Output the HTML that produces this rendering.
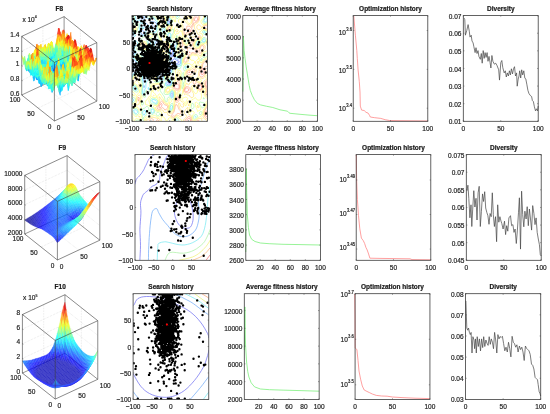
<!DOCTYPE html>
<html><head><meta charset="utf-8"><style>html,body{margin:0;padding:0;background:#fff;overflow:hidden}svg{display:block}path[class]{stroke-width:.35;stroke-linejoin:round}.j0{fill:#000087;stroke:#000087}.j1{fill:#000097;stroke:#000097}.j2{fill:#0000a7;stroke:#0000a7}.j3{fill:#0000b7;stroke:#0000b7}.j4{fill:#0000c7;stroke:#0000c7}.j5{fill:#0000d7;stroke:#0000d7}.j6{fill:#0000e7;stroke:#0000e7}.j7{fill:#0000f7;stroke:#0000f7}.j8{fill:#0008ff;stroke:#0008ff}.j9{fill:#0018ff;stroke:#0018ff}.j10{fill:#0028ff;stroke:#0028ff}.j11{fill:#0038ff;stroke:#0038ff}.j12{fill:#0048ff;stroke:#0048ff}.j13{fill:#0058ff;stroke:#0058ff}.j14{fill:#0068ff;stroke:#0068ff}.j15{fill:#0078ff;stroke:#0078ff}.j16{fill:#0087ff;stroke:#0087ff}.j17{fill:#0097ff;stroke:#0097ff}.j18{fill:#00a7ff;stroke:#00a7ff}.j19{fill:#00b7ff;stroke:#00b7ff}.j20{fill:#00c7ff;stroke:#00c7ff}.j21{fill:#00d7ff;stroke:#00d7ff}.j22{fill:#00e7ff;stroke:#00e7ff}.j23{fill:#00f7ff;stroke:#00f7ff}.j24{fill:#08fff7;stroke:#08fff7}.j25{fill:#18ffe7;stroke:#18ffe7}.j26{fill:#28ffd7;stroke:#28ffd7}.j27{fill:#38ffc7;stroke:#38ffc7}.j28{fill:#48ffb7;stroke:#48ffb7}.j29{fill:#58ffa7;stroke:#58ffa7}.j30{fill:#68ff97;stroke:#68ff97}.j31{fill:#78ff87;stroke:#78ff87}.j32{fill:#87ff78;stroke:#87ff78}.j33{fill:#97ff68;stroke:#97ff68}.j34{fill:#a7ff58;stroke:#a7ff58}.j35{fill:#b7ff48;stroke:#b7ff48}.j36{fill:#c7ff38;stroke:#c7ff38}.j37{fill:#d7ff28;stroke:#d7ff28}.j38{fill:#e7ff18;stroke:#e7ff18}.j39{fill:#f7ff08;stroke:#f7ff08}.j40{fill:#fff700;stroke:#fff700}.j41{fill:#ffe700;stroke:#ffe700}.j42{fill:#ffd700;stroke:#ffd700}.j43{fill:#ffc700;stroke:#ffc700}.j44{fill:#ffb700;stroke:#ffb700}.j45{fill:#ffa700;stroke:#ffa700}.j46{fill:#ff9700;stroke:#ff9700}.j47{fill:#ff8700;stroke:#ff8700}.j48{fill:#ff7800;stroke:#ff7800}.j49{fill:#ff6800;stroke:#ff6800}.j50{fill:#ff5800;stroke:#ff5800}.j51{fill:#ff4800;stroke:#ff4800}.j52{fill:#ff3800;stroke:#ff3800}.j53{fill:#ff2800;stroke:#ff2800}.j54{fill:#ff1800;stroke:#ff1800}.j55{fill:#ff0800;stroke:#ff0800}.j56{fill:#f70000;stroke:#f70000}.j57{fill:#e70000;stroke:#e70000}.j58{fill:#d70000;stroke:#d70000}.j59{fill:#c70000;stroke:#c70000}.j60{fill:#b70000;stroke:#b70000}.j61{fill:#a70000;stroke:#a70000}</style></head><body>
<svg width="550" height="414" viewBox="0 0 550 414" font-family="Liberation Sans, Arial, Helvetica, sans-serif" fill="#111">
<style>text{stroke:#333;stroke-width:.22px}</style>
<rect width="550" height="414" fill="#fff"/>
<clipPath id="c0"><rect x="132.00" y="15.60" width="75.40" height="105.70"/></clipPath>
<g clip-path="url(#c0)">
<path d="M169.2 21.1 168.6 21.7 169.2 22.2 169.5 21.7 169.2 21.1M171.3 49.0 171.2 49.3 170.3 50.8 170.3 52.4 170.9 53.9 171.2 55.4 171.3 56.1 172.4 56.7 172.7 55.4 172.7 53.9 172.8 52.4 172.7 50.8 172.6 49.3 172.4 48.8 171.3 49.0M132.0 54.8 133.1 53.9 133.1 53.9 133.1 52.4 133.1 52.3 132.0 51.6M173.5 59.0 172.9 60.0 172.4 60.8 172.2 61.6 172.0 63.1 172.4 64.4 172.6 64.6 173.5 65.2 174.6 65.2 175.7 64.6 175.7 64.6 176.8 63.5 177.9 63.1 178.1 63.1 179.0 62.4 179.2 61.6 179.0 61.2 177.9 60.9 176.8 60.5 176.4 60.0 175.7 59.6 174.6 58.9 173.5 59.0M169.2 68.9 168.8 69.2 168.1 70.4 168.0 70.7 168.1 71.3 168.8 72.3 169.2 72.4 169.4 72.3 170.2 71.1 170.4 70.7 170.2 70.3 169.6 69.2 169.2 68.9M169.2 81.5 168.3 83.0 169.2 83.8 170.2 83.6 170.5 83.0 170.2 82.3 169.2 81.5" fill="none" stroke="#4060ff" stroke-width="0.7" opacity="0.85"/>
<path d="M138.3 15.6 138.6 15.7 139.6 17.1 139.6 17.2 140.7 18.5 141.0 18.7 141.8 19.0 142.9 19.1 144.0 19.3 144.5 18.7 144.1 17.1 144.0 17.0 143.4 15.6M168.1 19.7 167.9 20.2 167.6 21.7 167.8 23.3 168.1 23.6 169.2 23.6 169.7 23.3 170.2 22.4 170.6 21.7 170.2 20.5 170.1 20.2 169.2 19.5 168.1 19.7M132.0 20.4 132.0 20.2 132.0 19.8M151.7 21.5 150.6 21.7 151.5 23.3 151.7 23.5 152.2 24.8 152.8 25.6 153.6 26.3 153.9 26.6 154.9 26.6 155.1 26.3 156.0 25.4 156.3 24.8 156.3 23.3 156.0 22.7 154.9 22.2 153.9 21.9 153.3 21.7 152.8 21.3 151.7 21.5M145.1 23.1 145.0 23.3 144.3 24.8 144.6 26.3 145.1 27.3 146.0 27.9 146.2 28.0 146.3 27.9 147.3 26.4 147.4 26.3 147.6 24.8 147.3 24.2 146.2 23.3 146.2 23.3 145.1 23.1M141.8 30.5 141.4 30.9 141.0 32.5 141.5 34.0 141.8 34.3 142.9 34.4 143.9 34.0 144.0 33.7 144.2 32.5 144.0 32.0 143.3 30.9 142.9 30.7 141.8 30.5M132.0 36.8 132.8 35.5 133.1 34.4 133.1 34.0 133.1 33.7 132.8 32.5 132.3 30.9 132.0 30.4M156.0 41.4 155.8 41.6 155.3 43.2 156.0 44.1 157.1 43.8 157.5 43.2 157.4 41.6 157.1 41.3 156.0 41.4M172.4 45.2 171.7 46.2 171.3 47.1 171.2 47.8 170.4 49.3 170.2 49.6 169.7 50.8 169.7 52.4 170.1 53.9 170.2 54.9 170.4 55.4 170.6 57.0 171.2 58.5 171.3 59.4 171.4 60.0 171.3 60.5 171.2 61.6 171.0 63.1 171.3 64.5 171.4 64.6 172.4 65.8 173.5 66.2 173.5 66.2 174.0 66.2 174.6 66.1 175.7 65.7 176.8 64.9 177.6 64.6 177.9 64.5 179.0 64.6 180.1 64.0 180.4 63.1 180.5 61.6 180.4 60.0 180.3 58.5 180.1 57.9 179.2 58.5 179.0 58.6 177.9 59.2 176.8 59.1 176.0 58.5 175.7 58.3 174.6 57.6 174.0 57.0 173.6 55.4 173.5 54.0 173.5 53.9 173.5 52.4 173.5 50.8 173.5 50.7 173.8 49.3 174.5 47.8 174.6 47.4 174.8 46.2 174.6 45.3 173.5 44.9 172.4 45.2M132.0 56.2 133.1 55.5 133.1 55.4 134.2 54.2 134.4 53.9 134.6 52.4 134.2 51.7 133.7 50.8 133.1 50.0 132.0 49.3M133.1 61.0 132.9 61.6 133.1 62.1 133.8 63.1 134.2 63.3 135.3 63.9 136.3 63.1 135.6 61.6 135.3 61.1 134.2 60.1 133.1 61.0M136.4 67.3 136.2 67.7 135.3 68.4 134.2 68.8 133.1 69.2 133.1 69.2 132.5 70.7 133.1 71.6 134.2 72.2 135.3 71.8 136.4 71.3 137.5 71.0 138.1 70.7 138.4 69.2 137.5 67.7 137.5 67.5 136.4 67.3M169.2 67.6 169.1 67.7 168.1 68.7 167.9 69.2 167.4 70.7 167.5 72.3 168.1 72.9 169.2 73.2 170.2 72.8 170.7 72.3 171.1 70.7 170.7 69.2 170.2 68.2 169.3 67.7 169.2 67.6M141.8 68.9 141.6 69.2 141.8 70.7 141.9 70.7 142.9 71.0 143.3 70.7 144.0 69.8 144.3 69.2 144.0 68.1 142.9 67.8 141.8 68.9M160.4 75.0 159.9 75.3 159.3 76.2 158.6 76.9 158.2 77.5 158.1 78.4 158.2 79.9 158.2 80.0 158.3 79.9 159.2 78.4 159.3 78.2 160.4 77.3 161.5 78.0 162.6 77.4 162.7 76.9 162.7 75.3 162.6 75.1 161.5 74.1 160.4 75.0M144.0 77.1 143.1 78.4 143.3 79.9 143.8 81.5 144.0 82.4 145.1 82.1 145.3 81.5 145.7 79.9 145.4 78.4 145.1 78.0 144.0 77.1M168.1 81.2 167.8 81.5 167.0 82.9 166.9 83.0 166.8 84.5 167.0 84.6 168.1 84.8 169.2 84.9 170.2 84.9 170.8 84.5 171.3 83.3 171.4 83.0 171.3 82.8 170.8 81.5 170.2 80.8 169.2 80.4 168.1 81.2M144.0 85.5 143.9 86.1 144.0 87.6 144.0 87.7 144.1 87.6 144.3 86.1 144.0 85.5M171.3 93.2 171.1 93.7 170.9 95.3 171.3 96.1 172.4 96.5 172.8 95.3 172.7 93.7 172.4 92.7 171.3 93.2M171.3 107.5 171.3 107.5 171.3 107.6 171.4 107.5 171.3 107.5" fill="none" stroke="#60a0ff" stroke-width="0.7" opacity="0.85"/>
<path d="M135.2 15.6 135.3 16.3 135.5 17.1 135.9 18.7 135.9 20.2 136.4 21.6 137.5 21.2 138.3 20.2 138.6 19.7 139.6 20.1 139.9 20.2 140.7 21.1 141.8 20.9 142.9 21.2 143.4 21.7 143.1 23.3 142.9 23.7 142.0 23.3 141.8 23.2 140.7 22.3 140.2 23.3 139.9 24.8 139.9 26.3 139.9 27.9 139.6 29.2 139.6 29.4 139.6 30.9 139.6 31.0 139.8 32.5 139.8 34.0 140.2 35.5 140.7 36.3 141.8 35.9 142.9 35.7 144.0 35.7 144.5 35.5 145.1 34.8 145.4 34.0 145.6 32.5 146.0 30.9 146.2 30.7 146.9 29.4 147.3 28.9 148.0 27.9 148.4 27.0 149.1 26.3 149.5 25.8 150.4 26.3 150.6 26.5 151.5 27.9 151.7 28.4 151.8 29.4 152.0 30.9 152.8 31.5 153.8 32.5 153.9 32.5 154.9 32.5 155.0 32.5 156.0 31.6 156.4 30.9 156.7 29.4 156.7 27.9 157.0 26.3 157.1 25.7 157.2 24.8 157.3 23.3 157.1 21.7 157.1 21.7 156.0 20.6 155.5 20.2 154.9 19.7 154.3 18.7 153.9 18.1 152.8 17.7 151.7 18.3 150.9 18.7 150.6 18.9 149.5 19.0 148.5 18.7 148.4 18.6 147.3 18.2 146.2 17.8 145.6 17.1 145.1 16.7 144.5 15.6M176.5 15.6 176.8 16.3 177.9 16.4 178.4 15.6M168.1 17.4 167.5 18.7 167.2 20.2 167.0 21.7 167.1 23.3 168.1 24.5 169.2 24.3 170.2 23.6 170.7 23.3 171.3 22.0 171.5 21.7 171.3 21.1 171.1 20.2 170.2 19.3 169.5 18.7 169.2 18.2 168.1 17.4M205.2 18.2 204.9 18.7 204.1 20.1 204.1 20.2 204.0 21.7 204.1 21.9 205.2 22.1 206.2 21.7 206.3 21.6 207.2 20.2 207.1 18.7 206.3 17.7 205.2 18.2M132.0 24.4 132.4 23.3 132.6 21.7 132.6 20.2 132.5 18.7 132.2 17.1 132.0 16.6M142.2 27.9 142.9 26.5 144.0 27.7 144.1 27.9 144.0 28.4 142.9 28.7 142.2 27.9M162.6 29.2 162.4 29.4 162.3 30.9 162.6 31.6 163.7 31.9 164.4 30.9 164.5 29.4 163.7 28.1 162.6 29.2M150.6 30.9 150.6 30.9 150.6 30.9 150.6 30.9 150.6 30.9M204.1 31.4 203.8 32.5 204.1 32.9 205.2 32.8 205.5 32.5 205.2 32.1 204.1 31.4M168.1 33.8 167.9 34.0 167.9 35.5 168.1 36.9 168.1 37.0 168.3 38.6 169.2 40.0 170.2 39.4 170.4 38.6 170.5 37.0 170.8 35.5 171.0 34.0 170.2 33.5 169.2 33.5 168.1 33.8M132.0 39.0 132.5 38.6 133.1 37.8 133.9 37.0 134.2 36.6 135.3 35.8 135.6 35.5 135.3 35.5 134.2 34.3 134.1 34.0 133.6 32.5 133.1 30.9 133.1 30.7 132.3 29.4 132.0 28.8M149.5 40.1 149.3 40.1 148.4 40.6 148.0 41.6 148.1 43.2 148.3 44.7 148.4 45.7 148.5 46.2 149.2 47.8 149.5 48.0 150.6 48.5 151.2 47.8 151.2 46.2 150.8 44.7 150.6 43.4 150.5 43.2 150.6 42.0 150.6 41.6 150.6 41.5 149.6 40.1 149.5 40.1M156.0 39.6 155.5 40.1 154.9 40.5 153.9 41.6 154.0 43.2 154.4 44.7 154.9 46.2 154.9 46.6 155.7 47.8 156.0 47.9 157.1 47.8 157.9 47.8 158.2 46.2 158.2 46.1 158.5 44.7 158.7 43.2 158.7 41.6 158.4 40.1 158.2 39.8 157.1 39.0 156.0 39.6M203.0 39.5 202.7 40.1 202.7 41.6 203.0 41.8 204.1 41.9 204.4 41.6 205.2 40.5 205.3 40.1 205.2 39.6 204.1 38.6 203.0 39.5M134.2 40.7 133.8 41.6 133.9 43.2 134.2 44.5 134.3 44.7 134.5 46.2 135.3 46.7 135.9 46.2 136.4 46.0 137.5 44.7 137.5 44.7 137.7 43.2 137.5 42.5 136.9 41.6 136.4 41.2 135.3 40.4 134.2 40.7M197.6 41.5 197.3 41.6 196.5 43.0 196.4 43.2 196.5 43.7 196.7 44.7 197.6 45.3 198.7 44.7 198.7 44.7 199.3 43.2 198.7 41.7 198.5 41.6 197.6 41.5M174.6 42.7 173.8 43.2 173.5 43.3 172.4 43.7 171.3 44.3 171.2 44.7 170.9 46.2 170.6 47.8 170.2 48.4 169.8 49.3 169.2 50.8 169.2 52.3 169.1 52.4 169.2 52.4 169.5 53.9 169.7 55.4 169.7 57.0 170.0 58.5 170.2 59.9 170.3 60.0 170.2 60.2 169.9 61.6 169.5 63.1 169.5 64.6 169.2 65.4 168.9 66.2 168.1 67.2 167.9 67.7 167.3 69.2 167.0 70.3 166.8 70.7 166.6 72.3 167.0 72.9 168.1 73.7 168.4 73.8 169.2 74.0 170.2 73.8 170.2 73.8 171.3 72.8 171.7 72.3 171.9 70.7 171.5 69.2 171.3 68.2 171.2 67.7 171.3 67.4 172.4 67.0 173.5 67.1 174.6 67.0 175.7 66.7 176.7 66.2 176.8 66.1 177.9 65.9 178.9 66.2 179.0 66.2 179.1 66.2 180.1 66.0 180.9 64.6 181.2 63.8 181.3 63.1 181.3 61.6 181.3 60.0 181.5 58.5 181.8 57.0 181.2 56.1 180.1 55.6 179.0 56.0 178.4 57.0 177.9 57.7 176.8 58.0 175.7 57.4 175.2 57.0 174.6 56.2 174.3 55.4 174.1 53.9 174.2 52.4 174.5 50.8 174.6 50.4 175.2 49.3 175.7 48.1 175.8 47.8 176.0 46.2 176.3 44.7 176.3 43.2 175.7 42.4 174.6 42.7M159.3 48.6 158.7 49.3 159.0 50.8 159.2 52.4 159.3 53.9 159.3 54.4 159.6 55.4 160.4 56.7 161.5 56.3 161.8 55.4 161.5 54.7 161.2 53.9 160.8 52.4 160.7 50.8 160.4 49.7 160.1 49.3 159.3 48.6M141.8 51.7 141.0 52.4 140.7 52.9 140.4 53.9 140.7 54.3 141.8 55.4 141.8 55.5 142.9 56.0 144.0 56.2 145.1 56.5 145.4 57.0 146.2 57.8 147.0 58.5 147.3 58.7 148.4 58.6 148.5 58.5 148.8 57.0 148.7 55.4 148.4 54.8 147.6 53.9 147.3 53.6 146.2 52.6 146.0 52.4 145.1 51.9 144.0 51.7 142.9 51.6 141.8 51.7M132.0 58.1 133.1 57.0 133.1 57.0 134.2 55.8 134.4 55.4 135.3 54.1 135.5 53.9 136.2 52.4 135.4 50.8 135.3 50.6 134.6 49.3 134.4 47.8 134.2 47.0 133.1 47.0 132.0 46.7M132.0 63.0 132.0 63.1 133.1 63.9 134.1 64.6 134.2 64.7 135.0 66.2 134.2 67.3 133.6 67.7 133.1 67.9 132.0 68.3M153.9 67.6 153.3 67.7 152.8 68.5 152.7 69.2 152.8 69.4 153.9 69.7 154.2 69.2 153.9 67.7 153.9 67.6M185.5 66.5 185.0 67.7 185.5 68.5 186.3 67.7 185.5 66.5M159.3 73.8 159.2 73.8 158.2 74.4 157.8 75.3 157.5 76.9 157.2 78.4 157.1 78.5 156.7 79.9 156.6 81.5 157.1 81.7 158.2 81.5 158.3 81.5 159.3 80.8 160.4 80.5 161.5 81.2 162.6 80.8 163.2 79.9 163.7 78.5 163.7 78.4 163.7 76.9 163.7 75.8 163.7 75.3 163.4 73.8 162.6 72.8 161.5 72.4 160.4 73.0 159.3 73.8M144.0 75.3 143.9 75.3 142.9 75.8 142.4 76.9 142.1 78.4 142.3 79.9 142.7 81.5 142.9 82.5 143.1 83.0 143.1 84.5 142.9 85.9 142.9 86.1 142.7 87.6 142.7 89.1 142.6 90.7 142.5 92.2 142.7 93.7 142.9 94.3 144.0 93.8 144.0 93.7 144.0 92.2 144.3 90.7 145.0 89.1 145.1 88.9 145.8 87.6 145.9 86.1 145.9 84.5 146.1 83.0 146.2 82.7 146.9 81.5 147.3 80.5 147.7 79.9 147.8 78.4 147.3 78.1 146.2 77.2 146.0 76.9 145.1 75.8 144.1 75.3 144.0 75.3M132.0 77.3 132.2 76.9 132.3 75.3 132.8 73.8 133.1 73.7 134.2 73.5 135.3 73.2 136.4 72.8 137.5 72.6 138.6 72.4 138.9 72.3 139.6 72.0 140.7 71.9 141.7 72.3 141.8 72.3 142.9 72.6 143.4 72.3 144.0 71.9 144.8 70.7 145.1 70.0 145.4 69.2 145.5 67.7 145.1 66.2 145.1 66.2 144.7 64.6 144.5 63.1 144.0 62.3 143.0 61.6 142.9 61.5 142.9 61.6 141.8 62.4 141.3 63.1 140.7 64.5 140.6 64.6 140.7 64.8 141.1 66.2 140.7 67.4 140.4 67.7 139.6 67.9 139.5 67.7 139.0 66.2 139.1 64.6 138.6 64.2 137.9 63.1 137.5 62.8 136.6 61.6 136.4 61.3 135.5 60.0 135.3 59.7 134.2 58.7 133.1 58.6 132.0 59.8M168.1 79.9 168.0 79.9 167.0 81.4 166.8 81.5 165.9 82.5 165.5 83.0 165.4 84.5 165.9 85.6 167.0 85.8 168.1 85.6 169.2 85.6 170.2 85.6 171.3 85.0 171.7 84.5 172.0 83.0 171.7 81.5 171.3 80.7 170.6 79.9 170.2 79.6 169.2 79.3 168.1 79.9M134.2 86.0 134.1 86.1 133.4 87.6 133.7 89.1 134.2 89.7 135.3 90.2 136.4 90.4 137.0 89.1 136.4 87.6 136.4 87.6 135.3 86.2 134.9 86.1 134.2 86.0M148.4 87.4 148.3 87.6 148.1 89.1 148.4 89.5 149.0 89.1 148.7 87.6 148.4 87.4M162.6 89.1 162.6 89.1 162.6 89.2 162.6 89.1 162.6 89.1M171.3 91.6 170.9 92.2 170.2 93.6 170.2 93.7 169.8 95.3 170.2 96.1 170.6 96.8 171.3 97.5 172.4 98.1 173.4 96.8 173.5 95.8 173.6 95.3 173.5 93.7 173.5 93.5 173.3 92.2 172.4 91.3 171.3 91.6M152.8 99.4 152.0 99.9 151.9 101.4 152.8 102.1 153.9 102.4 154.6 102.9 154.9 103.0 156.0 103.5 157.0 102.9 157.0 101.4 156.0 100.4 154.9 99.9 154.9 99.9 153.9 99.6 152.8 99.4M132.0 101.7 133.0 101.4 133.1 101.2 133.9 99.9 133.1 99.4 132.4 98.3 132.0 97.7M171.3 105.1 170.8 106.0 170.2 107.3 170.2 107.5 170.2 109.0 170.2 109.1 171.3 109.6 171.8 109.0 172.4 107.8 172.5 107.5 172.5 106.0 172.4 105.8 171.3 105.1M203.0 105.8 202.9 106.0 203.0 106.0 203.1 106.0 203.0 105.8M152.8 109.0 152.2 109.0 151.7 109.1 151.1 110.6 151.4 112.1 151.7 112.7 152.8 113.2 153.7 112.1 153.9 111.6 154.0 110.6 153.9 110.3 152.8 109.0 152.8 109.0M134.2 110.1 133.4 110.6 134.2 111.9 134.3 112.1 135.3 113.3 136.1 113.6 136.4 113.7 136.5 113.6 137.5 112.4 137.6 112.1 137.5 111.9 137.0 110.6 136.4 109.8 135.3 109.8 134.2 110.1M144.0 110.3 143.7 110.6 142.9 111.5 142.7 112.1 142.8 113.6 142.9 114.0 143.9 115.2 144.0 115.3 144.1 115.2 145.1 113.6 145.1 113.6 145.6 112.1 145.3 110.6 145.1 110.5 144.0 110.3M195.4 116.3 194.9 116.7 195.4 117.3 196.0 116.7 195.4 116.3M176.8 119.5 176.5 119.8 176.8 120.5 177.0 119.8 176.8 119.5M141.7 121.3 140.7 121.3 140.3 121.3" fill="none" stroke="#50e8ff" stroke-width="0.7" opacity="0.85"/>
<path d="M134.0 15.6 134.2 17.1 134.2 17.1 134.5 18.7 134.6 20.2 134.4 21.7 134.2 22.5 134.0 21.7 133.6 20.2 133.4 18.7 133.1 17.8 133.0 17.1 132.7 15.6M165.6 15.6 165.9 16.1 166.2 17.1 166.6 18.7 166.6 20.2 166.5 21.7 166.5 23.3 166.7 24.8 167.0 25.1 168.1 25.3 169.2 25.0 169.6 24.8 170.2 24.4 171.3 23.5 171.9 23.3 172.4 22.3 172.7 21.7 172.4 21.1 172.2 20.2 171.3 19.4 170.7 18.7 170.2 18.2 169.4 17.1 169.2 16.4 168.8 15.6M175.5 15.6 175.7 16.2 176.1 17.1 176.8 18.6 177.9 18.4 179.0 17.1 179.0 17.1 180.0 15.6M207.4 17.4 207.2 17.1 206.3 15.6 205.2 16.3 204.9 17.1 204.1 18.3 203.9 18.7 203.2 20.2 203.0 20.9 202.8 21.7 203.0 22.5 203.6 23.3 204.1 23.4 205.0 23.3 205.2 23.2 206.3 22.7 207.4 21.8M133.9 24.8 134.2 23.9 135.3 23.9 136.4 24.1 137.5 23.6 138.6 23.8 138.8 24.8 138.8 26.3 138.6 27.1 138.2 27.9 137.5 29.1 137.4 29.4 137.1 30.9 136.8 32.5 136.4 33.0 135.3 33.5 134.3 32.5 134.2 32.3 133.7 30.9 133.2 29.4 133.1 28.7 132.7 27.9 133.0 26.3 133.1 26.2 133.9 24.8M163.7 26.2 163.6 26.3 162.6 27.2 162.1 27.9 161.5 28.8 161.0 29.4 160.9 30.9 161.4 32.5 161.5 32.6 162.6 34.0 162.6 34.0 162.6 34.0 163.7 33.6 164.8 33.0 165.9 32.8 166.4 34.0 166.9 35.5 166.9 37.0 166.4 38.6 166.0 40.1 167.0 40.4 168.1 40.9 169.0 41.6 169.2 41.8 170.2 43.2 170.2 43.2 170.3 44.7 170.3 46.2 170.2 46.6 170.0 47.8 169.3 49.3 169.2 49.7 168.5 50.8 168.4 52.4 168.7 53.9 168.9 55.4 168.7 57.0 168.9 58.5 168.7 60.0 168.1 60.9 167.7 61.6 167.5 63.1 167.6 64.6 167.5 66.2 167.2 67.7 167.0 68.4 166.7 69.2 166.2 70.7 165.9 71.9 165.4 72.3 165.9 73.2 166.2 73.8 167.0 74.2 168.1 74.6 169.2 74.9 170.2 75.0 171.3 74.5 171.9 73.8 172.4 73.1 173.1 72.3 172.9 70.7 172.4 69.4 172.4 69.2 172.4 69.1 173.5 68.2 174.6 68.1 175.7 67.8 176.6 67.7 176.8 67.7 176.9 67.7 177.9 68.3 179.0 69.0 180.1 68.6 180.5 67.7 181.2 66.3 181.2 66.2 181.8 64.6 182.0 63.1 181.9 61.6 181.9 60.0 182.3 58.8 182.4 58.5 183.1 57.0 183.4 56.6 184.2 55.4 184.1 53.9 183.4 53.4 182.4 53.9 182.3 54.0 181.2 54.5 180.1 54.3 179.0 54.4 178.2 55.4 177.9 56.0 176.8 57.0 176.8 57.0 176.8 57.0 175.7 56.4 175.0 55.4 174.8 53.9 175.0 52.4 175.7 50.8 175.7 50.8 176.5 49.3 176.7 47.8 176.8 47.1 176.9 46.2 177.4 44.7 177.7 43.2 177.3 41.6 176.8 40.1 176.8 40.1 175.7 39.4 175.0 40.1 174.6 40.3 173.5 40.9 172.6 41.6 172.4 41.7 172.1 41.6 172.1 40.1 171.9 38.6 171.7 37.0 171.9 35.5 172.4 34.3 172.6 34.0 173.4 32.5 173.5 32.1 173.7 30.9 173.5 29.4 173.5 29.4 172.4 29.0 172.2 29.4 171.3 30.8 171.3 30.9 170.2 32.1 169.2 32.4 168.1 32.4 167.0 32.2 165.9 30.9 165.9 30.5 165.7 29.4 165.7 27.9 165.1 26.3 164.8 26.2 163.7 26.2M203.0 30.6 202.7 30.9 202.7 32.5 203.0 33.0 203.7 34.0 204.1 34.5 205.2 34.5 205.9 34.0 206.3 33.4 207.1 32.5 206.3 31.8 205.8 30.9 205.2 30.6 204.1 30.3 203.0 30.6M146.5 34.0 147.3 32.7 148.4 32.7 149.5 33.0 150.6 32.9 151.7 32.9 152.8 33.4 153.5 34.0 153.9 34.4 154.9 35.1 155.4 35.5 155.7 37.0 155.0 38.6 154.9 38.6 153.9 38.8 153.0 38.6 152.8 38.5 151.9 38.6 151.7 38.6 150.6 38.7 149.5 38.6 148.4 38.7 147.3 39.6 147.1 40.1 146.9 41.6 147.2 43.2 147.3 43.3 147.7 44.7 147.9 46.2 148.2 47.8 148.4 48.2 149.5 49.3 149.5 49.3 150.4 50.8 150.2 52.4 149.5 53.6 148.4 52.9 147.8 52.4 147.3 51.8 146.3 50.8 146.2 50.8 145.1 50.5 144.0 50.4 142.9 50.1 141.8 49.5 140.7 50.0 139.9 50.8 139.6 51.0 138.6 51.1 138.1 50.8 137.5 50.4 136.6 49.3 136.8 47.8 137.5 46.8 137.8 46.2 138.5 44.7 138.6 44.5 138.9 43.2 139.6 41.7 139.7 41.6 140.7 40.4 141.1 40.1 141.8 38.6 141.9 38.6 142.9 37.1 144.0 37.1 144.7 37.0 145.1 37.0 146.1 35.5 146.2 35.1 146.5 34.0M176.8 35.4 176.7 35.5 176.3 37.0 176.8 38.3 177.1 37.0 177.0 35.5 176.8 35.4M203.0 37.8 202.5 38.6 201.9 39.8 201.8 40.1 200.8 41.6 199.8 41.5 198.7 40.9 197.6 40.6 196.5 41.3 196.2 41.6 195.6 43.2 195.4 44.7 195.4 44.7 195.4 44.7 196.5 46.2 196.6 46.2 197.6 46.6 198.4 46.2 198.7 46.1 199.5 44.7 199.8 44.1 200.6 43.2 200.8 41.8 201.9 42.8 203.0 42.9 204.1 42.8 205.2 42.2 205.5 41.6 206.1 40.1 206.1 38.6 205.2 37.6 204.1 37.4 203.0 37.8M185.5 39.9 185.3 40.1 184.9 41.6 185.5 43.2 185.6 43.2 186.6 43.5 187.0 43.2 187.7 41.8 187.8 41.6 187.7 41.2 187.3 40.1 186.6 39.7 185.5 39.9M132.0 41.5 132.1 41.6 132.4 43.2 132.0 43.9M152.4 43.2 152.8 43.1 152.8 43.2 153.2 44.7 153.0 46.2 152.8 46.8 152.6 46.2 151.8 44.7 152.4 43.2M207.4 52.4 207.4 52.4 206.3 53.3 205.2 53.4 204.1 53.4 203.6 53.9 203.0 55.1 202.9 55.4 202.8 57.0 203.0 57.4 204.1 57.4 205.2 57.3 205.9 57.0 206.3 56.7 207.4 55.7M201.9 58.3 201.7 58.5 200.8 59.3 200.6 60.0 200.8 60.6 201.9 60.3 202.1 60.0 202.1 58.5 201.9 58.3M132.0 65.9 132.5 66.2 132.0 66.2M184.5 66.0 184.4 66.2 183.8 67.7 183.7 69.2 184.1 70.7 184.5 71.0 184.7 70.7 185.5 70.2 186.4 69.2 186.6 69.0 187.7 68.0 188.5 67.7 188.8 67.0 189.2 66.2 188.8 65.7 187.7 65.0 186.6 64.7 185.5 65.1 184.5 66.0M183.4 72.3 183.4 72.3 182.3 73.3 182.1 73.8 181.9 75.3 182.0 76.9 182.1 78.4 182.2 79.9 182.3 80.1 182.7 81.5 183.1 83.0 182.3 84.5 182.3 84.5 182.0 86.1 182.0 87.6 182.3 88.7 182.7 87.6 183.4 86.4 183.5 86.1 183.5 84.5 183.5 83.0 184.5 81.9 184.6 81.5 184.8 79.9 184.5 79.0 184.0 78.4 183.5 76.9 183.6 75.3 183.6 73.8 183.4 72.3 183.4 72.3M173.5 78.4 173.4 78.4 173.5 78.6 173.6 78.4 173.5 78.4M132.0 78.9 132.3 78.4 132.9 76.9 133.1 76.3 133.6 75.3 134.2 74.8 135.3 74.3 136.4 74.0 137.5 73.9 137.9 73.8 138.6 73.8 139.6 73.5 140.7 73.6 141.1 73.8 141.6 75.3 141.3 76.9 141.2 78.4 141.1 79.9 141.3 81.5 141.8 82.2 142.1 83.0 142.3 84.5 142.2 86.1 142.1 87.6 141.8 89.0 141.8 89.1 141.5 90.7 141.3 92.2 141.5 93.7 141.8 94.5 142.2 95.3 142.9 96.4 143.6 96.8 144.0 97.1 145.1 97.2 145.6 96.8 145.5 95.3 145.1 93.7 145.1 93.7 145.1 92.2 145.1 92.1 145.9 90.7 146.2 90.2 146.7 90.7 147.3 91.1 148.3 92.2 148.4 92.4 148.7 92.2 149.5 91.9 150.0 90.7 150.5 89.1 150.3 87.6 149.9 86.1 149.6 84.5 149.5 83.0 149.5 82.2 149.4 81.5 149.5 80.8 149.5 79.9 150.1 78.4 150.6 77.8 151.7 77.1 151.8 76.9 152.6 75.3 152.8 74.6 153.0 73.8 153.8 72.3 153.9 72.3 154.9 71.9 156.0 71.9 156.7 72.3 156.8 73.8 156.9 75.3 156.9 76.9 156.7 78.4 156.0 79.8 155.9 79.9 154.9 81.4 154.4 81.5 154.9 81.9 156.0 82.6 157.1 82.6 158.2 82.4 159.3 82.1 160.4 82.5 161.0 83.0 161.5 83.5 162.6 83.1 162.8 83.0 163.7 82.6 163.9 83.0 164.3 84.5 164.5 86.1 163.7 87.1 162.6 87.0 161.7 87.6 161.5 87.7 160.7 89.1 160.4 90.3 160.3 90.7 160.4 90.9 161.1 92.2 161.5 92.7 162.3 93.7 162.6 94.4 163.3 95.3 163.7 95.7 164.3 96.8 164.7 98.3 164.8 99.6 164.8 99.9 165.5 101.4 165.9 101.7 167.0 101.7 167.3 101.4 167.2 99.9 167.4 98.3 168.1 97.4 169.2 96.9 170.2 97.6 171.1 98.3 171.3 98.6 172.4 99.6 173.5 99.2 173.8 98.3 174.1 96.8 174.2 95.3 174.1 93.7 174.0 92.2 173.5 91.1 173.1 90.7 172.4 90.3 171.3 90.4 171.1 90.7 170.2 91.9 170.1 92.2 169.2 93.7 169.1 93.7 168.1 94.5 167.0 94.5 165.9 94.5 164.8 94.4 164.3 93.7 164.1 92.2 164.5 90.7 164.8 89.5 164.9 89.1 165.2 87.6 165.9 87.3 167.0 86.8 168.1 86.4 169.2 86.3 170.2 86.4 171.0 86.1 171.3 85.9 172.3 84.5 172.4 84.0 172.6 83.0 172.6 81.5 172.8 79.9 172.4 79.6 171.3 78.9 170.4 78.4 170.2 78.3 169.2 78.3 169.0 78.4 168.1 78.8 167.0 79.9 167.0 80.0 165.9 80.9 164.8 80.5 164.7 79.9 164.6 78.4 164.5 76.9 164.6 75.3 164.8 73.9 164.9 73.8 164.8 73.7 164.1 72.3 163.7 72.0 162.6 71.3 161.5 70.9 160.4 71.0 159.3 71.5 158.2 72.0 157.1 71.8 156.8 70.7 156.2 69.2 156.0 69.0 155.5 67.7 154.9 66.3 154.9 66.2 153.9 65.1 152.8 65.0 152.2 66.2 151.7 67.2 151.5 67.7 151.3 69.2 151.7 70.5 151.8 70.7 152.3 72.3 151.7 72.7 150.6 73.8 150.6 73.8 149.5 75.0 149.0 75.3 148.4 75.9 147.3 76.0 146.6 75.3 146.2 74.9 145.5 73.8 145.4 72.3 145.8 70.7 146.2 69.6 146.4 69.2 146.8 67.7 146.9 66.2 147.2 64.6 147.2 63.1 146.2 62.6 145.4 61.6 145.1 61.3 144.0 60.3 143.1 60.0 142.9 59.9 142.9 60.0 141.8 60.8 141.2 61.6 140.7 62.2 139.6 62.8 138.6 62.5 137.5 61.6 137.5 61.6 136.4 60.1 136.3 60.0 135.3 58.6 135.2 58.5 134.6 57.0 135.3 55.4 135.3 55.4 136.4 54.3 137.5 54.0 138.6 54.4 139.6 55.2 139.9 55.4 140.7 55.9 141.8 56.7 142.3 57.0 142.9 57.7 144.0 57.9 145.1 58.4 145.2 58.5 146.2 59.7 146.7 60.0 147.3 61.0 147.6 61.6 147.3 63.1 148.4 64.2 149.5 64.1 150.6 63.7 151.7 63.2 151.7 63.1 152.1 61.6 151.9 60.0 151.7 59.8 150.6 58.7 150.4 58.5 149.8 57.0 149.9 55.4 150.6 54.0 151.7 54.4 152.8 54.2 152.9 53.9 153.3 52.4 153.6 50.8 153.9 50.2 154.9 50.0 156.0 49.9 157.1 49.9 157.9 50.8 158.2 51.5 158.4 52.4 158.5 53.9 158.4 55.4 158.3 57.0 158.2 57.2 157.8 58.5 157.9 60.0 158.2 60.9 158.6 61.6 159.3 62.5 160.4 63.0 161.0 61.6 161.1 60.0 161.5 58.8 161.6 58.5 162.6 57.5 163.6 57.0 163.6 55.4 162.6 54.6 162.2 53.9 161.7 52.4 161.6 50.8 161.5 50.4 161.3 49.3 160.4 47.8 160.3 47.8 159.6 46.2 159.6 44.7 159.7 43.2 159.6 41.6 159.4 40.1 159.3 40.0 158.8 38.6 158.2 37.3 158.0 37.0 157.5 35.5 157.3 34.0 157.5 32.5 158.0 30.9 158.2 29.4 158.0 27.9 157.9 26.3 157.9 24.8 158.0 23.3 158.2 21.7 157.6 20.2 157.1 19.6 156.0 18.7 156.0 18.7 154.9 17.3 154.8 17.1 153.9 16.3 152.8 16.4 151.7 17.0 151.4 17.1 150.6 17.6 149.5 17.5 149.1 17.1 148.4 16.4 147.3 15.7 146.2 15.8 146.0 15.6M133.1 86.0 133.0 86.1 132.6 87.6 132.6 89.1 133.1 90.1 133.6 90.7 134.2 91.1 135.3 91.6 136.4 92.1 137.5 92.0 138.2 90.7 138.0 89.1 137.5 88.1 137.2 87.6 136.4 86.3 136.2 86.1 135.3 84.9 134.2 84.8 133.1 86.0M194.3 89.0 194.2 89.1 194.3 89.3 194.4 89.1 194.3 89.0M180.1 93.1 179.3 93.7 179.7 95.3 180.1 95.5 180.4 95.3 181.0 93.7 180.1 93.1M151.7 98.3 151.6 98.3 150.6 99.9 150.6 100.2 150.3 101.4 150.6 102.1 150.9 102.9 151.7 104.0 152.8 104.0 153.9 103.9 154.9 104.2 155.5 104.4 156.0 104.6 156.6 104.4 157.1 104.2 157.9 102.9 158.0 101.4 157.3 99.9 157.1 99.7 156.0 99.0 154.9 98.8 153.9 98.4 153.7 98.3 152.8 98.0 151.7 98.3M203.0 98.2 203.0 98.3 203.0 98.4 204.1 99.0 204.5 98.3 204.1 97.8 203.0 98.2M141.8 101.6 141.5 102.9 141.6 104.4 141.8 104.9 142.9 104.9 143.1 104.4 143.6 102.9 142.9 101.4 141.8 101.6M199.8 102.0 199.2 102.9 199.7 104.4 199.8 104.6 200.5 106.0 200.8 106.5 201.9 107.5 201.9 107.5 203.0 108.1 203.6 107.5 204.1 107.0 204.6 106.0 204.9 104.4 204.1 103.0 203.9 102.9 203.0 102.6 201.9 102.6 200.8 102.1 199.8 102.0M132.0 103.1 132.4 102.9 133.1 102.6 134.2 102.2 134.9 101.4 135.3 100.6 135.5 99.9 135.3 98.4 135.2 98.3 134.2 97.9 133.1 97.5 132.6 96.8 132.0 95.9M171.3 103.6 170.7 104.4 170.2 105.1 170.0 106.0 169.6 107.5 169.4 109.0 170.0 110.6 170.2 110.8 171.3 110.9 171.7 110.6 172.4 109.6 172.7 109.0 173.0 107.5 173.1 106.0 172.9 104.4 172.4 103.2 171.3 103.6M192.1 103.1 191.7 104.4 191.4 106.0 191.2 107.5 192.1 108.7 193.2 108.2 194.0 107.5 194.1 106.0 193.6 104.4 193.2 103.6 192.1 103.1M150.6 108.6 150.2 109.0 149.9 110.6 150.4 112.1 150.6 112.5 151.0 113.6 151.7 114.5 152.8 114.7 153.8 113.6 153.9 113.5 154.8 112.1 154.8 110.6 154.1 109.0 153.9 108.7 152.8 107.8 151.7 107.6 150.6 108.6M132.0 111.2 132.7 112.1 133.1 112.5 134.1 113.6 134.2 113.7 135.3 114.7 136.4 115.0 137.5 114.5 138.5 113.6 138.6 113.3 138.9 112.1 138.6 111.6 138.1 110.6 137.5 109.3 137.2 109.0 136.4 108.3 135.3 108.5 134.2 108.6 133.1 108.5 132.0 108.6M199.8 112.0 199.7 112.1 199.3 113.6 199.8 114.6 200.8 114.7 201.9 113.7 202.0 113.6 202.0 112.1 201.9 112.0 200.8 111.5 199.8 112.0M157.1 112.3 156.1 113.6 156.5 115.2 157.1 115.8 158.2 115.9 159.1 115.2 159.3 114.7 159.8 113.6 159.3 112.8 158.2 112.1 157.1 112.3M195.4 114.5 194.4 115.2 194.3 115.2 193.2 116.7 193.3 118.2 194.3 119.1 195.4 118.9 196.4 118.2 196.5 118.2 197.5 116.7 197.2 115.2 196.5 114.7 195.4 114.5M143.8 121.3 143.1 119.8 143.0 118.2 144.0 117.7 144.7 116.7 145.1 116.2 146.1 115.2 146.2 114.8 146.8 113.6 147.3 112.6 147.5 112.1 148.4 110.6 148.4 110.4 148.9 109.0 148.4 107.8 148.3 107.5 147.3 106.4 146.2 106.6 145.5 107.5 145.1 108.1 144.0 108.2 142.9 108.6 142.8 109.0 142.2 110.6 141.8 111.6 141.6 112.1 141.8 113.6 141.8 113.8 142.3 115.2 142.6 116.7 142.9 118.2 141.8 119.6 141.6 119.8 140.7 120.0 139.6 120.2 138.6 120.3 137.5 120.1 136.4 120.2 135.5 121.3M178.9 121.3 178.7 119.8 177.9 118.4 177.7 118.2 176.8 117.6 175.7 118.1 175.6 118.2 175.0 119.8 175.5 121.3" fill="none" stroke="#a0f8a0" stroke-width="0.7" opacity="0.85"/>
<path d="M152.3 15.6 151.7 16.0 150.6 16.6 149.5 16.3 148.9 15.6M161.4 15.6 161.5 15.7 162.6 16.0 163.7 16.2 164.8 16.7 165.1 17.1 165.9 18.6 165.9 18.7 166.1 20.2 166.0 21.7 165.9 23.3 165.9 23.4 164.9 24.8 164.8 24.9 163.7 25.0 162.6 25.5 162.0 26.3 161.5 27.0 160.5 27.9 160.4 28.0 159.9 27.9 159.3 27.7 158.7 26.3 158.6 24.8 158.8 23.3 159.2 21.7 158.9 20.2 158.2 19.1 157.8 18.7 157.1 17.9 156.3 17.1 156.0 16.9 155.1 15.6M174.6 15.6 174.6 15.6 175.1 17.1 175.2 18.7 175.2 20.2 175.7 21.4 175.8 21.7 175.7 21.9 174.6 22.0 174.5 21.7 174.2 20.2 173.5 19.8 172.4 19.2 171.8 18.7 171.3 18.2 170.5 17.1 170.4 15.6M203.6 15.6 203.6 17.1 203.0 18.4 202.8 18.7 201.9 20.0 201.2 20.2 200.9 21.7 201.3 23.3 201.9 24.1 203.0 24.4 204.1 24.3 205.2 24.0 206.3 23.7 207.2 23.3 207.4 23.2M171.1 24.8 171.3 24.6 172.0 24.8 172.4 25.8 172.6 26.3 172.4 26.5 172.1 27.9 171.4 29.4 171.3 29.4 170.5 30.9 170.2 31.2 169.2 31.7 168.1 31.5 167.2 30.9 167.0 30.4 166.6 29.4 166.6 27.9 167.0 27.0 167.5 26.3 168.1 26.1 169.2 25.7 170.2 25.1 171.1 24.8M134.8 26.3 135.3 26.1 135.9 26.3 136.4 26.8 136.7 27.9 136.5 29.4 136.4 30.3 136.2 30.9 135.3 32.2 134.3 30.9 134.2 30.7 133.8 29.4 133.7 27.9 134.2 26.6 134.8 26.3M207.4 30.4 206.3 30.4 205.2 30.0 204.1 29.5 203.0 29.4 201.9 30.1 201.0 30.9 200.8 31.3 199.8 31.9 199.2 32.5 199.8 33.0 200.8 33.4 201.9 33.8 202.0 34.0 202.7 35.5 202.0 37.0 201.9 37.3 201.6 38.6 200.9 40.1 200.8 40.2 199.8 40.5 198.8 40.1 198.7 40.1 197.6 39.7 196.8 40.1 196.5 40.3 195.5 41.6 195.4 42.0 194.8 43.2 194.3 44.7 194.3 46.0 194.3 46.2 194.3 46.3 195.4 47.0 196.5 47.2 197.6 47.6 198.7 47.4 199.3 46.2 199.8 45.6 200.3 44.7 200.8 44.1 201.9 43.8 203.0 43.8 204.1 43.8 205.2 43.6 205.5 43.2 206.3 41.6 206.3 41.5 206.8 40.1 207.3 38.6 207.4 38.2M159.2 34.0 159.3 33.3 160.3 34.0 160.4 34.0 160.8 35.5 161.1 37.0 161.1 38.6 161.5 39.8 161.5 40.1 161.8 41.6 162.6 42.4 163.7 42.2 164.8 41.8 165.9 41.7 167.0 41.7 168.1 42.0 169.2 43.1 169.2 43.2 169.7 44.7 169.8 46.2 169.5 47.8 169.2 48.5 168.5 49.3 168.1 50.2 167.6 50.8 167.3 52.4 167.0 53.3 165.9 53.6 165.1 53.9 164.8 54.0 163.7 54.0 163.5 53.9 162.6 52.8 162.4 52.4 162.3 50.8 162.3 49.3 161.6 47.8 161.5 47.6 160.8 46.2 160.8 44.7 161.2 43.2 161.2 41.6 160.9 40.1 160.4 40.0 160.1 38.6 159.5 37.0 159.3 36.6 159.1 35.5 159.2 34.0M147.5 35.5 148.4 34.7 149.5 34.4 150.6 34.1 151.7 34.2 152.7 35.5 152.1 37.0 151.7 37.2 150.6 37.5 149.5 37.3 148.4 37.0 148.4 37.0 147.5 35.5M163.5 35.5 163.7 35.3 164.8 34.6 165.9 35.4 165.9 35.5 165.9 36.4 165.8 37.0 164.8 37.9 163.8 37.0 163.7 36.5 163.5 35.5M140.7 41.6 140.7 41.6 141.8 40.8 142.9 40.8 144.0 41.4 144.8 41.6 145.1 41.7 146.2 42.5 146.4 43.2 147.0 44.7 147.3 46.2 147.3 47.3 147.3 47.8 147.3 47.9 146.3 49.3 146.2 49.3 145.1 49.5 144.0 49.4 143.8 49.3 142.9 48.8 141.8 47.8 141.7 47.8 140.7 47.4 139.6 47.7 139.3 46.2 139.4 44.7 139.6 43.8 139.8 43.2 140.7 41.6M207.4 50.0 206.9 50.8 206.3 51.4 205.2 51.8 204.1 51.7 203.2 52.4 203.0 52.5 202.5 53.9 201.9 55.4 201.9 55.4 200.9 57.0 200.8 57.1 199.8 58.0 198.8 58.5 199.2 60.0 199.8 61.3 199.9 61.6 200.8 62.9 201.9 62.3 202.4 61.6 203.0 60.4 203.2 60.0 204.1 58.9 205.2 58.5 205.2 58.5 206.3 58.0 207.4 57.1M154.5 52.4 154.9 51.8 156.0 51.3 157.1 51.5 157.6 52.4 157.6 53.9 157.3 55.4 157.1 56.1 156.7 57.0 156.1 58.5 156.5 60.0 157.1 61.3 157.2 61.6 157.8 63.1 158.2 64.4 158.4 64.6 158.2 65.2 157.4 66.2 157.1 66.3 157.1 66.2 156.0 64.8 155.9 64.6 154.9 64.1 153.9 63.1 153.8 63.1 153.4 61.6 153.6 60.0 152.9 58.5 152.8 58.2 151.7 57.3 151.4 57.0 151.7 56.7 152.8 56.4 153.5 55.4 153.9 54.7 154.1 53.9 154.5 52.4M136.9 55.4 137.5 55.3 137.6 55.4 138.6 55.9 139.6 56.4 140.5 57.0 140.7 57.2 141.7 58.5 141.3 60.0 140.7 60.8 139.9 61.6 139.6 61.7 138.8 61.6 138.6 61.5 137.5 60.5 137.1 60.0 136.4 58.8 136.1 58.5 135.6 57.0 136.4 55.5 136.9 55.4M163.3 58.5 163.7 58.2 164.8 58.2 165.2 58.5 165.9 59.4 166.1 60.0 166.2 61.6 166.2 63.1 166.1 64.6 166.1 66.2 166.3 67.7 166.0 69.2 165.9 69.7 164.9 70.7 164.8 70.9 164.5 70.7 163.7 70.3 162.6 69.5 161.7 69.2 161.5 69.0 160.6 67.7 161.5 66.4 162.6 66.7 163.7 66.5 164.0 66.2 163.7 65.9 162.8 64.6 162.6 64.5 162.1 63.1 161.9 61.6 162.1 60.0 162.6 59.1 163.3 58.5M147.6 69.2 148.4 68.3 149.5 68.0 149.9 69.2 150.5 70.7 150.4 72.3 149.5 73.5 149.2 73.8 148.4 74.4 147.3 74.2 147.0 73.8 146.6 72.3 146.8 70.7 147.3 69.5 147.6 69.2M153.5 75.3 153.9 74.5 154.9 73.8 156.0 74.8 156.2 75.3 156.4 76.9 156.1 78.4 156.0 78.7 155.1 79.9 154.9 80.1 153.9 80.3 153.1 79.9 152.8 79.6 152.1 78.4 152.8 77.0 152.8 76.9 153.5 75.3M166.0 75.3 167.0 75.2 167.5 75.3 168.1 75.7 168.8 76.9 168.1 77.4 167.0 78.4 167.0 78.4 165.9 78.6 165.8 78.4 165.5 76.9 165.9 75.4 166.0 75.3M207.4 75.8 206.3 75.5 205.6 76.9 206.1 78.4 206.3 78.5 206.5 78.4 207.4 77.4M196.5 78.0 196.5 78.4 196.5 78.4 197.0 79.9 197.6 81.0 198.0 81.5 198.7 81.8 199.8 81.8 200.8 81.6 201.1 81.5 201.3 79.9 200.8 79.6 199.8 78.8 199.2 78.4 198.7 78.0 197.6 77.2 196.5 78.0M132.0 79.9 133.0 78.4 133.1 78.2 133.7 76.9 134.2 76.1 135.2 75.3 135.3 75.3 136.4 75.1 137.5 75.2 138.2 75.3 138.6 75.5 139.6 76.0 140.0 76.9 139.9 78.4 139.6 78.8 138.7 79.9 138.6 80.2 138.0 81.5 138.6 82.5 139.1 83.0 139.6 83.2 140.7 83.5 141.3 84.5 141.5 86.1 141.3 87.6 141.0 89.1 140.7 90.0 140.0 90.7 139.9 92.2 140.5 93.7 140.7 94.1 141.2 95.3 141.8 96.8 141.8 96.9 142.1 98.3 141.8 98.6 141.2 99.9 140.7 100.6 140.5 101.4 140.3 102.9 140.1 104.4 140.5 106.0 140.7 106.3 141.5 107.5 141.6 109.0 141.0 110.6 140.7 111.1 139.6 111.1 139.3 110.6 138.6 109.6 138.3 109.0 137.8 107.5 137.5 107.0 136.4 106.9 135.3 107.5 135.1 107.5 134.2 107.7 133.5 107.5 133.1 107.3 132.0 106.5M193.2 86.8 192.4 87.6 192.4 89.1 193.1 90.7 193.2 90.8 194.2 92.2 194.3 92.4 195.4 93.7 196.5 93.4 197.4 92.2 197.5 90.7 196.7 89.1 196.5 88.7 195.7 87.6 195.4 87.2 194.3 86.6 193.2 86.8M132.0 91.1 133.1 92.2 133.2 92.2 134.2 93.0 135.0 93.7 135.1 95.3 134.2 95.9 133.1 95.4 133.0 95.3 132.0 93.8M182.3 98.2 182.0 98.3 182.2 99.9 182.3 100.0 183.4 101.0 183.8 101.4 184.5 102.4 184.9 102.9 184.9 104.4 185.5 106.0 185.5 106.1 185.7 106.0 186.6 104.4 186.0 102.9 186.2 101.4 186.6 100.6 187.0 99.9 187.7 98.3 186.6 97.2 185.5 97.1 184.5 97.5 183.4 97.9 182.3 98.2M207.4 98.8 207.2 98.3 206.3 97.8 205.2 96.8 205.2 96.8 204.2 95.3 204.1 93.7 204.8 92.2 205.2 91.2 205.3 90.7 205.2 89.7 205.0 89.1 204.1 88.3 203.5 89.1 203.0 90.0 202.7 90.7 201.9 92.1 201.8 92.2 201.1 93.7 201.5 95.3 201.5 96.8 201.2 98.3 200.8 99.1 200.0 99.9 199.8 100.0 198.7 100.2 197.6 100.1 197.2 99.9 196.5 99.0 195.9 98.3 195.4 97.5 194.3 98.2 194.2 98.3 193.2 99.4 192.1 99.7 191.7 99.9 191.0 100.6 190.9 101.4 190.8 102.9 190.5 104.4 190.2 106.0 189.9 107.3 189.8 107.5 189.3 109.0 188.9 110.6 189.1 112.1 189.9 112.9 191.0 112.3 191.2 112.1 192.1 111.2 193.2 111.1 194.2 112.1 193.9 113.6 193.2 114.4 192.7 115.2 192.3 116.7 192.4 118.2 193.2 119.7 193.3 119.8 194.3 120.3 195.4 119.9 195.6 119.8 196.5 119.1 197.5 118.2 197.6 118.1 198.7 117.2 199.8 116.8 199.9 116.7 200.8 116.3 201.9 115.6 202.2 115.2 202.9 113.6 203.0 112.1 203.0 111.6 203.1 110.6 203.8 109.0 204.1 108.7 204.7 107.5 205.2 106.6 205.5 106.0 205.9 104.4 205.9 102.9 206.3 101.6 206.4 101.4 207.4 100.3M195.1 102.9 195.4 102.5 196.5 102.2 197.3 102.9 197.6 103.1 198.6 104.4 198.7 104.6 199.3 106.0 199.8 106.8 200.3 107.5 200.8 108.5 201.3 109.0 200.8 109.5 199.8 110.2 198.8 110.6 198.7 110.7 197.6 111.5 197.4 110.6 196.8 109.0 196.5 108.5 196.1 107.5 195.6 106.0 195.4 105.2 195.2 104.4 195.1 102.9M132.0 104.9 132.2 104.4 133.1 103.9 134.2 103.5 134.9 102.9 135.3 102.5 135.9 101.4 136.3 99.9 136.3 98.3 136.1 96.8 136.4 95.9 136.6 95.3 137.5 94.3 138.0 93.7 138.6 93.1 139.4 92.2 139.5 90.7 139.0 89.1 138.6 88.6 138.0 87.6 137.5 86.7 137.0 86.1 136.4 84.8 136.2 84.5 135.3 83.6 134.2 83.7 133.1 84.5 133.1 84.6 132.2 86.1 132.0 86.9M132.0 113.4 132.3 113.6 133.1 114.7 133.7 115.2 134.2 115.6 135.3 116.4 136.4 116.6 137.5 115.9 138.2 115.2 138.6 114.9 139.6 114.2 140.7 114.2 141.2 115.2 141.5 116.7 141.1 118.2 140.7 118.6 139.6 119.0 138.6 119.1 137.5 118.7 136.4 118.4 135.3 119.2 134.9 119.8 134.3 121.3M132.7 121.3 132.9 119.8 133.1 118.2 132.6 116.7 132.0 116.1M144.8 121.3 144.5 119.8 144.9 118.2 145.1 117.9 146.2 117.0 147.3 117.0 148.4 117.3 149.3 116.7 149.5 116.2 150.6 115.7 151.7 116.0 152.8 116.1 153.9 115.5 154.7 115.2 154.9 115.0 155.0 115.2 156.0 116.5 156.3 116.7 157.1 117.2 158.2 117.2 159.3 116.8 159.6 116.7 160.4 116.2 161.3 115.2 161.5 114.7 161.7 113.6 161.6 112.1 161.5 112.0 160.4 111.5 159.3 111.3 158.2 111.2 157.1 111.2 156.0 111.0 155.8 110.6 154.9 109.1 154.9 109.0 153.9 107.5 153.9 107.3 153.3 106.0 153.9 105.5 154.9 105.4 156.0 105.6 157.1 105.2 157.8 104.4 158.2 103.6 158.6 102.9 158.8 101.4 158.4 99.9 158.2 99.6 157.4 98.3 157.1 97.1 156.0 97.2 154.9 97.6 153.9 97.4 152.8 96.9 152.4 96.8 151.7 96.3 151.0 96.8 150.6 97.2 150.0 98.3 149.5 99.2 148.8 99.9 149.0 101.4 149.5 102.8 149.5 102.9 150.0 104.4 149.9 106.0 149.5 106.5 149.1 106.0 148.4 105.5 147.3 104.9 146.2 104.7 145.5 104.4 145.3 102.9 145.4 101.4 146.2 100.1 146.6 99.9 147.3 99.4 148.1 98.3 148.4 97.4 148.7 96.8 149.5 96.3 150.6 96.1 150.9 95.3 151.1 93.7 151.3 92.2 151.7 91.2 152.5 90.7 151.7 90.2 151.5 89.1 151.0 87.6 150.8 86.1 151.1 84.5 151.7 83.9 152.8 83.9 153.9 84.1 154.9 83.9 156.0 83.7 157.1 83.5 158.2 83.2 159.3 83.2 160.4 84.2 160.7 84.5 161.1 86.1 160.5 87.6 160.4 87.7 159.6 89.1 159.3 89.9 158.6 90.7 158.2 91.4 157.8 90.7 157.1 90.0 156.6 89.1 156.0 88.7 154.9 88.9 154.7 89.1 153.9 90.0 152.8 90.7 153.1 92.2 153.9 92.7 154.9 93.7 155.0 93.7 155.9 95.3 156.0 95.8 157.1 96.7 158.2 95.3 158.2 95.3 159.3 93.8 160.4 94.3 161.0 95.3 161.5 96.3 161.8 96.8 162.6 98.0 162.9 98.3 163.7 99.9 163.7 99.9 164.4 101.4 164.8 102.1 165.6 102.9 165.9 103.1 167.0 103.3 168.1 103.2 169.0 102.9 169.0 101.4 168.7 99.9 169.2 98.8 170.2 98.9 171.2 99.9 171.3 100.7 171.4 101.4 171.3 101.5 170.2 102.7 169.4 102.9 169.5 104.4 169.4 106.0 169.2 107.2 169.1 107.5 168.7 109.0 168.8 110.6 169.2 111.0 170.2 112.0 171.3 112.1 172.4 111.1 172.7 110.6 173.3 109.0 173.5 107.8 173.6 107.5 173.7 106.0 173.8 104.4 173.9 102.9 174.0 101.4 174.1 99.9 174.5 98.3 174.6 97.5 174.8 96.8 174.8 95.3 174.7 93.7 174.7 92.2 174.6 92.1 174.1 90.7 173.5 90.1 172.4 89.4 171.3 89.2 170.2 90.3 170.1 90.7 169.3 92.2 169.2 92.4 168.1 93.1 167.0 93.2 165.9 92.9 165.4 92.2 165.4 90.7 165.8 89.1 165.9 89.1 167.0 87.7 167.2 87.6 168.1 87.2 169.2 87.1 170.2 87.3 171.3 87.1 172.1 86.1 172.4 85.6 173.0 84.5 173.3 83.0 173.5 82.1 173.8 81.5 174.6 80.5 175.0 79.9 175.4 78.4 175.5 76.9 175.7 75.3 175.7 75.2 175.8 73.8 175.7 73.4 175.5 72.3 175.2 70.7 175.7 69.8 176.8 69.6 177.9 70.0 179.0 70.4 180.1 70.6 180.6 70.7 181.2 72.3 180.9 73.8 180.6 75.3 180.7 76.9 180.9 78.4 181.2 79.4 181.3 79.9 181.6 81.5 181.6 83.0 181.2 84.5 181.2 84.8 181.1 86.1 181.0 87.6 180.8 89.1 180.5 90.7 180.1 91.2 179.0 92.1 178.9 92.2 178.0 93.7 178.3 95.3 179.0 96.2 179.7 96.8 180.1 97.2 181.2 97.7 181.6 96.8 181.9 95.3 182.3 94.1 182.4 93.7 182.6 92.2 182.7 90.7 183.1 89.1 183.4 88.6 183.7 87.6 184.3 86.1 184.5 85.2 184.6 84.5 185.0 83.0 185.5 81.8 185.7 81.5 186.0 79.9 185.5 78.4 185.5 78.4 184.9 76.9 184.7 75.3 184.8 73.8 185.2 72.3 185.5 71.8 186.1 70.7 186.6 70.1 187.6 69.2 187.7 69.1 188.8 68.7 189.9 68.5 191.0 67.8 191.2 67.7 192.1 66.4 193.2 66.2 193.8 66.2 194.3 66.1 195.4 66.1 195.5 66.2 196.5 66.6 197.1 67.7 197.6 68.3 198.7 68.7 199.8 68.5 200.4 67.7 200.6 66.2 199.8 64.9 198.7 65.1 197.6 65.3 196.5 65.3 196.2 64.6 195.5 63.1 195.6 61.6 196.5 60.7 197.0 60.0 197.6 59.3 198.6 58.5 198.3 57.0 197.6 55.7 196.5 55.4 196.5 55.4 196.4 55.4 195.4 55.7 194.6 55.4 194.3 55.4 193.2 54.9 192.1 55.1 191.7 55.4 191.0 56.2 190.4 57.0 189.9 58.5 189.9 58.5 189.9 58.5 190.8 60.0 191.0 60.2 192.1 60.3 193.2 60.3 194.3 61.2 194.8 61.6 194.3 62.9 194.2 63.1 193.2 64.2 192.5 64.6 192.1 65.3 191.0 64.7 190.9 64.6 189.9 63.9 188.8 63.4 187.7 63.4 186.6 63.7 185.5 64.1 184.5 64.6 184.5 64.6 183.4 65.7 183.0 64.6 182.7 63.1 182.5 61.6 182.6 60.0 183.1 58.5 183.4 58.0 184.1 57.0 184.5 56.5 185.2 55.4 185.5 53.9 184.5 52.4 184.4 52.4 183.4 51.6 182.3 50.8 182.3 50.8 181.2 50.5 180.1 50.8 181.0 52.4 180.1 52.5 179.0 52.4 177.9 53.8 177.9 53.9 177.1 55.4 176.8 55.7 176.0 55.4 175.7 55.1 175.5 53.9 175.7 53.0 176.1 52.4 176.8 51.6 177.9 51.0 178.5 50.8 178.3 49.3 177.9 48.4 177.8 47.8 177.9 46.9 178.0 46.2 178.5 44.7 178.6 43.2 178.2 41.6 177.9 40.4 177.8 40.1 177.9 38.6 177.9 38.5 178.4 37.0 179.0 36.1 180.1 36.0 181.2 36.5 181.8 37.0 182.3 37.6 182.9 38.6 183.3 40.1 183.4 40.2 183.8 41.6 184.4 43.2 184.5 43.3 185.5 44.4 186.4 44.7 186.6 44.8 186.8 44.7 187.7 44.1 188.2 43.2 188.6 41.6 188.8 40.1 188.4 38.6 187.7 38.0 186.6 38.1 185.5 38.3 184.5 38.1 183.4 37.0 183.4 37.0 182.6 35.5 182.4 34.0 182.3 33.5 182.0 32.5 181.3 30.9 181.2 30.7 180.2 30.9 180.1 30.9 179.1 32.5 179.0 32.7 177.9 33.6 176.8 33.7 175.7 34.0 175.7 34.0 174.9 35.5 174.8 37.0 174.6 37.8 173.5 38.2 172.9 37.0 173.1 35.5 173.5 34.6 174.2 34.0 174.5 32.5 174.5 30.9 174.5 29.4 174.6 27.9 174.6 27.8 175.7 26.8 176.8 27.1 177.9 27.5 179.0 27.6 179.8 27.9 180.1 28.0 180.4 27.9 181.2 27.7 181.7 26.3 181.3 24.8 181.2 24.6 180.1 23.7 179.6 23.3 179.0 22.6 178.5 21.7 178.4 20.2 179.0 19.2 180.1 18.8 181.2 19.8 182.3 19.8 183.4 18.8 183.6 18.7 184.5 17.5 185.5 18.2 185.8 18.7 186.6 20.2 186.7 20.2 187.3 21.7 187.7 22.2 188.6 23.3 188.8 23.4 189.9 23.6 190.4 23.3 191.0 22.2 191.1 21.7 191.4 20.2 191.3 18.7 191.0 18.3 189.9 18.2 188.8 18.4 187.7 18.3 186.6 17.2 186.5 17.1 185.5 16.8 184.5 16.6 184.1 15.6M170.7 121.3 171.3 121.1 172.4 120.1 173.3 119.8 172.4 119.6 171.3 118.5 171.1 118.2 170.2 117.6 169.2 117.9 168.7 118.2 168.1 119.8 168.1 119.8 167.0 120.7 165.9 120.7 165.4 119.8 165.0 118.2 164.8 118.0 163.7 117.2 162.6 116.7 161.5 116.8 161.1 118.2 161.2 119.8 161.5 120.9 161.8 121.3M181.9 121.3 181.4 119.8 181.2 119.6 180.1 119.1 179.4 118.2 179.0 118.0 177.9 116.9 177.5 116.7 176.8 116.5 176.4 116.7 175.7 117.1 174.8 118.2 174.6 118.5 173.6 119.8 174.3 121.3" fill="none" stroke="#ffff60" stroke-width="0.7" opacity="0.85"/>
<path d="M159.4 15.6 160.4 16.6 161.5 17.1 161.8 17.1 162.6 17.3 163.7 17.5 164.8 18.2 165.1 18.7 165.4 20.2 165.4 21.7 164.9 23.3 164.8 23.5 163.7 23.7 162.6 23.5 161.5 24.8 161.5 24.8 160.5 26.3 160.4 26.4 160.3 26.3 159.3 25.0 159.3 24.8 159.3 24.6 159.9 23.3 160.4 22.3 160.8 21.7 160.4 20.6 160.3 20.2 159.3 18.7 159.3 18.7 158.3 17.1 158.2 17.1 157.1 16.0 156.8 15.6M171.8 17.1 172.4 16.0 173.5 16.4 173.9 17.1 173.5 17.7 172.4 17.7 171.8 17.1M199.7 15.6 199.7 17.1 199.5 18.7 199.2 20.2 198.7 21.4 198.4 21.7 197.6 22.9 196.7 23.3 196.5 23.4 195.4 24.0 194.7 24.8 194.4 26.3 194.4 27.9 195.1 29.4 195.4 29.8 196.4 30.9 196.5 31.0 196.9 32.5 197.4 34.0 197.6 34.1 198.7 34.5 199.8 35.1 200.2 35.5 200.8 36.7 200.9 37.0 200.9 38.6 200.8 38.6 199.8 39.5 198.7 39.2 197.6 38.8 196.5 39.0 195.7 40.1 195.4 40.5 194.7 41.6 194.3 42.4 193.9 43.2 193.5 44.7 193.3 46.2 193.7 47.8 194.3 48.1 195.4 48.2 196.5 48.3 197.6 48.7 198.7 48.8 199.4 47.8 199.8 47.1 200.1 46.2 200.8 45.2 201.7 44.7 201.9 44.6 203.0 44.6 203.9 44.7 204.1 44.8 205.2 46.2 205.2 47.8 204.9 49.3 204.1 49.8 203.0 50.7 202.9 50.8 202.1 52.4 201.9 52.9 201.6 53.9 200.8 55.4 200.7 55.4 199.8 55.9 199.2 55.4 198.7 54.9 197.6 54.0 196.5 54.3 195.4 54.5 194.3 54.2 193.6 53.9 193.2 53.7 192.1 53.9 192.1 53.9 191.0 54.8 190.4 55.4 189.9 56.1 189.1 57.0 188.8 57.7 188.6 58.5 188.6 60.0 188.1 61.6 187.7 61.8 186.6 62.6 185.8 63.1 185.5 63.2 184.5 63.5 183.8 63.1 183.4 62.4 183.2 61.6 183.2 60.0 183.4 59.5 183.8 58.5 184.5 57.7 185.2 57.0 185.5 56.4 186.3 55.4 186.5 53.9 186.2 52.4 185.5 51.5 184.6 50.8 184.5 50.7 183.4 49.3 183.3 49.3 182.3 48.5 181.2 48.2 180.1 47.8 180.1 47.8 179.3 46.2 179.4 44.7 179.4 43.2 179.0 42.1 178.9 41.6 178.5 40.1 178.6 38.6 179.0 37.8 180.1 37.2 181.2 37.9 181.7 38.6 182.3 39.7 182.5 40.1 182.9 41.6 183.4 43.1 183.4 43.2 184.2 44.7 184.5 45.0 185.5 45.7 186.6 46.0 187.7 45.7 188.6 44.7 188.8 44.2 189.2 43.2 189.7 41.6 189.9 40.8 190.3 40.1 190.6 38.6 190.9 37.0 191.0 36.4 192.1 37.0 192.2 37.0 193.2 37.3 193.7 37.0 194.3 36.7 195.3 35.5 195.1 34.0 194.3 33.1 193.2 32.6 192.1 33.5 191.7 34.0 191.0 35.3 189.9 34.8 188.8 34.1 187.7 34.3 187.0 35.5 186.6 36.2 185.5 36.9 184.5 36.5 183.7 35.5 183.4 34.5 183.2 34.0 182.9 32.5 182.6 30.9 182.4 29.4 182.8 27.9 183.1 26.3 182.6 24.8 182.3 24.1 181.8 23.3 181.8 21.7 182.3 21.5 183.4 20.8 184.5 20.4 185.5 21.6 185.6 21.7 186.6 23.3 186.6 23.3 187.7 24.1 188.8 24.7 189.0 24.8 189.9 25.1 190.4 24.8 191.0 24.3 191.6 23.3 192.0 21.7 192.1 20.9 192.2 20.2 192.4 18.7 192.4 17.1 192.1 16.3 191.0 16.4 189.9 16.9 188.8 17.1 187.7 16.6 186.8 15.6M169.0 26.3 169.2 26.3 170.2 25.9 171.3 26.2 171.4 26.3 171.3 27.3 171.3 27.9 170.7 29.4 170.2 30.2 169.2 30.9 169.2 30.9 169.1 30.9 168.1 30.5 167.3 29.4 167.4 27.9 168.1 27.0 169.0 26.3M196.9 26.3 197.6 25.2 198.7 24.8 199.8 25.1 200.8 26.3 200.8 26.4 201.7 27.9 200.8 28.7 200.2 29.4 199.8 29.6 198.7 29.8 197.7 29.4 197.6 29.3 196.8 27.9 196.9 26.3M134.9 29.4 135.3 28.3 135.5 29.4 135.3 30.2 134.9 29.4M176.3 29.4 176.8 29.2 177.1 29.4 177.9 30.1 178.2 30.9 177.9 31.4 176.8 32.0 175.7 31.2 175.6 30.9 175.7 30.1 176.3 29.4M207.4 29.3 207.2 29.4 206.3 29.7 205.4 29.4 205.2 29.3 204.1 28.7 203.0 28.1 202.2 27.9 202.4 26.3 203.0 26.0 204.1 25.2 205.1 24.8 205.2 24.7 206.3 24.6 207.4 24.6M140.6 43.2 140.7 42.9 141.8 42.0 142.9 42.2 144.0 42.7 145.1 43.1 145.2 43.2 146.2 44.2 146.4 44.7 146.6 46.2 146.3 47.8 146.2 47.9 145.1 48.5 144.0 48.4 143.0 47.8 142.9 47.7 141.8 46.6 141.3 46.2 140.7 45.5 140.4 44.7 140.6 43.2M164.6 43.2 164.8 43.0 165.9 42.6 167.0 42.5 168.1 42.9 168.3 43.2 169.1 44.7 169.2 44.8 169.3 46.2 169.2 46.9 168.8 47.8 168.1 48.7 167.0 49.3 167.0 49.3 165.9 50.3 165.5 50.8 164.8 52.0 163.7 52.4 163.5 50.8 163.7 49.6 163.8 49.3 163.7 49.1 163.3 47.8 162.7 46.2 163.1 44.7 163.7 44.1 164.6 43.2M207.4 45.9 206.6 44.7 206.5 43.2 207.0 41.6 207.4 40.5M155.9 53.9 156.0 53.6 156.2 53.9 156.0 54.3 155.9 53.9M137.4 57.0 137.5 56.9 137.7 57.0 138.6 57.2 139.6 57.8 140.4 58.5 140.1 60.0 139.6 60.5 138.6 60.4 138.2 60.0 137.5 58.8 137.3 58.5 137.4 57.0M163.2 60.0 163.7 59.5 164.8 59.8 164.9 60.0 165.2 61.6 164.9 63.1 164.8 63.2 163.7 63.4 163.4 63.1 162.8 61.6 163.2 60.0M197.5 61.6 197.6 61.5 198.7 61.5 198.7 61.6 198.9 63.1 198.7 63.3 197.6 63.3 197.4 63.1 197.5 61.6M194.0 67.7 194.3 67.6 194.5 67.7 195.4 68.1 196.1 69.2 196.2 70.7 195.8 72.3 195.4 73.0 194.6 73.8 194.3 74.1 193.2 75.0 192.9 75.3 192.1 76.1 191.0 76.5 189.9 76.5 188.8 76.4 187.7 76.4 186.6 76.2 186.2 75.3 185.9 73.8 186.2 72.3 186.6 71.4 187.0 70.7 187.7 70.0 188.8 69.7 189.9 69.7 191.0 69.6 191.5 69.2 192.1 68.7 193.2 67.9 194.0 67.7M207.4 69.1 207.3 69.2 207.0 70.7 207.1 72.3 206.3 72.9 205.9 73.8 205.2 74.7 205.0 75.3 204.3 76.9 204.1 77.5 203.2 78.4 203.0 78.6 201.9 78.5 201.8 78.4 200.8 78.1 199.8 77.5 199.0 76.9 198.7 76.3 198.3 75.3 198.4 73.8 198.7 72.4 198.7 72.3 199.0 70.7 199.8 70.1 200.4 69.2 200.8 68.7 201.3 67.7 201.5 66.2 201.6 64.6 201.9 64.0 202.4 63.1 203.0 62.2 203.4 61.6 204.1 60.4 204.6 60.0 205.2 59.7 206.3 59.5 207.4 58.7M148.1 70.7 148.4 70.5 148.8 70.7 149.0 72.3 148.4 72.8 147.8 72.3 148.1 70.7M177.3 72.3 177.9 71.8 179.0 71.9 179.5 72.3 179.4 73.8 179.0 74.9 177.9 74.3 177.8 73.8 177.3 72.3M154.8 75.3 154.9 75.2 155.1 75.3 155.8 76.9 155.5 78.4 154.9 79.1 153.9 79.0 153.4 78.4 153.5 76.9 153.9 76.2 154.8 75.3M177.1 76.9 177.9 75.7 179.0 75.8 179.3 76.9 180.0 78.4 180.1 78.8 180.4 79.9 180.6 81.5 180.5 83.0 180.4 84.5 180.4 86.1 180.4 87.6 180.1 89.1 180.1 89.2 179.2 90.7 179.0 90.9 177.9 91.5 177.1 92.2 176.9 93.7 177.2 95.3 177.9 96.1 178.4 96.8 179.0 97.5 179.7 98.3 180.1 99.3 180.4 99.9 181.1 101.4 181.2 101.4 182.3 101.9 183.4 102.9 183.4 102.9 183.7 104.4 183.7 106.0 183.4 106.8 182.3 107.2 181.2 106.6 180.6 106.0 180.1 104.4 180.1 103.9 179.3 102.9 179.0 102.9 178.9 102.9 178.5 104.4 179.0 106.0 179.0 106.0 179.5 107.5 180.1 108.8 180.3 109.0 181.2 109.9 181.6 110.6 182.1 112.1 182.3 113.5 182.3 113.6 182.3 113.7 182.0 115.2 181.2 116.5 180.1 116.7 179.0 116.0 177.9 115.3 176.8 115.4 175.7 116.1 175.2 116.7 174.6 117.4 173.7 118.2 173.5 118.4 172.8 118.2 172.4 118.2 171.3 117.1 170.9 116.7 170.2 115.6 169.2 115.4 168.1 115.2 168.0 115.2 167.5 113.6 167.0 112.4 165.9 112.3 164.8 112.7 163.7 112.1 163.7 112.1 163.0 110.6 162.6 110.0 161.5 109.9 160.4 110.1 159.3 110.3 158.2 110.3 157.1 110.1 156.0 109.3 155.9 109.0 155.4 107.5 156.0 106.9 157.1 106.1 157.2 106.0 158.2 104.9 158.5 104.4 159.2 102.9 159.3 102.3 159.7 101.4 159.9 99.9 159.3 98.8 159.1 98.3 159.2 96.8 159.3 96.6 159.5 96.8 160.4 98.3 160.4 98.3 161.5 99.3 162.2 99.9 162.6 100.1 163.4 101.4 163.7 101.8 164.4 102.9 164.8 103.4 165.9 104.1 167.0 104.3 168.0 104.4 168.1 104.5 168.7 106.0 168.4 107.5 168.1 108.7 167.9 109.0 167.4 110.6 167.9 112.1 168.1 112.2 169.2 113.3 169.9 113.6 170.2 114.0 170.5 113.6 171.3 113.4 172.4 112.5 172.7 112.1 173.5 110.6 173.5 110.4 174.0 109.0 174.2 107.5 174.3 106.0 174.5 104.4 174.6 104.0 175.0 102.9 174.9 101.4 174.8 99.9 175.1 98.3 175.4 96.8 175.6 95.3 175.6 93.7 175.6 92.2 175.1 90.7 174.6 90.2 173.5 89.2 173.4 89.1 172.4 87.9 172.2 87.6 172.4 87.2 172.9 86.1 173.5 84.7 173.6 84.5 174.2 83.0 174.6 82.2 175.2 81.5 175.7 80.6 176.1 79.9 176.4 78.4 176.8 77.2 177.1 76.9M193.0 79.9 193.2 79.5 194.3 78.5 195.4 78.9 196.0 79.9 196.5 80.9 196.8 81.5 197.6 82.6 198.7 82.8 199.8 82.8 200.8 83.0 201.0 83.0 201.9 83.5 202.5 84.5 202.9 86.1 202.9 87.6 202.6 89.1 201.9 90.4 201.6 90.7 200.8 91.5 199.8 91.6 198.8 90.7 198.7 90.5 197.8 89.1 197.6 88.6 196.9 87.6 196.5 86.6 196.1 86.1 195.4 85.5 194.3 85.3 193.2 85.3 192.1 85.7 191.5 86.1 191.0 87.4 191.0 87.6 191.0 87.7 191.3 89.1 191.8 90.7 192.1 91.2 192.7 92.2 193.2 93.1 193.5 93.7 193.7 95.3 193.3 96.8 193.2 96.9 192.1 97.8 191.0 97.6 190.3 96.8 189.9 96.0 188.9 95.3 188.8 95.2 187.7 95.0 186.6 94.4 185.5 94.1 184.5 94.7 184.2 93.7 183.6 92.2 183.5 90.7 183.7 89.1 184.4 87.6 184.5 87.4 185.2 86.1 185.5 85.0 185.9 84.5 186.6 83.0 186.6 82.9 186.9 83.0 187.7 84.5 187.8 84.5 188.8 84.8 189.2 84.5 189.6 83.0 189.9 82.6 191.0 82.1 192.1 81.5 192.1 81.5 193.0 79.9M132.0 81.1 133.0 79.9 133.1 79.8 133.9 78.4 134.2 77.8 134.9 76.9 135.3 76.6 136.4 76.7 136.8 76.9 137.2 78.4 136.4 79.9 136.4 80.0 135.7 81.5 135.3 81.8 134.2 82.3 133.3 83.0 133.1 83.2 132.0 84.5 132.0 84.6M138.2 84.5 138.6 84.4 138.9 84.5 139.6 84.9 140.5 86.1 140.1 87.6 139.6 88.1 139.3 87.6 138.6 86.8 138.1 86.1 138.2 84.5M156.6 84.5 157.1 84.4 158.2 84.2 159.3 84.5 159.4 84.5 159.9 86.1 159.5 87.6 159.3 87.9 158.2 88.7 157.1 88.0 156.5 87.6 156.0 87.2 154.9 87.5 154.9 87.6 153.9 88.4 152.8 88.7 151.8 87.6 151.7 86.8 151.6 86.1 151.7 85.8 152.8 85.2 153.9 85.3 154.9 85.4 156.0 85.0 156.6 84.5M166.8 89.1 167.0 88.9 168.1 88.1 169.2 88.3 169.7 89.1 169.3 90.7 169.2 90.9 168.1 92.1 167.0 92.1 166.3 90.7 166.8 89.1M138.5 95.3 138.6 95.2 139.6 95.0 139.9 95.3 140.7 96.7 140.8 96.8 140.7 96.9 140.6 98.3 140.1 99.9 139.7 101.4 139.6 101.5 139.3 102.9 138.6 104.4 138.6 104.6 137.5 104.9 136.4 104.7 135.7 104.4 136.1 102.9 136.4 102.4 136.7 101.4 137.0 99.9 137.0 98.3 137.3 96.8 137.5 96.4 138.5 95.3M153.5 95.3 153.9 95.0 154.2 95.3 153.9 95.6 153.5 95.3M207.4 96.7 206.3 96.2 205.4 95.3 205.2 94.2 205.2 93.7 205.2 93.6 205.7 92.2 206.0 90.7 205.9 89.1 205.2 87.6 205.2 87.5 204.5 86.1 204.2 84.5 204.1 83.7 203.8 83.0 203.8 81.5 204.1 80.9 205.2 80.2 205.7 79.9 206.3 79.7 207.4 79.0M187.6 101.4 187.7 101.2 188.8 100.4 189.6 101.4 189.7 102.9 189.2 104.4 188.8 106.0 188.8 106.0 188.8 106.0 188.3 104.4 187.7 103.4 187.6 102.9 187.6 101.4M133.8 106.0 134.2 105.6 134.9 106.0 134.2 106.1 133.8 106.0M197.1 106.0 197.6 105.3 198.0 106.0 198.7 107.3 198.7 107.5 198.7 107.7 197.6 107.6 197.5 107.5 197.1 106.0M139.6 109.0 139.6 108.8 139.8 109.0 139.6 109.1 139.6 109.0M138.6 116.7 139.6 116.4 140.0 116.7 139.6 117.1 138.6 116.7M147.6 121.3 147.3 120.7 146.2 121.0 145.7 119.8 146.2 118.8 147.3 119.3 148.4 119.4 149.5 118.5 149.8 118.2 150.6 117.5 151.7 117.3 152.8 117.4 153.9 117.5 154.9 117.7 156.0 118.1 156.6 118.2 157.1 118.3 158.2 118.4 159.3 118.7 159.8 119.8 160.2 121.3M183.6 121.3 183.6 119.8 184.5 118.7 185.3 118.2 185.5 118.0 186.6 116.8 186.7 116.7 186.6 116.5 186.1 115.2 185.5 114.8 184.5 113.7 184.4 113.6 184.4 112.1 184.5 111.9 185.0 110.6 185.5 109.6 186.2 109.0 186.6 108.6 187.6 107.5 187.7 107.2 187.9 107.5 187.8 109.0 187.8 110.6 188.0 112.1 188.3 113.6 188.8 114.4 189.9 114.7 190.9 115.2 191.0 115.2 191.4 116.7 191.7 118.2 192.1 119.5 192.2 119.8 193.2 121.0 194.3 121.3 195.4 120.9 196.5 120.0 196.8 119.8 197.6 119.1 198.7 118.6 199.8 118.6 200.8 118.3 201.2 118.2 201.9 118.1 202.2 118.2 201.9 118.7 201.6 119.8 201.9 120.7 202.1 121.3M207.3 121.3 206.3 119.8 206.2 119.8 205.2 119.4 204.1 118.4 203.7 118.2 203.1 116.7 203.4 115.2 203.6 113.6 203.8 112.1 204.1 110.7 204.1 110.6 204.8 109.0 205.2 108.2 205.6 107.5 206.3 106.0 206.3 106.0 206.7 104.4 207.2 102.9 207.4 102.5" fill="none" stroke="#ffe060" stroke-width="0.7" opacity="0.85"/>
<path d="M190.1 15.6 189.9 15.7 188.8 15.9 188.3 15.6M197.9 15.6 198.6 17.1 198.7 18.4 198.7 18.7 198.7 18.7 198.3 20.2 197.6 21.3 197.0 21.7 196.5 22.1 195.4 22.5 194.3 23.0 193.7 23.3 193.2 24.8 193.2 25.4 192.9 26.3 192.1 27.4 191.5 26.3 192.1 25.0 192.6 24.8 193.0 23.3 192.9 21.7 193.1 20.2 193.2 19.5 193.4 18.7 194.1 17.1 194.3 16.9 195.4 16.1 196.2 15.6M162.5 20.2 162.6 19.9 163.7 19.1 164.5 20.2 164.1 21.7 163.7 22.0 163.3 21.7 162.6 20.4 162.5 20.2M186.8 26.3 187.7 26.1 188.8 26.2 189.2 26.3 189.9 26.7 191.0 27.5 191.4 27.9 192.0 29.4 192.1 30.0 192.4 30.9 192.1 31.2 191.6 32.5 191.0 33.2 189.9 33.3 188.8 33.0 187.7 32.6 186.6 32.5 186.0 34.0 185.5 34.9 184.5 34.5 184.3 34.0 184.1 32.5 184.1 30.9 184.2 29.4 184.5 28.7 185.3 29.4 185.5 29.7 186.3 29.4 186.6 28.7 186.7 27.9 186.8 26.3M168.3 27.9 169.2 27.2 170.2 27.2 170.5 27.9 170.2 28.8 170.0 29.4 169.2 30.0 168.1 29.4 168.3 27.9M207.4 27.9 206.3 28.7 205.2 28.5 204.1 27.9 204.1 27.9 204.0 26.3 204.1 26.2 205.2 25.6 206.3 25.6 207.4 26.3 207.4 26.8M197.9 37.0 198.7 36.3 199.8 36.9 199.9 37.0 199.8 37.8 198.7 37.9 197.9 37.0M179.7 38.6 180.1 38.3 180.5 38.6 181.2 39.2 181.6 40.1 182.0 41.6 182.3 42.7 182.4 43.2 182.7 44.7 182.8 46.2 182.3 46.5 181.2 46.5 180.8 46.2 180.5 44.7 180.2 43.2 180.1 43.0 179.6 41.6 179.2 40.1 179.7 38.6M193.0 40.1 193.2 39.8 194.3 38.6 194.4 40.1 194.3 40.2 193.3 41.6 193.2 41.9 192.8 43.2 192.5 44.7 192.1 45.9 191.1 46.2 191.0 46.3 191.0 46.2 190.3 44.7 190.5 43.2 191.0 42.2 191.7 41.6 192.1 41.2 193.0 40.1M141.7 43.2 141.8 43.1 142.6 43.2 142.9 43.2 144.0 43.8 145.1 44.3 145.5 44.7 145.9 46.2 145.1 47.4 144.0 47.4 142.9 46.6 142.6 46.2 141.8 45.2 141.5 44.7 141.7 43.2M164.5 44.7 164.8 44.4 165.9 43.5 167.0 43.3 168.1 44.0 168.5 44.7 168.6 46.2 168.1 47.4 167.3 47.8 167.0 47.9 165.9 47.9 165.7 47.8 164.8 47.1 164.3 46.2 164.5 44.7M200.9 46.2 201.9 45.6 203.0 45.7 203.8 46.2 203.8 47.8 203.0 48.9 202.6 49.3 201.9 50.3 201.5 50.8 201.1 52.4 200.8 53.0 199.8 53.7 199.0 52.4 199.1 50.8 199.8 49.7 199.9 49.3 200.3 47.8 200.8 46.4 200.9 46.2M188.2 47.8 188.8 47.6 189.5 47.8 189.9 48.0 191.0 48.4 192.1 48.7 193.2 49.3 193.6 49.3 194.3 49.4 194.6 49.3 195.4 49.2 196.5 49.3 196.6 49.3 197.6 50.5 198.1 50.8 197.6 51.8 197.4 52.4 196.5 53.0 195.4 53.4 194.3 53.0 193.2 52.5 192.1 52.6 191.0 53.5 190.7 53.9 189.9 54.7 189.0 55.4 188.8 55.6 188.3 55.4 187.7 54.9 187.6 53.9 187.5 52.4 187.7 50.8 187.5 49.3 187.7 48.5 188.2 47.8M184.8 58.5 185.5 57.8 186.6 57.4 187.2 58.5 187.2 60.0 186.6 61.3 186.4 61.6 185.5 62.1 184.5 62.1 184.1 61.6 184.0 60.0 184.5 59.0 184.8 58.5M207.4 66.3 206.3 66.2 205.2 67.3 205.1 67.7 205.1 69.2 205.2 70.5 205.2 70.7 205.2 70.9 205.0 72.3 204.5 73.8 204.1 74.8 203.8 75.3 203.0 76.5 202.3 76.9 201.9 77.0 201.1 76.9 200.8 76.8 199.8 75.7 199.5 75.3 199.7 73.8 199.8 73.5 200.0 72.3 200.5 70.7 200.8 70.3 201.4 69.2 201.9 67.9 202.1 67.7 202.5 66.2 202.7 64.6 203.0 64.0 203.6 63.1 204.1 62.2 204.9 61.6 205.2 61.3 205.8 61.6 206.3 62.0 206.7 63.1 207.4 64.4M193.7 69.2 194.3 69.0 194.5 69.2 194.9 70.7 194.3 71.8 193.2 71.8 192.4 72.3 192.1 72.5 191.6 73.8 191.0 74.5 189.9 74.8 188.8 74.6 187.7 74.2 187.3 73.8 187.1 72.3 187.7 71.2 188.3 70.7 188.8 70.6 189.9 70.7 190.2 70.7 191.0 71.1 192.1 71.9 192.4 70.7 193.2 69.7 193.7 69.2M177.6 79.9 177.9 78.9 179.0 79.7 179.1 79.9 179.0 81.5 179.0 82.7 179.0 83.0 179.0 83.0 179.5 84.5 179.8 86.1 179.7 87.6 179.3 89.1 179.0 89.6 177.9 90.1 176.8 90.2 175.7 89.9 174.8 89.1 174.6 89.0 173.5 87.8 173.3 87.6 173.5 86.8 173.7 86.1 174.4 84.5 174.6 84.1 175.4 83.0 175.7 82.6 176.8 81.9 177.7 81.5 177.6 79.9M193.5 81.5 194.3 80.3 195.4 80.7 195.8 81.5 196.1 83.0 195.4 83.9 194.3 84.0 193.2 83.4 192.9 83.0 193.2 82.4 193.5 81.5M197.8 84.5 198.7 83.9 199.8 83.7 200.8 84.0 201.4 84.5 201.9 85.7 202.1 86.1 202.3 87.6 201.9 88.9 201.9 89.1 200.8 90.3 199.8 90.3 198.7 89.1 198.7 89.1 197.9 87.6 197.6 86.2 197.5 86.1 197.6 85.7 197.8 84.5M158.1 86.1 158.2 86.0 158.3 86.1 158.2 86.2 158.1 86.1M185.2 87.6 185.5 87.0 186.6 86.5 187.7 86.7 188.8 87.1 189.4 87.6 189.9 88.5 190.1 89.1 190.4 90.7 190.2 92.2 189.9 92.4 188.8 92.9 187.7 93.0 186.6 92.7 185.5 92.6 184.8 92.2 184.5 91.9 184.1 90.7 184.3 89.1 184.5 88.7 185.2 87.6M176.7 96.8 176.8 96.6 177.0 96.8 177.9 97.3 178.7 98.3 179.0 99.2 179.2 99.9 179.0 100.6 178.5 101.4 177.9 102.0 176.8 102.6 175.7 101.5 175.7 101.4 175.4 99.9 175.7 98.3 175.7 98.2 176.7 96.8M207.4 95.3 207.4 95.3 206.3 94.3 206.1 93.7 206.3 92.8 206.4 92.2 206.8 90.7 206.6 89.1 206.3 88.3 206.1 87.6 205.5 86.1 205.2 84.6 205.2 84.5 205.1 83.0 205.2 82.7 205.6 81.5 206.3 80.8 207.4 80.0M138.1 98.3 138.6 97.0 139.5 98.3 138.8 99.9 138.6 101.2 138.2 99.9 138.1 98.3M161.2 101.4 161.5 101.2 161.9 101.4 162.6 101.8 163.2 102.9 163.7 103.8 164.3 104.4 164.8 104.8 165.9 105.2 167.0 105.4 167.8 106.0 167.6 107.5 167.0 108.6 166.5 109.0 165.9 109.7 164.8 109.9 164.1 109.0 163.7 108.4 162.6 107.6 161.5 108.3 160.4 109.0 160.4 109.0 159.3 109.3 158.2 109.2 157.6 109.0 157.1 107.5 158.2 106.0 158.3 106.0 159.2 104.4 159.3 104.1 160.0 102.9 160.4 102.0 161.2 101.4M182.2 104.4 182.3 104.4 182.3 104.4 182.3 104.5 182.2 104.4M175.2 106.0 175.7 104.6 176.8 104.7 177.5 106.0 177.9 106.6 178.3 107.5 178.9 109.0 179.0 109.3 180.1 110.5 180.1 110.6 181.0 112.1 180.7 113.6 180.1 114.2 179.0 113.7 178.7 113.6 177.9 113.4 177.5 113.6 176.8 113.9 175.7 115.0 175.6 115.2 174.6 116.2 174.2 116.7 173.5 117.3 172.4 117.0 172.1 116.7 171.7 115.2 172.4 114.0 172.7 113.6 173.5 112.6 173.8 112.1 174.4 110.6 174.6 109.5 174.8 109.0 175.0 107.5 175.2 106.0M207.4 118.6 206.3 118.5 205.9 118.2 205.2 117.6 204.7 116.7 204.4 115.2 204.4 113.6 204.6 112.1 205.0 110.6 205.2 110.1 205.7 109.0 206.3 108.0 206.7 107.5 207.2 106.0 207.4 105.0M149.2 121.3 149.5 120.3 149.7 119.8 150.6 119.0 151.7 118.6 152.8 119.0 153.5 119.8 152.8 121.1 152.7 121.3M156.2 121.3 157.0 119.8 157.1 119.7 157.5 119.8 158.2 120.0 158.8 121.3M185.1 121.3 185.2 119.8 185.5 119.5 186.6 118.7 187.0 118.2 187.7 117.2 188.3 116.7 188.8 116.3 189.9 116.3 190.3 116.7 191.0 118.2 191.0 118.4 191.4 119.8 192.0 121.3M196.3 121.3 196.5 121.1 197.6 120.4 198.7 120.3 199.4 121.3" fill="none" stroke="#ffa070" stroke-width="0.7" opacity="0.85"/>
<path d="M196.4 17.1 196.5 17.1 196.5 17.1 197.6 17.9 197.8 18.7 197.6 19.7 197.4 20.2 196.5 20.9 195.4 21.1 194.3 20.4 194.2 20.2 194.3 19.8 194.6 18.7 195.4 17.7 196.4 17.1M188.5 29.4 188.8 28.9 189.9 29.3 190.0 29.4 190.8 30.9 189.9 32.0 188.8 31.6 188.2 30.9 188.5 29.4M165.9 44.7 167.0 44.4 167.4 44.7 167.4 46.2 167.0 46.5 166.0 46.2 165.9 44.7M195.0 50.8 195.4 50.7 195.8 50.8 195.4 51.5 195.0 50.8M189.2 52.4 189.9 51.9 190.1 52.4 189.9 52.7 189.2 52.4M202.4 69.2 203.0 68.0 203.9 69.2 204.1 70.5 204.1 70.7 204.1 70.9 203.8 72.3 203.2 73.8 203.0 74.1 201.9 74.8 201.3 73.8 201.3 72.3 201.6 70.7 201.9 69.9 202.4 69.2M188.6 72.3 188.8 72.1 189.9 72.3 189.9 72.3 189.9 72.3 188.8 72.6 188.6 72.3M175.5 84.5 175.7 84.3 176.8 83.8 177.9 84.1 178.2 84.5 179.0 85.7 179.1 86.1 179.1 87.6 179.0 87.9 177.9 88.9 176.8 88.8 175.7 88.4 174.6 87.6 174.6 87.6 174.6 87.5 174.6 86.1 175.5 84.5M199.7 84.5 199.8 84.5 199.8 84.5 200.8 85.0 201.4 86.1 201.6 87.6 201.1 89.1 200.8 89.4 199.8 89.4 199.5 89.1 198.7 87.7 198.6 87.6 198.4 86.1 198.7 85.5 199.7 84.5M185.0 89.1 185.5 88.3 186.6 87.9 187.7 88.2 188.7 89.1 188.6 90.7 187.7 91.3 186.6 91.5 185.5 91.4 184.8 90.7 185.0 89.1M207.4 88.6 207.1 87.6 206.3 86.1 206.3 86.0 206.0 84.5 206.0 83.0 206.3 82.3 206.7 81.5 207.4 80.9M176.7 98.3 176.8 98.1 177.3 98.3 177.9 99.0 178.1 99.9 177.9 100.2 176.8 100.7 176.3 99.9 176.7 98.3M160.2 104.4 160.4 104.0 161.5 103.5 162.0 104.4 161.7 106.0 161.5 106.3 160.6 107.5 160.4 107.7 159.3 107.8 159.0 107.5 159.2 106.0 159.3 105.9 160.2 104.4M173.4 115.2 173.5 115.0 173.7 115.2 173.5 115.3 173.4 115.2M207.4 116.7 206.3 116.7 206.3 116.7 205.5 115.2 205.3 113.6 205.8 112.1 206.3 110.9 207.4 111.8M187.0 121.3 187.1 119.8 187.7 119.1 188.6 118.2 188.8 118.0 189.9 118.2 189.9 118.2 190.4 119.8 190.7 121.3" fill="none" stroke="#ff8070" stroke-width="0.7" opacity="0.85"/>
<path d="M167.2 67.3h0M155.7 71.8h0M152.8 71.9h0M136.2 63.5h0M149.6 79.8h0M149.0 69.3h0M151.3 61.1h0M146.7 71.9h0M151.6 59.3h0M147.9 71.4h0M140.8 58.4h0M159.5 70.7h0M159.5 62.5h0M166.5 72.8h0M152.4 70.4h0M148.6 68.7h0M147.4 66.4h0M138.9 72.5h0M160.4 55.2h0M142.6 68.6h0M141.9 68.5h0M150.3 69.4h0M164.6 71.0h0M154.0 88.2h0M143.3 66.7h0M145.9 70.8h0M157.3 66.9h0M150.6 75.4h0M145.5 53.9h0M150.0 76.2h0M158.3 61.9h0M168.8 52.4h0M141.4 59.5h0M146.7 65.0h0M145.2 67.2h0M132.6 65.7h0M144.1 70.9h0M143.3 65.8h0M161.6 65.6h0M150.9 53.1h0M138.2 68.9h0M157.5 72.1h0M149.0 63.5h0M137.2 54.7h0M146.9 58.0h0M147.0 76.0h0M144.6 62.4h0M152.3 62.0h0M132.9 61.1h0M149.7 70.1h0M160.6 62.5h0M159.2 60.8h0M161.4 57.0h0M161.5 65.4h0M164.6 72.0h0M142.5 65.1h0M159.2 71.3h0M136.2 67.1h0M146.9 66.9h0M135.7 67.1h0M160.9 66.2h0M163.3 72.2h0M150.3 68.9h0M167.1 62.5h0M146.3 66.8h0M153.3 65.5h0M153.3 68.9h0M143.0 67.1h0M155.7 68.5h0M168.5 57.1h0M143.3 68.3h0M159.6 73.9h0M150.7 57.9h0M167.0 75.6h0M156.1 67.8h0M157.7 64.8h0M157.5 55.2h0M154.1 72.5h0M140.1 60.2h0M163.8 62.9h0M140.3 69.3h0M154.0 59.8h0M157.2 60.1h0M144.9 59.1h0M153.2 65.3h0M161.9 69.5h0M151.8 68.4h0M144.4 68.4h0M132.6 63.9h0M143.7 66.8h0M147.0 61.9h0M147.6 78.0h0M143.8 67.2h0M155.2 54.3h0M147.1 59.6h0M151.1 75.6h0M157.8 57.8h0M144.7 63.4h0M149.4 68.4h0M170.3 59.4h0M159.4 72.4h0M141.0 76.1h0M151.3 61.1h0M156.8 72.8h0M162.5 60.7h0M153.3 60.0h0M147.5 67.5h0M145.8 67.4h0M157.5 62.4h0M154.7 71.1h0M147.6 57.2h0M150.4 60.9h0M148.5 59.5h0M158.2 70.6h0M146.1 70.8h0M156.1 70.0h0M159.2 58.2h0M156.1 66.8h0M144.9 68.7h0M163.4 56.3h0M146.2 61.1h0M155.6 69.9h0M145.6 70.2h0M137.2 67.5h0M153.9 69.3h0M154.4 67.9h0M151.3 66.9h0M154.3 65.3h0M146.5 60.8h0M145.7 64.5h0M150.6 63.6h0M168.2 79.9h0M158.9 67.6h0M147.6 65.9h0M156.7 64.6h0M147.9 65.3h0M148.1 64.4h0M159.3 69.3h0M147.5 65.8h0M137.8 70.9h0M144.3 61.8h0M152.8 68.1h0M153.1 71.3h0M162.6 59.1h0M145.9 67.0h0M158.2 67.5h0M155.6 64.0h0M150.7 63.1h0M159.1 54.9h0M156.2 72.9h0M144.7 60.4h0M161.1 58.6h0M141.6 69.9h0M152.5 55.0h0M152.0 71.8h0M155.6 68.6h0M145.8 69.6h0M151.7 65.0h0M150.8 58.7h0M160.5 54.7h0M145.2 74.7h0M152.6 63.2h0M149.8 62.9h0M141.0 75.5h0M174.7 62.2h0M151.4 64.6h0M139.4 64.6h0M164.0 65.2h0M142.9 59.8h0M155.2 62.6h0M159.3 73.7h0M146.5 70.6h0M148.3 48.1h0M147.4 54.2h0M150.9 68.0h0M138.2 65.3h0M141.5 63.8h0M150.8 72.3h0M160.8 55.3h0M157.4 73.2h0M166.7 66.8h0M157.9 69.3h0M147.7 67.5h0M151.0 71.1h0M134.7 64.5h0M143.8 62.7h0M143.3 70.7h0M154.3 67.1h0M157.5 58.5h0M147.2 74.1h0M147.0 73.3h0M138.9 74.6h0M150.9 66.5h0M154.1 68.1h0M155.8 63.7h0M145.3 60.2h0M168.9 66.4h0M162.2 67.1h0M151.2 62.0h0M147.5 77.0h0M149.3 56.3h0M153.3 61.1h0M151.8 62.0h0M156.1 73.7h0M158.5 64.5h0M163.6 64.1h0M161.8 60.7h0M151.1 61.4h0M155.3 58.2h0M148.7 72.1h0M147.0 69.7h0M168.2 71.9h0M148.1 62.0h0M168.9 81.1h0M149.0 60.1h0M154.1 53.7h0M161.3 64.2h0M152.2 66.8h0M155.3 70.5h0M149.9 59.9h0M148.0 69.5h0M150.6 76.2h0M146.5 60.9h0M165.9 61.6h0M150.6 55.8h0M166.6 67.4h0M132.6 71.1h0M152.2 70.6h0M156.8 71.0h0M149.5 74.5h0M161.3 66.8h0M157.4 71.7h0M149.7 60.3h0M155.7 61.3h0M175.9 67.4h0M154.1 61.1h0M154.5 69.4h0M148.3 74.3h0M153.1 68.4h0M141.0 61.6h0M150.3 61.5h0M172.9 74.2h0M161.1 61.2h0M157.5 66.5h0M161.4 64.4h0M168.0 66.3h0M157.0 72.6h0M169.6 62.8h0M161.1 57.5h0M153.4 74.7h0M166.6 67.3h0M132.6 70.4h0M147.1 65.9h0M154.3 70.7h0M144.2 73.6h0M150.7 74.2h0M146.6 64.4h0M146.4 63.9h0M175.1 68.4h0M157.3 67.2h0M151.5 69.4h0M163.2 61.7h0M150.0 52.1h0M159.5 68.7h0M155.0 70.7h0M165.8 69.9h0M139.9 76.0h0M158.5 71.1h0M153.0 63.7h0M142.2 71.9h0M161.1 65.5h0M144.6 73.5h0M165.8 67.4h0M156.4 68.7h0M157.9 67.4h0M152.7 66.3h0M159.7 57.0h0M136.1 66.3h0M152.6 52.4h0M146.7 69.0h0M154.4 72.0h0M151.6 78.3h0M157.2 68.2h0M144.9 61.7h0M167.6 56.5h0M171.7 77.7h0M150.2 57.4h0M151.9 71.4h0M154.4 52.2h0M162.7 65.7h0M168.1 70.1h0M141.8 68.0h0M146.8 65.8h0M143.0 61.1h0M142.5 60.6h0M138.1 72.1h0M155.1 68.6h0M142.1 65.0h0M164.8 67.2h0M159.7 60.4h0M143.2 72.1h0M143.2 73.6h0M146.8 61.3h0M163.9 66.6h0M144.8 72.3h0M139.3 62.1h0M151.6 78.2h0M155.2 75.1h0M146.4 64.3h0M165.8 71.9h0M154.0 76.0h0M155.9 58.5h0M144.7 69.7h0M151.7 65.1h0M150.7 64.7h0M132.7 70.3h0M154.4 63.1h0M136.7 57.6h0M151.8 57.5h0M139.5 65.9h0M169.2 69.8h0M154.8 65.9h0M159.3 65.1h0M159.8 65.8h0M140.7 73.7h0M132.6 69.2h0M149.2 61.5h0M159.6 64.3h0M152.8 73.2h0M158.7 62.5h0M160.0 63.6h0M139.3 65.8h0M154.4 59.6h0M168.7 71.4h0M147.2 52.9h0M134.8 74.7h0M150.0 63.4h0M148.1 58.5h0M155.6 67.7h0M144.4 55.7h0M152.8 69.2h0M133.2 70.6h0M159.3 62.5h0M165.5 63.7h0M163.0 71.7h0M139.1 62.0h0M154.7 66.1h0M132.6 68.1h0M154.4 75.4h0M151.5 63.0h0M143.5 66.2h0M154.9 72.8h0M153.2 50.7h0M160.0 64.4h0M153.1 54.5h0M154.0 55.0h0M135.5 77.7h0M142.1 67.3h0M148.0 74.9h0M154.5 64.6h0M151.9 69.2h0M164.8 63.4h0M144.6 62.7h0M150.0 65.6h0M154.2 66.8h0M150.0 75.2h0M156.2 64.8h0M147.2 68.3h0M164.1 64.5h0M149.3 66.9h0M161.5 58.1h0M151.7 72.5h0M164.7 62.9h0M140.1 66.2h0M156.4 64.7h0M148.3 71.9h0M154.0 69.1h0M162.1 66.1h0M142.3 67.1h0M140.8 68.1h0M143.5 70.5h0M154.2 69.0h0M136.0 73.7h0M152.8 75.7h0M141.1 69.7h0M142.3 58.1h0M148.9 76.5h0M155.2 78.9h0M146.7 63.8h0M147.8 63.5h0M151.6 53.6h0M149.7 70.7h0M132.6 60.0h0M148.3 77.0h0M152.7 51.1h0M161.3 66.4h0M169.4 70.0h0M157.7 63.6h0M152.7 61.2h0M143.8 67.5h0M152.8 62.8h0M158.6 63.9h0M162.7 65.8h0M144.5 62.7h0M154.0 64.6h0M158.9 70.7h0M167.8 63.7h0M154.2 67.0h0M147.4 61.5h0M146.1 71.5h0M149.0 58.3h0M146.5 71.7h0M159.0 47.8h0M161.1 60.5h0M158.2 56.5h0M162.1 72.1h0M148.1 67.6h0M155.2 58.1h0M148.7 62.6h0M152.4 74.0h0M162.4 65.6h0M151.7 69.3h0M136.1 56.9h0M149.9 56.9h0M145.9 69.3h0M139.2 79.7h0M145.3 62.6h0M160.2 69.4h0M166.3 60.2h0M147.8 73.4h0M160.5 63.1h0M162.0 63.2h0M142.1 54.5h0M151.7 63.3h0M151.6 66.9h0M153.5 74.1h0M138.5 58.8h0M149.0 71.7h0M161.0 63.8h0M162.7 64.1h0M167.6 60.1h0M149.1 55.6h0M167.9 58.5h0M157.7 75.5h0M140.4 58.6h0M158.5 63.1h0M149.0 72.4h0M156.4 53.0h0M151.1 68.4h0M162.3 62.6h0M154.2 66.8h0M149.6 70.9h0M160.2 64.8h0M154.2 64.5h0M148.5 70.0h0M162.9 69.5h0M148.5 61.4h0M146.6 64.6h0M147.4 57.6h0M139.5 73.4h0M147.3 58.4h0M167.8 66.8h0M144.3 76.2h0M152.1 70.5h0M142.6 64.0h0M146.8 61.3h0M164.9 62.0h0M159.6 71.2h0M146.8 67.8h0M152.1 65.7h0M145.0 81.4h0M145.3 60.8h0M144.2 62.8h0M144.4 63.5h0M154.8 67.1h0M157.1 67.7h0M156.2 64.2h0M150.6 70.2h0M140.5 69.0h0M151.4 64.0h0M144.1 51.1h0M159.5 70.5h0M156.7 60.0h0M158.3 61.8h0M149.0 64.8h0M136.6 58.2h0M160.1 60.8h0M162.4 66.0h0M139.4 63.5h0M153.2 67.4h0M162.1 60.4h0M142.9 64.1h0M167.0 59.1h0M149.0 63.8h0M142.9 67.2h0M163.7 64.0h0M154.5 56.9h0M146.4 64.3h0M159.5 66.3h0M135.4 72.3h0M167.4 65.2h0M145.1 63.0h0M154.4 58.5h0M148.6 77.4h0M155.7 59.8h0M159.5 58.7h0M145.0 64.6h0M158.7 54.6h0M149.5 71.9h0M146.2 66.6h0M150.1 68.4h0M143.5 59.6h0M145.2 62.5h0M160.1 70.7h0M150.7 71.0h0M161.7 82.6h0M155.7 72.2h0M143.3 54.2h0M135.9 66.1h0M146.2 63.4h0M154.2 72.2h0M152.1 65.1h0M144.9 68.6h0M160.6 63.7h0M137.2 69.3h0M141.3 74.4h0M153.1 62.0h0M170.6 53.4h0M155.5 59.5h0M143.5 75.0h0M157.0 67.0h0M157.8 63.9h0M160.0 59.9h0M148.5 72.0h0M145.2 67.4h0M153.0 65.0h0M155.5 62.4h0M165.6 64.7h0M169.8 63.8h0M145.8 69.1h0M147.6 73.3h0M151.5 53.9h0M149.9 57.0h0M156.1 65.1h0M156.1 66.2h0M154.2 56.4h0M163.4 62.0h0M150.7 63.3h0M143.1 63.0h0M138.7 62.9h0M143.3 65.2h0M143.1 71.0h0M136.0 70.1h0M157.6 69.2h0M153.6 67.3h0M148.4 61.4h0M144.4 62.8h0M138.6 69.8h0M144.2 66.4h0M167.7 70.5h0M133.2 67.3h0M153.2 66.0h0M158.3 68.3h0M153.2 56.4h0M149.3 64.7h0M158.5 62.2h0M142.6 70.8h0M156.7 61.6h0M164.2 67.1h0M143.1 63.1h0M145.0 68.5h0M153.2 70.0h0M160.4 64.4h0M163.4 66.3h0M157.8 66.7h0M146.3 70.3h0M142.5 63.7h0M154.1 65.8h0M155.4 63.0h0M142.6 59.8h0M152.5 66.6h0M154.8 68.1h0M160.9 60.7h0M143.6 75.0h0M156.7 61.1h0M142.1 70.0h0M148.4 67.8h0M151.3 55.3h0M164.9 65.4h0M180.2 56.1h0M154.2 64.9h0M156.2 69.6h0M160.6 76.6h0M140.4 70.2h0M158.5 56.4h0M141.4 63.4h0M165.8 74.5h0M164.3 66.6h0M156.3 76.1h0M145.1 61.2h0M166.2 62.2h0M154.2 57.4h0M152.9 63.2h0M156.9 73.1h0M137.4 59.9h0M155.6 70.5h0M160.5 68.3h0M154.9 70.3h0M153.2 64.0h0M143.9 65.7h0M157.5 78.4h0M153.7 58.0h0M152.1 70.1h0M147.2 74.7h0M159.3 68.3h0M162.6 75.5h0M155.3 47.7h0M159.6 63.7h0M163.3 58.5h0M165.5 63.0h0M153.9 64.8h0M150.2 68.4h0M148.5 60.3h0M152.1 70.7h0M156.7 56.0h0M160.0 71.2h0M148.4 63.9h0M153.3 54.8h0M143.5 54.7h0M162.7 54.6h0M148.7 59.4h0M155.0 66.1h0M145.9 73.3h0M149.5 70.1h0M146.2 57.3h0M166.5 51.5h0M155.1 63.5h0M150.6 56.7h0M143.9 64.2h0M146.8 61.1h0M156.8 80.7h0M166.2 54.9h0M139.8 67.1h0M144.2 76.4h0M150.5 62.7h0M146.7 60.5h0M137.9 75.3h0M152.2 52.4h0M158.4 54.9h0M138.6 57.8h0M151.6 45.8h0M153.8 52.6h0M148.4 33.1h0M162.3 41.8h0M147.9 47.3h0M149.2 39.8h0M147.4 51.8h0M156.6 50.0h0M149.3 44.4h0M146.9 49.4h0M159.4 41.4h0M157.1 44.4h0M155.4 47.0h0M141.7 40.9h0M142.9 54.2h0M147.9 45.7h0M147.8 54.1h0M146.8 48.2h0M148.1 50.5h0M153.4 44.4h0M143.4 47.4h0M151.0 46.9h0M147.1 50.2h0M146.6 55.9h0M147.8 46.2h0M154.0 48.2h0M151.3 50.8h0M144.9 53.3h0M151.6 48.4h0M150.5 47.1h0M152.2 46.1h0M148.1 49.0h0M155.7 50.2h0M152.1 45.6h0M142.9 47.5h0M142.0 52.8h0M141.3 48.9h0M152.2 46.1h0M145.7 52.5h0M147.7 52.6h0M149.4 52.1h0M157.3 52.3h0M163.1 47.0h0M149.2 50.0h0M161.9 50.6h0M153.2 49.6h0M157.2 40.2h0M148.3 48.9h0M142.5 50.8h0M152.9 51.5h0M157.7 47.5h0M140.6 49.2h0M149.6 40.0h0M151.3 41.5h0M153.6 34.1h0M143.4 47.9h0M146.6 57.1h0M155.6 57.8h0M160.9 43.4h0M150.6 52.3h0M155.9 55.3h0M151.0 47.5h0M152.6 39.2h0M147.6 56.1h0M148.6 47.2h0M146.5 47.0h0M150.6 57.6h0M156.6 51.4h0M151.1 53.2h0M153.9 57.0h0M155.1 50.6h0M144.4 78.0h0M167.4 74.8h0M157.2 52.4h0M166.9 68.3h0M162.5 67.3h0M147.4 55.9h0M157.7 52.3h0M153.0 75.5h0M154.4 58.7h0M156.9 71.8h0M162.0 81.8h0M160.2 67.6h0M140.9 53.9h0M165.7 72.6h0M138.8 49.0h0M186.4 53.7h0M147.6 92.1h0M156.8 54.8h0M175.0 66.3h0M155.0 52.2h0M141.1 61.6h0M139.0 64.8h0M161.3 36.3h0M162.9 56.2h0M168.4 69.4h0M161.1 71.4h0M151.3 66.1h0M163.7 53.3h0M176.3 66.7h0M147.2 57.8h0M204.1 55.0h0M152.2 62.7h0M173.9 85.5h0M182.2 53.7h0M169.5 73.1h0M161.5 65.2h0M167.0 47.8h0M175.0 53.6h0M132.6 61.0h0M163.6 57.9h0M152.3 65.3h0M148.5 52.7h0M159.1 52.5h0M159.8 72.7h0M163.9 62.3h0M149.9 54.1h0M172.1 62.6h0M132.6 81.0h0M144.8 56.8h0M141.5 47.7h0M158.6 72.0h0M150.7 82.2h0M164.1 75.2h0M146.9 49.4h0M173.9 41.9h0M166.8 75.2h0M150.4 60.7h0M135.0 67.5h0M141.5 60.6h0M136.8 79.3h0M173.2 63.2h0M166.8 59.2h0M140.5 63.8h0M181.5 50.4h0M153.1 64.0h0M132.6 61.4h0M171.2 41.1h0M174.0 50.9h0M157.1 49.7h0M145.3 46.5h0M173.1 65.8h0M150.4 73.5h0M156.8 65.4h0M163.1 47.3h0M161.0 44.3h0M151.0 69.9h0M143.4 59.0h0M166.8 61.0h0M132.6 49.1h0M161.3 41.7h0M160.5 84.1h0M163.9 55.9h0M152.2 60.0h0M159.9 50.5h0M167.4 77.2h0M143.4 58.4h0M157.7 60.3h0M162.0 62.3h0M140.6 61.7h0M144.7 76.0h0M177.6 43.6h0M170.6 68.1h0M147.4 55.6h0M166.4 57.7h0M162.4 55.6h0M175.3 66.0h0M171.9 48.9h0M132.6 56.3h0M153.2 67.3h0M175.0 56.0h0M178.4 56.9h0M149.0 65.4h0M141.0 62.6h0M160.4 58.3h0M148.7 62.2h0M156.8 52.8h0M141.8 70.2h0M167.0 50.7h0M164.5 45.6h0M163.0 65.9h0M142.8 48.4h0M135.1 52.0h0M140.4 59.4h0M163.5 68.6h0M133.6 56.7h0M165.6 57.1h0M180.1 57.2h0M148.9 65.2h0M154.6 56.4h0M169.9 63.8h0M169.0 75.0h0M149.0 59.2h0M154.8 57.7h0M158.7 52.1h0M153.6 53.8h0M164.6 49.0h0M161.4 50.4h0M174.1 55.5h0M134.9 64.7h0M172.5 66.2h0M167.7 57.0h0M155.4 64.5h0M162.5 48.3h0M169.8 81.9h0M161.0 86.0h0M153.9 60.1h0M160.8 66.3h0M148.1 62.3h0M140.1 69.1h0M145.8 55.0h0M147.1 46.1h0M159.6 69.4h0M167.5 50.4h0M160.3 64.8h0M176.1 52.1h0M156.0 53.6h0M148.8 71.1h0M147.7 77.4h0M145.5 59.8h0M153.2 57.1h0M175.1 64.3h0M138.1 55.9h0M164.4 44.0h0M157.1 61.1h0M168.2 39.0h0M151.2 65.6h0M166.8 56.3h0M150.9 63.2h0M165.6 46.6h0M132.6 53.8h0M163.9 67.0h0M167.2 74.9h0M136.8 69.7h0M168.6 65.1h0M142.8 50.2h0M170.5 67.0h0M157.6 62.6h0M166.6 58.1h0M162.5 74.3h0M158.0 18.5h0M147.5 33.4h0M140.5 41.6h0M140.9 31.0h0M139.4 44.5h0M149.6 19.3h0M151.2 26.4h0M133.3 44.7h0M132.7 42.5h0M144.4 33.0h0M147.8 26.0h0M144.7 20.4h0M133.8 43.0h0M132.7 23.6h0M147.6 38.7h0M141.2 29.0h0M145.2 35.5h0M163.1 21.2h0M132.6 34.3h0M158.6 42.9h0M160.2 29.4h0M134.9 33.1h0M152.7 23.0h0M137.8 45.5h0M139.2 40.2h0M141.3 21.0h0M153.0 47.1h0M132.6 44.8h0M148.2 36.0h0M144.0 45.3h0M159.4 44.2h0M158.1 40.8h0M161.8 43.6h0M167.3 17.7h0M150.8 22.8h0M132.6 39.0h0M167.0 41.5h0M135.0 21.2h0M166.9 30.8h0M162.0 26.6h0M139.3 44.1h0M146.1 29.5h0M153.7 39.1h0M147.9 37.5h0M161.4 26.1h0M133.5 47.7h0M152.9 42.5h0M136.8 24.9h0M148.0 28.5h0M161.0 21.3h0M163.5 45.7h0M137.3 21.9h0M158.8 47.4h0M134.7 26.8h0M163.9 36.2h0M146.4 27.1h0M139.3 38.7h0M155.2 39.2h0M133.3 45.4h0M164.0 31.9h0M167.3 25.0h0M169.2 38.0h0M146.3 16.8h0M141.5 35.9h0M167.5 17.3h0M166.9 44.0h0M167.0 43.8h0M166.9 39.7h0M156.3 34.6h0M132.6 16.4h0M160.1 21.7h0M167.9 44.7h0M139.7 16.8h0M141.5 25.6h0M142.3 17.7h0M161.4 33.4h0M155.2 36.3h0M133.6 19.1h0M152.3 18.5h0M144.5 25.1h0M161.1 35.3h0M155.1 28.7h0M144.9 23.7h0M138.4 17.9h0M134.8 41.3h0M159.2 45.8h0M155.7 26.2h0M143.2 46.3h0M164.6 21.7h0M135.2 31.3h0M164.7 33.5h0M139.2 47.4h0M158.5 24.4h0M142.5 43.4h0M136.5 24.1h0M143.9 22.9h0M160.8 18.3h0M158.0 23.6h0M159.7 17.9h0M142.8 44.5h0M163.0 16.2h0M135.0 43.3h0M139.0 34.6h0M167.3 20.0h0M152.5 28.0h0M160.6 33.0h0M155.0 37.1h0M141.1 28.9h0M143.4 21.7h0M159.0 23.0h0M149.9 31.5h0M160.3 34.3h0M164.9 45.6h0M149.5 20.1h0M163.5 25.2h0M153.1 31.4h0M169.3 40.3h0M150.7 27.7h0M169.6 30.3h0M153.2 47.6h0M161.5 16.4h0M163.6 18.7h0M165.2 22.9h0M146.6 37.4h0M136.6 22.9h0M132.7 27.8h0M167.1 37.1h0M139.3 32.0h0M164.1 26.6h0M150.1 45.4h0M148.8 30.5h0M168.1 17.6h0M152.1 41.6h0M134.4 45.3h0M162.5 22.5h0M178.3 40.5h0M161.6 49.1h0M168.1 45.1h0M194.9 33.7h0M176.2 39.1h0M173.4 48.8h0M169.6 40.9h0M170.7 47.3h0M163.3 44.0h0M156.9 51.2h0M192.0 39.9h0M185.5 47.3h0M161.1 52.6h0M162.3 48.0h0M198.0 38.8h0M188.3 40.6h0M167.7 48.9h0M189.8 34.5h0M186.6 47.4h0M173.1 44.2h0M163.6 45.4h0M160.0 52.7h0M166.6 47.0h0M161.4 51.6h0M180.3 43.3h0M176.4 41.4h0M178.4 48.9h0M169.8 39.9h0M185.2 36.4h0M178.6 52.4h0M193.6 31.0h0M174.2 48.4h0M168.5 56.2h0M182.2 38.9h0M160.8 53.0h0M196.0 36.4h0M172.8 48.4h0M189.2 42.9h0M173.0 45.7h0M184.7 40.9h0M167.7 42.9h0M179.6 38.0h0M168.0 50.0h0M180.2 38.9h0M171.4 46.0h0M201.5 71.4h0M187.9 66.7h0M194.5 73.8h0M188.0 30.8h0M204.4 68.9h0M190.8 17.5h0M185.5 35.7h0M198.1 44.4h0M193.3 40.2h0M186.8 52.1h0M170.9 58.4h0M206.5 34.3h0M171.5 21.0h0M184.5 18.4h0M199.0 42.3h0M177.1 75.2h0M180.8 55.6h0M174.0 41.9h0M172.8 68.5h0M192.8 77.9h0M178.6 79.3h0M171.4 25.1h0M204.2 27.9h0M178.9 26.9h0M187.2 76.6h0M192.2 72.1h0M193.1 48.6h0M182.5 55.8h0M190.6 45.3h0M200.3 67.5h0M188.5 57.7h0M179.8 38.3h0M177.5 24.7h0M180.7 50.7h0M186.7 18.3h0M202.3 50.5h0M190.7 37.7h0M196.7 51.4h0M191.6 33.2h0M180.6 46.8h0M205.7 72.5h0M171.0 22.8h0M183.0 21.9h0M180.3 26.0h0M177.1 25.3h0M169.7 73.2h0M184.6 29.8h0M206.6 61.5h0M196.2 66.6h0M173.8 49.5h0M189.2 78.0h0M161.5 79.0h0M159.8 78.3h0M171.6 79.3h0M160.2 78.1h0M185.1 78.5h0M173.4 78.5h0M184.8 77.8h0M178.8 79.4h0M178.0 78.9h0M166.2 78.6h0M196.7 79.6h0M153.4 78.3h0M181.8 78.6h0M191.9 79.5h0M188.6 80.5h0M157.0 78.7h0M193.9 79.9h0M191.3 78.7h0M192.8 78.0h0M181.7 79.0h0M193.4 79.6h0M190.4 78.8h0M197.7 79.0h0M180.5 77.7h0M132.6 83.1h0M132.7 25.7h0M132.6 19.1h0M132.6 34.4h0M132.6 65.7h0M132.7 31.5h0M133.0 38.0h0M132.6 53.0h0M132.6 42.6h0M132.6 61.0h0M133.1 63.7h0M132.6 44.2h0M132.6 46.3h0M132.6 82.8h0M133.3 50.5h0M132.6 70.7h0M132.6 85.0h0M132.7 26.2h0M132.6 25.5h0M132.6 30.3h0M141.5 16.3h0M185.8 16.3h0M150.9 16.3h0M138.1 16.3h0M157.0 16.3h0M190.0 16.3h0M158.0 16.3h0M168.0 16.3h0M151.5 16.3h0M204.9 16.3h0M175.9 99.0h0M155.3 89.0h0M147.0 111.2h0M144.3 94.4h0M153.7 86.3h0M198.6 85.6h0M141.7 101.4h0M197.5 87.7h0M203.0 86.5h0M150.9 105.8h0M135.0 104.2h0M150.7 89.3h0M135.3 88.6h0M180.1 95.4h0M173.4 83.1h0M158.3 87.6h0M204.3 104.9h0M203.1 91.8h0M179.7 97.2h0M182.2 111.5h0M206.0 113.5h0M175.9 83.3h0M190.3 110.5h0M174.9 119.7h0M162.2 87.0h0M194.3 86.0h0M182.4 114.7h0M133.5 107.3h0M140.4 85.5h0M149.2 116.4h0M147.9 93.3h0M149.4 113.1h0M140.7 120.2h0M202.0 83.4h0M161.8 115.0h0M169.4 111.6h0M189.9 101.8h0M135.0 105.8h0M141.0 109.6h0M187.4 111.9h0" stroke="#000" stroke-width="2.40" stroke-linecap="round" fill="none"/>
<circle cx="149.5" cy="63.0" r="1.1" fill="#f00"/>
</g>
<polyline points="243.0,91.6 243.4,36.2 244.1,50.5 245.1,58.7 246.2,66.9 247.2,73.1 248.2,79.2 249.2,85.4 250.3,90.5 252.3,95.6 254.4,99.7 257.4,103.4 260.5,104.9 266.7,106.3 272.8,107.5 280.0,109.8 287.5,111.2 289.0,112.8 290.0,113.3 300.0,114.3 310.0,115.2 317.4,115.7" fill="none" stroke="#7ef07e" stroke-width="0.8" stroke-linejoin="round"/>
<polyline points="353.8,16.0 355.4,35.2 356.8,50.6 357.3,58.4 358.1,70.0 359.3,81.6 360.0,92.0 360.3,106.1 361.6,110.1 364.2,110.5 366.0,112.3 368.1,113.1 369.5,115.3 370.3,117.0 374.7,117.7 380.8,118.4 385.2,119.7 389.5,120.5 400.0,120.7 427.8,121.0" fill="none" stroke="#f77" stroke-width="0.7" stroke-linejoin="round"/>
<polyline points="463.9,17.8 464.8,19.7 465.4,35.2 466.8,30.4 468.1,24.6 469.3,31.3 470.0,37.1 471.2,35.2 472.0,41.0 473.1,42.9 473.9,46.8 475.1,52.6 476.0,47.7 477.0,53.5 478.0,50.6 478.9,56.4 480.3,59.3 481.3,53.5 482.2,63.2 483.2,50.6 484.2,58.4 485.1,52.6 486.1,57.4 487.1,52.6 488.0,61.3 489.0,56.4 490.0,62.2 490.9,68.0 491.9,55.5 492.9,61.3 494.4,64.2 495.7,63.2 497.1,65.7 498.7,69.8 499.5,80.1 500.8,62.6 501.8,60.5 502.8,67.7 504.2,72.9 505.3,70.8 506.3,77.0 507.3,72.9 508.4,76.0 509.4,70.8 510.4,74.9 511.4,68.8 512.5,73.9 513.5,68.8 514.5,66.7 515.5,76.0 516.6,72.9 517.2,86.2 518.2,79.0 519.0,76.0 519.7,70.8 520.7,78.0 521.7,69.8 522.7,74.9 523.8,70.8 524.8,78.0 525.8,79.0 526.8,84.2 527.9,90.3 528.9,93.4 530.3,95.5 531.6,96.5 532.4,100.6 533.4,101.6 534.4,106.8 535.5,110.9 536.5,108.8 537.5,110.9 538.2,106.0" fill="none" stroke="#444" stroke-width="0.7" stroke-linejoin="round"/>
<g transform="matrix(1.0,0,0,1,0.0,0.0)">
<line x1="75.60" y1="111.10" x2="42.90" y2="85.10" stroke="#b8b8b8" stroke-width="0.4" stroke-dasharray="0.6 1"/>
<line x1="38.05" y1="108.00" x2="80.45" y2="88.20" stroke="#b8b8b8" stroke-width="0.4" stroke-dasharray="0.6 1"/>
<line x1="42.90" y1="85.10" x2="42.90" y2="26.50" stroke="#b8b8b8" stroke-width="0.4" stroke-dasharray="0.6 1"/>
<line x1="80.45" y1="88.20" x2="80.45" y2="29.60" stroke="#b8b8b8" stroke-width="0.4" stroke-dasharray="0.6 1"/>
<line x1="21.70" y1="80.35" x2="64.10" y2="60.55" stroke="#b8b8b8" stroke-width="0.4" stroke-dasharray="0.6 1"/>
<line x1="64.10" y1="60.55" x2="96.80" y2="86.55" stroke="#b8b8b8" stroke-width="0.4" stroke-dasharray="0.6 1"/>
<line x1="21.70" y1="65.70" x2="64.10" y2="45.90" stroke="#b8b8b8" stroke-width="0.4" stroke-dasharray="0.6 1"/>
<line x1="64.10" y1="45.90" x2="96.80" y2="71.90" stroke="#b8b8b8" stroke-width="0.4" stroke-dasharray="0.6 1"/>
<line x1="21.70" y1="51.05" x2="64.10" y2="31.25" stroke="#b8b8b8" stroke-width="0.4" stroke-dasharray="0.6 1"/>
<line x1="64.10" y1="31.25" x2="96.80" y2="57.25" stroke="#b8b8b8" stroke-width="0.4" stroke-dasharray="0.6 1"/>
<line x1="21.70" y1="95.00" x2="64.10" y2="75.20" stroke="#3c3c3c" stroke-width="0.55"/>
<line x1="64.10" y1="75.20" x2="96.80" y2="101.20" stroke="#3c3c3c" stroke-width="0.55"/>
<line x1="64.10" y1="75.20" x2="64.10" y2="16.60" stroke="#3c3c3c" stroke-width="0.55"/>
<g opacity="0.9">
<path class="j52" d="M63.9 32.3 64.8 34.1 64.1 29.9 63.1 29.9z"/>
<path class="j53" d="M62.9 31.4 63.9 32.3 63.1 29.9 62.2 31.4z"/>
<path class="j44" d="M64.6 37.7 65.6 40.4 64.8 34.1 63.9 32.3z"/>
<path class="j49" d="M62 36.7 62.9 31.4 62.2 31.4 61.2 35.9z"/>
<path class="j49" d="M63.7 34.3 64.6 37.7 63.9 32.3 62.9 31.4z"/>
<path class="j41" d="M65.4 40 66.3 36.1 65.6 40.4 64.6 37.7z"/>
<path class="j47" d="M61 36.7 62 36.7 61.2 35.9 60.2 32.3z"/>
<path class="j49" d="M62.7 34.2 63.7 34.3 62.9 31.4 62 36.7z"/>
<path class="j42" d="M64.4 41.2 65.4 40 64.6 37.7 63.7 34.3z"/>
<path class="j43" d="M66.1 41.8 67.1 33.6 66.3 36.1 65.4 40z"/>
<path class="j52" d="M60 33.3 61 36.7 60.2 32.3 59.3 30z"/>
<path class="j48" d="M61.7 34.7 62.7 34.2 62 36.7 61 36.7z"/>
<path class="j46" d="M63.4 37.4 64.4 41.2 63.7 34.3 62.7 34.2z"/>
<path class="j34" d="M65.1 49.3 66.1 41.8 65.4 40 64.4 41.2z"/>
<path class="j58" d="M59.1 28.5 60 33.3 59.3 30 58.3 28.6z"/>
<path class="j42" d="M66.9 46.3 67.8 35.5 67.1 33.6 66.1 41.8z"/>
<path class="j48" d="M60.8 37.5 61.7 34.7 61 36.7 60 33.3z"/>
<path class="j50" d="M62.5 33.9 63.4 37.4 62.7 34.2 61.7 34.7z"/>
<path class="j34" d="M64.2 47.1 65.1 49.3 64.4 41.2 63.4 37.4z"/>
<path class="j57" d="M58.1 34.1 59.1 28.5 58.3 28.6 57.4 34.7z"/>
<path class="j25" d="M65.9 57.8 66.9 46.3 66.1 41.8 65.1 49.3z"/>
<path class="j53" d="M59.8 35.3 60.8 37.5 60 33.3 59.1 28.5z"/>
<path class="j37" d="M67.6 48.9 68.6 37.6 67.8 35.5 66.9 46.3z"/>
<path class="j48" d="M61.5 40.5 62.5 33.9 61.7 34.7 60.8 37.5z"/>
<path class="j43" d="M63.2 39 64.2 47.1 63.4 37.4 62.5 33.9z"/>
<path class="j45" d="M57.1 42.3 58.1 34.1 57.4 34.7 56.4 41.8z"/>
<path class="j19" d="M64.9 54.4 65.9 57.8 65.1 49.3 64.2 47.1z"/>
<path class="j53" d="M58.8 38.9 59.8 35.3 59.1 28.5 58.1 34.1z"/>
<path class="j19" d="M66.6 57.4 67.6 48.9 66.9 46.3 65.9 57.8z"/>
<path class="j44" d="M60.5 42.8 61.5 40.5 60.8 37.5 59.8 35.3z"/>
<path class="j31" d="M68.3 53.4 69.3 43.8 68.6 37.6 67.6 48.9z"/>
<path class="j45" d="M62.3 41.2 63.2 39 62.5 33.9 61.5 40.5z"/>
<path class="j35" d="M56.2 47.6 57.1 42.3 56.4 41.8 55.4 45z"/>
<path class="j30" d="M64 46.4 64.9 54.4 64.2 47.1 63.2 39z"/>
<path class="j45" d="M57.9 40.6 58.8 38.9 58.1 34.1 57.1 42.3z"/>
<path class="j14" d="M65.7 53 66.6 57.4 65.9 57.8 64.9 54.4z"/>
<path class="j43" d="M59.6 44 60.5 42.8 59.8 35.3 58.8 38.9z"/>
<path class="j18" d="M67.4 55 68.3 53.4 67.6 48.9 66.6 57.4z"/>
<path class="j39" d="M61.3 45.1 62.3 41.2 61.5 40.5 60.5 42.8z"/>
<path class="j30" d="M55.2 48.9 56.2 47.6 55.4 45 54.5 48.2z"/>
<path class="j33" d="M69.1 47.2 70 38.7 69.3 43.8 68.3 53.4z"/>
<path class="j38" d="M63 46.4 64 46.4 63.2 39 62.3 41.2z"/>
<path class="j38" d="M56.9 40.6 57.9 40.6 57.1 42.3 56.2 47.6z"/>
<path class="j25" d="M64.7 47.6 65.7 53 64.9 54.4 64 46.4z"/>
<path class="j42" d="M58.6 40 59.6 44 58.8 38.9 57.9 40.6z"/>
<path class="j19" d="M66.4 48 67.4 55 66.6 57.4 65.7 53z"/>
<path class="j36" d="M60.3 44.5 61.3 45.1 60.5 42.8 59.6 44z"/>
<path class="j27" d="M54.2 51.6 55.2 48.9 54.5 48.2 53.5 49.3z"/>
<path class="j22" d="M68.1 52.9 69.1 47.2 68.3 53.4 67.4 55z"/>
<path class="j35" d="M62 46.9 63 46.4 62.3 41.2 61.3 45.1z"/>
<path class="j35" d="M55.9 44.1 56.9 40.6 56.2 47.6 55.2 48.9z"/>
<path class="j46" d="M69.8 39.3 70.8 32.3 70 38.7 69.1 47.2z"/>
<path class="j33" d="M63.7 45.1 64.7 47.6 64 46.4 63 46.4z"/>
<path class="j46" d="M57.7 36.7 58.6 40 57.9 40.6 56.9 40.6z"/>
<path class="j31" d="M65.4 42.5 66.4 48 65.7 53 64.7 47.6z"/>
<path class="j41" d="M59.4 40 60.3 44.5 59.6 44 58.6 40z"/>
<path class="j28" d="M53.3 50.4 54.2 51.6 53.5 49.3 52.5 46.1z"/>
<path class="j24" d="M67.2 50.2 68.1 52.9 67.4 55 66.4 48z"/>
<path class="j36" d="M61.1 43.2 62 46.9 61.3 45.1 60.3 44.5z"/>
<path class="j28" d="M55 52.7 55.9 44.1 55.2 48.9 54.2 51.6z"/>
<path class="j34" d="M68.9 45.4 69.8 39.3 69.1 47.2 68.1 52.9z"/>
<path class="j34" d="M62.8 46.2 63.7 45.1 63 46.4 62 46.9z"/>
<path class="j43" d="M56.7 44.8 57.7 36.7 56.9 40.6 55.9 44.1z"/>
<path class="j49" d="M70.6 43.5 71.5 38.4 70.8 32.3 69.8 39.3z"/>
<path class="j40" d="M64.5 37.1 65.4 42.5 64.7 47.6 63.7 45.1z"/>
<path class="j49" d="M58.4 36.9 59.4 40 58.6 40 57.7 36.7z"/>
<path class="j36" d="M52.3 42.4 53.3 50.4 52.5 46.1 51.6 42z"/>
<path class="j34" d="M66.2 45 67.2 50.2 66.4 48 65.4 42.5z"/>
<path class="j42" d="M60.1 41.4 61.1 43.2 60.3 44.5 59.4 40z"/>
<path class="j23" d="M54 55.3 55 52.7 54.2 51.6 53.3 50.4z"/>
<path class="j29" d="M67.9 49.3 68.9 45.4 68.1 52.9 67.2 50.2z"/>
<path class="j36" d="M61.8 45.2 62.8 46.2 62 46.9 61.1 43.2z"/>
<path class="j31" d="M55.7 52.7 56.7 44.8 55.9 44.1 55 52.7z"/>
<path class="j41" d="M69.6 44.1 70.6 43.5 69.8 39.3 68.9 45.4z"/>
<path class="j43" d="M63.5 40.4 64.5 37.1 63.7 45.1 62.8 46.2z"/>
<path class="j45" d="M57.4 45.7 58.4 36.9 57.7 36.7 56.7 44.8z"/>
<path class="j42" d="M71.3 44 72.3 43.4 71.5 38.4 70.6 43.5z"/>
<path class="j43" d="M51.4 41.5 52.3 42.4 51.6 42 50.6 42.6z"/>
<path class="j45" d="M65.2 39.4 66.2 45 65.4 42.5 64.5 37.1z"/>
<path class="j46" d="M59.1 42.7 60.1 41.4 59.4 40 58.4 36.9z"/>
<path class="j30" d="M53.1 48.8 54 55.3 53.3 50.4 52.3 42.4z"/>
<path class="j31" d="M66.9 51.1 67.9 49.3 67.2 50.2 66.2 45z"/>
<path class="j40" d="M60.9 45.9 61.8 45.2 61.1 43.2 60.1 41.4z"/>
<path class="j21" d="M54.8 55.9 55.7 52.7 55 52.7 54 55.3z"/>
<path class="j35" d="M68.6 46.9 69.6 44.1 68.9 45.4 67.9 49.3z"/>
<path class="j40" d="M62.6 43.6 63.5 40.4 62.8 46.2 61.8 45.2z"/>
<path class="j31" d="M56.5 52 57.4 45.7 56.7 44.8 55.7 52.7z"/>
<path class="j41" d="M70.3 43.8 71.3 44 70.6 43.5 69.6 44.1z"/>
<path class="j41" d="M50.4 45.3 51.4 41.5 50.6 42.6 49.6 45.3z"/>
<path class="j48" d="M64.3 41.8 65.2 39.4 64.5 37.1 63.5 40.4z"/>
<path class="j40" d="M58.2 50.8 59.1 42.7 58.4 36.9 57.4 45.7z"/>
<path class="j41" d="M72.1 44.1 73 44.2 72.3 43.4 71.3 44z"/>
<path class="j39" d="M52.1 46.1 53.1 48.8 52.3 42.4 51.4 41.5z"/>
<path class="j38" d="M66 46 66.9 51.1 66.2 45 65.2 39.4z"/>
<path class="j39" d="M59.9 48.3 60.9 45.9 60.1 41.4 59.1 42.7z"/>
<path class="j23" d="M53.8 53.5 54.8 55.9 54 55.3 53.1 48.8z"/>
<path class="j31" d="M67.7 50 68.6 46.9 67.9 49.3 66.9 51.1z"/>
<path class="j38" d="M61.6 47.3 62.6 43.6 61.8 45.2 60.9 45.9z"/>
<path class="j23" d="M55.5 54.3 56.5 52 55.7 52.7 54.8 55.9z"/>
<path class="j39" d="M69.4 45.2 70.3 43.8 69.6 44.1 68.6 46.9z"/>
<path class="j39" d="M49.4 44.9 50.4 45.3 49.6 45.3 48.7 45.6z"/>
<path class="j43" d="M63.3 46 64.3 41.8 63.5 40.4 62.6 43.6z"/>
<path class="j28" d="M57.2 56.5 58.2 50.8 57.4 45.7 56.5 52z"/>
<path class="j42" d="M71.1 43.4 72.1 44.1 71.3 44 70.3 43.8z"/>
<path class="j40" d="M51.1 46.6 52.1 46.1 51.4 41.5 50.4 45.3z"/>
<path class="j43" d="M65 45.6 66 46 65.2 39.4 64.3 41.8z"/>
<path class="j33" d="M58.9 51.4 59.9 48.3 59.1 42.7 58.2 50.8z"/>
<path class="j43" d="M72.8 43.6 73.8 41.3 73 44.2 72.1 44.1z"/>
<path class="j32" d="M52.8 48.4 53.8 53.5 53.1 48.8 52.1 46.1z"/>
<path class="j35" d="M66.7 42.6 67.7 50 66.9 51.1 66 46z"/>
<path class="j33" d="M60.6 52.1 61.6 47.3 60.9 45.9 59.9 48.3z"/>
<path class="j23" d="M54.5 52.2 55.5 54.3 54.8 55.9 53.8 53.5z"/>
<path class="j37" d="M68.4 44.5 69.4 45.2 68.6 46.9 67.7 50z"/>
<path class="j41" d="M48.5 43.3 49.4 44.9 48.7 45.6 47.7 44.5z"/>
<path class="j37" d="M62.3 50.6 63.3 46 62.6 43.6 61.6 47.3z"/>
<path class="j23" d="M56.3 54.8 57.2 56.5 56.5 52 55.5 54.3z"/>
<path class="j42" d="M70.1 43.2 71.1 43.4 70.3 43.8 69.4 45.2z"/>
<path class="j39" d="M50.2 44.7 51.1 46.6 50.4 45.3 49.4 44.9z"/>
<path class="j39" d="M64 49.8 65 45.6 64.3 41.8 63.3 46z"/>
<path class="j25" d="M58 55.6 58.9 51.4 58.2 50.8 57.2 56.5z"/>
<path class="j44" d="M71.8 40.5 72.8 43.6 72.1 44.1 71.1 43.4z"/>
<path class="j37" d="M51.9 45.6 52.8 48.4 52.1 46.1 51.1 46.6z"/>
<path class="j42" d="M65.8 41.9 66.7 42.6 66 46 65 45.6z"/>
<path class="j29" d="M59.7 53 60.6 52.1 59.9 48.3 58.9 51.4z"/>
<path class="j44" d="M73.5 43.7 74.5 43.4 73.8 41.3 72.8 43.6z"/>
<path class="j30" d="M53.6 48.7 54.5 52.2 53.8 53.5 52.8 48.4z"/>
<path class="j44" d="M67.5 37 68.4 44.5 67.7 50 66.7 42.6z"/>
<path class="j38" d="M47.5 49.1 48.5 43.3 47.7 44.5 46.8 48.4z"/>
<path class="j30" d="M61.4 54.2 62.3 50.6 61.6 47.3 60.6 52.1z"/>
<path class="j27" d="M55.3 49.9 56.3 54.8 55.5 54.3 54.5 52.2z"/>
<path class="j44" d="M69.2 39.9 70.1 43.2 69.4 45.2 68.4 44.5z"/>
<path class="j43" d="M49.2 43.8 50.2 44.7 49.4 44.9 48.5 43.3z"/>
<path class="j30" d="M63.1 57.2 64 49.8 63.3 46 62.3 50.6z"/>
<path class="j23" d="M57 52 58 55.6 57.2 56.5 56.3 54.8z"/>
<path class="j46" d="M70.9 42.1 71.8 40.5 71.1 43.4 70.1 43.2z"/>
<path class="j40" d="M50.9 45.6 51.9 45.6 51.1 46.6 50.2 44.7z"/>
<path class="j39" d="M64.8 47.6 65.8 41.9 65 45.6 64 49.8z"/>
<path class="j25" d="M58.7 55.2 59.7 53 58.9 51.4 58 55.6z"/>
<path class="j47" d="M72.6 40.6 73.5 43.7 72.8 43.6 71.8 40.5z"/>
<path class="j37" d="M52.6 48.2 53.6 48.7 52.8 48.4 51.9 45.6z"/>
<path class="j51" d="M66.5 37.3 67.5 37 66.7 42.6 65.8 41.9z"/>
<path class="j30" d="M46.5 55.2 47.5 49.1 46.8 48.4 45.8 53.3z"/>
<path class="j26" d="M60.4 54.6 61.4 54.2 60.6 52.1 59.7 53z"/>
<path class="j40" d="M74.3 47.3 75.2 48.9 74.5 43.4 73.5 43.7z"/>
<path class="j32" d="M54.3 51.1 55.3 49.9 54.5 52.2 53.6 48.7z"/>
<path class="j53" d="M68.2 35.2 69.2 39.9 68.4 44.5 67.5 37z"/>
<path class="j39" d="M48.2 50.9 49.2 43.8 48.5 43.3 47.5 49.1z"/>
<path class="j23" d="M62.1 59.7 63.1 57.2 62.3 50.6 61.4 54.2z"/>
<path class="j31" d="M56 47.8 57 52 56.3 54.8 55.3 49.9z"/>
<path class="j49" d="M69.9 40.2 70.9 42.1 70.1 43.2 69.2 39.9z"/>
<path class="j42" d="M49.9 47.1 50.9 45.6 50.2 44.7 49.2 43.8z"/>
<path class="j28" d="M63.8 55.9 64.8 47.6 64 49.8 63.1 57.2z"/>
<path class="j25" d="M57.7 54.7 58.7 55.2 58 55.6 57 52z"/>
<path class="j48" d="M71.6 44.1 72.6 40.6 71.8 40.5 70.9 42.1z"/>
<path class="j36" d="M51.7 53.4 52.6 48.2 51.9 45.6 50.9 45.6z"/>
<path class="j48" d="M65.5 40.9 66.5 37.3 65.8 41.9 64.8 47.6z"/>
<path class="j28" d="M45.6 52.1 46.5 55.2 45.8 53.3 44.8 50.7z"/>
<path class="j25" d="M59.4 54.7 60.4 54.6 59.7 53 58.7 55.2z"/>
<path class="j45" d="M73.3 43.9 74.3 47.3 73.5 43.7 72.6 40.6z"/>
<path class="j33" d="M53.4 52.5 54.3 51.1 53.6 48.7 52.6 48.2z"/>
<path class="j58" d="M67.2 37.1 68.2 35.2 67.5 37 66.5 37.3z"/>
<path class="j28" d="M47.3 56.2 48.2 50.9 47.5 49.1 46.5 55.2z"/>
<path class="j22" d="M61.2 55.6 62.1 59.7 61.4 54.2 60.4 54.6z"/>
<path class="j33" d="M75 52.1 76 52.3 75.2 48.9 74.3 47.3z"/>
<path class="j32" d="M55.1 53.8 56 47.8 55.3 49.9 54.3 51.1z"/>
<path class="j56" d="M68.9 35.7 69.9 40.2 69.2 39.9 68.2 35.2z"/>
<path class="j36" d="M49 53.6 49.9 47.1 49.2 43.8 48.2 50.9z"/>
<path class="j18" d="M62.9 61.5 63.8 55.9 63.1 57.2 62.1 59.7z"/>
<path class="j29" d="M56.8 57 57.7 54.7 57 52 56 47.8z"/>
<path class="j48" d="M70.6 44.3 71.6 44.1 70.9 42.1 69.9 40.2z"/>
<path class="j32" d="M50.7 57.2 51.7 53.4 50.9 45.6 49.9 47.1z"/>
<path class="j37" d="M64.6 48.3 65.5 40.9 64.8 47.6 63.8 55.9z"/>
<path class="j35" d="M44.6 47.3 45.6 52.1 44.8 50.7 43.9 47.2z"/>
<path class="j24" d="M58.5 56.4 59.4 54.7 58.7 55.2 57.7 54.7z"/>
<path class="j47" d="M72.4 44.2 73.3 43.9 72.6 40.6 71.6 44.1z"/>
<path class="j29" d="M52.4 56.9 53.4 52.5 52.6 48.2 51.7 53.4z"/>
<path class="j56" d="M66.3 38.5 67.2 37.1 66.5 37.3 65.5 40.9z"/>
<path class="j27" d="M46.3 52.6 47.3 56.2 46.5 55.2 45.6 52.1z"/>
<path class="j27" d="M60.2 52 61.2 55.6 60.4 54.6 59.4 54.7z"/>
<path class="j39" d="M74.1 47.2 75 52.1 74.3 47.3 73.3 43.9z"/>
<path class="j28" d="M54.1 56.4 55.1 53.8 54.3 51.1 53.4 52.5z"/>
<path class="j59" d="M68 39.8 68.9 35.7 68.2 35.2 67.2 37.1z"/>
<path class="j26" d="M48 56.8 49 53.6 48.2 50.9 47.3 56.2z"/>
<path class="j18" d="M61.9 58.4 62.9 61.5 62.1 59.7 61.2 55.6z"/>
<path class="j30" d="M75.8 53.7 76.7 52.2 76 52.3 75 52.1z"/>
<path class="j25" d="M55.8 61.5 56.8 57 56 47.8 55.1 53.8z"/>
<path class="j54" d="M69.7 37.9 70.6 44.3 69.9 40.2 68.9 35.7z"/>
<path class="j28" d="M49.7 56 50.7 57.2 49.9 47.1 49 53.6z"/>
<path class="j25" d="M63.6 55.3 64.6 48.3 63.8 55.9 62.9 61.5z"/>
<path class="j37" d="M43.6 48.8 44.6 47.3 43.9 47.2 42.9 51.2z"/>
<path class="j21" d="M57.5 62.3 58.5 56.4 57.7 54.7 56.8 57z"/>
<path class="j44" d="M71.4 48.2 72.4 44.2 71.6 44.1 70.6 44.3z"/>
<path class="j22" d="M51.4 59.9 52.4 56.9 51.7 53.4 50.7 57.2z"/>
<path class="j48" d="M65.3 43.7 66.3 38.5 65.5 40.9 64.6 48.3z"/>
<path class="j37" d="M45.3 44.5 46.3 52.6 45.6 52.1 44.6 47.3z"/>
<path class="j28" d="M59.2 52.9 60.2 52 59.4 54.7 58.5 56.4z"/>
<path class="j46" d="M73.1 42.3 74.1 47.2 73.3 43.9 72.4 44.2z"/>
<path class="j25" d="M53.1 57 54.1 56.4 53.4 52.5 52.4 56.9z"/>
<path class="j55" d="M67 43.1 68 39.8 67.2 37.1 66.3 38.5z"/>
<path class="j27" d="M47.1 53 48 56.8 47.3 56.2 46.3 52.6z"/>
<path class="j26" d="M60.9 53.9 61.9 58.4 61.2 55.6 60.2 52z"/>
<path class="j36" d="M74.8 46.9 75.8 53.7 75 52.1 74.1 47.2z"/>
<path class="j22" d="M54.8 57.6 55.8 61.5 55.1 53.8 54.1 56.4z"/>
<path class="j57" d="M68.7 39.6 69.7 37.9 68.9 35.7 68 39.8z"/>
<path class="j27" d="M48.8 51.1 49.7 56 49 53.6 48 56.8z"/>
<path class="j21" d="M62.6 57.2 63.6 55.3 62.9 61.5 61.9 58.4z"/>
<path class="j33" d="M76.5 50.6 77.5 49.2 76.7 52.2 75.8 53.7z"/>
<path class="j37" d="M42.7 47.6 43.6 48.8 42.9 51.2 41.9 49.5z"/>
<path class="j14" d="M56.6 65.3 57.5 62.3 56.8 57 55.8 61.5z"/>
<path class="j47" d="M70.4 45.9 71.4 48.2 70.6 44.3 69.7 37.9z"/>
<path class="j23" d="M50.5 54.8 51.4 59.9 50.7 57.2 49.7 56z"/>
<path class="j37" d="M64.3 50.8 65.3 43.7 64.6 48.3 63.6 55.3z"/>
<path class="j42" d="M44.4 45.5 45.3 44.5 44.6 47.3 43.6 48.8z"/>
<path class="j23" d="M58.3 57 59.2 52.9 58.5 56.4 57.5 62.3z"/>
<path class="j45" d="M72.1 46.8 73.1 42.3 72.4 44.2 71.4 48.2z"/>
<path class="j21" d="M52.2 57.9 53.1 57 52.4 56.9 51.4 59.9z"/>
<path class="j49" d="M66.1 46.9 67 43.1 66.3 38.5 65.3 43.7z"/>
<path class="j38" d="M46.1 47 47.1 53 46.3 52.6 45.3 44.5z"/>
<path class="j32" d="M60 50.9 60.9 53.9 60.2 52 59.2 52.9z"/>
<path class="j47" d="M73.8 41.3 74.8 46.9 74.1 47.2 73.1 42.3z"/>
<path class="j23" d="M53.9 58.5 54.8 57.6 54.1 56.4 53.1 57z"/>
<path class="j50" d="M67.8 48.8 68.7 39.6 68 39.8 67 43.1z"/>
<path class="j33" d="M47.8 46.9 48.8 51.1 48 56.8 47.1 53z"/>
<path class="j25" d="M61.7 55.6 62.6 57.2 61.9 58.4 60.9 53.9z"/>
<path class="j38" d="M75.5 45.8 76.5 50.6 75.8 53.7 74.8 46.9z"/>
<path class="j41" d="M41.7 48.2 42.7 47.6 41.9 49.5 41 44z"/>
<path class="j16" d="M55.6 59.2 56.6 65.3 55.8 61.5 54.8 57.6z"/>
<path class="j51" d="M69.5 46.4 70.4 45.9 69.7 37.9 68.7 39.6z"/>
<path class="j32" d="M49.5 47.2 50.5 54.8 49.7 56 48.8 51.1z"/>
<path class="j28" d="M63.4 55.9 64.3 50.8 63.6 55.3 62.6 57.2z"/>
<path class="j40" d="M77.3 48 78.2 46.7 77.5 49.2 76.5 50.6z"/>
<path class="j41" d="M43.4 49.3 44.4 45.5 43.6 48.8 42.7 47.6z"/>
<path class="j16" d="M57.3 60.1 58.3 57 57.5 62.3 56.6 65.3z"/>
<path class="j41" d="M71.2 50.7 72.1 46.8 71.4 48.2 70.4 45.9z"/>
<path class="j25" d="M51.2 54 52.2 57.9 51.4 59.9 50.5 54.8z"/>
<path class="j39" d="M65.1 55.2 66.1 46.9 65.3 43.7 64.3 50.8z"/>
<path class="j43" d="M45.1 50.7 46.1 47 45.3 44.5 44.4 45.5z"/>
<path class="j32" d="M59 51 60 50.9 59.2 52.9 58.3 57z"/>
<path class="j48" d="M72.9 47.3 73.8 41.3 73.1 42.3 72.1 46.8z"/>
<path class="j22" d="M52.9 58.5 53.9 58.5 53.1 57 52.2 57.9z"/>
<path class="j40" d="M66.8 55.9 67.8 48.8 67 43.1 66.1 46.9z"/>
<path class="j40" d="M46.8 47.5 47.8 46.9 47.1 53 46.1 47z"/>
<path class="j31" d="M60.7 52.9 61.7 55.6 60.9 53.9 60 50.9z"/>
<path class="j47" d="M74.6 45.6 75.5 45.8 74.8 46.9 73.8 41.3z"/>
<path class="j43" d="M40.8 50 41.7 48.2 41 44 40 45.4z"/>
<path class="j21" d="M54.6 60.7 55.6 59.2 54.8 57.6 53.9 58.5z"/>
<path class="j42" d="M68.5 56.4 69.5 46.4 68.7 39.6 67.8 48.8z"/>
<path class="j41" d="M48.5 47.6 49.5 47.2 48.8 51.1 47.8 46.9z"/>
<path class="j27" d="M62.4 55.4 63.4 55.9 62.6 57.2 61.7 55.6z"/>
<path class="j42" d="M76.3 47.2 77.3 48 76.5 50.6 75.5 45.8z"/>
<path class="j38" d="M42.5 53.9 43.4 49.3 42.7 47.6 41.7 48.2z"/>
<path class="j19" d="M56.3 55.5 57.3 60.1 56.6 65.3 55.6 59.2z"/>
<path class="j38" d="M70.2 57 71.2 50.7 70.4 45.9 69.5 46.4z"/>
<path class="j35" d="M50.3 50.9 51.2 54 50.5 54.8 49.5 47.2z"/>
<path class="j27" d="M64.1 62.3 65.1 55.2 64.3 50.8 63.4 55.9z"/>
<path class="j42" d="M78 50.3 79 47.1 78.2 46.7 77.3 48z"/>
<path class="j38" d="M44.2 53.7 45.1 50.7 44.4 45.5 43.4 49.3z"/>
<path class="j28" d="M58 54 59 51 58.3 57 57.3 60.1z"/>
<path class="j39" d="M71.9 53.5 72.9 47.3 72.1 46.8 71.2 50.7z"/>
<path class="j26" d="M52 56.2 52.9 58.5 52.2 57.9 51.2 54z"/>
<path class="j29" d="M65.8 62.5 66.8 55.9 66.1 46.9 65.1 55.2z"/>
<path class="j39" d="M45.9 53.8 46.8 47.5 46.1 47 45.1 50.7z"/>
<path class="j36" d="M59.7 49.9 60.7 52.9 60 50.9 59 51z"/>
<path class="j45" d="M73.6 51.4 74.6 45.6 73.8 41.3 72.9 47.3z"/>
<path class="j43" d="M39.8 48.5 40.8 50 40 45.4 39 46.2z"/>
<path class="j20" d="M53.7 60.8 54.6 60.7 53.9 58.5 52.9 58.5z"/>
<path class="j28" d="M67.5 61 68.5 56.4 67.8 48.8 66.8 55.9z"/>
<path class="j40" d="M47.6 55.1 48.5 47.6 47.8 46.9 46.8 47.5z"/>
<path class="j30" d="M61.5 55.1 62.4 55.4 61.7 55.6 60.7 52.9z"/>
<path class="j44" d="M75.3 49.2 76.3 47.2 75.5 45.8 74.6 45.6z"/>
<path class="j35" d="M41.5 56.2 42.5 53.9 41.7 48.2 40.8 50z"/>
<path class="j24" d="M55.4 55.3 56.3 55.5 55.6 59.2 54.6 60.7z"/>
<path class="j27" d="M69.2 64.7 70.2 57 69.5 46.4 68.5 56.4z"/>
<path class="j38" d="M49.3 55.9 50.3 50.9 49.5 47.2 48.5 47.6z"/>
<path class="j22" d="M63.2 61.7 64.1 62.3 63.4 55.9 62.4 55.4z"/>
<path class="j41" d="M77 50.1 78 50.3 77.3 48 76.3 47.2z"/>
<path class="j34" d="M43.2 54 44.2 53.7 43.4 49.3 42.5 53.9z"/>
<path class="j29" d="M57.1 52.7 58 54 57.3 60.1 56.3 55.5z"/>
<path class="j29" d="M71 60 71.9 53.5 71.2 50.7 70.2 57z"/>
<path class="j30" d="M51 57.7 52 56.2 51.2 54 50.3 50.9z"/>
<path class="j16" d="M64.9 70.3 65.8 62.5 65.1 55.2 64.1 62.3z"/>
<path class="j40" d="M78.7 52.4 79.7 48.8 79 47.1 78 50.3z"/>
<path class="j33" d="M44.9 55.3 45.9 53.8 45.1 50.7 44.2 53.7z"/>
<path class="j36" d="M58.8 51.3 59.7 49.9 59 51 58 54z"/>
<path class="j36" d="M72.7 54.8 73.6 51.4 72.9 47.3 71.9 53.5z"/>
<path class="j40" d="M38.8 52.4 39.8 48.5 39 46.2 38.1 50.8z"/>
<path class="j23" d="M52.7 60.4 53.7 60.8 52.9 58.5 52 56.2z"/>
<path class="j20" d="M66.6 61.7 67.5 61 66.8 55.9 65.8 62.5z"/>
<path class="j32" d="M46.6 59 47.6 55.1 46.8 47.5 45.9 53.8z"/>
<path class="j33" d="M60.5 56.3 61.5 55.1 60.7 52.9 59.7 49.9z"/>
<path class="j41" d="M74.4 51 75.3 49.2 74.6 45.6 73.6 51.4z"/>
<path class="j36" d="M40.5 53.1 41.5 56.2 40.8 50 39.8 48.5z"/>
<path class="j23" d="M54.4 58.9 55.4 55.3 54.6 60.7 53.7 60.8z"/>
<path class="j19" d="M68.3 63.3 69.2 64.7 68.5 56.4 67.5 61z"/>
<path class="j30" d="M48.3 60.9 49.3 55.9 48.5 47.6 47.6 55.1z"/>
<path class="j24" d="M62.2 62.2 63.2 61.7 62.4 55.4 61.5 55.1z"/>
<path class="j42" d="M76.1 49.7 77 50.1 76.3 47.2 75.3 49.2z"/>
<path class="j30" d="M42.2 55.4 43.2 54 42.5 53.9 41.5 56.2z"/>
<path class="j31" d="M56.1 54.4 57.1 52.7 56.3 55.5 55.4 55.3z"/>
<path class="j20" d="M70 61.9 71 60 70.2 57 69.2 64.7z"/>
<path class="j27" d="M50 62.1 51 57.7 50.3 50.9 49.3 55.9z"/>
<path class="j10" d="M63.9 71.2 64.9 70.3 64.1 62.3 63.2 61.7z"/>
<path class="j38" d="M77.8 51.3 78.7 52.4 78 50.3 77 50.1z"/>
<path class="j33" d="M43.9 52 44.9 55.3 44.2 53.7 43.2 54z"/>
<path class="j35" d="M57.8 53.5 58.8 51.3 58 54 57.1 52.7z"/>
<path class="j29" d="M71.7 55.6 72.7 54.8 71.9 53.5 71 60z"/>
<path class="j34" d="M37.9 56 38.8 52.4 38.1 50.8 37.1 52.5z"/>
<path class="j22" d="M51.7 63.8 52.7 60.4 52 56.2 51 57.7z"/>
<path class="j11" d="M65.6 67.7 66.6 61.7 65.8 62.5 64.9 70.3z"/>
<path class="j38" d="M79.5 56 80.4 48.7 79.7 48.8 78.7 52.4z"/>
<path class="j28" d="M45.7 58.4 46.6 59 45.9 53.8 44.9 55.3z"/>
<path class="j32" d="M59.5 59.5 60.5 56.3 59.7 49.9 58.8 51.3z"/>
<path class="j36" d="M73.4 51.3 74.4 51 73.6 51.4 72.7 54.8z"/>
<path class="j36" d="M39.6 55.2 40.5 53.1 39.8 48.5 38.8 52.4z"/>
<path class="j21" d="M53.4 62 54.4 58.9 53.7 60.8 52.7 60.4z"/>
<path class="j20" d="M67.3 58.8 68.3 63.3 67.5 61 66.6 61.7z"/>
<path class="j25" d="M47.4 59.1 48.3 60.9 47.6 55.1 46.6 59z"/>
<path class="j25" d="M61.2 59.9 62.2 62.2 61.5 55.1 60.5 56.3z"/>
<path class="j41" d="M75.1 48.6 76.1 49.7 75.3 49.2 74.4 51z"/>
<path class="j32" d="M41.3 53.1 42.2 55.4 41.5 56.2 40.5 53.1z"/>
<path class="j27" d="M55.2 60 56.1 54.4 55.4 55.3 54.4 58.9z"/>
<path class="j18" d="M69 60 70 61.9 69.2 64.7 68.3 63.3z"/>
<path class="j22" d="M49.1 61.6 50 62.1 49.3 55.9 48.3 60.9z"/>
<path class="j12" d="M62.9 67.8 63.9 71.2 63.2 61.7 62.2 62.2z"/>
<path class="j42" d="M76.8 46.2 77.8 51.3 77 50.1 76.1 49.7z"/>
<path class="j34" d="M43 53.2 43.9 52 43.2 54 42.2 55.4z"/>
<path class="j33" d="M56.9 56.4 57.8 53.5 57.1 52.7 56.1 54.4z"/>
<path class="j27" d="M70.7 52.6 71.7 55.6 71 60 70 61.9z"/>
<path class="j34" d="M36.9 53.4 37.9 56 37.1 52.5 36.2 52.1z"/>
<path class="j18" d="M50.8 65.6 51.7 63.8 51 57.7 50 62.1z"/>
<path class="j6" d="M64.6 66.4 65.6 67.7 64.9 70.3 63.9 71.2z"/>
<path class="j34" d="M78.5 56.7 79.5 56 78.7 52.4 77.8 51.3z"/>
<path class="j30" d="M44.7 56.9 45.7 58.4 44.9 55.3 43.9 52z"/>
<path class="j32" d="M58.6 55.7 59.5 59.5 58.8 51.3 57.8 53.5z"/>
<path class="j35" d="M72.4 51.3 73.4 51.3 72.7 54.8 71.7 55.6z"/>
<path class="j33" d="M38.6 54.5 39.6 55.2 38.8 52.4 37.9 56z"/>
<path class="j18" d="M52.5 63.2 53.4 62 52.7 60.4 51.7 63.8z"/>
<path class="j18" d="M66.4 61.7 67.3 58.8 66.6 61.7 65.6 67.7z"/>
<path class="j39" d="M80.2 54.1 81.2 45.6 80.4 48.7 79.5 56z"/>
<path class="j26" d="M46.4 56.7 47.4 59.1 46.6 59 45.7 58.4z"/>
<path class="j24" d="M60.3 61.4 61.2 59.9 60.5 56.3 59.5 59.5z"/>
<path class="j43" d="M74.1 45.6 75.1 48.6 74.4 51 73.4 51.3z"/>
<path class="j34" d="M40.3 53.9 41.3 53.1 40.5 53.1 39.6 55.2z"/>
<path class="j21" d="M54.2 64 55.2 60 54.4 58.9 53.4 62z"/>
<path class="j22" d="M68.1 59.7 69 60 68.3 63.3 67.3 58.8z"/>
<path class="j24" d="M48.1 56.7 49.1 61.6 48.3 60.9 47.4 59.1z"/>
<path class="j20" d="M62 56.9 62.9 67.8 62.2 62.2 61.2 59.9z"/>
<path class="j47" d="M75.9 44.8 76.8 46.2 76.1 49.7 75.1 48.6z"/>
<path class="j35" d="M42 53.3 43 53.2 42.2 55.4 41.3 53.1z"/>
<path class="j28" d="M55.9 59.4 56.9 56.4 56.1 54.4 55.2 60z"/>
<path class="j29" d="M69.8 54 70.7 52.6 70 61.9 69 60z"/>
<path class="j38" d="M35.9 49.9 36.9 53.4 36.2 52.1 35.2 51.8z"/>
<path class="j17" d="M49.8 63.2 50.8 65.6 50 62.1 49.1 61.6z"/>
<path class="j11" d="M63.7 60.4 64.6 66.4 63.9 71.2 62.9 67.8z"/>
<path class="j41" d="M77.6 48.7 78.5 56.7 77.8 51.3 76.8 46.2z"/>
<path class="j33" d="M43.7 56.4 44.7 56.9 43.9 52 43 53.2z"/>
<path class="j34" d="M57.6 52.1 58.6 55.7 57.8 53.5 56.9 56.4z"/>
<path class="j37" d="M71.5 50.6 72.4 51.3 71.7 55.6 70.7 52.6z"/>
<path class="j36" d="M37.6 47.5 38.6 54.5 37.9 56 36.9 53.4z"/>
<path class="j16" d="M51.5 62.4 52.5 63.2 51.7 63.8 50.8 65.6z"/>
<path class="j17" d="M65.4 58.2 66.4 61.7 65.6 67.7 64.6 66.4z"/>
<path class="j30" d="M79.3 59.9 80.2 54.1 79.5 56 78.5 56.7z"/>
<path class="j28" d="M45.4 58.4 46.4 56.7 45.7 58.4 44.7 56.9z"/>
<path class="j25" d="M59.3 60.6 60.3 61.4 59.5 59.5 58.6 55.7z"/>
<path class="j44" d="M73.2 48.3 74.1 45.6 73.4 51.3 72.4 51.3z"/>
<path class="j34" d="M39.3 53.4 40.3 53.9 39.6 55.2 38.6 54.5z"/>
<path class="j18" d="M53.2 62.4 54.2 64 53.4 62 52.5 63.2z"/>
<path class="j23" d="M67.1 60.5 68.1 59.7 67.3 58.8 66.4 61.7z"/>
<path class="j42" d="M81 54.8 81.9 47 81.2 45.6 80.2 54.1z"/>
<path class="j29" d="M47.1 55.8 48.1 56.7 47.4 59.1 46.4 56.7z"/>
<path class="j27" d="M61 55.5 62 56.9 61.2 59.9 60.3 61.4z"/>
<path class="j52" d="M74.9 39.7 75.9 44.8 75.1 48.6 74.1 45.6z"/>
<path class="j35" d="M41.1 56.4 42 53.3 41.3 53.1 40.3 53.9z"/>
<path class="j21" d="M54.9 63.8 55.9 59.4 55.2 60 54.2 64z"/>
<path class="j27" d="M68.8 60.8 69.8 54 69 60 68.1 59.7z"/>
<path class="j41" d="M35 49.6 35.9 49.9 35.2 51.8 34.2 51.2z"/>
<path class="j24" d="M48.8 59.2 49.8 63.2 49.1 61.6 48.1 56.7z"/>
<path class="j24" d="M62.7 56.1 63.7 60.4 62.9 67.8 62 56.9z"/>
<path class="j49" d="M76.6 46 77.6 48.7 76.8 46.2 75.9 44.8z"/>
<path class="j33" d="M42.8 56.7 43.7 56.4 43 53.2 42 53.3z"/>
<path class="j32" d="M56.6 54.3 57.6 52.1 56.9 56.4 55.9 59.4z"/>
<path class="j38" d="M70.5 53.6 71.5 50.6 70.7 52.6 69.8 54z"/>
<path class="j45" d="M36.7 44.6 37.6 47.5 36.9 53.4 35.9 49.9z"/>
<path class="j18" d="M50.6 62.1 51.5 62.4 50.8 65.6 49.8 63.2z"/>
<path class="j25" d="M64.4 53.4 65.4 58.2 64.6 66.4 63.7 60.4z"/>
<path class="j34" d="M78.3 55.3 79.3 59.9 78.5 56.7 77.6 48.7z"/>
<path class="j29" d="M44.5 57 45.4 58.4 44.7 56.9 43.7 56.4z"/>
<path class="j30" d="M58.3 58.6 59.3 60.6 58.6 55.7 57.6 52.1z"/>
<path class="j41" d="M72.2 54.5 73.2 48.3 72.4 51.3 71.5 50.6z"/>
<path class="j42" d="M38.4 45.8 39.3 53.4 38.6 54.5 37.6 47.5z"/>
<path class="j20" d="M52.3 62 53.2 62.4 52.5 63.2 51.5 62.4z"/>
<path class="j26" d="M66.1 55.7 67.1 60.5 66.4 61.7 65.4 58.2z"/>
<path class="j30" d="M80 60.6 81 54.8 80.2 54.1 79.3 59.9z"/>
<path class="j29" d="M46.2 59.9 47.1 55.8 46.4 56.7 45.4 58.4z"/>
<path class="j26" d="M60 59.6 61 55.5 60.3 61.4 59.3 60.6z"/>
<path class="j54" d="M73.9 43.2 74.9 39.7 74.1 45.6 73.2 48.3z"/>
<path class="j31" d="M40.1 61.5 41.1 56.4 40.3 53.9 39.3 53.4z"/>
<path class="j18" d="M54 64.1 54.9 63.8 54.2 64 53.2 62.4z"/>
<path class="j23" d="M67.8 63.1 68.8 60.8 68.1 59.7 67.1 60.5z"/>
<path class="j40" d="M81.7 55.6 82.7 49.5 81.9 47 81 54.8z"/>
<path class="j39" d="M34 54.2 35 49.6 34.2 51.2 33.3 53.5z"/>
<path class="j29" d="M47.9 59.1 48.8 59.2 48.1 56.7 47.1 55.8z"/>
<path class="j31" d="M61.8 57.5 62.7 56.1 62 56.9 61 55.5z"/>
<path class="j57" d="M75.6 41 76.6 46 75.9 44.8 74.9 39.7z"/>
<path class="j32" d="M41.8 57.7 42.8 56.7 42 53.3 41.1 56.4z"/>
<path class="j26" d="M55.7 59.8 56.6 54.3 55.9 59.4 54.9 63.8z"/>
<path class="j31" d="M69.5 58.5 70.5 53.6 69.8 54 68.8 60.8z"/>
<path class="j46" d="M35.7 49.3 36.7 44.6 35.9 49.9 35 49.6z"/>
<path class="j22" d="M49.6 61 50.6 62.1 49.8 63.2 48.8 59.2z"/>
<path class="j31" d="M63.5 58.1 64.4 53.4 63.7 60.4 62.7 56.1z"/>
<path class="j44" d="M77.3 50.4 78.3 55.3 77.6 48.7 76.6 46z"/>
<path class="j31" d="M43.5 56.8 44.5 57 43.7 56.4 42.8 56.7z"/>
<path class="j31" d="M57.4 61.7 58.3 58.6 57.6 52.1 56.6 54.3z"/>
<path class="j37" d="M71.3 57 72.2 54.5 71.5 50.6 70.5 53.6z"/>
<path class="j52" d="M37.4 44.7 38.4 45.8 37.6 47.5 36.7 44.6z"/>
<path class="j21" d="M51.3 63.8 52.3 62 51.5 62.4 50.6 62.1z"/>
<path class="j35" d="M65.2 53.1 66.1 55.7 65.4 58.2 64.4 53.4z"/>
<path class="j29" d="M79 56.6 80 60.6 79.3 59.9 78.3 55.3z"/>
<path class="j28" d="M45.2 59.7 46.2 59.9 45.4 58.4 44.5 57z"/>
<path class="j25" d="M59.1 61.7 60 59.6 59.3 60.6 58.3 58.6z"/>
<path class="j44" d="M73 55.4 73.9 43.2 73.2 48.3 72.2 54.5z"/>
<path class="j36" d="M39.1 56.3 40.1 61.5 39.3 53.4 38.4 45.8z"/>
<path class="j18" d="M53 66.8 54 64.1 53.2 62.4 52.3 62z"/>
<path class="j26" d="M66.9 59.1 67.8 63.1 67.1 60.5 66.1 55.7z"/>
<path class="j30" d="M80.8 59 81.7 55.6 81 54.8 80 60.6z"/>
<path class="j33" d="M33 58.5 34 54.2 33.3 53.5 32.3 56.7z"/>
<path class="j28" d="M46.9 60.1 47.9 59.1 47.1 55.8 46.2 59.9z"/>
<path class="j30" d="M60.8 59.2 61.8 57.5 61 55.5 60 59.6z"/>
<path class="j60" d="M74.7 42.5 75.6 41 74.9 39.7 73.9 43.2z"/>
<path class="j26" d="M40.8 63.3 41.8 57.7 41.1 56.4 40.1 61.5z"/>
<path class="j21" d="M54.7 62.8 55.7 59.8 54.9 63.8 54 64.1z"/>
<path class="j23" d="M68.6 63.9 69.5 58.5 68.8 60.8 67.8 63.1z"/>
<path class="j42" d="M82.5 51.6 83.4 48.6 82.7 49.5 81.7 55.6z"/>
<path class="j40" d="M34.8 55.3 35.7 49.3 35 49.6 34 54.2z"/>
<path class="j24" d="M48.6 64.7 49.6 61 48.8 59.2 47.9 59.1z"/>
<path class="j29" d="M62.5 62.1 63.5 58.1 62.7 56.1 61.8 57.5z"/>
<path class="j52" d="M76.4 45.8 77.3 50.4 76.6 46 75.6 41z"/>
<path class="j31" d="M42.5 57.6 43.5 56.8 42.8 56.7 41.8 57.7z"/>
<path class="j27" d="M56.4 62.4 57.4 61.7 56.6 54.3 55.7 59.8z"/>
<path class="j34" d="M70.3 55.1 71.3 57 70.5 53.6 69.5 58.5z"/>
<path class="j49" d="M36.5 51.8 37.4 44.7 36.7 44.6 35.7 49.3z"/>
<path class="j21" d="M50.3 64 51.3 63.8 50.6 62.1 49.6 61z"/>
<path class="j33" d="M64.2 60.9 65.2 53.1 64.4 53.4 63.5 58.1z"/>
<path class="j38" d="M78.1 52.2 79 56.6 78.3 55.3 77.3 50.4z"/>
<path class="j29" d="M44.2 60.3 45.2 59.7 44.5 57 43.5 56.8z"/>
<path class="j22" d="M58.1 67.3 59.1 61.7 58.3 58.6 57.4 61.7z"/>
<path class="j33" d="M72 59.1 73 55.4 72.2 54.5 71.3 57z"/>
<path class="j45" d="M38.2 51.8 39.1 56.3 38.4 45.8 37.4 44.7z"/>
<path class="j17" d="M52 68.6 53 66.8 52.3 62 51.3 63.8z"/>
<path class="j33" d="M65.9 57.7 66.9 59.1 66.1 55.7 65.2 53.1z"/>
<path class="j32" d="M79.8 52.7 80.8 59 80 60.6 79 56.6z"/>
<path class="j32" d="M32.1 57.8 33 58.5 32.3 56.7 31.3 54.2z"/>
<path class="j26" d="M46 60.6 46.9 60.1 46.2 59.9 45.2 59.7z"/>
<path class="j27" d="M59.8 59.3 60.8 59.2 60 59.6 59.1 61.7z"/>
<path class="j49" d="M73.7 50.6 74.7 42.5 73.9 43.2 73 55.4z"/>
<path class="j24" d="M39.9 65.1 40.8 63.3 40.1 61.5 39.1 56.3z"/>
<path class="j18" d="M53.7 65.4 54.7 62.8 54 64.1 53 66.8z"/>
<path class="j22" d="M67.6 65.3 68.6 63.9 67.8 63.1 66.9 59.1z"/>
<path class="j35" d="M81.5 55.4 82.5 51.6 81.7 55.6 80.8 59z"/>
<path class="j33" d="M33.8 58.8 34.8 55.3 34 54.2 33 58.5z"/>
<path class="j22" d="M47.7 66.5 48.6 64.7 47.9 59.1 46.9 60.1z"/>
<path class="j25" d="M61.5 64.6 62.5 62.1 61.8 57.5 60.8 59.2z"/>
<path class="j57" d="M75.4 45.4 76.4 45.8 75.6 41 74.7 42.5z"/>
<path class="j27" d="M41.6 60.2 42.5 57.6 41.8 57.7 40.8 63.3z"/>
<path class="j23" d="M55.5 62.8 56.4 62.4 55.7 59.8 54.7 62.8z"/>
<path class="j29" d="M69.3 58.9 70.3 55.1 69.5 58.5 68.6 63.9z"/>
<path class="j49" d="M83.2 47.5 84.2 44.5 83.4 48.6 82.5 51.6z"/>
<path class="j40" d="M35.5 54.5 36.5 51.8 35.7 49.3 34.8 55.3z"/>
<path class="j18" d="M49.4 69.2 50.3 64 49.6 61 48.6 64.7z"/>
<path class="j26" d="M63.2 62.1 64.2 60.9 63.5 58.1 62.5 62.1z"/>
<path class="j47" d="M77.1 49.3 78.1 52.2 77.3 50.4 76.4 45.8z"/>
<path class="j28" d="M43.3 63.2 44.2 60.3 43.5 56.8 42.5 57.6z"/>
<path class="j18" d="M57.2 69.3 58.1 67.3 57.4 61.7 56.4 62.4z"/>
<path class="j33" d="M71 55.6 72 59.1 71.3 57 70.3 55.1z"/>
<path class="j45" d="M37.2 54 38.2 51.8 37.4 44.7 36.5 51.8z"/>
<path class="j16" d="M51.1 67.4 52 68.6 51.3 63.8 50.3 64z"/>
<path class="j29" d="M65 64.7 65.9 57.7 65.2 53.1 64.2 60.9z"/>
<path class="j40" d="M78.8 51 79.8 52.7 79 56.6 78.1 52.2z"/>
<path class="j33" d="M31.1 59.4 32.1 57.8 31.3 54.2 30.4 55.6z"/>
<path class="j25" d="M45 65.1 46 60.6 45.2 59.7 44.2 60.3z"/>
<path class="j22" d="M58.9 62.4 59.8 59.3 59.1 61.7 58.1 67.3z"/>
<path class="j36" d="M72.7 56 73.7 50.6 73 55.4 72 59.1z"/>
<path class="j31" d="M38.9 59.6 39.9 65.1 39.1 56.3 38.2 51.8z"/>
<path class="j14" d="M52.8 67.9 53.7 65.4 53 66.8 52 68.6z"/>
<path class="j25" d="M66.7 63.4 67.6 65.3 66.9 59.1 65.9 57.7z"/>
<path class="j38" d="M80.5 51.8 81.5 55.4 80.8 59 79.8 52.7z"/>
<path class="j28" d="M32.8 63.7 33.8 58.8 33 58.5 32.1 57.8z"/>
<path class="j22" d="M46.7 65.1 47.7 66.5 46.9 60.1 46 60.6z"/>
<path class="j24" d="M60.6 65.5 61.5 64.6 60.8 59.2 59.8 59.3z"/>
<path class="j53" d="M74.4 46.2 75.4 45.4 74.7 42.5 73.7 50.6z"/>
<path class="j19" d="M40.6 69 41.6 60.2 40.8 63.3 39.9 65.1z"/>
<path class="j20" d="M54.5 65.4 55.5 62.8 54.7 62.8 53.7 65.4z"/>
<path class="j22" d="M68.4 64.5 69.3 58.9 68.6 63.9 67.6 65.3z"/>
<path class="j41" d="M82.2 57.6 83.2 47.5 82.5 51.6 81.5 55.4z"/>
<path class="j35" d="M34.5 56.1 35.5 54.5 34.8 55.3 33.8 58.8z"/>
<path class="j13" d="M48.4 71.7 49.4 69.2 48.6 64.7 47.7 66.5z"/>
<path class="j21" d="M62.3 66 63.2 62.1 62.5 62.1 61.5 64.6z"/>
<path class="j51" d="M76.2 49.5 77.1 49.3 76.4 45.8 75.4 45.4z"/>
<path class="j27" d="M42.3 59.9 43.3 63.2 42.5 57.6 41.6 60.2z"/>
<path class="j17" d="M56.2 68.9 57.2 69.3 56.4 62.4 55.5 62.8z"/>
<path class="j34" d="M70.1 57.7 71 55.6 70.3 55.1 69.3 58.9z"/>
<path class="j50" d="M83.9 53 84.9 48.6 84.2 44.5 83.2 47.5z"/>
<path class="j39" d="M36.2 54.7 37.2 54 36.5 51.8 35.5 54.5z"/>
<path class="j15" d="M50.1 67.7 51.1 67.4 50.3 64 49.4 69.2z"/>
<path class="j23" d="M64 63.9 65 64.7 64.2 60.9 63.2 62.1z"/>
<path class="j44" d="M77.9 53.2 78.8 51 78.1 52.2 77.1 49.3z"/>
<path class="j34" d="M30.2 59.5 31.1 59.4 30.4 55.6 29.4 53.2z"/>
<path class="j20" d="M44 69 45 65.1 44.2 60.3 43.3 63.2z"/>
<path class="j16" d="M57.9 67.6 58.9 62.4 58.1 67.3 57.2 69.3z"/>
<path class="j34" d="M71.8 58.2 72.7 56 72 59.1 71 55.6z"/>
<path class="j37" d="M37.9 55.6 38.9 59.6 38.2 51.8 37.2 54z"/>
<path class="j13" d="M51.8 68.8 52.8 67.9 52 68.6 51.1 67.4z"/>
<path class="j23" d="M65.7 66.7 66.7 63.4 65.9 57.7 65 64.7z"/>
<path class="j43" d="M79.6 53.2 80.5 51.8 79.8 52.7 78.8 51z"/>
<path class="j26" d="M31.9 64.6 32.8 63.7 32.1 57.8 31.1 59.4z"/>
<path class="j20" d="M45.7 67.3 46.7 65.1 46 60.6 45 65.1z"/>
<path class="j24" d="M59.6 62.4 60.6 65.5 59.8 59.3 58.9 62.4z"/>
<path class="j46" d="M73.5 49.1 74.4 46.2 73.7 50.6 72.7 56z"/>
<path class="j19" d="M39.6 66.6 40.6 69 39.9 65.1 38.9 59.6z"/>
<path class="j16" d="M53.5 67.9 54.5 65.4 53.7 65.4 52.8 67.9z"/>
<path class="j20" d="M67.4 64.7 68.4 64.5 67.6 65.3 66.7 63.4z"/>
<path class="j36" d="M81.3 60.2 82.2 57.6 81.5 55.4 80.5 51.8z"/>
<path class="j26" d="M33.6 66.9 34.5 56.1 33.8 58.8 32.8 63.7z"/>
<path class="j13" d="M47.4 70 48.4 71.7 47.7 66.5 46.7 65.1z"/>
<path class="j17" d="M61.3 70.4 62.3 66 61.5 64.6 60.6 65.5z"/>
<path class="j53" d="M75.2 46.9 76.2 49.5 75.4 45.4 74.4 46.2z"/>
<path class="j21" d="M41.4 67.1 42.3 59.9 41.6 60.2 40.6 69z"/>
<path class="j18" d="M55.2 66.9 56.2 68.9 55.5 62.8 54.5 65.4z"/>
<path class="j28" d="M69.1 61.9 70.1 57.7 69.3 58.9 68.4 64.5z"/>
<path class="j37" d="M83 65.1 83.9 53 83.2 47.5 82.2 57.6z"/>
<path class="j36" d="M35.3 58.1 36.2 54.7 35.5 54.5 34.5 56.1z"/>
<path class="j12" d="M49.1 67.5 50.1 67.7 49.4 69.2 48.4 71.7z"/>
<path class="j21" d="M63 65.3 64 63.9 63.2 62.1 62.3 66z"/>
<path class="j44" d="M76.9 55.2 77.9 53.2 77.1 49.3 76.2 49.5z"/>
<path class="j34" d="M29.2 61.1 30.2 59.5 29.4 53.2 28.4 55z"/>
<path class="j21" d="M43.1 65.1 44 69 43.3 63.2 42.3 59.9z"/>
<path class="j12" d="M56.9 71.5 57.9 67.6 57.2 69.3 56.2 68.9z"/>
<path class="j33" d="M70.8 59.4 71.8 58.2 71 55.6 70.1 57.7z"/>
<path class="j46" d="M84.7 52.1 85.7 49.8 84.9 48.6 83.9 53z"/>
<path class="j38" d="M37 56.9 37.9 55.6 37.2 54 36.2 54.7z"/>
<path class="j16" d="M50.9 64.8 51.8 68.8 51.1 67.4 50.1 67.7z"/>
<path class="j18" d="M64.7 69.7 65.7 66.7 65 64.7 64 63.9z"/>
<path class="j41" d="M78.6 58.1 79.6 53.2 78.8 51 77.9 53.2z"/>
<path class="j27" d="M30.9 61.9 31.9 64.6 31.1 59.4 30.2 59.5z"/>
<path class="j14" d="M44.8 71.7 45.7 67.3 45 65.1 44 69z"/>
<path class="j22" d="M58.6 64.4 59.6 62.4 58.9 62.4 57.9 67.6z"/>
<path class="j38" d="M72.5 58.2 73.5 49.1 72.7 56 71.8 58.2z"/>
<path class="j28" d="M38.7 60.4 39.6 66.6 38.9 59.6 37.9 55.6z"/>
<path class="j14" d="M52.6 67.9 53.5 67.9 52.8 67.9 51.8 68.8z"/>
<path class="j20" d="M66.4 65.2 67.4 64.7 66.7 63.4 65.7 66.7z"/>
<path class="j37" d="M80.3 58.2 81.3 60.2 80.5 51.8 79.6 53.2z"/>
<path class="j19" d="M32.6 68.1 33.6 66.9 32.8 63.7 31.9 64.6z"/>
<path class="j14" d="M46.5 71.4 47.4 70 46.7 65.1 45.7 67.3z"/>
<path class="j17" d="M60.4 68.7 61.3 70.4 60.6 65.5 59.6 62.4z"/>
<path class="j53" d="M74.2 48.5 75.2 46.9 74.4 46.2 73.5 49.1z"/>
<path class="j15" d="M40.4 68.7 41.4 67.1 40.6 69 39.6 66.6z"/>
<path class="j17" d="M54.3 66.3 55.2 66.9 54.5 65.4 53.5 67.9z"/>
<path class="j23" d="M68.1 64.6 69.1 61.9 68.4 64.5 67.4 64.7z"/>
<path class="j24" d="M82 70 83 65.1 82.2 57.6 81.3 60.2z"/>
<path class="j25" d="M34.3 68.9 35.3 58.1 34.5 56.1 33.6 66.9z"/>
<path class="j13" d="M48.2 66.5 49.1 67.5 48.4 71.7 47.4 70z"/>
<path class="j15" d="M62.1 69.4 63 65.3 62.3 66 61.3 70.4z"/>
<path class="j46" d="M75.9 54.1 76.9 55.2 76.2 49.5 75.2 46.9z"/>
<path class="j26" d="M28.2 65.7 29.2 61.1 28.4 55 27.5 65.4z"/>
<path class="j21" d="M42.1 66.9 43.1 65.1 42.3 59.9 41.4 67.1z"/>
<path class="j15" d="M56 65.7 56.9 71.5 56.2 68.9 55.2 66.9z"/>
<path class="j30" d="M69.8 61.6 70.8 59.4 70.1 57.7 69.1 61.9z"/>
<path class="j34" d="M83.7 61.8 84.7 52.1 83.9 53 83 65.1z"/>
<path class="j34" d="M36 61.2 37 56.9 36.2 54.7 35.3 58.1z"/>
<path class="j19" d="M49.9 63 50.9 64.8 50.1 67.7 49.1 67.5z"/>
<path class="j17" d="M63.8 69.6 64.7 69.7 64 63.9 63 65.3z"/>
<path class="j37" d="M77.6 59.7 78.6 58.1 77.9 53.2 76.9 55.2z"/>
<path class="j26" d="M29.9 66.4 30.9 61.9 30.2 59.5 29.2 61.1z"/>
<path class="j13" d="M43.8 71.9 44.8 71.7 44 69 43.1 65.1z"/>
<path class="j15" d="M57.7 70.1 58.6 64.4 57.9 67.6 56.9 71.5z"/>
<path class="j30" d="M71.6 64.2 72.5 58.2 71.8 58.2 70.8 59.4z"/>
<path class="j51" d="M85.4 46.6 86.4 46.9 85.7 49.8 84.7 52.1z"/>
<path class="j32" d="M37.7 62.5 38.7 60.4 37.9 55.6 37 56.9z"/>
<path class="j19" d="M51.6 63.7 52.6 67.9 51.8 68.8 50.9 64.8z"/>
<path class="j16" d="M65.5 70.6 66.4 65.2 65.7 66.7 64.7 69.7z"/>
<path class="j36" d="M79.3 58.7 80.3 58.2 79.6 53.2 78.6 58.1z"/>
<path class="j22" d="M31.6 63.2 32.6 68.1 31.9 64.6 30.9 61.9z"/>
<path class="j9" d="M45.5 75.6 46.5 71.4 45.7 67.3 44.8 71.7z"/>
<path class="j19" d="M59.4 69 60.4 68.7 59.6 62.4 58.6 64.4z"/>
<path class="j42" d="M73.3 59.2 74.2 48.5 73.5 49.1 72.5 58.2z"/>
<path class="j21" d="M39.4 63.6 40.4 68.7 39.6 66.6 38.7 60.4z"/>
<path class="j20" d="M53.3 60.9 54.3 66.3 53.5 67.9 52.6 67.9z"/>
<path class="j21" d="M67.2 65.5 68.1 64.6 67.4 64.7 66.4 65.2z"/>
<path class="j25" d="M81.1 63.3 82 70 81.3 60.2 80.3 58.2z"/>
<path class="j14" d="M33.3 71.9 34.3 68.9 33.6 66.9 32.6 68.1z"/>
<path class="j14" d="M47.2 68.6 48.2 66.5 47.4 70 46.5 71.4z"/>
<path class="j11" d="M61.1 73.9 62.1 69.4 61.3 70.4 60.4 68.7z"/>
<path class="j46" d="M75 58.4 75.9 54.1 75.2 46.9 74.2 48.5z"/>
<path class="j18" d="M27.3 67.9 28.2 65.7 27.5 65.4 26.5 68.8z"/>
<path class="j16" d="M41.1 68.4 42.1 66.9 41.4 67.1 40.4 68.7z"/>
<path class="j21" d="M55 62.2 56 65.7 55.2 66.9 54.3 66.3z"/>
<path class="j25" d="M68.9 64.7 69.8 61.6 69.1 61.9 68.1 64.6z"/>
<path class="j20" d="M82.8 67.5 83.7 61.8 83 65.1 82 70z"/>
<path class="j24" d="M35.1 65.2 36 61.2 35.3 58.1 34.3 68.9z"/>
<path class="j22" d="M48.9 63 49.9 63 49.1 67.5 48.2 66.5z"/>
<path class="j16" d="M62.8 68.9 63.8 69.6 63 65.3 62.1 69.4z"/>
<path class="j36" d="M76.7 60.5 77.6 59.7 76.9 55.2 75.9 54.1z"/>
<path class="j19" d="M29 71.4 29.9 66.4 29.2 61.1 28.2 65.7z"/>
<path class="j15" d="M42.8 69.7 43.8 71.9 43.1 65.1 42.1 66.9z"/>
<path class="j15" d="M56.7 67.9 57.7 70.1 56.9 71.5 56 65.7z"/>
<path class="j25" d="M70.6 67.8 71.6 64.2 70.8 59.4 69.8 61.6z"/>
<path class="j43" d="M84.5 53.5 85.4 46.6 84.7 52.1 83.7 61.8z"/>
<path class="j28" d="M36.8 66.6 37.7 62.5 37 56.9 36 61.2z"/>
<path class="j24" d="M50.6 63.4 51.6 63.7 50.9 64.8 49.9 63z"/>
<path class="j12" d="M64.5 72.1 65.5 70.6 64.7 69.7 63.8 69.6z"/>
<path class="j30" d="M78.4 66 79.3 58.7 78.6 58.1 77.6 59.7z"/>
<path class="j22" d="M30.7 68.8 31.6 63.2 30.9 61.9 29.9 66.4z"/>
<path class="j5" d="M44.5 77.5 45.5 75.6 44.8 71.7 43.8 71.9z"/>
<path class="j16" d="M58.4 69.6 59.4 69 58.6 64.4 57.7 70.1z"/>
<path class="j27" d="M72.3 67.7 73.3 59.2 72.5 58.2 71.6 64.2z"/>
<path class="j57" d="M86.2 45.2 87.1 47.5 86.4 46.9 85.4 46.6z"/>
<path class="j26" d="M38.5 64.9 39.4 63.6 38.7 60.4 37.7 62.5z"/>
<path class="j26" d="M52.3 59.4 53.3 60.9 52.6 67.9 51.6 63.7z"/>
<path class="j18" d="M66.2 67.3 67.2 65.5 66.4 65.2 65.5 70.6z"/>
<path class="j33" d="M80.1 57.3 81.1 63.3 80.3 58.2 79.3 58.7z"/>
<path class="j18" d="M32.4 66.4 33.3 71.9 32.6 68.1 31.6 63.2z"/>
<path class="j10" d="M46.3 71.4 47.2 68.6 46.5 71.4 45.5 75.6z"/>
<path class="j10" d="M60.1 75.1 61.1 73.9 60.4 68.7 59.4 69z"/>
<path class="j37" d="M74 62.3 75 58.4 74.2 48.5 73.3 59.2z"/>
<path class="j20" d="M26.3 65.7 27.3 67.9 26.5 68.8 25.6 61.1z"/>
<path class="j18" d="M40.2 68.3 41.1 68.4 40.4 68.7 39.4 63.6z"/>
<path class="j28" d="M54 58.2 55 62.2 54.3 66.3 53.3 60.9z"/>
<path class="j22" d="M67.9 65.5 68.9 64.7 68.1 64.6 67.2 65.5z"/>
<path class="j20" d="M81.8 64.1 82.8 67.5 82 70 81.1 63.3z"/>
<path class="j17" d="M34.1 65.9 35.1 65.2 34.3 68.9 33.3 71.9z"/>
<path class="j23" d="M48 61.3 48.9 63 48.2 66.5 47.2 68.6z"/>
<path class="j10" d="M61.8 74.7 62.8 68.9 62.1 69.4 61.1 73.9z"/>
<path class="j32" d="M75.7 66.3 76.7 60.5 75.9 54.1 75 58.4z"/>
<path class="j16" d="M28 67.9 29 71.4 28.2 65.7 27.3 67.9z"/>
<path class="j16" d="M41.9 68.4 42.8 69.7 42.1 66.9 41.1 68.4z"/>
<path class="j23" d="M55.8 64 56.7 67.9 56 65.7 55 62.2z"/>
<path class="j21" d="M69.6 69.6 70.6 67.8 69.8 61.6 68.9 64.7z"/>
<path class="j33" d="M83.5 56 84.5 53.5 83.7 61.8 82.8 67.5z"/>
<path class="j22" d="M35.8 67.4 36.8 66.6 36 61.2 35.1 65.2z"/>
<path class="j26" d="M49.7 63.5 50.6 63.4 49.9 63 48.9 63z"/>
<path class="j14" d="M63.5 68.3 64.5 72.1 63.8 69.6 62.8 68.9z"/>
<path class="j26" d="M77.4 67.8 78.4 66 77.6 59.7 76.7 60.5z"/>
<path class="j14" d="M29.7 72.3 30.7 68.8 29.9 66.4 29 71.4z"/>
<path class="j8" d="M43.6 73.6 44.5 77.5 43.8 71.9 42.8 69.7z"/>
<path class="j15" d="M57.5 70 58.4 69.6 57.7 70.1 56.7 67.9z"/>
<path class="j18" d="M71.3 71.3 72.3 67.7 71.6 64.2 70.6 67.8z"/>
<path class="j53" d="M85.2 49.4 86.2 45.2 85.4 46.6 84.5 53.5z"/>
<path class="j21" d="M37.5 69.5 38.5 64.9 37.7 62.5 36.8 66.6z"/>
<path class="j28" d="M51.4 63.2 52.3 59.4 51.6 63.7 50.6 63.4z"/>
<path class="j15" d="M65.3 67.4 66.2 67.3 65.5 70.6 64.5 72.1z"/>
<path class="j28" d="M79.1 66.7 80.1 57.3 79.3 58.7 78.4 66z"/>
<path class="j21" d="M31.4 65.8 32.4 66.4 31.6 63.2 30.7 68.8z"/>
<path class="j5" d="M45.3 74.3 46.3 71.4 45.5 75.6 44.5 77.5z"/>
<path class="j12" d="M59.2 71.1 60.1 75.1 59.4 69 58.4 69.6z"/>
<path class="j27" d="M73 63.3 74 62.3 73.3 59.2 72.3 67.7z"/>
<path class="j57" d="M86.9 47 87.9 48 87.1 47.5 86.2 45.2z"/>
<path class="j29" d="M25.3 63.1 26.3 65.7 25.6 61.1 24.6 56.2z"/>
<path class="j21" d="M39.2 67.3 40.2 68.3 39.4 63.6 38.5 64.9z"/>
<path class="j33" d="M53.1 59.8 54 58.2 53.3 60.9 52.3 59.4z"/>
<path class="j22" d="M67 64.8 67.9 65.5 67.2 65.5 66.2 67.3z"/>
<path class="j33" d="M80.8 55.3 81.8 64.1 81.1 63.3 80.1 57.3z"/>
<path class="j21" d="M33.1 60.7 34.1 65.9 33.3 71.9 32.4 66.4z"/>
<path class="j23" d="M47 60.2 48 61.3 47.2 68.6 46.3 71.4z"/>
<path class="j5" d="M60.9 76.7 61.8 74.7 61.1 73.9 60.1 75.1z"/>
<path class="j28" d="M74.8 63.3 75.7 66.3 75 58.4 74 62.3z"/>
<path class="j21" d="M27 62.5 28 67.9 27.3 67.9 26.3 65.7z"/>
<path class="j16" d="M40.9 70.4 41.9 68.4 41.1 68.4 40.2 68.3z"/>
<path class="j29" d="M54.8 63.9 55.8 64 55 62.2 54 58.2z"/>
<path class="j20" d="M68.7 68 69.6 69.6 68.9 64.7 67.9 65.5z"/>
<path class="j30" d="M82.5 58.6 83.5 56 82.8 67.5 81.8 64.1z"/>
<path class="j22" d="M34.8 64 35.8 67.4 35.1 65.2 34.1 65.9z"/>
<path class="j30" d="M48.7 58.2 49.7 63.5 48.9 63 48 61.3z"/>
<path class="j12" d="M62.6 73.3 63.5 68.3 62.8 68.9 61.8 74.7z"/>
<path class="j23" d="M76.5 67 77.4 67.8 76.7 60.5 75.7 66.3z"/>
<path class="j15" d="M28.7 65.9 29.7 72.3 29 71.4 28 67.9z"/>
<path class="j14" d="M42.6 68.9 43.6 73.6 42.8 69.7 41.9 68.4z"/>
<path class="j19" d="M56.5 67.5 57.5 70 56.7 67.9 55.8 64z"/>
<path class="j14" d="M70.4 73.2 71.3 71.3 70.6 67.8 69.6 69.6z"/>
<path class="j48" d="M84.2 50 85.2 49.4 84.5 53.5 83.5 56z"/>
<path class="j17" d="M36.5 70 37.5 69.5 36.8 66.6 35.8 67.4z"/>
<path class="j27" d="M50.4 62.6 51.4 63.2 50.6 63.4 49.7 63.5z"/>
<path class="j18" d="M64.3 65.5 65.3 67.4 64.5 72.1 63.5 68.3z"/>
<path class="j19" d="M78.2 70.6 79.1 66.7 78.4 66 77.4 67.8z"/>
<path class="j17" d="M30.5 67.2 31.4 65.8 30.7 68.8 29.7 72.3z"/>
<path class="j6" d="M44.3 71.9 45.3 74.3 44.5 77.5 43.6 73.6z"/>
<path class="j14" d="M58.2 70.9 59.2 71.1 58.4 69.6 57.5 70z"/>
<path class="j21" d="M72.1 64.5 73 63.3 72.3 67.7 71.3 71.3z"/>
<path class="j56" d="M86 48.9 86.9 47 86.2 45.2 85.2 49.4z"/>
<path class="j33" d="M24.4 61.6 25.3 63.1 24.6 56.2 23.6 57.9z"/>
<path class="j19" d="M38.2 69.5 39.2 67.3 38.5 64.9 37.5 69.5z"/>
<path class="j30" d="M52.1 65.6 53.1 59.8 52.3 59.4 51.4 63.2z"/>
<path class="j24" d="M66 61.3 67 64.8 66.2 67.3 65.3 67.4z"/>
<path class="j36" d="M79.9 54.9 80.8 55.3 80.1 57.3 79.1 66.7z"/>
<path class="j28" d="M32.2 58.1 33.1 60.7 32.4 66.4 31.4 65.8z"/>
<path class="j19" d="M46 64.7 47 60.2 46.3 71.4 45.3 74.3z"/>
<path class="j7" d="M59.9 75.2 60.9 76.7 60.1 75.1 59.2 71.1z"/>
<path class="j31" d="M73.8 57.4 74.8 63.3 74 62.3 73 63.3z"/>
<path class="j57" d="M87.7 48.1 88.6 47.9 87.9 48 86.9 47z"/>
<path class="j26" d="M26.1 64 27 62.5 26.3 65.7 25.3 63.1z"/>
<path class="j18" d="M40 66.7 40.9 70.4 40.2 68.3 39.2 67.3z"/>
<path class="j29" d="M53.8 68.7 54.8 63.9 54 58.2 53.1 59.8z"/>
<path class="j23" d="M67.7 65 68.7 68 67.9 65.5 67 64.8z"/>
<path class="j37" d="M81.6 54.7 82.5 58.6 81.8 64.1 80.8 55.3z"/>
<path class="j29" d="M33.9 58.8 34.8 64 34.1 65.9 33.1 60.7z"/>
<path class="j36" d="M47.7 55.4 48.7 58.2 48 61.3 47 60.2z"/>
<path class="j5" d="M61.6 77.3 62.6 73.3 61.8 74.7 60.9 76.7z"/>
<path class="j26" d="M75.5 60.1 76.5 67 75.7 66.3 74.8 63.3z"/>
<path class="j27" d="M27.8 58.6 28.7 65.9 28 67.9 27 62.5z"/>
<path class="j18" d="M41.7 66.8 42.6 68.9 41.9 68.4 40.9 70.4z"/>
<path class="j21" d="M55.5 71.1 56.5 67.5 55.8 64 54.8 63.9z"/>
<path class="j14" d="M69.4 72.1 70.4 73.2 69.6 69.6 68.7 68z"/>
<path class="j43" d="M83.3 55.4 84.2 50 83.5 56 82.5 58.6z"/>
<path class="j21" d="M35.6 66 36.5 70 35.8 67.4 34.8 64z"/>
<path class="j31" d="M49.5 61.1 50.4 62.6 49.7 63.5 48.7 58.2z"/>
<path class="j16" d="M63.3 71 64.3 65.5 63.5 68.3 62.6 73.3z"/>
<path class="j20" d="M77.2 64.4 78.2 70.6 77.4 67.8 76.5 67z"/>
<path class="j19" d="M29.5 67.5 30.5 67.2 29.7 72.3 28.7 65.9z"/>
<path class="j14" d="M43.4 67.8 44.3 71.9 43.6 73.6 42.6 68.9z"/>
<path class="j16" d="M57.2 69.8 58.2 70.9 57.5 70 56.5 67.5z"/>
<path class="j18" d="M71.1 66.3 72.1 64.5 71.3 71.3 70.4 73.2z"/>
<path class="j53" d="M85 51.7 86 48.9 85.2 49.4 84.2 50z"/>
<path class="j35" d="M23.4 59.1 24.4 61.6 23.6 57.9 22.7 57.8z"/>
<path class="j17" d="M37.3 68.1 38.2 69.5 37.5 69.5 36.5 70z"/>
<path class="j26" d="M51.2 66.5 52.1 65.6 51.4 63.2 50.4 62.6z"/>
<path class="j28" d="M65 58.6 66 61.3 65.3 67.4 64.3 65.5z"/>
<path class="j30" d="M78.9 58.3 79.9 54.9 79.1 66.7 78.2 70.6z"/>
<path class="j28" d="M31.2 63 32.2 58.1 31.4 65.8 30.5 67.2z"/>
<path class="j17" d="M45.1 65.9 46 64.7 45.3 74.3 44.3 71.9z"/>
<path class="j10" d="M58.9 75.3 59.9 75.2 59.2 71.1 58.2 70.9z"/>
<path class="j34" d="M72.8 56.1 73.8 57.4 73 63.3 72.1 64.5z"/>
<path class="j56" d="M86.7 50.6 87.7 48.1 86.9 47 86 48.9z"/>
<path class="j28" d="M25.1 64.3 26.1 64 25.3 63.1 24.4 61.6z"/>
<path class="j20" d="M39 67 40 66.7 39.2 67.3 38.2 69.5z"/>
<path class="j21" d="M52.9 74.3 53.8 68.7 53.1 59.8 52.1 65.6z"/>
<path class="j29" d="M66.7 60.8 67.7 65 67 64.8 66 61.3z"/>
<path class="j47" d="M80.6 48 81.6 54.7 80.8 55.3 79.9 54.9z"/>
<path class="j38" d="M32.9 55.4 33.9 58.8 33.1 60.7 32.2 58.1z"/>
<path class="j34" d="M46.8 61.3 47.7 55.4 47 60.2 46 64.7z"/>
<path class="j4" d="M60.7 76.1 61.6 77.3 60.9 76.7 59.9 75.2z"/>
<path class="j36" d="M74.5 55.9 75.5 60.1 74.8 63.3 73.8 57.4z"/>
<path class="j54" d="M88.4 51.2 89.4 51.3 88.6 47.9 87.7 48.1z"/>
<path class="j31" d="M26.8 62.4 27.8 58.6 27 62.5 26.1 64z"/>
<path class="j22" d="M40.7 63.8 41.7 66.8 40.9 70.4 40 66.7z"/>
<path class="j15" d="M54.6 77.9 55.5 71.1 54.8 63.9 53.8 68.7z"/>
<path class="j21" d="M68.4 65.2 69.4 72.1 68.7 68 67.7 65z"/>
<path class="j41" d="M82.3 58 83.3 55.4 82.5 58.6 81.6 54.7z"/>
<path class="j30" d="M34.6 60.5 35.6 66 34.8 64 33.9 58.8z"/>
<path class="j35" d="M48.5 63.6 49.5 61.1 48.7 58.2 47.7 55.4z"/>
<path class="j8" d="M62.4 77.2 63.3 71 62.6 73.3 61.6 77.3z"/>
<path class="j30" d="M76.2 58.4 77.2 64.4 76.5 67 75.5 60.1z"/>
<path class="j26" d="M28.5 65.8 29.5 67.5 28.7 65.9 27.8 58.6z"/>
<path class="j22" d="M42.4 64.4 43.4 67.8 42.6 68.9 41.7 66.8z"/>
<path class="j16" d="M56.3 72.6 57.2 69.8 56.5 67.5 55.5 71.1z"/>
<path class="j16" d="M70.2 68.6 71.1 66.3 70.4 73.2 69.4 72.1z"/>
<path class="j47" d="M84 56.6 85 51.7 84.2 50 83.3 55.4z"/>
<path class="j39" d="M22.4 58.3 23.4 59.1 22.7 57.8 21.7 55.4z"/>
<path class="j22" d="M36.3 63.1 37.3 68.1 36.5 70 35.6 66z"/>
<path class="j27" d="M50.2 67 51.2 66.5 50.4 62.6 49.5 61.1z"/>
<path class="j27" d="M64.1 61.4 65 58.6 64.3 65.5 63.3 71z"/>
<path class="j30" d="M77.9 59.1 78.9 58.3 78.2 70.6 77.2 64.4z"/>
<path class="j23" d="M30.2 68.8 31.2 63 30.5 67.2 29.5 67.5z"/>
<path class="j21" d="M44.1 65.6 45.1 65.9 44.3 71.9 43.4 67.8z"/>
<path class="j12" d="M58 73.9 58.9 75.3 58.2 70.9 57.2 69.8z"/>
<path class="j32" d="M71.9 59.6 72.8 56.1 72.1 64.5 71.1 66.3z"/>
<path class="j50" d="M85.7 56.4 86.7 50.6 86 48.9 85 51.7z"/>
<path class="j32" d="M24.1 60.9 25.1 64.3 24.4 61.6 23.4 59.1z"/>
<path class="j21" d="M38 65.8 39 67 38.2 69.5 37.3 68.1z"/>
<path class="j15" d="M51.9 76.2 52.9 74.3 52.1 65.6 51.2 66.5z"/>
<path class="j36" d="M65.8 57.6 66.7 60.8 66 61.3 65 58.6z"/>
<path class="j49" d="M79.7 49.5 80.6 48 79.9 54.9 78.9 58.3z"/>
<path class="j37" d="M31.9 60.3 32.9 55.4 32.2 58.1 31.2 63z"/>
<path class="j28" d="M45.8 64.6 46.8 61.3 46 64.7 45.1 65.9z"/>
<path class="j7" d="M59.7 75 60.7 76.1 59.9 75.2 58.9 75.3z"/>
<path class="j42" d="M73.6 56 74.5 55.9 73.8 57.4 72.8 56.1z"/>
<path class="j53" d="M87.4 53.3 88.4 51.2 87.7 48.1 86.7 50.6z"/>
<path class="j28" d="M25.9 65.3 26.8 62.4 26.1 64 25.1 64.3z"/>
<path class="j25" d="M39.7 65.7 40.7 63.8 40 66.7 39 67z"/>
<path class="j7" d="M53.6 79.9 54.6 77.9 53.8 68.7 52.9 74.3z"/>
<path class="j30" d="M67.5 62.1 68.4 65.2 67.7 65 66.7 60.8z"/>
<path class="j48" d="M81.4 53.1 82.3 58 81.6 54.7 80.6 48z"/>
<path class="j39" d="M33.6 56.7 34.6 60.5 33.9 58.8 32.9 55.4z"/>
<path class="j31" d="M47.5 69.3 48.5 63.6 47.7 55.4 46.8 61.3z"/>
<path class="j5" d="M61.4 74.8 62.4 77.2 61.6 77.3 60.7 76.1z"/>
<path class="j40" d="M75.3 57.6 76.2 58.4 75.5 60.1 74.5 55.9z"/>
<path class="j49" d="M89.1 54.3 90.1 56.1 89.4 51.3 88.4 51.2z"/>
<path class="j28" d="M27.6 68.3 28.5 65.8 27.8 58.6 26.8 62.4z"/>
<path class="j26" d="M41.4 64.7 42.4 64.4 41.7 66.8 40.7 63.8z"/>
<path class="j9" d="M55.3 75.7 56.3 72.6 55.5 71.1 54.6 77.9z"/>
<path class="j22" d="M69.2 64 70.2 68.6 69.4 72.1 68.4 65.2z"/>
<path class="j41" d="M83.1 59.1 84 56.6 83.3 55.4 82.3 58z"/>
<path class="j31" d="M35.4 61.3 36.3 63.1 35.6 66 34.6 60.5z"/>
<path class="j25" d="M49.2 71.3 50.2 67 49.5 61.1 48.5 63.6z"/>
<path class="j18" d="M63.1 68.3 64.1 61.4 63.3 71 62.4 77.2z"/>
<path class="j34" d="M77 62 77.9 59.1 77.2 64.4 76.2 58.4z"/>
<path class="j21" d="M29.3 68.9 30.2 68.8 29.5 67.5 28.5 65.8z"/>
<path class="j25" d="M43.1 64.9 44.1 65.6 43.4 67.8 42.4 64.4z"/>
<path class="j13" d="M57 73.7 58 73.9 57.2 69.8 56.3 72.6z"/>
<path class="j28" d="M70.9 63.4 71.9 59.6 71.1 66.3 70.2 68.6z"/>
<path class="j44" d="M84.8 58.4 85.7 56.4 85 51.7 84 56.6z"/>
<path class="j34" d="M23.2 64.7 24.1 60.9 23.4 59.1 22.4 58.3z"/>
<path class="j28" d="M37.1 59.9 38 65.8 37.3 68.1 36.3 63.1z"/>
<path class="j16" d="M50.9 73.8 51.9 76.2 51.2 66.5 50.2 67z"/>
<path class="j36" d="M64.8 62.5 65.8 57.6 65 58.6 64.1 61.4z"/>
<path class="j44" d="M78.7 55.6 79.7 49.5 78.9 58.3 77.9 59.1z"/>
<path class="j27" d="M31 66.9 31.9 60.3 31.2 63 30.2 68.8z"/>
<path class="j27" d="M44.9 64.1 45.8 64.6 45.1 65.9 44.1 65.6z"/>
<path class="j9" d="M58.7 73.7 59.7 75 58.9 75.3 58 73.9z"/>
<path class="j41" d="M72.6 59.1 73.6 56 72.8 56.1 71.9 59.6z"/>
<path class="j47" d="M86.5 58.3 87.4 53.3 86.7 50.6 85.7 56.4z"/>
<path class="j30" d="M24.9 62 25.9 65.3 25.1 64.3 24.1 60.9z"/>
<path class="j25" d="M38.8 64.9 39.7 65.7 39 67 38 65.8z"/>
<path class="j4" d="M52.6 80 53.6 79.9 52.9 74.3 51.9 76.2z"/>
<path class="j34" d="M66.5 65.5 67.5 62.1 66.7 60.8 65.8 57.6z"/>
<path class="j55" d="M80.4 50.7 81.4 53.1 80.6 48 79.7 49.5z"/>
<path class="j39" d="M32.7 61.1 33.6 56.7 32.9 55.4 31.9 60.3z"/>
<path class="j24" d="M46.6 72.4 47.5 69.3 46.8 61.3 45.8 64.6z"/>
<path class="j10" d="M60.4 70.6 61.4 74.8 60.7 76.1 59.7 75z"/>
<path class="j42" d="M74.3 59.2 75.3 57.6 74.5 55.9 73.6 56z"/>
<path class="j50" d="M88.2 52.3 89.1 54.3 88.4 51.2 87.4 53.3z"/>
<path class="j24" d="M26.6 70.9 27.6 68.3 26.8 62.4 25.9 65.3z"/>
<path class="j27" d="M40.5 66.7 41.4 64.7 40.7 63.8 39.7 65.7z"/>
<path class="j4" d="M54.3 76.1 55.3 75.7 54.6 77.9 53.6 79.9z"/>
<path class="j30" d="M68.2 62.8 69.2 64 68.4 65.2 67.5 62.1z"/>
<path class="j43" d="M82.1 57.4 83.1 59.1 82.3 58 81.4 53.1z"/>
<path class="j36" d="M34.4 62.5 35.4 61.3 34.6 60.5 33.6 56.7z"/>
<path class="j18" d="M48.3 76.7 49.2 71.3 48.5 63.6 47.5 69.3z"/>
<path class="j14" d="M62.1 68.7 63.1 68.3 62.4 77.2 61.4 74.8z"/>
<path class="j36" d="M76 64.4 77 62 76.2 58.4 75.3 57.6z"/>
<path class="j45" d="M89.9 55 90.9 57 90.1 56.1 89.1 54.3z"/>
<path class="j22" d="M28.3 69.1 29.3 68.9 28.5 65.8 27.6 68.3z"/>
<path class="j26" d="M42.2 68 43.1 64.9 42.4 64.4 41.4 64.7z"/>
<path class="j12" d="M56.1 72.2 57 73.7 56.3 72.6 55.3 75.7z"/>
<path class="j29" d="M69.9 60.9 70.9 63.4 70.2 68.6 69.2 64z"/>
<path class="j41" d="M83.8 57.8 84.8 58.4 84 56.6 83.1 59.1z"/>
<path class="j35" d="M36.1 58.4 37.1 59.9 36.3 63.1 35.4 61.3z"/>
<path class="j16" d="M50 73.7 50.9 73.8 50.2 67 49.2 71.3z"/>
<path class="j27" d="M63.8 68.8 64.8 62.5 64.1 61.4 63.1 68.3z"/>
<path class="j38" d="M77.7 61.9 78.7 55.6 77.9 59.1 77 62z"/>
<path class="j23" d="M30 65 31 66.9 30.2 68.8 29.3 68.9z"/>
<path class="j27" d="M43.9 66.6 44.9 64.1 44.1 65.6 43.1 64.9z"/>
<path class="j12" d="M57.8 72.1 58.7 73.7 58 73.9 57 73.7z"/>
<path class="j36" d="M71.6 60 72.6 59.1 71.9 59.6 70.9 63.4z"/>
<path class="j40" d="M85.5 60.5 86.5 58.3 85.7 56.4 84.8 58.4z"/>
<path class="j32" d="M23.9 62.1 24.9 62 24.1 60.9 23.2 64.7z"/>
<path class="j33" d="M37.8 56.9 38.8 64.9 38 65.8 37.1 59.9z"/>
<path class="j7" d="M51.7 75.1 52.6 80 51.9 76.2 50.9 73.8z"/>
<path class="j29" d="M65.6 73.1 66.5 65.5 65.8 57.6 64.8 62.5z"/>
<path class="j51" d="M79.4 55 80.4 50.7 79.7 49.5 78.7 55.6z"/>
<path class="j30" d="M31.7 66.3 32.7 61.1 31.9 60.3 31 66.9z"/>
<path class="j24" d="M45.6 67.6 46.6 72.4 45.8 64.6 44.9 64.1z"/>
<path class="j15" d="M59.5 69 60.4 70.6 59.7 75 58.7 73.7z"/>
<path class="j40" d="M73.3 59.3 74.3 59.2 73.6 56 72.6 59.1z"/>
<path class="j47" d="M87.2 55.4 88.2 52.3 87.4 53.3 86.5 58.3z"/>
<path class="j25" d="M25.6 68.7 26.6 70.9 25.9 65.3 24.9 62z"/>
<path class="j28" d="M39.5 63.2 40.5 66.7 39.7 65.7 38.8 64.9z"/>
<path class="j3" d="M53.4 77.5 54.3 76.1 53.6 79.9 52.6 80z"/>
<path class="j28" d="M67.3 69.3 68.2 62.8 67.5 62.1 66.5 65.5z"/>
<path class="j49" d="M81.1 53.8 82.1 57.4 81.4 53.1 80.4 50.7z"/>
<path class="j35" d="M33.4 65 34.4 62.5 33.6 56.7 32.7 61.1z"/>
<path class="j10" d="M47.3 80.9 48.3 76.7 47.5 69.3 46.6 72.4z"/>
<path class="j19" d="M61.2 66.6 62.1 68.7 61.4 74.8 60.4 70.6z"/>
<path class="j36" d="M75.1 62.6 76 64.4 75.3 57.6 74.3 59.2z"/>
<path class="j51" d="M88.9 51 89.9 55 89.1 54.3 88.2 52.3z"/>
<path class="j19" d="M27.3 70.6 28.3 69.1 27.6 68.3 26.6 70.9z"/>
<path class="j23" d="M41.2 72.4 42.2 68 41.4 64.7 40.5 66.7z"/>
<path class="j12" d="M55.1 72.1 56.1 72.2 55.3 75.7 54.3 76.1z"/>
<path class="j33" d="M69 61.8 69.9 60.9 69.2 64 68.2 62.8z"/>
<path class="j42" d="M82.8 57.1 83.8 57.8 83.1 59.1 82.1 57.4z"/>
<path class="j35" d="M35.1 63.3 36.1 58.4 35.4 61.3 34.4 62.5z"/>
<path class="j10" d="M49 78 50 73.7 49.2 71.3 48.3 76.7z"/>
<path class="j22" d="M62.9 69.5 63.8 68.8 63.1 68.3 62.1 68.7z"/>
<path class="j31" d="M76.8 66.7 77.7 61.9 77 62 76 64.4z"/>
<path class="j48" d="M90.6 51.7 91.6 54.9 90.9 57 89.9 55z"/>
<path class="j26" d="M29 62.8 30 65 29.3 68.9 28.3 69.1z"/>
<path class="j25" d="M42.9 69 43.9 66.6 43.1 64.9 42.2 68z"/>
<path class="j15" d="M56.8 70.9 57.8 72.1 57 73.7 56.1 72.2z"/>
<path class="j37" d="M70.7 57.7 71.6 60 70.9 63.4 69.9 60.9z"/>
<path class="j40" d="M84.5 59 85.5 60.5 84.8 58.4 83.8 57.8z"/>
<path class="j44" d="M36.8 52.3 37.8 56.9 37.1 59.9 36.1 58.4z"/>
<path class="j12" d="M50.7 73.2 51.7 75.1 50.9 73.8 50 73.7z"/>
<path class="j20" d="M64.6 74.5 65.6 73.1 64.8 62.5 63.8 68.8z"/>
<path class="j42" d="M78.5 59.8 79.4 55 78.7 55.6 77.7 61.9z"/>
<path class="j27" d="M30.8 65.9 31.7 66.3 31 66.9 30 65z"/>
<path class="j26" d="M44.6 67.4 45.6 67.6 44.9 64.1 43.9 66.6z"/>
<path class="j18" d="M58.5 69.1 59.5 69 58.7 73.7 57.8 72.1z"/>
<path class="j41" d="M72.4 54.8 73.3 59.3 72.6 59.1 71.6 60z"/>
<path class="j42" d="M86.3 58.7 87.2 55.4 86.5 58.3 85.5 60.5z"/>
<path class="j31" d="M24.7 63.1 25.6 68.7 24.9 62 23.9 62.1z"/>
<path class="j38" d="M38.5 54.8 39.5 63.2 38.8 64.9 37.8 56.9z"/>
<path class="j8" d="M52.4 72.9 53.4 77.5 52.6 80 51.7 75.1z"/>
<path class="j19" d="M66.3 74.5 67.3 69.3 66.5 65.5 65.6 73.1z"/>
<path class="j50" d="M80.2 55.7 81.1 53.8 80.4 50.7 79.4 55z"/>
<path class="j30" d="M32.5 65.5 33.4 65 32.7 61.1 31.7 66.3z"/>
<path class="j13" d="M46.3 73.6 47.3 80.9 46.6 72.4 45.6 67.6z"/>
<path class="j22" d="M60.2 69.9 61.2 66.6 60.4 70.6 59.5 69z"/>
<path class="j39" d="M74.1 57.7 75.1 62.6 74.3 59.2 73.3 59.3z"/>
<path class="j52" d="M88 51.8 88.9 51 88.2 52.3 87.2 55.4z"/>
<path class="j21" d="M26.4 67.9 27.3 70.6 26.6 70.9 25.6 68.7z"/>
<path class="j22" d="M40.3 73.1 41.2 72.4 40.5 66.7 39.5 63.2z"/>
<path class="j11" d="M54.1 74.6 55.1 72.1 54.3 76.1 53.4 77.5z"/>
<path class="j29" d="M68 67 69 61.8 68.2 62.8 67.3 69.3z"/>
<path class="j46" d="M81.9 55.3 82.8 57.1 82.1 57.4 81.1 53.8z"/>
<path class="j31" d="M34.2 64.6 35.1 63.3 34.4 62.5 33.4 65z"/>
<path class="j3" d="M48 81.2 49 78 48.3 76.7 47.3 80.9z"/>
<path class="j22" d="M61.9 72 62.9 69.5 62.1 68.7 61.2 66.6z"/>
<path class="j30" d="M75.8 65.1 76.8 66.7 76 64.4 75.1 62.6z"/>
<path class="j54" d="M89.7 50.6 90.6 51.7 89.9 55 88.9 51z"/>
<path class="j27" d="M28.1 62.7 29 62.8 28.3 69.1 27.3 70.6z"/>
<path class="j20" d="M42 70.4 42.9 69 42.2 68 41.2 72.4z"/>
<path class="j17" d="M55.8 71.2 56.8 70.9 56.1 72.2 55.1 72.1z"/>
<path class="j39" d="M69.7 59.6 70.7 57.7 69.9 60.9 69 61.8z"/>
<path class="j43" d="M83.6 56.8 84.5 59 83.8 57.8 82.8 57.1z"/>
<path class="j42" d="M35.9 58.9 36.8 52.3 36.1 58.4 35.1 63.3z"/>
<path class="j10" d="M49.8 76.4 50.7 73.2 50 73.7 49 78z"/>
<path class="j18" d="M63.6 72.2 64.6 74.5 63.8 68.8 62.9 69.5z"/>
<path class="j34" d="M77.5 62.6 78.5 59.8 77.7 61.9 76.8 66.7z"/>
<path class="j53" d="M91.4 48.9 92.3 54.6 91.6 54.9 90.6 51.7z"/>
<path class="j30" d="M29.8 65.6 30.8 65.9 30 65 29 62.8z"/>
<path class="j24" d="M43.7 68.3 44.6 67.4 43.9 66.6 42.9 69z"/>
<path class="j18" d="M57.5 72.8 58.5 69.1 57.8 72.1 56.8 70.9z"/>
<path class="j45" d="M71.4 54.7 72.4 54.8 71.6 60 70.7 57.7z"/>
<path class="j41" d="M85.3 58.3 86.3 58.7 85.5 60.5 84.5 59z"/>
<path class="j51" d="M37.6 49.3 38.5 54.8 37.8 56.9 36.8 52.3z"/>
<path class="j16" d="M51.5 69.3 52.4 72.9 51.7 75.1 50.7 73.2z"/>
<path class="j13" d="M65.3 74.6 66.3 74.5 65.6 73.1 64.6 74.5z"/>
<path class="j44" d="M79.2 59.4 80.2 55.7 79.4 55 78.5 59.8z"/>
<path class="j27" d="M31.5 67.5 32.5 65.5 31.7 66.3 30.8 65.9z"/>
<path class="j22" d="M45.4 68.1 46.3 73.6 45.6 67.6 44.6 67.4z"/>
<path class="j20" d="M59.2 72.8 60.2 69.9 59.5 69 58.5 69.1z"/>
<path class="j47" d="M73.1 52.9 74.1 57.7 73.3 59.3 72.4 54.8z"/>
<path class="j49" d="M87 53.9 88 51.8 87.2 55.4 86.3 58.7z"/>
<path class="j28" d="M25.4 63.3 26.4 67.9 25.6 68.7 24.7 63.1z"/>
<path class="j31" d="M39.3 66.3 40.3 73.1 39.5 63.2 38.5 54.8z"/>
<path class="j12" d="M53.2 73.4 54.1 74.6 53.4 77.5 52.4 72.9z"/>
<path class="j20" d="M67 71.3 68 67 67.3 69.3 66.3 74.5z"/>
<path class="j48" d="M80.9 57.2 81.9 55.3 81.1 53.8 80.2 55.7z"/>
<path class="j31" d="M33.2 62.5 34.2 64.6 33.4 65 32.5 65.5z"/>
<path class="j6" d="M47.1 75.6 48 81.2 47.3 80.9 46.3 73.6z"/>
<path class="j18" d="M61 78.6 61.9 72 61.2 66.6 60.2 69.9z"/>
<path class="j37" d="M74.8 59.7 75.8 65.1 75.1 62.6 74.1 57.7z"/>
<path class="j56" d="M88.7 51.4 89.7 50.6 88.9 51 88 51.8z"/>
<path class="j29" d="M27.1 61.4 28.1 62.7 27.3 70.6 26.4 67.9z"/>
<path class="j15" d="M41 75.8 42 70.4 41.2 72.4 40.3 73.1z"/>
<path class="j16" d="M54.9 71.9 55.8 71.2 55.1 72.1 54.1 74.6z"/>
<path class="j34" d="M68.7 63 69.7 59.6 69 61.8 68 67z"/>
<path class="j47" d="M82.6 55.7 83.6 56.8 82.8 57.1 81.9 55.3z"/>
<path class="j35" d="M34.9 62.5 35.9 58.9 35.1 63.3 34.2 64.6z"/>
<path class="j5" d="M48.8 78.3 49.8 76.4 49 78 48 81.2z"/>
<path class="j17" d="M62.7 76 63.6 72.2 62.9 69.5 61.9 72z"/>
<path class="j31" d="M76.5 63.9 77.5 62.6 76.8 66.7 75.8 65.1z"/>
<path class="j59" d="M90.4 48.1 91.4 48.9 90.6 51.7 89.7 50.6z"/>
<path class="j32" d="M28.8 64.3 29.8 65.6 29 62.8 28.1 62.7z"/>
<path class="j24" d="M42.7 66.5 43.7 68.3 42.9 69 42 70.4z"/>
<path class="j17" d="M56.6 75.4 57.5 72.8 56.8 70.9 55.8 71.2z"/>
<path class="j44" d="M70.5 58.5 71.4 54.7 70.7 57.7 69.7 59.6z"/>
<path class="j43" d="M84.3 58.7 85.3 58.3 84.5 59 83.6 56.8z"/>
<path class="j50" d="M36.6 56.9 37.6 49.3 36.8 52.3 35.9 58.9z"/>
<path class="j16" d="M50.5 72.6 51.5 69.3 50.7 73.2 49.8 76.4z"/>
<path class="j16" d="M64.4 71.7 65.3 74.6 64.6 74.5 63.6 72.2z"/>
<path class="j38" d="M78.2 63.5 79.2 59.4 78.5 59.8 77.5 62.6z"/>
<path class="j51" d="M92.1 54.6 93.1 59.2 92.3 54.6 91.4 48.9z"/>
<path class="j27" d="M30.5 67.9 31.5 67.5 30.8 65.9 29.8 65.6z"/>
<path class="j25" d="M44.4 67.6 45.4 68.1 44.6 67.4 43.7 68.3z"/>
<path class="j15" d="M58.3 79.2 59.2 72.8 58.5 69.1 57.5 72.8z"/>
<path class="j49" d="M72.2 58 73.1 52.9 72.4 54.8 71.4 54.7z"/>
<path class="j46" d="M86 56.8 87 53.9 86.3 58.7 85.3 58.3z"/>
<path class="j47" d="M38.3 54.9 39.3 66.3 38.5 54.8 37.6 49.3z"/>
<path class="j19" d="M52.2 69.6 53.2 73.4 52.4 72.9 51.5 69.3z"/>
<path class="j16" d="M66.1 72.8 67 71.3 66.3 74.5 65.3 74.6z"/>
<path class="j43" d="M80 62.8 80.9 57.2 80.2 55.7 79.2 59.4z"/>
<path class="j31" d="M32.2 63.1 33.2 62.5 32.5 65.5 31.5 67.5z"/>
<path class="j18" d="M46.1 71.6 47.1 75.6 46.3 73.6 45.4 68.1z"/>
<path class="j12" d="M60 79.1 61 78.6 60.2 69.9 59.2 72.8z"/>
<path class="j46" d="M73.9 58.2 74.8 59.7 74.1 57.7 73.1 52.9z"/>
<path class="j54" d="M87.7 53.1 88.7 51.4 88 51.8 87 53.9z"/>
<path class="j33" d="M26.2 62.5 27.1 61.4 26.4 67.9 25.4 63.3z"/>
<path class="j18" d="M40 72.7 41 75.8 40.3 73.1 39.3 66.3z"/>
<path class="j16" d="M53.9 72.5 54.9 71.9 54.1 74.6 53.2 73.4z"/>
<path class="j28" d="M67.8 65.1 68.7 63 68 67 67 71.3z"/>
<path class="j47" d="M81.7 58.3 82.6 55.7 81.9 55.3 80.9 57.2z"/>
<path class="j35" d="M34 61.1 34.9 62.5 34.2 64.6 33.2 62.5z"/>
<path class="j7" d="M47.8 76.1 48.8 78.3 48 81.2 47.1 75.6z"/>
<path class="j10" d="M61.7 80.5 62.7 76 61.9 72 61 78.6z"/>
<path class="j36" d="M75.6 60.9 76.5 63.9 75.8 65.1 74.8 59.7z"/>
<path class="j59" d="M89.5 51.2 90.4 48.1 89.7 50.6 88.7 51.4z"/>
<path class="j35" d="M27.9 62.8 28.8 64.3 28.1 62.7 27.1 61.4z"/>
<path class="j21" d="M41.7 69.8 42.7 66.5 42 70.4 41 75.8z"/>
<path class="j17" d="M55.6 72 56.6 75.4 55.8 71.2 54.9 71.9z"/>
<path class="j39" d="M69.5 61.9 70.5 58.5 69.7 59.6 68.7 63z"/>
<path class="j45" d="M83.4 60.3 84.3 58.7 83.6 56.8 82.6 55.7z"/>
<path class="j39" d="M35.7 65.8 36.6 56.9 35.9 58.9 34.9 62.5z"/>
<path class="j12" d="M49.5 75.1 50.5 72.6 49.8 76.4 48.8 78.3z"/>
<path class="j17" d="M63.4 71.9 64.4 71.7 63.6 72.2 62.7 76z"/>
<path class="j33" d="M77.3 66.9 78.2 63.5 77.5 62.6 76.5 63.9z"/>
<path class="j58" d="M91.2 52.4 92.1 54.6 91.4 48.9 90.4 48.1z"/>
<path class="j30" d="M29.6 64.3 30.5 67.9 29.8 65.6 28.8 64.3z"/>
<path class="j29" d="M43.4 63.9 44.4 67.6 43.7 68.3 42.7 66.5z"/>
<path class="j8" d="M57.3 82.9 58.3 79.2 57.5 72.8 56.6 75.4z"/>
<path class="j44" d="M71.2 61.8 72.2 58 71.4 54.7 70.5 58.5z"/>
<path class="j44" d="M85.1 60.3 86 56.8 85.3 58.3 84.3 58.7z"/>
<path class="j51" d="M37.4 55.9 38.3 54.9 37.6 49.3 36.6 56.9z"/>
<path class="j23" d="M51.2 67.5 52.2 69.6 51.5 69.3 50.5 72.6z"/>
<path class="j19" d="M65.1 69.3 66.1 72.8 65.3 74.6 64.4 71.7z"/>
<path class="j35" d="M79 68.4 80 62.8 79.2 59.4 78.2 63.5z"/>
<path class="j42" d="M92.9 62.6 93.8 62.5 93.1 59.2 92.1 54.6z"/>
<path class="j32" d="M31.3 59.9 32.2 63.1 31.5 67.5 30.5 67.9z"/>
<path class="j22" d="M45.2 73.5 46.1 71.6 45.4 68.1 44.4 67.6z"/>
<path class="j8" d="M59 80.9 60 79.1 59.2 72.8 58.3 79.2z"/>
<path class="j45" d="M72.9 64.1 73.9 58.2 73.1 52.9 72.2 58z"/>
<path class="j50" d="M86.8 57.4 87.7 53.1 87 53.9 86 56.8z"/>
<path class="j35" d="M39.1 59.5 40 72.7 39.3 66.3 38.3 54.9z"/>
<path class="j18" d="M52.9 75.2 53.9 72.5 53.2 73.4 52.2 69.6z"/>
<path class="j24" d="M66.8 69 67.8 65.1 67 71.3 66.1 72.8z"/>
<path class="j40" d="M80.7 65.6 81.7 58.3 80.9 57.2 80 62.8z"/>
<path class="j37" d="M33 61.4 34 61.1 33.2 62.5 32.2 63.1z"/>
<path class="j14" d="M46.9 74.7 47.8 76.1 47.1 75.6 46.1 71.6z"/>
<path class="j5" d="M60.7 79.4 61.7 80.5 61 78.6 60 79.1z"/>
<path class="j43" d="M74.6 58.3 75.6 60.9 74.8 59.7 73.9 58.2z"/>
<path class="j54" d="M88.5 58.3 89.5 51.2 88.7 51.4 87.7 53.1z"/>
<path class="j35" d="M26.9 66.1 27.9 62.8 27.1 61.4 26.2 62.5z"/>
<path class="j19" d="M40.8 69.4 41.7 69.8 41 75.8 40 72.7z"/>
<path class="j20" d="M54.7 69.8 55.6 72 54.9 71.9 53.9 72.5z"/>
<path class="j35" d="M68.5 64.2 69.5 61.9 68.7 63 67.8 65.1z"/>
<path class="j44" d="M82.4 61.2 83.4 60.3 82.6 55.7 81.7 58.3z"/>
<path class="j34" d="M34.7 66.6 35.7 65.8 34.9 62.5 34 61.1z"/>
<path class="j12" d="M48.6 74.8 49.5 75.1 48.8 78.3 47.8 76.1z"/>
<path class="j13" d="M62.4 73.4 63.4 71.9 62.7 76 61.7 80.5z"/>
<path class="j35" d="M76.3 63.1 77.3 66.9 76.5 63.9 75.6 60.9z"/>
<path class="j58" d="M90.2 54.2 91.2 52.4 90.4 48.1 89.5 51.2z"/>
<path class="j35" d="M28.6 63.5 29.6 64.3 28.8 64.3 27.9 62.8z"/>
<path class="j29" d="M42.5 66.1 43.4 63.9 42.7 66.5 41.7 69.8z"/>
<path class="j10" d="M56.4 78.9 57.3 82.9 56.6 75.4 55.6 72z"/>
<path class="j38" d="M70.2 65.9 71.2 61.8 70.5 58.5 69.5 61.9z"/>
<path class="j42" d="M84.1 61.1 85.1 60.3 84.3 58.7 83.4 60.3z"/>
<path class="j39" d="M36.4 66 37.4 55.9 36.6 56.9 35.7 65.8z"/>
<path class="j23" d="M50.3 65.6 51.2 67.5 50.5 72.6 49.5 75.1z"/>
<path class="j22" d="M64.2 69.2 65.1 69.3 64.4 71.7 63.4 71.9z"/>
<path class="j28" d="M78 72.6 79 68.4 78.2 63.5 77.3 66.9z"/>
<path class="j48" d="M91.9 59.1 92.9 62.6 92.1 54.6 91.2 52.4z"/>
<path class="j36" d="M30.3 60 31.3 59.9 30.5 67.9 29.6 64.3z"/>
<path class="j25" d="M44.2 71 45.2 73.5 44.4 67.6 43.4 63.9z"/>
<path class="j3" d="M58.1 82.4 59 80.9 58.3 79.2 57.3 82.9z"/>
<path class="j37" d="M71.9 67.8 72.9 64.1 72.2 58 71.2 61.8z"/>
<path class="j45" d="M85.8 59.5 86.8 57.4 86 56.8 85.1 60.3z"/>
<path class="j48" d="M38.1 56.7 39.1 59.5 38.3 54.9 37.4 55.9z"/>
<path class="j21" d="M52 72.6 52.9 75.2 52.2 69.6 51.2 67.5z"/>
<path class="j24" d="M65.9 68.2 66.8 69 66.1 72.8 65.1 69.3z"/>
<path class="j31" d="M79.7 68 80.7 65.6 80 62.8 79 68.4z"/>
<path class="j37" d="M93.6 65.3 94.6 61.3 93.8 62.5 92.9 62.6z"/>
<path class="j42" d="M32 54.6 33 61.4 32.2 63.1 31.3 59.9z"/>
<path class="j15" d="M45.9 78.2 46.9 74.7 46.1 71.6 45.2 73.5z"/>
<path class="j7" d="M59.8 76.1 60.7 79.4 60 79.1 59 80.9z"/>
<path class="j41" d="M73.6 63.4 74.6 58.3 73.9 58.2 72.9 64.1z"/>
<path class="j47" d="M87.5 61.4 88.5 58.3 87.7 53.1 86.8 57.4z"/>
<path class="j32" d="M39.8 59.6 40.8 69.4 40 72.7 39.1 59.5z"/>
<path class="j17" d="M53.7 77.9 54.7 69.8 53.9 72.5 52.9 75.2z"/>
<path class="j30" d="M67.6 69.2 68.5 64.2 67.8 65.1 66.8 69z"/>
<path class="j37" d="M81.4 67.2 82.4 61.2 81.7 58.3 80.7 65.6z"/>
<path class="j36" d="M33.7 63.5 34.7 66.6 34 61.1 33 61.4z"/>
<path class="j15" d="M47.6 73.9 48.6 74.8 47.8 76.1 46.9 74.7z"/>
<path class="j10" d="M61.5 76 62.4 73.4 61.7 80.5 60.7 79.4z"/>
<path class="j43" d="M75.4 57 76.3 63.1 75.6 60.9 74.6 58.3z"/>
<path class="j51" d="M89.2 57.6 90.2 54.2 89.5 51.2 88.5 58.3z"/>
<path class="j35" d="M27.6 63.4 28.6 63.5 27.9 62.8 26.9 66.1z"/>
<path class="j27" d="M41.5 67.7 42.5 66.1 41.7 69.8 40.8 69.4z"/>
<path class="j18" d="M55.4 73.1 56.4 78.9 55.6 72 54.7 69.8z"/>
<path class="j32" d="M69.3 70.5 70.2 65.9 69.5 61.9 68.5 64.2z"/>
<path class="j41" d="M83.1 61.8 84.1 61.1 83.4 60.3 82.4 61.2z"/>
<path class="j30" d="M35.4 69.2 36.4 66 35.7 65.8 34.7 66.6z"/>
<path class="j23" d="M49.3 67.9 50.3 65.6 49.5 75.1 48.6 74.8z"/>
<path class="j21" d="M63.2 72.1 64.2 69.2 63.4 71.9 62.4 73.4z"/>
<path class="j28" d="M77.1 69.2 78 72.6 77.3 66.9 76.3 63.1z"/>
<path class="j50" d="M90.9 58.6 91.9 59.1 91.2 52.4 90.2 54.2z"/>
<path class="j37" d="M29.4 64.6 30.3 60 29.6 64.3 28.6 63.5z"/>
<path class="j28" d="M43.2 71.2 44.2 71 43.4 63.9 42.5 66.1z"/>
<path class="j5" d="M57.1 77.3 58.1 82.4 57.3 82.9 56.4 78.9z"/>
<path class="j31" d="M71 70.7 71.9 67.8 71.2 61.8 70.2 65.9z"/>
<path class="j44" d="M84.9 57.7 85.8 59.5 85.1 60.3 84.1 61.1z"/>
<path class="j42" d="M37.1 62.8 38.1 56.7 37.4 55.9 36.4 66z"/>
<path class="j28" d="M51 67.5 52 72.6 51.2 67.5 50.3 65.6z"/>
<path class="j25" d="M64.9 71.4 65.9 68.2 65.1 69.3 64.2 69.2z"/>
<path class="j25" d="M78.8 70.6 79.7 68 79 68.4 78 72.6z"/>
<path class="j38" d="M92.6 64.2 93.6 65.3 92.9 62.6 91.9 59.1z"/>
<path class="j46" d="M31.1 59.2 32 54.6 31.3 59.9 30.3 60z"/>
<path class="j13" d="M44.9 81.6 45.9 78.2 45.2 73.5 44.2 71z"/>
<path class="j10" d="M58.8 71.7 59.8 76.1 59 80.9 58.1 82.4z"/>
<path class="j31" d="M72.7 72 73.6 63.4 72.9 64.1 71.9 67.8z"/>
<path class="j45" d="M86.6 59.2 87.5 61.4 86.8 57.4 85.8 59.5z"/>
<path class="j46" d="M38.8 57.7 39.8 59.6 39.1 59.5 38.1 56.7z"/>
<path class="j13" d="M52.7 79.3 53.7 77.9 52.9 75.2 52 72.6z"/>
<path class="j26" d="M66.6 70.4 67.6 69.2 66.8 69 65.9 68.2z"/>
<path class="j31" d="M80.5 65.1 81.4 67.2 80.7 65.6 79.7 68z"/>
<path class="j39" d="M94.4 63 95.3 60.3 94.6 61.3 93.6 65.3z"/>
<path class="j46" d="M32.8 53.1 33.7 63.5 33 61.4 32 54.6z"/>
<path class="j15" d="M46.6 74 47.6 73.9 46.9 74.7 45.9 78.2z"/>
<path class="j13" d="M60.5 74.1 61.5 76 60.7 79.4 59.8 76.1z"/>
<path class="j45" d="M74.4 58.9 75.4 57 74.6 58.3 73.6 63.4z"/>
<path class="j46" d="M88.3 57.7 89.2 57.6 88.5 58.3 87.5 61.4z"/>
<path class="j34" d="M40.6 63.2 41.5 67.7 40.8 69.4 39.8 59.6z"/>
<path class="j17" d="M54.4 76 55.4 73.1 54.7 69.8 53.7 77.9z"/>
<path class="j26" d="M68.3 74.5 69.3 70.5 68.5 64.2 67.6 69.2z"/>
<path class="j37" d="M82.2 64.9 83.1 61.8 82.4 61.2 81.4 67.2z"/>
<path class="j31" d="M34.5 66.5 35.4 69.2 34.7 66.6 33.7 63.5z"/>
<path class="j21" d="M48.3 71.9 49.3 67.9 48.6 74.8 47.6 73.9z"/>
<path class="j18" d="M62.2 74.4 63.2 72.1 62.4 73.4 61.5 76z"/>
<path class="j38" d="M76.1 63.4 77.1 69.2 76.3 63.1 75.4 57z"/>
<path class="j50" d="M90 56.3 90.9 58.6 90.2 54.2 89.2 57.6z"/>
<path class="j38" d="M28.4 60.8 29.4 64.6 28.6 63.5 27.6 63.4z"/>
<path class="j27" d="M42.3 70.6 43.2 71.2 42.5 66.1 41.5 67.7z"/>
<path class="j15" d="M56.1 72.7 57.1 77.3 56.4 78.9 55.4 73.1z"/>
<path class="j24" d="M70 74.8 71 70.7 70.2 65.9 69.3 70.5z"/>
<path class="j43" d="M83.9 60.7 84.9 57.7 84.1 61.1 83.1 61.8z"/>
<path class="j32" d="M36.2 68 37.1 62.8 36.4 66 35.4 69.2z"/>
<path class="j30" d="M50.1 67.7 51 67.5 50.3 65.6 49.3 67.9z"/>
<path class="j21" d="M63.9 75.7 64.9 71.4 64.2 69.2 63.2 72.1z"/>
<path class="j25" d="M77.8 68.4 78.8 70.6 78 72.6 77.1 69.2z"/>
<path class="j42" d="M91.7 61.9 92.6 64.2 91.9 59.1 90.9 58.6z"/>
<path class="j38" d="M30.1 69 31.1 59.2 30.3 60 29.4 64.6z"/>
<path class="j13" d="M44 82.3 44.9 81.6 44.2 71 43.2 71.2z"/>
<path class="j17" d="M57.8 67.2 58.8 71.7 58.1 82.4 57.1 77.3z"/>
<path class="j24" d="M71.7 72.9 72.7 72 71.9 67.8 71 70.7z"/>
<path class="j48" d="M85.6 55.8 86.6 59.2 85.8 59.5 84.9 57.7z"/>
<path class="j43" d="M37.9 64.6 38.8 57.7 38.1 56.7 37.1 62.8z"/>
<path class="j19" d="M51.8 75.2 52.7 79.3 52 72.6 51 67.5z"/>
<path class="j23" d="M65.6 75.5 66.6 70.4 65.9 68.2 64.9 71.4z"/>
<path class="j32" d="M79.5 62.6 80.5 65.1 79.7 68 78.8 70.6z"/>
<path class="j36" d="M93.4 64.9 94.4 63 93.6 65.3 92.6 64.2z"/>
<path class="j50" d="M31.8 59 32.8 53.1 32 54.6 31.1 59.2z"/>
<path class="j10" d="M45.7 79.8 46.6 74 45.9 78.2 44.9 81.6z"/>
<path class="j22" d="M59.6 65.2 60.5 74.1 59.8 76.1 58.8 71.7z"/>
<path class="j34" d="M73.4 67.6 74.4 58.9 73.6 63.4 72.7 72z"/>
<path class="j47" d="M87.3 56.3 88.3 57.7 87.5 61.4 86.6 59.2z"/>
<path class="j43" d="M39.6 61.5 40.6 63.2 39.8 59.6 38.8 57.7z"/>
<path class="j12" d="M53.5 75.7 54.4 76 53.7 77.9 52.7 79.3z"/>
<path class="j23" d="M67.3 72.4 68.3 74.5 67.6 69.2 66.6 70.4z"/>
<path class="j35" d="M81.2 62.5 82.2 64.9 81.4 67.2 80.5 65.1z"/>
<path class="j42" d="M95.1 61.5 96.1 60.6 95.3 60.3 94.4 63z"/>
<path class="j42" d="M33.5 61 34.5 66.5 33.7 63.5 32.8 53.1z"/>
<path class="j21" d="M47.4 71.6 48.3 71.9 47.6 73.9 46.6 74z"/>
<path class="j17" d="M61.3 75.9 62.2 74.4 61.5 76 60.5 74.1z"/>
<path class="j45" d="M75.1 59.8 76.1 63.4 75.4 57 74.4 58.9z"/>
<path class="j52" d="M89 53.6 90 56.3 89.2 57.6 88.3 57.7z"/>
<path class="j30" d="M41.3 69.6 42.3 70.6 41.5 67.7 40.6 63.2z"/>
<path class="j20" d="M55.2 72.2 56.1 72.7 55.4 73.1 54.4 76z"/>
<path class="j17" d="M69 79.3 70 74.8 69.3 70.5 68.3 74.5z"/>
<path class="j39" d="M82.9 65.8 83.9 60.7 83.1 61.8 82.2 64.9z"/>
<path class="j29" d="M35.2 69.5 36.2 68 35.4 69.2 34.5 66.5z"/>
<path class="j26" d="M49.1 72.4 50.1 67.7 49.3 67.9 48.3 71.9z"/>
<path class="j18" d="M63 74.6 63.9 75.7 63.2 72.1 62.2 74.4z"/>
<path class="j32" d="M76.8 67.1 77.8 68.4 77.1 69.2 76.1 63.4z"/>
<path class="j48" d="M90.7 57.5 91.7 61.9 90.9 58.6 90 56.3z"/>
<path class="j35" d="M29.1 66.6 30.1 69 29.4 64.6 28.4 60.8z"/>
<path class="j17" d="M43 74.7 44 82.3 43.2 71.2 42.3 70.6z"/>
<path class="j22" d="M56.9 71.7 57.8 67.2 57.1 77.3 56.1 72.7z"/>
<path class="j22" d="M70.8 70.3 71.7 72.9 71 70.7 70 74.8z"/>
<path class="j49" d="M84.6 57.6 85.6 55.8 84.9 57.7 83.9 60.7z"/>
<path class="j31" d="M36.9 73.5 37.9 64.6 37.1 62.8 36.2 68z"/>
<path class="j25" d="M50.8 72 51.8 75.2 51 67.5 50.1 67.7z"/>
<path class="j16" d="M64.7 79.3 65.6 75.5 64.9 71.4 63.9 75.7z"/>
<path class="j32" d="M78.5 67.5 79.5 62.6 78.8 70.6 77.8 68.4z"/>
<path class="j40" d="M92.4 60.8 93.4 64.9 92.6 64.2 91.7 61.9z"/>
<path class="j37" d="M30.8 69.6 31.8 59 31.1 59.2 30.1 69z"/>
<path class="j6" d="M44.7 81.2 45.7 79.8 44.9 81.6 44 82.3z"/>
<path class="j35" d="M58.6 58.3 59.6 65.2 58.8 71.7 57.8 67.2z"/>
<path class="j26" d="M72.5 69.4 73.4 67.6 72.7 72 71.7 72.9z"/>
<path class="j52" d="M86.3 55.3 87.3 56.3 86.6 59.2 85.6 55.8z"/>
<path class="j38" d="M38.6 70.2 39.6 61.5 38.8 57.7 37.9 64.6z"/>
<path class="j15" d="M52.5 74.3 53.5 75.7 52.7 79.3 51.8 75.2z"/>
<path class="j21" d="M66.4 74.2 67.3 72.4 66.6 70.4 65.6 75.5z"/>
<path class="j42" d="M80.3 57 81.2 62.5 80.5 65.1 79.5 62.6z"/>
<path class="j40" d="M94.1 63.3 95.1 61.5 94.4 63 93.4 64.9z"/>
<path class="j45" d="M32.5 66.5 33.5 61 32.8 53.1 31.8 59z"/>
<path class="j17" d="M46.4 74.8 47.4 71.6 46.6 74 45.7 79.8z"/>
<path class="j24" d="M60.3 70.9 61.3 75.9 60.5 74.1 59.6 65.2z"/>
<path class="j42" d="M74.2 61.3 75.1 59.8 74.4 58.9 73.4 67.6z"/>
<path class="j54" d="M88 54.5 89 53.6 88.3 57.7 87.3 56.3z"/>
<path class="j35" d="M40.3 67.4 41.3 69.6 40.6 63.2 39.6 61.5z"/>
<path class="j19" d="M54.2 72.5 55.2 72.2 54.4 76 53.5 75.7z"/>
<path class="j18" d="M68.1 73.5 69 79.3 68.3 74.5 67.3 72.4z"/>
<path class="j37" d="M82 65.3 82.9 65.8 82.2 64.9 81.2 62.5z"/>
<path class="j47" d="M95.8 57.9 96.8 58 96.1 60.6 95.1 61.5z"/>
<path class="j34" d="M34.3 67.8 35.2 69.5 34.5 66.5 33.5 61z"/>
<path class="j21" d="M48.1 77.4 49.1 72.4 48.3 71.9 47.4 71.6z"/>
<path class="j17" d="M62 77.3 63 74.6 62.2 74.4 61.3 75.9z"/>
<path class="j38" d="M75.9 65.8 76.8 67.1 76.1 63.4 75.1 59.8z"/>
<path class="j53" d="M89.8 56.8 90.7 57.5 90 56.3 89 53.6z"/>
<path class="j25" d="M42 69.6 43 74.7 42.3 70.6 41.3 69.6z"/>
<path class="j21" d="M55.9 76.3 56.9 71.7 56.1 72.7 55.2 72.2z"/>
<path class="j18" d="M69.8 75.7 70.8 70.3 70 74.8 69 79.3z"/>
<path class="j43" d="M83.7 61.9 84.6 57.6 83.9 60.7 82.9 65.8z"/>
<path class="j24" d="M36 76 36.9 73.5 36.2 68 35.2 69.5z"/>
<path class="j25" d="M49.8 72.7 50.8 72 50.1 67.7 49.1 72.4z"/>
<path class="j16" d="M63.7 75 64.7 79.3 63.9 75.7 63 74.6z"/>
<path class="j28" d="M77.6 76.2 78.5 67.5 77.8 68.4 76.8 67.1z"/>
<path class="j47" d="M91.5 58.1 92.4 60.8 91.7 61.9 90.7 57.5z"/>
<path class="j28" d="M29.9 72.2 30.8 69.6 30.1 69 29.1 66.6z"/>
<path class="j13" d="M43.8 71.6 44.7 81.2 44 82.3 43 74.7z"/>
<path class="j35" d="M57.6 65.4 58.6 58.3 57.8 67.2 56.9 71.7z"/>
<path class="j28" d="M71.5 66.6 72.5 69.4 71.7 72.9 70.8 70.3z"/>
<path class="j53" d="M85.4 56.1 86.3 55.3 85.6 55.8 84.6 57.6z"/>
<path class="j24" d="M37.7 79.8 38.6 70.2 37.9 64.6 36.9 73.5z"/>
<path class="j20" d="M51.5 75.4 52.5 74.3 51.8 75.2 50.8 72z"/>
<path class="j16" d="M65.4 77 66.4 74.2 65.6 75.5 64.7 79.3z"/>
<path class="j40" d="M79.3 65.9 80.3 57 79.5 62.6 78.5 67.5z"/>
<path class="j42" d="M93.2 60.2 94.1 63.3 93.4 64.9 92.4 60.8z"/>
<path class="j32" d="M31.6 74.7 32.5 66.5 31.8 59 30.8 69.6z"/>
<path class="j14" d="M45.5 72.7 46.4 74.8 45.7 79.8 44.7 81.2z"/>
<path class="j38" d="M59.3 62.8 60.3 70.9 59.6 65.2 58.6 58.3z"/>
<path class="j35" d="M73.2 65.7 74.2 61.3 73.4 67.6 72.5 69.4z"/>
<path class="j53" d="M87.1 58.9 88 54.5 87.3 56.3 86.3 55.3z"/>
<path class="j32" d="M39.4 71.8 40.3 67.4 39.6 61.5 38.6 70.2z"/>
<path class="j20" d="M53.2 73.1 54.2 72.5 53.5 75.7 52.5 74.3z"/>
<path class="j23" d="M67.1 69.6 68.1 73.5 67.3 72.4 66.4 74.2z"/>
<path class="j44" d="M81 60.1 82 65.3 81.2 62.5 80.3 57z"/>
<path class="j45" d="M94.9 60.4 95.8 57.9 95.1 61.5 94.1 63.3z"/>
<path class="j33" d="M33.3 72.2 34.3 67.8 33.5 61 32.5 66.5z"/>
<path class="j17" d="M47.2 80.3 48.1 77.4 47.4 71.6 46.4 74.8z"/>
<path class="j17" d="M61 80.3 62 77.3 61.3 75.9 60.3 70.9z"/>
<path class="j42" d="M74.9 63.3 75.9 65.8 75.1 59.8 74.2 61.3z"/>
<path class="j54" d="M88.8 58.6 89.8 56.8 89 53.6 88 54.5z"/>
<path class="j30" d="M41.1 69.6 42 69.6 41.3 69.6 40.3 67.4z"/>
<path class="j21" d="M55 74.4 55.9 76.3 55.2 72.2 54.2 72.5z"/>
<path class="j18" d="M68.8 72.7 69.8 75.7 69 79.3 68.1 73.5z"/>
<path class="j39" d="M82.7 64.5 83.7 61.9 82.9 65.8 82 65.3z"/>
<path class="j25" d="M35 72.7 36 76 35.2 69.5 34.3 67.8z"/>
<path class="j18" d="M48.9 79.3 49.8 72.7 49.1 72.4 48.1 77.4z"/>
<path class="j18" d="M62.7 75.3 63.7 75 63 74.6 62 77.3z"/>
<path class="j26" d="M76.6 75 77.6 76.2 76.8 67.1 75.9 65.8z"/>
<path class="j50" d="M90.5 61.5 91.5 58.1 90.7 57.5 89.8 56.8z"/>
<path class="j27" d="M42.8 66.1 43.8 71.6 43 74.7 42 69.6z"/>
<path class="j23" d="M56.7 76.9 57.6 65.4 56.9 71.7 55.9 76.3z"/>
<path class="j26" d="M70.5 72 71.5 66.6 70.8 70.3 69.8 75.7z"/>
<path class="j50" d="M84.4 57.8 85.4 56.1 84.6 57.6 83.7 61.9z"/>
<path class="j15" d="M36.7 79.6 37.7 79.8 36.9 73.5 36 76z"/>
<path class="j21" d="M50.6 74.7 51.5 75.4 50.8 72 49.8 72.7z"/>
<path class="j17" d="M64.5 73.8 65.4 77 64.7 79.3 63.7 75z"/>
<path class="j24" d="M78.3 81.1 79.3 65.9 78.5 67.5 77.6 76.2z"/>
<path class="j49" d="M92.2 56.4 93.2 60.2 92.4 60.8 91.5 58.1z"/>
<path class="j23" d="M30.6 75.3 31.6 74.7 30.8 69.6 29.9 72.2z"/>
<path class="j22" d="M44.5 67.6 45.5 72.7 44.7 81.2 43.8 71.6z"/>
<path class="j41" d="M58.4 65.6 59.3 62.8 58.6 58.3 57.6 65.4z"/>
<path class="j33" d="M72.2 67.9 73.2 65.7 72.5 69.4 71.5 66.6z"/>
<path class="j52" d="M86.1 60.6 87.1 58.9 86.3 55.3 85.4 56.1z"/>
<path class="j20" d="M38.4 76.3 39.4 71.8 38.6 70.2 37.7 79.8z"/>
<path class="j20" d="M52.3 76.6 53.2 73.1 52.5 74.3 51.5 75.4z"/>
<path class="j22" d="M66.2 72.7 67.1 69.6 66.4 74.2 65.4 77z"/>
<path class="j43" d="M80 67 81 60.1 80.3 57 79.3 65.9z"/>
<path class="j45" d="M93.9 60.9 94.9 60.4 94.1 63.3 93.2 60.2z"/>
<path class="j24" d="M32.3 75.5 33.3 72.2 32.5 66.5 31.6 74.7z"/>
<path class="j18" d="M46.2 74.6 47.2 80.3 46.4 74.8 45.5 72.7z"/>
<path class="j25" d="M60.1 75 61 80.3 60.3 70.9 59.3 62.8z"/>
<path class="j40" d="M73.9 65.1 74.9 63.3 74.2 61.3 73.2 65.7z"/>
<path class="j49" d="M87.8 64.2 88.8 58.6 88 54.5 87.1 58.9z"/>
<path class="j28" d="M40.1 72.9 41.1 69.6 40.3 67.4 39.4 71.8z"/>
<path class="j24" d="M54 71.2 55 74.4 54.2 72.5 53.2 73.1z"/>
<path class="j28" d="M67.9 66.6 68.8 72.7 68.1 73.5 67.1 69.6z"/>
<path class="j40" d="M81.7 67.4 82.7 64.5 82 65.3 81 60.1z"/>
<path class="j25" d="M34 74.4 35 72.7 34.3 67.8 33.3 72.2z"/>
<path class="j11" d="M47.9 82.3 48.9 79.3 48.1 77.4 47.2 80.3z"/>
<path class="j13" d="M61.8 81 62.7 75.3 62 77.3 61 80.3z"/>
<path class="j33" d="M75.7 67.7 76.6 75 75.9 65.8 74.9 63.3z"/>
<path class="j47" d="M89.5 64.4 90.5 61.5 89.8 56.8 88.8 58.6z"/>
<path class="j31" d="M41.8 70.5 42.8 66.1 42 69.6 41.1 69.6z"/>
<path class="j18" d="M55.7 77.3 56.7 76.9 55.9 76.3 55 74.4z"/>
<path class="j24" d="M69.6 70.8 70.5 72 69.8 75.7 68.8 72.7z"/>
<path class="j45" d="M83.4 62.8 84.4 57.8 83.7 61.9 82.7 64.5z"/>
<path class="j18" d="M35.7 75.5 36.7 79.6 36 76 35 72.7z"/>
<path class="j17" d="M49.6 78.7 50.6 74.7 49.8 72.7 48.9 79.3z"/>
<path class="j21" d="M63.5 74.4 64.5 73.8 63.7 75 62.7 75.3z"/>
<path class="j15" d="M77.4 79.7 78.3 81.1 77.6 76.2 76.6 75z"/>
<path class="j51" d="M91.2 57.5 92.2 56.4 91.5 58.1 90.5 61.5z"/>
<path class="j32" d="M43.5 69 44.5 67.6 43.8 71.6 42.8 66.1z"/>
<path class="j28" d="M57.4 75.4 58.4 65.6 57.6 65.4 56.7 76.9z"/>
<path class="j30" d="M71.3 73.1 72.2 67.9 71.5 66.6 70.5 72z"/>
<path class="j49" d="M85.2 62.8 86.1 60.6 85.4 56.1 84.4 57.8z"/>
<path class="j14" d="M37.4 77.4 38.4 76.3 37.7 79.8 36.7 79.6z"/>
<path class="j18" d="M51.3 78.7 52.3 76.6 51.5 75.4 50.6 74.7z"/>
<path class="j21" d="M65.2 74.4 66.2 72.7 65.4 77 64.5 73.8z"/>
<path class="j25" d="M79.1 75.9 80 67 79.3 65.9 78.3 81.1z"/>
<path class="j52" d="M92.9 54.9 93.9 60.9 93.2 60.2 92.2 56.4z"/>
<path class="j22" d="M31.4 69.9 32.3 75.5 31.6 74.7 30.6 75.3z"/>
<path class="j26" d="M45.2 71.6 46.2 74.6 45.5 72.7 44.5 67.6z"/>
<path class="j32" d="M59.1 71.9 60.1 75 59.3 62.8 58.4 65.6z"/>
<path class="j36" d="M73 67.8 73.9 65.1 73.2 65.7 72.2 67.9z"/>
<path class="j45" d="M86.9 63.9 87.8 64.2 87.1 58.9 86.1 60.6z"/>
<path class="j24" d="M39.2 71.6 40.1 72.9 39.4 71.8 38.4 76.3z"/>
<path class="j22" d="M53 75.1 54 71.2 53.2 73.1 52.3 76.6z"/>
<path class="j32" d="M66.9 66.8 67.9 66.6 67.1 69.6 66.2 72.7z"/>
<path class="j36" d="M80.8 72.2 81.7 67.4 81 60.1 80 67z"/>
<path class="j22" d="M33.1 73.1 34 74.4 33.3 72.2 32.3 75.5z"/>
<path class="j14" d="M46.9 77.5 47.9 82.3 47.2 80.3 46.2 74.6z"/>
<path class="j12" d="M60.8 82.7 61.8 81 61 80.3 60.1 75z"/>
<path class="j40" d="M74.7 62.5 75.7 67.7 74.9 63.3 73.9 65.1z"/>
<path class="j42" d="M88.6 66.7 89.5 64.4 88.8 58.6 87.8 64.2z"/>
<path class="j26" d="M40.9 74.7 41.8 70.5 41.1 69.6 40.1 72.9z"/>
<path class="j23" d="M54.7 71.5 55.7 77.3 55 74.4 54 71.2z"/>
<path class="j33" d="M68.6 64 69.6 70.8 68.8 72.7 67.9 66.6z"/>
<path class="j39" d="M82.5 65.8 83.4 62.8 82.7 64.5 81.7 67.4z"/>
<path class="j22" d="M34.8 75.1 35.7 75.5 35 72.7 34 74.4z"/>
<path class="j11" d="M48.6 81.2 49.6 78.7 48.9 79.3 47.9 82.3z"/>
<path class="j16" d="M62.5 79.8 63.5 74.4 62.7 75.3 61.8 81z"/>
<path class="j25" d="M76.4 68 77.4 79.7 76.6 75 75.7 67.7z"/>
<path class="j47" d="M90.3 61.3 91.2 57.5 90.5 61.5 89.5 64.4z"/>
<path class="j31" d="M42.6 73.3 43.5 69 42.8 66.1 41.8 70.5z"/>
<path class="j17" d="M56.4 78 57.4 75.4 56.7 76.9 55.7 77.3z"/>
<path class="j25" d="M70.3 75.1 71.3 73.1 70.5 72 69.6 70.8z"/>
<path class="j43" d="M84.2 68.5 85.2 62.8 84.4 57.8 83.4 62.8z"/>
<path class="j17" d="M36.5 75.4 37.4 77.4 36.7 79.6 35.7 75.5z"/>
<path class="j16" d="M50.4 78.8 51.3 78.7 50.6 74.7 49.6 78.7z"/>
<path class="j21" d="M64.2 77.2 65.2 74.4 64.5 73.8 63.5 74.4z"/>
<path class="j18" d="M78.1 71.1 79.1 75.9 78.3 81.1 77.4 79.7z"/>
<path class="j57" d="M92 54.5 92.9 54.9 92.2 56.4 91.2 57.5z"/>
<path class="j29" d="M44.3 74.4 45.2 71.6 44.5 67.6 43.5 69z"/>
<path class="j26" d="M58.1 76 59.1 71.9 58.4 65.6 57.4 75.4z"/>
<path class="j29" d="M72 74 73 67.8 72.2 67.9 71.3 73.1z"/>
<path class="j44" d="M85.9 63.9 86.9 63.9 86.1 60.6 85.2 62.8z"/>
<path class="j23" d="M38.2 71 39.2 71.6 38.4 76.3 37.4 77.4z"/>
<path class="j14" d="M52.1 84.4 53 75.1 52.3 76.6 51.3 78.7z"/>
<path class="j28" d="M65.9 71.6 66.9 66.8 66.2 72.7 65.2 74.4z"/>
<path class="j26" d="M79.8 74.2 80.8 72.2 80 67 79.1 75.9z"/>
<path class="j26" d="M32.1 70.1 33.1 73.1 32.3 75.5 31.4 69.9z"/>
<path class="j22" d="M46 74 46.9 77.5 46.2 74.6 45.2 71.6z"/>
<path class="j16" d="M59.9 82.8 60.8 82.7 60.1 75 59.1 71.9z"/>
<path class="j42" d="M73.7 59.5 74.7 62.5 73.9 65.1 73 67.8z"/>
<path class="j41" d="M87.6 64.2 88.6 66.7 87.8 64.2 86.9 63.9z"/>
<path class="j25" d="M39.9 71.8 40.9 74.7 40.1 72.9 39.2 71.6z"/>
<path class="j25" d="M53.8 74.4 54.7 71.5 54 71.2 53 75.1z"/>
<path class="j40" d="M67.6 62.8 68.6 64 67.9 66.6 66.9 66.8z"/>
<path class="j35" d="M81.5 65.2 82.5 65.8 81.7 67.4 80.8 72.2z"/>
<path class="j22" d="M33.8 76.1 34.8 75.1 34 74.4 33.1 73.1z"/>
<path class="j13" d="M47.7 77.4 48.6 81.2 47.9 82.3 46.9 77.5z"/>
<path class="j10" d="M61.6 81.8 62.5 79.8 61.8 81 60.8 82.7z"/>
<path class="j41" d="M75.4 60.2 76.4 68 75.7 67.7 74.7 62.5z"/>
<path class="j41" d="M89.3 66.9 90.3 61.3 89.5 64.4 88.6 66.7z"/>
<path class="j24" d="M41.6 75.2 42.6 73.3 41.8 70.5 40.9 74.7z"/>
<path class="j20" d="M55.5 76.8 56.4 78 55.7 77.3 54.7 71.5z"/>
<path class="j31" d="M69.4 69.8 70.3 75.1 69.6 70.8 68.6 64z"/>
<path class="j39" d="M83.2 65.3 84.2 68.5 83.4 62.8 82.5 65.8z"/>
<path class="j23" d="M35.5 71.2 36.5 75.4 35.7 75.5 34.8 75.1z"/>
<path class="j13" d="M49.4 80.6 50.4 78.8 49.6 78.7 48.6 81.2z"/>
<path class="j16" d="M63.3 80.8 64.2 77.2 63.5 74.4 62.5 79.8z"/>
<path class="j32" d="M77.1 60.2 78.1 71.1 77.4 79.7 76.4 68z"/>
<path class="j54" d="M91 57.7 92 54.5 91.2 57.5 90.3 61.3z"/>
<path class="j26" d="M43.3 75.3 44.3 74.4 43.5 69 42.6 73.3z"/>
<path class="j18" d="M57.2 79.2 58.1 76 57.4 75.4 56.4 78z"/>
<path class="j22" d="M71.1 78.3 72 74 71.3 73.1 70.3 75.1z"/>
<path class="j38" d="M84.9 70.4 85.9 63.9 85.2 62.8 84.2 68.5z"/>
<path class="j23" d="M37.2 73.6 38.2 71 37.4 77.4 36.5 75.4z"/>
<path class="j10" d="M51.1 84 52.1 84.4 51.3 78.7 50.4 78.8z"/>
<path class="j22" d="M65 76.9 65.9 71.6 65.2 74.4 64.2 77.2z"/>
<path class="j27" d="M78.9 68.8 79.8 74.2 79.1 75.9 78.1 71.1z"/>
<path class="j26" d="M45 72.5 46 74 45.2 71.6 44.3 74.4z"/>
<path class="j16" d="M58.9 83 59.9 82.8 59.1 71.9 58.1 76z"/>
<path class="j38" d="M72.8 65.7 73.7 59.5 73 67.8 72 74z"/>
<path class="j44" d="M86.6 62.5 87.6 64.2 86.9 63.9 85.9 63.9z"/>
<path class="j29" d="M38.9 70.4 39.9 71.8 39.2 71.6 38.2 71z"/>
<path class="j13" d="M52.8 86.7 53.8 74.4 53 75.1 52.1 84.4z"/>
<path class="j36" d="M66.7 68.8 67.6 62.8 66.9 66.8 65.9 71.6z"/>
<path class="j32" d="M80.6 67 81.5 65.2 80.8 72.2 79.8 74.2z"/>
<path class="j24" d="M32.8 77 33.8 76.1 33.1 73.1 32.1 70.1z"/>
<path class="j21" d="M46.7 73.6 47.7 77.4 46.9 77.5 46 74z"/>
<path class="j8" d="M60.6 84 61.6 81.8 60.8 82.7 59.9 82.8z"/>
<path class="j51" d="M74.5 56.6 75.4 60.2 74.7 62.5 73.7 59.5z"/>
<path class="j38" d="M88.3 69.1 89.3 66.9 88.6 66.7 87.6 64.2z"/>
<path class="j24" d="M40.6 74.6 41.6 75.2 40.9 74.7 39.9 71.8z"/>
<path class="j21" d="M54.5 80.1 55.5 76.8 54.7 71.5 53.8 74.4z"/>
<path class="j39" d="M68.4 67.2 69.4 69.8 68.6 64 67.6 62.8z"/>
<path class="j44" d="M82.3 58.8 83.2 65.3 82.5 65.8 81.5 65.2z"/>
<path class="j23" d="M34.6 75.8 35.5 71.2 34.8 75.1 33.8 76.1z"/>
<path class="j14" d="M48.4 78.7 49.4 80.6 48.6 81.2 47.7 77.4z"/>
<path class="j13" d="M62.3 79 63.3 80.8 62.5 79.8 61.6 81.8z"/>
<path class="j47" d="M76.2 59.8 77.1 60.2 76.4 68 75.4 60.2z"/>
<path class="j46" d="M90.1 65.3 91 57.7 90.3 61.3 89.3 66.9z"/>
<path class="j23" d="M42.3 75.9 43.3 75.3 42.6 73.3 41.6 75.2z"/>
<path class="j17" d="M56.2 78.4 57.2 79.2 56.4 78 55.5 76.8z"/>
<path class="j23" d="M70.1 77.3 71.1 78.3 70.3 75.1 69.4 69.8z"/>
<path class="j36" d="M84 69 84.9 70.4 84.2 68.5 83.2 65.3z"/>
<path class="j25" d="M36.3 74.3 37.2 73.6 36.5 75.4 35.5 71.2z"/>
<path class="j11" d="M50.1 82.3 51.1 84 50.4 78.8 49.4 80.6z"/>
<path class="j16" d="M64 80.4 65 76.9 64.2 77.2 63.3 80.8z"/>
<path class="j40" d="M77.9 64.3 78.9 68.8 78.1 71.1 77.1 60.2z"/>
<path class="j26" d="M44.1 71.5 45 72.5 44.3 74.4 43.3 75.3z"/>
<path class="j14" d="M57.9 81.7 58.9 83 58.1 76 57.2 79.2z"/>
<path class="j27" d="M71.8 74.2 72.8 65.7 72 74 71.1 78.3z"/>
<path class="j40" d="M85.7 67.7 86.6 62.5 85.9 63.9 84.9 70.4z"/>
<path class="j28" d="M38 73.7 38.9 70.4 38.2 71 37.2 73.6z"/>
<path class="j3" d="M51.8 88.3 52.8 86.7 52.1 84.4 51.1 84z"/>
<path class="j28" d="M65.7 72.8 66.7 68.8 65.9 71.6 65 76.9z"/>
<path class="j34" d="M79.6 66.6 80.6 67 79.8 74.2 78.9 68.8z"/>
<path class="j28" d="M45.8 69.9 46.7 73.6 46 74 45 72.5z"/>
<path class="j8" d="M59.6 83 60.6 84 59.9 82.8 58.9 83z"/>
<path class="j49" d="M73.5 62 74.5 56.6 73.7 59.5 72.8 65.7z"/>
<path class="j41" d="M87.4 66.3 88.3 69.1 87.6 64.2 86.6 62.5z"/>
<path class="j27" d="M39.7 75.5 40.6 74.6 39.9 71.8 38.9 70.4z"/>
<path class="j11" d="M53.5 86.1 54.5 80.1 53.8 74.4 52.8 86.7z"/>
<path class="j38" d="M67.4 69.8 68.4 67.2 67.6 62.8 66.7 68.8z"/>
<path class="j47" d="M81.3 58.2 82.3 58.8 81.5 65.2 80.6 67z"/>
<path class="j19" d="M33.6 81.1 34.6 75.8 33.8 76.1 32.8 77z"/>
<path class="j21" d="M47.5 76 48.4 78.7 47.7 77.4 46.7 73.6z"/>
<path class="j13" d="M61.3 77.8 62.3 79 61.6 81.8 60.6 84z"/>
<path class="j53" d="M75.2 60 76.2 59.8 75.4 60.2 74.5 56.6z"/>
<path class="j37" d="M89.1 70.6 90.1 65.3 89.3 66.9 88.3 69.1z"/>
<path class="j24" d="M41.4 73.2 42.3 75.9 41.6 75.2 40.6 74.6z"/>
<path class="j18" d="M55.3 77.7 56.2 78.4 55.5 76.8 54.5 80.1z"/>
<path class="j29" d="M69.1 73.5 70.1 77.3 69.4 69.8 68.4 67.2z"/>
<path class="j43" d="M83 65.4 84 69 83.2 65.3 82.3 58.8z"/>
<path class="j24" d="M35.3 76.9 36.3 74.3 35.5 71.2 34.6 75.8z"/>
<path class="j14" d="M49.2 79 50.1 82.3 49.4 80.6 48.4 78.7z"/>
<path class="j14" d="M63 80 64 80.4 63.3 80.8 62.3 79z"/>
<path class="j46" d="M76.9 68.5 77.9 64.3 77.1 60.2 76.2 59.8z"/>
<path class="j26" d="M43.1 72.3 44.1 71.5 43.3 75.3 42.3 75.9z"/>
<path class="j17" d="M57 74.8 57.9 81.7 57.2 79.2 56.2 78.4z"/>
<path class="j21" d="M70.8 77.7 71.8 74.2 71.1 78.3 70.1 77.3z"/>
<path class="j35" d="M84.7 69.9 85.7 67.7 84.9 70.4 84 69z"/>
<path class="j24" d="M37 76.8 38 73.7 37.2 73.6 36.3 74.3z"/>
<path class="j7" d="M50.9 82.6 51.8 88.3 51.1 84 50.1 82.3z"/>
<path class="j22" d="M64.8 74.4 65.7 72.8 65 76.9 64 80.4z"/>
<path class="j39" d="M78.6 67.5 79.6 66.6 78.9 68.8 77.9 64.3z"/>
<path class="j32" d="M44.8 67.6 45.8 69.9 45 72.5 44.1 71.5z"/>
<path class="j12" d="M58.7 77.6 59.6 83 58.9 83 57.9 81.7z"/>
<path class="j36" d="M72.5 73.2 73.5 62 72.8 65.7 71.8 74.2z"/>
<path class="j41" d="M86.4 68.6 87.4 66.3 86.6 62.5 85.7 67.7z"/>
<path class="j25" d="M38.7 78.4 39.7 75.5 38.9 70.4 38 73.7z"/>
<path class="j4" d="M52.6 83.7 53.5 86.1 52.8 86.7 51.8 88.3z"/>
<path class="j32" d="M66.5 72.1 67.4 69.8 66.7 68.8 65.7 72.8z"/>
<path class="j47" d="M80.3 59.6 81.3 58.2 80.6 67 79.6 66.6z"/>
<path class="j29" d="M46.5 71.2 47.5 76 46.7 73.6 45.8 69.9z"/>
<path class="j15" d="M60.4 75.4 61.3 77.8 60.6 84 59.6 83z"/>
<path class="j52" d="M74.3 62.8 75.2 60 74.5 56.6 73.5 62z"/>
<path class="j37" d="M88.1 68.4 89.1 70.6 88.3 69.1 87.4 66.3z"/>
<path class="j27" d="M40.4 70.4 41.4 73.2 40.6 74.6 39.7 75.5z"/>
<path class="j13" d="M54.3 80.8 55.3 77.7 54.5 80.1 53.5 86.1z"/>
<path class="j33" d="M68.2 72.3 69.1 73.5 68.4 67.2 67.4 69.8z"/>
<path class="j51" d="M82 60.7 83 65.4 82.3 58.8 81.3 58.2z"/>
<path class="j18" d="M34.3 80.6 35.3 76.9 34.6 75.8 33.6 81.1z"/>
<path class="j21" d="M48.2 74.2 49.2 79 48.4 78.7 47.5 76z"/>
<path class="j18" d="M62.1 76.9 63 80 62.3 79 61.3 77.8z"/>
<path class="j45" d="M76 67.6 76.9 68.5 76.2 59.8 75.2 60z"/>
<path class="j29" d="M42.1 69.1 43.1 72.3 42.3 75.9 41.4 73.2z"/>
<path class="j25" d="M56 68.1 57 74.8 56.2 78.4 55.3 77.7z"/>
<path class="j24" d="M69.9 72.9 70.8 77.7 70.1 77.3 69.1 73.5z"/>
<path class="j36" d="M83.8 71.9 84.7 69.9 84 69 83 65.4z"/>
<path class="j23" d="M36 76.5 37 76.8 36.3 74.3 35.3 76.9z"/>
<path class="j16" d="M49.9 74.1 50.9 82.6 50.1 82.3 49.2 79z"/>
<path class="j20" d="M63.8 75 64.8 74.4 64 80.4 63 80z"/>
<path class="j39" d="M77.7 70.4 78.6 67.5 77.9 64.3 76.9 68.5z"/>
<path class="j34" d="M43.8 67.8 44.8 67.6 44.1 71.5 43.1 72.3z"/>
<path class="j22" d="M57.7 71.6 58.7 77.6 57.9 81.7 57 74.8z"/>
<path class="j23" d="M71.6 79.1 72.5 73.2 71.8 74.2 70.8 77.7z"/>
<path class="j36" d="M85.5 70.9 86.4 68.6 85.7 67.7 84.7 69.9z"/>
<path class="j21" d="M37.7 78.7 38.7 78.4 38 73.7 37 76.8z"/>
<path class="j10" d="M51.6 77.1 52.6 83.7 51.8 88.3 50.9 82.6z"/>
<path class="j30" d="M65.5 71.3 66.5 72.1 65.7 72.8 64.8 74.4z"/>
<path class="j45" d="M79.4 64.3 80.3 59.6 79.6 66.6 78.6 67.5z"/>
<path class="j35" d="M45.5 68.8 46.5 71.2 45.8 69.9 44.8 67.6z"/>
<path class="j21" d="M59.4 72.3 60.4 75.4 59.6 83 58.7 77.6z"/>
<path class="j39" d="M73.3 71.8 74.3 62.8 73.5 62 72.5 73.2z"/>
<path class="j37" d="M87.2 71.1 88.1 68.4 87.4 66.3 86.4 68.6z"/>
<path class="j26" d="M39.5 73.7 40.4 70.4 39.7 75.5 38.7 78.4z"/>
<path class="j11" d="M53.3 80.6 54.3 80.8 53.5 86.1 52.6 83.7z"/>
<path class="j31" d="M67.2 74.3 68.2 72.3 67.4 69.8 66.5 72.1z"/>
<path class="j56" d="M81.1 55.6 82 60.7 81.3 58.2 80.3 59.6z"/>
<path class="j31" d="M47.2 67.3 48.2 74.2 47.5 76 46.5 71.2z"/>
<path class="j24" d="M61.1 72.8 62.1 76.9 61.3 77.8 60.4 75.4z"/>
<path class="j46" d="M75 65 76 67.6 75.2 60 74.3 62.8z"/>
<path class="j36" d="M41.2 64.9 42.1 69.1 41.4 73.2 40.4 70.4z"/>
<path class="j26" d="M55 71.9 56 68.1 55.3 77.7 54.3 80.8z"/>
<path class="j31" d="M68.9 69.1 69.9 72.9 69.1 73.5 68.2 72.3z"/>
<path class="j41" d="M82.8 68.6 83.8 71.9 83 65.4 82 60.7z"/>
<path class="j20" d="M35.1 77.3 36 76.5 35.3 76.9 34.3 80.6z"/>
<path class="j28" d="M49 67.6 49.9 74.1 49.2 79 48.2 74.2z"/>
<path class="j23" d="M62.8 73 63.8 75 63 80 62.1 76.9z"/>
<path class="j37" d="M76.7 68.8 77.7 70.4 76.9 68.5 76 67.6z"/>
<path class="j35" d="M42.9 69.9 43.8 67.8 43.1 72.3 42.1 69.1z"/>
<path class="j33" d="M56.7 69.5 57.7 71.6 57 74.8 56 68.1z"/>
<path class="j24" d="M70.6 75.2 71.6 79.1 70.8 77.7 69.9 72.9z"/>
<path class="j33" d="M84.5 73.4 85.5 70.9 84.7 69.9 83.8 71.9z"/>
<path class="j22" d="M36.8 76.7 37.7 78.7 37 76.8 36 76.5z"/>
<path class="j22" d="M50.7 74.2 51.6 77.1 50.9 82.6 49.9 74.1z"/>
<path class="j30" d="M64.5 70.5 65.5 71.3 64.8 74.4 63.8 75z"/>
<path class="j41" d="M78.4 65.2 79.4 64.3 78.6 67.5 77.7 70.4z"/>
<path class="j38" d="M44.6 70.5 45.5 68.8 44.8 67.6 43.8 67.8z"/>
<path class="j29" d="M58.5 72.3 59.4 72.3 58.7 77.6 57.7 71.6z"/>
<path class="j25" d="M72.3 78.5 73.3 71.8 72.5 73.2 71.6 79.1z"/>
<path class="j33" d="M86.2 74.4 87.2 71.1 86.4 68.6 85.5 70.9z"/>
<path class="j23" d="M38.5 76.3 39.5 73.7 38.7 78.4 37.7 78.7z"/>
<path class="j18" d="M52.4 77.3 53.3 80.6 52.6 83.7 51.6 77.1z"/>
<path class="j31" d="M66.2 72.8 67.2 74.3 66.5 72.1 65.5 71.3z"/>
<path class="j55" d="M80.1 57.9 81.1 55.6 80.3 59.6 79.4 64.3z"/>
<path class="j38" d="M46.3 66.7 47.2 67.3 46.5 71.2 45.5 68.8z"/>
<path class="j28" d="M60.2 75.9 61.1 72.8 60.4 75.4 59.4 72.3z"/>
<path class="j42" d="M74 65.9 75 65 74.3 62.8 73.3 71.8z"/>
<path class="j37" d="M40.2 68.5 41.2 64.9 40.4 70.4 39.5 73.7z"/>
<path class="j22" d="M54.1 76.5 55 71.9 54.3 80.8 53.3 80.6z"/>
<path class="j34" d="M67.9 68.6 68.9 69.1 68.2 72.3 67.2 74.3z"/>
<path class="j53" d="M81.8 58.3 82.8 68.6 82 60.7 81.1 55.6z"/>
<path class="j40" d="M48 61.6 49 67.6 48.2 74.2 47.2 67.3z"/>
<path class="j30" d="M61.9 70.2 62.8 73 62.1 76.9 61.1 72.8z"/>
<path class="j42" d="M75.7 65 76.7 68.8 76 67.6 75 65z"/>
<path class="j38" d="M41.9 70.6 42.9 69.9 42.1 69.1 41.2 64.9z"/>
<path class="j35" d="M55.8 71.9 56.7 69.5 56 68.1 55 71.9z"/>
<path class="j32" d="M69.7 71.3 70.6 75.2 69.9 72.9 68.9 69.1z"/>
<path class="j33" d="M83.5 73.2 84.5 73.4 83.8 71.9 82.8 68.6z"/>
<path class="j24" d="M35.8 75.8 36.8 76.7 36 76.5 35.1 77.3z"/>
<path class="j32" d="M49.7 73.4 50.7 74.2 49.9 74.1 49 67.6z"/>
<path class="j33" d="M63.6 67.9 64.5 70.5 63.8 75 62.8 73z"/>
<path class="j42" d="M77.4 63.4 78.4 65.2 77.7 70.4 76.7 68.8z"/>
<path class="j35" d="M43.6 74.9 44.6 70.5 43.8 67.8 42.9 69.9z"/>
<path class="j31" d="M57.5 78.2 58.5 72.3 57.7 71.6 56.7 69.5z"/>
<path class="j22" d="M71.4 77.4 72.3 78.5 71.6 79.1 70.6 75.2z"/>
<path class="j31" d="M85.2 72.9 86.2 74.4 85.5 70.9 84.5 73.4z"/>
<path class="j24" d="M37.5 75.3 38.5 76.3 37.7 78.7 36.8 76.7z"/>
<path class="j22" d="M51.4 81.6 52.4 77.3 51.6 77.1 50.7 74.2z"/>
<path class="j33" d="M65.3 72.5 66.2 72.8 65.5 71.3 64.5 70.5z"/>
<path class="j51" d="M79.2 60.7 80.1 57.9 79.4 64.3 78.4 65.2z"/>
<path class="j39" d="M45.3 68.7 46.3 66.7 45.5 68.8 44.6 70.5z"/>
<path class="j26" d="M59.2 81 60.2 75.9 59.4 72.3 58.5 72.3z"/>
<path class="j35" d="M73.1 66.6 74 65.9 73.3 71.8 72.3 78.5z"/>
<path class="j30" d="M39.2 76.1 40.2 68.5 39.5 73.7 38.5 76.3z"/>
<path class="j21" d="M53.1 79.4 54.1 76.5 53.3 80.6 52.4 77.3z"/>
<path class="j34" d="M67 69.7 67.9 68.6 67.2 74.3 66.2 72.8z"/>
<path class="j61" d="M80.9 56.1 81.8 58.3 81.1 55.6 80.1 57.9z"/>
<path class="j46" d="M47 64.4 48 61.6 47.2 67.3 46.3 66.7z"/>
<path class="j30" d="M60.9 75.7 61.9 70.2 61.1 72.8 60.2 75.9z"/>
<path class="j47" d="M74.8 62.7 75.7 65 75 65 74 65.9z"/>
<path class="j38" d="M40.9 72.9 41.9 70.6 41.2 64.9 40.2 68.5z"/>
<path class="j30" d="M54.8 73.5 55.8 71.9 55 71.9 54.1 76.5z"/>
<path class="j37" d="M68.7 71.1 69.7 71.3 68.9 69.1 67.9 68.6z"/>
<path class="j43" d="M82.6 67.9 83.5 73.2 82.8 68.6 81.8 58.3z"/>
<path class="j41" d="M48.7 69.4 49.7 73.4 49 67.6 48 61.6z"/>
<path class="j39" d="M62.6 65.3 63.6 67.9 62.8 73 61.9 70.2z"/>
<path class="j47" d="M76.5 61.4 77.4 63.4 76.7 68.8 75.7 65z"/>
<path class="j31" d="M42.6 76.3 43.6 74.9 42.9 69.9 41.9 70.6z"/>
<path class="j27" d="M56.5 82.4 57.5 78.2 56.7 69.5 55.8 71.9z"/>
<path class="j28" d="M70.4 75.3 71.4 77.4 70.6 75.2 69.7 71.3z"/>
<path class="j33" d="M84.3 70.8 85.2 72.9 84.5 73.4 83.5 73.2z"/>
<path class="j26" d="M36.6 75.5 37.5 75.3 36.8 76.7 35.8 75.8z"/>
<path class="j22" d="M50.4 84.2 51.4 81.6 50.7 74.2 49.7 73.4z"/>
<path class="j37" d="M64.3 70.2 65.3 72.5 64.5 70.5 63.6 67.9z"/>
<path class="j51" d="M78.2 62.1 79.2 60.7 78.4 65.2 77.4 63.4z"/>
<path class="j33" d="M44.4 74.3 45.3 68.7 44.6 70.5 43.6 74.9z"/>
<path class="j21" d="M58.2 84 59.2 81 58.5 72.3 57.5 78.2z"/>
<path class="j33" d="M72.1 66.7 73.1 66.6 72.3 78.5 71.4 77.4z"/>
<path class="j25" d="M38.3 78.1 39.2 76.1 38.5 76.3 37.5 75.3z"/>
<path class="j18" d="M52.1 83.7 53.1 79.4 52.4 77.3 51.4 81.6z"/>
<path class="j34" d="M66 73.1 67 69.7 66.2 72.8 65.3 72.5z"/>
<path class="j59" d="M79.9 60.1 80.9 56.1 80.1 57.9 79.2 60.7z"/>
<path class="j42" d="M46.1 69.6 47 64.4 46.3 66.7 45.3 68.7z"/>
<path class="j21" d="M59.9 84.1 60.9 75.7 60.2 75.9 59.2 81z"/>
<path class="j49" d="M73.8 60.2 74.8 62.7 74 65.9 73.1 66.6z"/>
<path class="j29" d="M40 80.8 40.9 72.9 40.2 68.5 39.2 76.1z"/>
<path class="j25" d="M53.9 77.5 54.8 73.5 54.1 76.5 53.1 79.4z"/>
<path class="j37" d="M67.7 73 68.7 71.1 67.9 68.6 67 69.7z"/>
<path class="j53" d="M81.6 65.9 82.6 67.9 81.8 58.3 80.9 56.1z"/>
<path class="j43" d="M47.8 72.7 48.7 69.4 48 61.6 47 64.4z"/>
<path class="j36" d="M61.6 72 62.6 65.3 61.9 70.2 60.9 75.7z"/>
<path class="j52" d="M75.5 60.8 76.5 61.4 75.7 65 74.8 62.7z"/>
<path class="j31" d="M41.7 74.8 42.6 76.3 41.9 70.6 40.9 72.9z"/>
<path class="j24" d="M55.6 81.4 56.5 82.4 55.8 71.9 54.8 73.5z"/>
<path class="j31" d="M69.4 76.4 70.4 75.3 69.7 71.3 68.7 71.1z"/>
<path class="j37" d="M83.3 71.5 84.3 70.8 83.5 73.2 82.6 67.9z"/>
<path class="j25" d="M49.5 79.9 50.4 84.2 49.7 73.4 48.7 69.4z"/>
<path class="j44" d="M63.3 64.4 64.3 70.2 63.6 67.9 62.6 65.3z"/>
<path class="j51" d="M77.2 65.1 78.2 62.1 77.4 63.4 76.5 61.4z"/>
<path class="j27" d="M43.4 78 44.4 74.3 43.6 74.9 42.6 76.3z"/>
<path class="j15" d="M57.3 85.5 58.2 84 57.5 78.2 56.5 82.4z"/>
<path class="j33" d="M71.1 71.9 72.1 66.7 71.4 77.4 70.4 75.3z"/>
<path class="j26" d="M37.3 77.8 38.3 78.1 37.5 75.3 36.6 75.5z"/>
<path class="j14" d="M51.2 83.2 52.1 83.7 51.4 81.6 50.4 84.2z"/>
<path class="j33" d="M65.1 75.1 66 73.1 65.3 72.5 64.3 70.2z"/>
<path class="j55" d="M78.9 61.6 79.9 60.1 79.2 60.7 78.2 62.1z"/>
<path class="j35" d="M45.1 74.5 46.1 69.6 45.3 68.7 44.4 74.3z"/>
<path class="j12" d="M59 87 59.9 84.1 59.2 81 58.2 84z"/>
<path class="j52" d="M72.8 57.6 73.8 60.2 73.1 66.6 72.1 66.7z"/>
<path class="j20" d="M39 83.3 40 80.8 39.2 76.1 38.3 78.1z"/>
<path class="j21" d="M52.9 77.4 53.9 77.5 53.1 79.4 52.1 83.7z"/>
<path class="j33" d="M66.8 75.3 67.7 73 67 69.7 66 73.1z"/>
<path class="j52" d="M80.6 68.8 81.6 65.9 80.9 56.1 79.9 60.1z"/>
<path class="j36" d="M46.8 79.3 47.8 72.7 47 64.4 46.1 69.6z"/>
<path class="j23" d="M60.7 82.2 61.6 72 60.9 75.7 59.9 84.1z"/>
<path class="j55" d="M74.6 62 75.5 60.8 74.8 62.7 73.8 60.2z"/>
<path class="j25" d="M40.7 80.4 41.7 74.8 40.9 72.9 40 80.8z"/>
<path class="j23" d="M54.6 80.9 55.6 81.4 54.8 73.5 53.9 77.5z"/>
<path class="j31" d="M68.5 76.5 69.4 76.4 68.7 71.1 67.7 73z"/>
<path class="j40" d="M82.3 71.9 83.3 71.5 82.6 67.9 81.6 65.9z"/>
<path class="j28" d="M48.5 80.5 49.5 79.9 48.7 69.4 47.8 72.7z"/>
<path class="j43" d="M62.4 68.5 63.3 64.4 62.6 65.3 61.6 72z"/>
<path class="j51" d="M76.3 66 77.2 65.1 76.5 61.4 75.5 60.8z"/>
<path class="j27" d="M42.4 76.3 43.4 78 42.6 76.3 41.7 74.8z"/>
<path class="j15" d="M56.3 82.7 57.3 85.5 56.5 82.4 55.6 81.4z"/>
<path class="j29" d="M70.2 77.6 71.1 71.9 70.4 75.3 69.4 76.4z"/>
<path class="j17" d="M50.2 80.6 51.2 83.2 50.4 84.2 49.5 79.9z"/>
<path class="j39" d="M64.1 69.7 65.1 75.1 64.3 70.2 63.3 64.4z"/>
<path class="j50" d="M78 68.8 78.9 61.6 78.2 62.1 77.2 65.1z"/>
<path class="j28" d="M44.1 77.6 45.1 74.5 44.4 74.3 43.4 78z"/>
<path class="j11" d="M58 84.9 59 87 58.2 84 57.3 85.5z"/>
<path class="j47" d="M71.9 67.3 72.8 57.6 72.1 66.7 71.1 71.9z"/>
<path class="j22" d="M38 78.5 39 83.3 38.3 78.1 37.3 77.8z"/>
<path class="j21" d="M51.9 74.3 52.9 77.4 52.1 83.7 51.2 83.2z"/>
<path class="j30" d="M65.8 76.5 66.8 75.3 66 73.1 65.1 75.1z"/>
<path class="j49" d="M79.7 68.8 80.6 68.8 79.9 60.1 78.9 61.6z"/>
<path class="j29" d="M45.8 78.3 46.8 79.3 46.1 69.6 45.1 74.5z"/>
<path class="j11" d="M59.7 87.8 60.7 82.2 59.9 84.1 59 87z"/>
<path class="j58" d="M73.6 60.6 74.6 62 73.8 60.2 72.8 57.6z"/>
<path class="j17" d="M39.8 83.4 40.7 80.4 40 80.8 39 83.3z"/>
<path class="j25" d="M53.6 76.4 54.6 80.9 53.9 77.5 52.9 77.4z"/>
<path class="j29" d="M67.5 78.5 68.5 76.5 67.7 73 66.8 75.3z"/>
<path class="j40" d="M81.4 73 82.3 71.9 81.6 65.9 80.6 68.8z"/>
<path class="j22" d="M47.5 85.6 48.5 80.5 47.8 72.7 46.8 79.3z"/>
<path class="j31" d="M61.4 76.4 62.4 68.5 61.6 72 60.7 82.2z"/>
<path class="j51" d="M75.3 66.1 76.3 66 75.5 60.8 74.6 62z"/>
<path class="j25" d="M41.5 80.5 42.4 76.3 41.7 74.8 40.7 80.4z"/>
<path class="j19" d="M55.3 79.3 56.3 82.7 55.6 81.4 54.6 80.9z"/>
<path class="j28" d="M69.2 74.5 70.2 77.6 69.4 76.4 68.5 76.5z"/>
<path class="j20" d="M49.3 82.1 50.2 80.6 49.5 79.9 48.5 80.5z"/>
<path class="j43" d="M63.1 71.8 64.1 69.7 63.3 64.4 62.4 68.5z"/>
<path class="j44" d="M77 71.8 78 68.8 77.2 65.1 76.3 66z"/>
<path class="j25" d="M43.2 79.8 44.1 77.6 43.4 78 42.4 76.3z"/>
<path class="j16" d="M57 79.5 58 84.9 57.3 85.5 56.3 82.7z"/>
<path class="j34" d="M70.9 77 71.9 67.3 71.1 71.9 70.2 77.6z"/>
<path class="j26" d="M51 72.7 51.9 74.3 51.2 83.2 50.2 80.6z"/>
<path class="j33" d="M64.8 73.8 65.8 76.5 65.1 75.1 64.1 69.7z"/>
<path class="j44" d="M78.7 72.3 79.7 68.8 78.9 61.6 78 68.8z"/>
<path class="j27" d="M44.9 77.1 45.8 78.3 45.1 74.5 44.1 77.6z"/>
<path class="j11" d="M58.8 84.4 59.7 87.8 59 87 58 84.9z"/>
<path class="j53" d="M72.6 66.6 73.6 60.6 72.8 57.6 71.9 67.3z"/>
<path class="j20" d="M38.8 77.7 39.8 83.4 39 83.3 38 78.5z"/>
<path class="j30" d="M52.7 74.2 53.6 76.4 52.9 77.4 51.9 74.3z"/>
<path class="j27" d="M66.5 79.4 67.5 78.5 66.8 75.3 65.8 76.5z"/>
<path class="j39" d="M80.4 72.8 81.4 73 80.6 68.8 79.7 68.8z"/>
<path class="j19" d="M46.6 82.8 47.5 85.6 46.8 79.3 45.8 78.3z"/>
<path class="j18" d="M60.5 81.2 61.4 76.4 60.7 82.2 59.7 87.8z"/>
<path class="j52" d="M74.3 67.5 75.3 66.1 74.6 62 73.6 60.6z"/>
<path class="j18" d="M40.5 84.1 41.5 80.5 40.7 80.4 39.8 83.4z"/>
<path class="j24" d="M54.4 79.3 55.3 79.3 54.6 80.9 53.6 76.4z"/>
<path class="j29" d="M68.2 75.2 69.2 74.5 68.5 76.5 67.5 78.5z"/>
<path class="j16" d="M48.3 85.8 49.3 82.1 48.5 80.5 47.5 85.6z"/>
<path class="j35" d="M62.2 76.7 63.1 71.8 62.4 68.5 61.4 76.4z"/>
<path class="j44" d="M76 70 77 71.8 76.3 66 75.3 66.1z"/>
<path class="j22" d="M42.2 84.3 43.2 79.8 42.4 76.3 41.5 80.5z"/>
<path class="j24" d="M56.1 74 57 79.5 56.3 82.7 55.3 79.3z"/>
<path class="j31" d="M70 73.3 70.9 77 70.2 77.6 69.2 74.5z"/>
<path class="j27" d="M50 74.5 51 72.7 50.2 80.6 49.3 82.1z"/>
<path class="j35" d="M63.9 77 64.8 73.8 64.1 69.7 63.1 71.8z"/>
<path class="j39" d="M77.7 71.8 78.7 72.3 78 68.8 77 71.8z"/>
<path class="j24" d="M43.9 82.7 44.9 77.1 44.1 77.6 43.2 79.8z"/>
<path class="j19" d="M57.8 79.9 58.8 84.4 58 84.9 57 79.5z"/>
<path class="j38" d="M71.7 76.1 72.6 66.6 71.9 67.3 70.9 77z"/>
<path class="j35" d="M51.7 71.3 52.7 74.2 51.9 74.3 51 72.7z"/>
<path class="j28" d="M65.6 80.1 66.5 79.4 65.8 76.5 64.8 73.8z"/>
<path class="j38" d="M79.5 73.6 80.4 72.8 79.7 68.8 78.7 72.3z"/>
<path class="j25" d="M45.6 77.1 46.6 82.8 45.8 78.3 44.9 77.1z"/>
<path class="j16" d="M59.5 80.9 60.5 81.2 59.7 87.8 58.8 84.4z"/>
<path class="j49" d="M73.4 68.9 74.3 67.5 73.6 60.6 72.6 66.6z"/>
<path class="j20" d="M39.5 79.7 40.5 84.1 39.8 83.4 38.8 77.7z"/>
<path class="j28" d="M53.4 79.8 54.4 79.3 53.6 76.4 52.7 74.2z"/>
<path class="j26" d="M67.3 80.7 68.2 75.2 67.5 78.5 66.5 79.4z"/>
<path class="j14" d="M47.3 85.7 48.3 85.8 47.5 85.6 46.6 82.8z"/>
<path class="j27" d="M61.2 77 62.2 76.7 61.4 76.4 60.5 81.2z"/>
<path class="j42" d="M75.1 76 76 70 75.3 66.1 74.3 67.5z"/>
<path class="j16" d="M41.2 86.6 42.2 84.3 41.5 80.5 40.5 84.1z"/>
<path class="j28" d="M55.1 76.2 56.1 74 55.3 79.3 54.4 79.3z"/>
<path class="j36" d="M69 69.6 70 73.3 69.2 74.5 68.2 75.2z"/>
<path class="j22" d="M49 80.6 50 74.5 49.3 82.1 48.3 85.8z"/>
<path class="j31" d="M62.9 79.1 63.9 77 63.1 71.8 62.2 76.7z"/>
<path class="j40" d="M76.8 71 77.7 71.8 77 71.8 76 70z"/>
<path class="j18" d="M43 83.8 43.9 82.7 43.2 79.8 42.2 84.3z"/>
<path class="j27" d="M56.8 79.6 57.8 79.9 57 79.5 56.1 74z"/>
<path class="j31" d="M70.7 76.7 71.7 76.1 70.9 77 70 73.3z"/>
<path class="j37" d="M50.7 71.2 51.7 71.3 51 72.7 50 74.5z"/>
<path class="j26" d="M64.6 84.4 65.6 80.1 64.8 73.8 63.9 77z"/>
<path class="j37" d="M78.5 73.8 79.5 73.6 78.7 72.3 77.7 71.8z"/>
<path class="j26" d="M44.7 77.6 45.6 77.1 44.9 77.1 43.9 82.7z"/>
<path class="j20" d="M58.5 81.9 59.5 80.9 58.8 84.4 57.8 79.9z"/>
<path class="j40" d="M72.4 74.1 73.4 68.9 72.6 66.6 71.7 76.1z"/>
<path class="j32" d="M52.4 76.1 53.4 79.8 52.7 74.2 51.7 71.3z"/>
<path class="j22" d="M66.3 83.7 67.3 80.7 66.5 79.4 65.6 80.1z"/>
<path class="j23" d="M46.4 76.8 47.3 85.7 46.6 82.8 45.6 77.1z"/>
<path class="j26" d="M60.2 77.2 61.2 77 60.5 81.2 59.5 80.9z"/>
<path class="j37" d="M74.1 79.1 75.1 76 74.3 67.5 73.4 68.9z"/>
<path class="j18" d="M40.3 81.6 41.2 86.6 40.5 84.1 39.5 79.7z"/>
<path class="j27" d="M54.2 77.7 55.1 76.2 54.4 79.3 53.4 79.8z"/>
<path class="j33" d="M68 75.4 69 69.6 68.2 75.2 67.3 80.7z"/>
<path class="j17" d="M48.1 83.7 49 80.6 48.3 85.8 47.3 85.7z"/>
<path class="j30" d="M61.9 75.6 62.9 79.1 62.2 76.7 61.2 77z"/>
<path class="j35" d="M75.8 79.4 76.8 71 76 70 75.1 76z"/>
<path class="j16" d="M42 82 43 83.8 42.2 84.3 41.2 86.6z"/>
<path class="j29" d="M55.9 80.8 56.8 79.6 56.1 74 55.1 76.2z"/>
<path class="j38" d="M69.7 72.2 70.7 76.7 70 73.3 69 69.6z"/>
<path class="j32" d="M49.8 78 50.7 71.2 50 74.5 49 80.6z"/>
<path class="j21" d="M63.7 86.8 64.6 84.4 63.9 77 62.9 79.1z"/>
<path class="j39" d="M77.5 73 78.5 73.8 77.7 71.8 76.8 71z"/>
<path class="j24" d="M43.7 75.8 44.7 77.6 43.9 82.7 43 83.8z"/>
<path class="j22" d="M57.6 84.8 58.5 81.9 57.8 79.9 56.8 79.6z"/>
<path class="j31" d="M71.4 79.1 72.4 74.1 71.7 76.1 70.7 76.7z"/>
<path class="j36" d="M51.5 77.1 52.4 76.1 51.7 71.3 50.7 71.2z"/>
<path class="j19" d="M65.4 84.6 66.3 83.7 65.6 80.1 64.6 84.4z"/>
<path class="j33" d="M45.4 70.3 46.4 76.8 45.6 77.1 44.7 77.6z"/>
<path class="j23" d="M59.3 83.4 60.2 77.2 59.5 80.9 58.5 81.9z"/>
<path class="j34" d="M73.2 79.1 74.1 79.1 73.4 68.9 72.4 74.1z"/>
<path class="j30" d="M53.2 74.6 54.2 77.7 53.4 79.8 52.4 76.1z"/>
<path class="j25" d="M67.1 79.5 68 75.4 67.3 80.7 66.3 83.7z"/>
<path class="j24" d="M47.1 75.4 48.1 83.7 47.3 85.7 46.4 76.8z"/>
<path class="j33" d="M61 72.7 61.9 75.6 61.2 77 60.2 77.2z"/>
<path class="j26" d="M74.9 82.8 75.8 79.4 75.1 76 74.1 79.1z"/>
<path class="j21" d="M41 79.1 42 82 41.2 86.6 40.3 81.6z"/>
<path class="j29" d="M54.9 77.5 55.9 80.8 55.1 76.2 54.2 77.7z"/>
<path class="j40" d="M68.8 70.6 69.7 72.2 69 69.6 68 75.4z"/>
<path class="j22" d="M48.8 84.2 49.8 78 49 80.6 48.1 83.7z"/>
<path class="j23" d="M62.7 82.5 63.7 86.8 62.9 79.1 61.9 75.6z"/>
<path class="j36" d="M76.6 74.2 77.5 73 76.8 71 75.8 79.4z"/>
<path class="j27" d="M42.7 75.5 43.7 75.8 43 83.8 42 82z"/>
<path class="j21" d="M56.6 84.6 57.6 84.8 56.8 79.6 55.9 80.8z"/>
<path class="j32" d="M70.5 78.6 71.4 79.1 70.7 76.7 69.7 72.2z"/>
<path class="j31" d="M50.5 82.4 51.5 77.1 50.7 71.2 49.8 78z"/>
<path class="j16" d="M64.4 85.1 65.4 84.6 64.6 84.4 63.7 86.8z"/>
<path class="j39" d="M44.4 67.5 45.4 70.3 44.7 77.6 43.7 75.8z"/>
<path class="j18" d="M58.3 86.6 59.3 83.4 58.5 81.9 57.6 84.8z"/>
<path class="j29" d="M72.2 81.6 73.2 79.1 72.4 74.1 71.4 79.1z"/>
<path class="j32" d="M52.2 78.5 53.2 74.6 52.4 76.1 51.5 77.1z"/>
<path class="j23" d="M66.1 78.6 67.1 79.5 66.3 83.7 65.4 84.6z"/>
<path class="j39" d="M46.1 67.9 47.1 75.4 46.4 76.8 45.4 70.3z"/>
<path class="j31" d="M60 75.7 61 72.7 60.2 77.2 59.3 83.4z"/>
<path class="j25" d="M73.9 81.4 74.9 82.8 74.1 79.1 73.2 79.1z"/>
<path class="j34" d="M53.9 73.2 54.9 77.5 54.2 77.7 53.2 74.6z"/>
<path class="j35" d="M67.8 74.5 68.8 70.6 68 75.4 67.1 79.5z"/>
<path class="j24" d="M47.8 81.1 48.8 84.2 48.1 83.7 47.1 75.4z"/>
<path class="j33" d="M61.7 73.6 62.7 82.5 61.9 75.6 61 72.7z"/>
<path class="j29" d="M75.6 77.5 76.6 74.2 75.8 79.4 74.9 82.8z"/>
<path class="j30" d="M41.8 74.4 42.7 75.5 42 82 41 79.1z"/>
<path class="j25" d="M55.6 79.2 56.6 84.6 55.9 80.8 54.9 77.5z"/>
<path class="j39" d="M69.5 71 70.5 78.6 69.7 72.2 68.8 70.6z"/>
<path class="j21" d="M49.6 86.2 50.5 82.4 49.8 78 48.8 84.2z"/>
<path class="j18" d="M63.4 83 64.4 85.1 63.7 86.8 62.7 82.5z"/>
<path class="j39" d="M43.5 74.3 44.4 67.5 43.7 75.8 42.7 75.5z"/>
<path class="j17" d="M57.3 84.8 58.3 86.6 57.6 84.8 56.6 84.6z"/>
<path class="j25" d="M71.2 83.9 72.2 81.6 71.4 79.1 70.5 78.6z"/>
<path class="j24" d="M51.3 86.6 52.2 78.5 51.5 77.1 50.5 82.4z"/>
<path class="j24" d="M65.1 77.8 66.1 78.6 65.4 84.6 64.4 85.1z"/>
<path class="j48" d="M45.2 67.9 46.1 67.9 45.4 70.3 44.4 67.5z"/>
<path class="j24" d="M59.1 79.9 60 75.7 59.3 83.4 58.3 86.6z"/>
<path class="j24" d="M72.9 83.1 73.9 81.4 73.2 79.1 72.2 81.6z"/>
<path class="j35" d="M53 74.9 53.9 73.2 53.2 74.6 52.2 78.5z"/>
<path class="j31" d="M66.8 77.6 67.8 74.5 67.1 79.5 66.1 78.6z"/>
<path class="j37" d="M46.9 74.3 47.8 81.1 47.1 75.4 46.1 67.9z"/>
<path class="j40" d="M60.8 69.8 61.7 73.6 61 72.7 60 75.7z"/>
<path class="j27" d="M74.6 79.3 75.6 77.5 74.9 82.8 73.9 81.4z"/>
<path class="j34" d="M54.7 75.5 55.6 79.2 54.9 77.5 53.9 73.2z"/>
<path class="j40" d="M68.6 76 69.5 71 68.8 70.6 67.8 74.5z"/>
<path class="j19" d="M48.6 85.2 49.6 86.2 48.8 84.2 47.8 81.1z"/>
<path class="j29" d="M62.5 76.4 63.4 83 62.7 82.5 61.7 73.6z"/>
<path class="j36" d="M42.5 77.4 43.5 74.3 42.7 75.5 41.8 74.4z"/>
<path class="j23" d="M56.4 80.5 57.3 84.8 56.6 84.6 55.6 79.2z"/>
<path class="j31" d="M70.3 77.9 71.2 83.9 70.5 78.6 69.5 71z"/>
<path class="j18" d="M50.3 86 51.3 86.6 50.5 82.4 49.6 86.2z"/>
<path class="j25" d="M64.2 80.1 65.1 77.8 64.4 85.1 63.4 83z"/>
<path class="j42" d="M44.2 78.6 45.2 67.9 44.4 67.5 43.5 74.3z"/>
<path class="j21" d="M58.1 82.7 59.1 79.9 58.3 86.6 57.3 84.8z"/>
<path class="j21" d="M72 85.7 72.9 83.1 72.2 81.6 71.2 83.9z"/>
<path class="j25" d="M52 85.2 53 74.9 52.2 78.5 51.3 86.6z"/>
<path class="j31" d="M65.9 78.1 66.8 77.6 66.1 78.6 65.1 77.8z"/>
<path class="j43" d="M45.9 76.5 46.9 74.3 46.1 67.9 45.2 67.9z"/>
<path class="j36" d="M59.8 76.2 60.8 69.8 60 75.7 59.1 79.9z"/>
<path class="j27" d="M73.7 77.7 74.6 79.3 73.9 81.4 72.9 83.1z"/>
<path class="j38" d="M53.7 73.6 54.7 75.5 53.9 73.2 53 74.9z"/>
<path class="j32" d="M67.6 83.4 68.6 76 67.8 74.5 66.8 77.6z"/>
<path class="j28" d="M47.6 79.6 48.6 85.2 47.8 81.1 46.9 74.3z"/>
<path class="j40" d="M61.5 73.7 62.5 76.4 61.7 73.6 60.8 69.8z"/>
<path class="j30" d="M55.4 80.9 56.4 80.5 55.6 79.2 54.7 75.5z"/>
<path class="j33" d="M69.3 84.7 70.3 77.9 69.5 71 68.6 76z"/>
<path class="j19" d="M49.3 82.9 50.3 86 49.6 86.2 48.6 85.2z"/>
<path class="j29" d="M63.2 78.3 64.2 80.1 63.4 83 62.5 76.4z"/>
<path class="j32" d="M43.3 81.4 44.2 78.6 43.5 74.3 42.5 77.4z"/>
<path class="j24" d="M57.1 81 58.1 82.7 57.3 84.8 56.4 80.5z"/>
<path class="j25" d="M71 80.7 72 85.7 71.2 83.9 70.3 77.9z"/>
<path class="j17" d="M51 87.3 52 85.2 51.3 86.6 50.3 86z"/>
<path class="j29" d="M64.9 82.3 65.9 78.1 65.1 77.8 64.2 80.1z"/>
<path class="j34" d="M45 84.5 45.9 76.5 45.2 67.9 44.2 78.6z"/>
<path class="j28" d="M58.8 82.8 59.8 76.2 59.1 79.9 58.1 82.7z"/>
<path class="j27" d="M72.7 78.4 73.7 77.7 72.9 83.1 72 85.7z"/>
<path class="j32" d="M52.8 78.7 53.7 73.6 53 74.9 52 85.2z"/>
<path class="j28" d="M66.6 82.6 67.6 83.4 66.8 77.6 65.9 78.1z"/>
<path class="j33" d="M46.7 80.1 47.6 79.6 46.9 74.3 45.9 76.5z"/>
<path class="j38" d="M60.5 80.7 61.5 73.7 60.8 69.8 59.8 76.2z"/>
<path class="j34" d="M54.5 79.8 55.4 80.9 54.7 75.5 53.7 73.6z"/>
<path class="j22" d="M68.3 90.5 69.3 84.7 68.6 76 67.6 83.4z"/>
<path class="j25" d="M48.4 79.9 49.3 82.9 48.6 85.2 47.6 79.6z"/>
<path class="j37" d="M62.2 74.8 63.2 78.3 62.5 76.4 61.5 73.7z"/>
<path class="j27" d="M56.2 81.4 57.1 81 56.4 80.5 55.4 80.9z"/>
<path class="j26" d="M70 83.7 71 80.7 70.3 77.9 69.3 84.7z"/>
<path class="j23" d="M50.1 77.5 51 87.3 50.3 86 49.3 82.9z"/>
<path class="j28" d="M64 82.1 64.9 82.3 64.2 80.1 63.2 78.3z"/>
<path class="j26" d="M44 82.2 45 84.5 44.2 78.6 43.3 81.4z"/>
<path class="j27" d="M57.9 78.6 58.8 82.8 58.1 82.7 57.1 81z"/>
<path class="j29" d="M71.7 76.2 72.7 78.4 72 85.7 71 80.7z"/>
<path class="j23" d="M51.8 82.7 52.8 78.7 52 85.2 51 87.3z"/>
<path class="j27" d="M65.7 83.7 66.6 82.6 65.9 78.1 64.9 82.3z"/>
<path class="j28" d="M45.7 83.3 46.7 80.1 45.9 76.5 45 84.5z"/>
<path class="j28" d="M59.6 84.5 60.5 80.7 59.8 76.2 58.8 82.8z"/>
<path class="j33" d="M53.5 80.2 54.5 79.8 53.7 73.6 52.8 78.7z"/>
<path class="j21" d="M67.4 83.2 68.3 90.5 67.6 83.4 66.6 82.6z"/>
<path class="j30" d="M47.4 80.9 48.4 79.9 47.6 79.6 46.7 80.1z"/>
<path class="j36" d="M61.3 76.9 62.2 74.8 61.5 73.7 60.5 80.7z"/>
<path class="j28" d="M55.2 82.2 56.2 81.4 55.4 80.9 54.5 79.8z"/>
<path class="j19" d="M69.1 85.8 70 83.7 69.3 84.7 68.3 90.5z"/>
<path class="j34" d="M49.1 71.5 50.1 77.5 49.3 82.9 48.4 79.9z"/>
<path class="j34" d="M63 77 64 82.1 63.2 78.3 62.2 74.8z"/>
<path class="j33" d="M56.9 72.4 57.9 78.6 57.1 81 56.2 81.4z"/>
<path class="j31" d="M70.8 78.3 71.7 76.2 71 80.7 70 83.7z"/>
<path class="j30" d="M50.8 72.9 51.8 82.7 51 87.3 50.1 77.5z"/>
<path class="j25" d="M64.7 84.9 65.7 83.7 64.9 82.3 64 82.1z"/>
<path class="j25" d="M44.7 82.1 45.7 83.3 45 84.5 44 82.2z"/>
<path class="j29" d="M58.6 77.8 59.6 84.5 58.8 82.8 57.9 78.6z"/>
<path class="j29" d="M52.5 82.3 53.5 80.2 52.8 78.7 51.8 82.7z"/>
<path class="j28" d="M66.4 76.1 67.4 83.2 66.6 82.6 65.7 83.7z"/>
<path class="j29" d="M46.4 79.9 47.4 80.9 46.7 80.1 45.7 83.3z"/>
<path class="j30" d="M60.3 79.2 61.3 76.9 60.5 80.7 59.6 84.5z"/>
<path class="j30" d="M54.2 79.7 55.2 82.2 54.5 79.8 53.5 80.2z"/>
<path class="j23" d="M68.1 78.5 69.1 85.8 68.3 90.5 67.4 83.2z"/>
<path class="j37" d="M48.2 75.1 49.1 71.5 48.4 79.9 47.4 80.9z"/>
<path class="j40" d="M62 73 63 77 62.2 74.8 61.3 76.9z"/>
<path class="j37" d="M55.9 71.1 56.9 72.4 56.2 81.4 55.2 82.2z"/>
<path class="j28" d="M69.8 78.3 70.8 78.3 70 83.7 69.1 85.8z"/>
<path class="j46" d="M49.9 66.9 50.8 72.9 50.1 77.5 49.1 71.5z"/>
<path class="j28" d="M63.7 82.8 64.7 84.9 64 82.1 63 77z"/>
<path class="j42" d="M57.6 69.3 58.6 77.8 57.9 78.6 56.9 72.4z"/>
<path class="j35" d="M51.6 75 52.5 82.3 51.8 82.7 50.8 72.9z"/>
<path class="j30" d="M65.4 78.8 66.4 76.1 65.7 83.7 64.7 84.9z"/>
<path class="j30" d="M45.5 77.5 46.4 79.9 45.7 83.3 44.7 82.1z"/>
<path class="j33" d="M59.4 76.6 60.3 79.2 59.6 84.5 58.6 77.8z"/>
<path class="j30" d="M53.3 82 54.2 79.7 53.5 80.2 52.5 82.3z"/>
<path class="j37" d="M67.1 71.3 68.1 78.5 67.4 83.2 66.4 76.1z"/>
<path class="j36" d="M47.2 75.5 48.2 75.1 47.4 80.9 46.4 79.9z"/>
<path class="j39" d="M61.1 75.5 62 73 61.3 76.9 60.3 79.2z"/>
<path class="j39" d="M55 71.5 55.9 71.1 55.2 82.2 54.2 79.7z"/>
<path class="j33" d="M68.9 75.1 69.8 78.3 69.1 85.8 68.1 78.5z"/>
<path class="j48" d="M48.9 72.8 49.9 66.9 49.1 71.5 48.2 75.1z"/>
<path class="j37" d="M62.8 77.2 63.7 82.8 63 77 62 73z"/>
<path class="j52" d="M56.7 65.6 57.6 69.3 56.9 72.4 55.9 71.1z"/>
<path class="j48" d="M50.6 72.3 51.6 75 50.8 72.9 49.9 66.9z"/>
<path class="j28" d="M64.5 82.6 65.4 78.8 64.7 84.9 63.7 82.8z"/>
<path class="j42" d="M58.4 76.2 59.4 76.6 58.6 77.8 57.6 69.3z"/>
<path class="j31" d="M52.3 83.6 53.3 82 52.5 82.3 51.6 75z"/>
<path class="j41" d="M66.2 75.2 67.1 71.3 66.4 76.1 65.4 78.8z"/>
<path class="j39" d="M46.2 72.9 47.2 75.5 46.4 79.9 45.5 77.5z"/>
<path class="j38" d="M60.1 78.3 61.1 75.5 60.3 79.2 59.4 76.6z"/>
<path class="j37" d="M54 78.6 55 71.5 54.2 79.7 53.3 82z"/>
<path class="j43" d="M67.9 73.9 68.9 75.1 68.1 78.5 67.1 71.3z"/>
<path class="j43" d="M47.9 75.1 48.9 72.8 48.2 75.1 47.2 75.5z"/>
<path class="j41" d="M61.8 77.3 62.8 77.2 62 73 61.1 75.5z"/>
<path class="j53" d="M55.7 69.2 56.7 65.6 55.9 71.1 55 71.5z"/>
<path class="j46" d="M49.6 79.9 50.6 72.3 49.9 66.9 48.9 72.8z"/>
<path class="j32" d="M63.5 81 64.5 82.6 63.7 82.8 62.8 77.2z"/>
<path class="j47" d="M57.4 78.4 58.4 76.2 57.6 69.3 56.7 65.6z"/>
<path class="j35" d="M51.3 85.7 52.3 83.6 51.6 75 50.6 72.3z"/>
<path class="j35" d="M65.2 80.3 66.2 75.2 65.4 78.8 64.5 82.6z"/>
<path class="j37" d="M59.1 82.5 60.1 78.3 59.4 76.6 58.4 76.2z"/>
<path class="j28" d="M53.1 88.3 54 78.6 53.3 82 52.3 83.6z"/>
<path class="j43" d="M66.9 78.9 67.9 73.9 67.1 71.3 66.2 75.2z"/>
<path class="j43" d="M47 76.4 47.9 75.1 47.2 75.5 46.2 72.9z"/>
<path class="j38" d="M60.8 80.8 61.8 77.3 61.1 75.5 60.1 78.3z"/>
<path class="j45" d="M54.8 77.1 55.7 69.2 55 71.5 54 78.6z"/>
<path class="j38" d="M48.7 82.7 49.6 79.9 48.9 72.8 47.9 75.1z"/>
<path class="j35" d="M62.5 82.5 63.5 81 62.8 77.2 61.8 77.3z"/>
<path class="j47" d="M56.5 79 57.4 78.4 56.7 65.6 55.7 69.2z"/>
<path class="j33" d="M50.4 85.2 51.3 85.7 50.6 72.3 49.6 79.9z"/>
<path class="j32" d="M64.3 80.2 65.2 80.3 64.5 82.6 63.5 81z"/>
<path class="j32" d="M58.2 87.8 59.1 82.5 58.4 76.2 57.4 78.4z"/>
<path class="j21" d="M52.1 92.3 53.1 88.3 52.3 83.6 51.3 85.7z"/>
<path class="j36" d="M66 83.2 66.9 78.9 66.2 75.2 65.2 80.3z"/>
<path class="j32" d="M59.9 85 60.8 80.8 60.1 78.3 59.1 82.5z"/>
<path class="j29" d="M53.8 87.5 54.8 77.1 54 78.6 53.1 88.3z"/>
<path class="j35" d="M47.7 84.8 48.7 82.7 47.9 75.1 47 76.4z"/>
<path class="j32" d="M61.6 86.7 62.5 82.5 61.8 77.3 60.8 80.8z"/>
<path class="j43" d="M55.5 77.8 56.5 79 55.7 69.2 54.8 77.1z"/>
<path class="j28" d="M49.4 86.9 50.4 85.2 49.6 79.9 48.7 82.7z"/>
<path class="j32" d="M63.3 83.2 64.3 80.2 63.5 81 62.5 82.5z"/>
<path class="j30" d="M57.2 85.5 58.2 87.8 57.4 78.4 56.5 79z"/>
<path class="j21" d="M51.1 87.6 52.1 92.3 51.3 85.7 50.4 85.2z"/>
<path class="j34" d="M65 80.5 66 83.2 65.2 80.3 64.3 80.2z"/>
<path class="j25" d="M58.9 88.5 59.9 85 59.1 82.5 58.2 87.8z"/>
<path class="j18" d="M52.8 90.3 53.8 87.5 53.1 88.3 52.1 92.3z"/>
<path class="j26" d="M60.6 89.2 61.6 86.7 60.8 80.8 59.9 85z"/>
<path class="j34" d="M54.5 82.4 55.5 77.8 54.8 77.1 53.8 87.5z"/>
<path class="j25" d="M48.5 89 49.4 86.9 48.7 82.7 47.7 84.8z"/>
<path class="j26" d="M62.3 90.2 63.3 83.2 62.5 82.5 61.6 86.7z"/>
<path class="j36" d="M56.2 77.5 57.2 85.5 56.5 79 55.5 77.8z"/>
<path class="j23" d="M50.2 88.1 51.1 87.6 50.4 85.2 49.4 86.9z"/>
<path class="j35" d="M64 79.3 65 80.5 64.3 80.2 63.3 83.2z"/>
<path class="j23" d="M58 86.8 58.9 88.5 58.2 87.8 57.2 85.5z"/>
<path class="j20" d="M51.9 85.1 52.8 90.3 52.1 92.3 51.1 87.6z"/>
<path class="j21" d="M59.7 90.7 60.6 89.2 59.9 85 58.9 88.5z"/>
<path class="j24" d="M53.6 87.5 54.5 82.4 53.8 87.5 52.8 90.3z"/>
<path class="j20" d="M61.4 91.1 62.3 90.2 61.6 86.7 60.6 89.2z"/>
<path class="j39" d="M55.3 77.5 56.2 77.5 55.5 77.8 54.5 82.4z"/>
<path class="j22" d="M49.2 88.8 50.2 88.1 49.4 86.9 48.5 89z"/>
<path class="j29" d="M63.1 85.9 64 79.3 63.3 83.2 62.3 90.2z"/>
<path class="j33" d="M57 79.1 58 86.8 57.2 85.5 56.2 77.5z"/>
<path class="j25" d="M50.9 85.1 51.9 85.1 51.1 87.6 50.2 88.1z"/>
<path class="j21" d="M58.7 89.4 59.7 90.7 58.9 88.5 58 86.8z"/>
<path class="j25" d="M52.6 84.7 53.6 87.5 52.8 90.3 51.9 85.1z"/>
<path class="j18" d="M60.4 92.1 61.4 91.1 60.6 89.2 59.7 90.7z"/>
<path class="j33" d="M54.3 83.9 55.3 77.5 54.5 82.4 53.6 87.5z"/>
<path class="j23" d="M62.1 84.4 63.1 85.9 62.3 90.2 61.4 91.1z"/>
<path class="j42" d="M56 77.7 57 79.1 56.2 77.5 55.3 77.5z"/>
<path class="j25" d="M49.9 86.7 50.9 85.1 50.2 88.1 49.2 88.8z"/>
<path class="j30" d="M57.7 82.7 58.7 89.4 58 86.8 57 79.1z"/>
<path class="j29" d="M51.6 84.6 52.6 84.7 51.9 85.1 50.9 85.1z"/>
<path class="j18" d="M59.4 92.2 60.4 92.1 59.7 90.7 58.7 89.4z"/>
<path class="j28" d="M53.4 87.1 54.3 83.9 53.6 87.5 52.6 84.7z"/>
<path class="j23" d="M61.1 87.5 62.1 84.4 61.4 91.1 60.4 92.1z"/>
<path class="j39" d="M55.1 79.6 56 77.7 55.3 77.5 54.3 83.9z"/>
<path class="j39" d="M56.8 81.8 57.7 82.7 57 79.1 56 77.7z"/>
<path class="j27" d="M50.7 89.1 51.6 84.6 50.9 85.1 49.9 86.7z"/>
<path class="j26" d="M58.5 85.6 59.4 92.2 58.7 89.4 57.7 82.7z"/>
<path class="j28" d="M52.4 88.6 53.4 87.1 52.6 84.7 51.6 84.6z"/>
<path class="j18" d="M60.2 95.3 61.1 87.5 60.4 92.1 59.4 92.2z"/>
<path class="j33" d="M54.1 82.9 55.1 79.6 54.3 83.9 53.4 87.1z"/>
<path class="j39" d="M55.8 82 56.8 81.8 56 77.7 55.1 79.6z"/>
<path class="j34" d="M57.5 83 58.5 85.6 57.7 82.7 56.8 81.8z"/>
<path class="j25" d="M51.4 90.8 52.4 88.6 51.6 84.6 50.7 89.1z"/>
<path class="j19" d="M59.2 92.2 60.2 95.3 59.4 92.2 58.5 85.6z"/>
<path class="j28" d="M53.1 87.7 54.1 82.9 53.4 87.1 52.4 88.6z"/>
<path class="j38" d="M54.8 82.3 55.8 82 55.1 79.6 54.1 82.9z"/>
<path class="j36" d="M56.5 84.7 57.5 83 56.8 81.8 55.8 82z"/>
<path class="j30" d="M58.3 82.8 59.2 92.2 58.5 85.6 57.5 83z"/>
<path class="j25" d="M52.2 88.4 53.1 87.7 52.4 88.6 51.4 90.8z"/>
<path class="j32" d="M53.9 87.5 54.8 82.3 54.1 82.9 53.1 87.7z"/>
<path class="j36" d="M55.6 83.9 56.5 84.7 55.8 82 54.8 82.3z"/>
<path class="j37" d="M57.3 80.8 58.3 82.8 57.5 83 56.5 84.7z"/>
<path class="j27" d="M52.9 90.7 53.9 87.5 53.1 87.7 52.2 88.4z"/>
<path class="j33" d="M54.6 86.4 55.6 83.9 54.8 82.3 53.9 87.5z"/>
<path class="j37" d="M56.3 83.4 57.3 80.8 56.5 84.7 55.6 83.9z"/>
<path class="j28" d="M53.7 89.9 54.6 86.4 53.9 87.5 52.9 90.7z"/>
<path class="j35" d="M55.4 85.9 56.3 83.4 55.6 83.9 54.6 86.4z"/>
<path class="j31" d="M54.4 86.5 55.4 85.9 54.6 86.4 53.7 89.9z"/>
</g>
<line x1="21.70" y1="36.40" x2="64.10" y2="16.60" stroke="#3c3c3c" stroke-width="0.6"/>
<line x1="64.10" y1="16.60" x2="96.80" y2="42.60" stroke="#3c3c3c" stroke-width="0.6"/>
<line x1="96.80" y1="42.60" x2="54.40" y2="62.40" stroke="#3c3c3c" stroke-width="0.6"/>
<line x1="54.40" y1="62.40" x2="21.70" y2="36.40" stroke="#3c3c3c" stroke-width="0.6"/>
<line x1="21.70" y1="95.00" x2="21.70" y2="36.40" stroke="#3c3c3c" stroke-width="0.6"/>
<line x1="54.40" y1="121.00" x2="54.40" y2="62.40" stroke="#3c3c3c" stroke-width="0.6"/>
<line x1="96.80" y1="101.20" x2="96.80" y2="42.60" stroke="#3c3c3c" stroke-width="0.6"/>
<line x1="54.40" y1="121.00" x2="21.70" y2="95.00" stroke="#3c3c3c" stroke-width="0.6"/>
<line x1="54.40" y1="121.00" x2="96.80" y2="101.20" stroke="#3c3c3c" stroke-width="0.6"/>
<line x1="21.70" y1="95.00" x2="22.70" y2="95.40" stroke="#3c3c3c" stroke-width="0.5"/>
<text transform="matrix(0.85 0 0 1 19.4 95.6)" font-size="7.7" text-anchor="end">0.6</text>
<line x1="21.70" y1="80.35" x2="22.70" y2="80.75" stroke="#3c3c3c" stroke-width="0.5"/>
<text transform="matrix(0.85 0 0 1 19.4 80.9)" font-size="7.7" text-anchor="end">0.8</text>
<line x1="21.70" y1="65.70" x2="22.70" y2="66.10" stroke="#3c3c3c" stroke-width="0.5"/>
<text transform="matrix(0.85 0 0 1 19.4 66.3)" font-size="7.7" text-anchor="end">1</text>
<line x1="21.70" y1="51.05" x2="22.70" y2="51.45" stroke="#3c3c3c" stroke-width="0.5"/>
<text transform="matrix(0.85 0 0 1 19.4 51.6)" font-size="7.7" text-anchor="end">1.2</text>
<line x1="21.70" y1="36.40" x2="22.70" y2="36.80" stroke="#3c3c3c" stroke-width="0.5"/>
<text transform="matrix(0.85 0 0 1 19.4 37.0)" font-size="7.7" text-anchor="end">1.4</text>
<text transform="matrix(0.85 0 0 1 15.0 102.2)" font-size="7.7" text-anchor="middle">100</text>
<text transform="matrix(0.85 0 0 1 31.0 115.6)" font-size="7.7" text-anchor="middle">50</text>
<text transform="matrix(0.85 0 0 1 49.6 129.0)" font-size="7.7" text-anchor="middle">0</text>
<text transform="matrix(0.85 0 0 1 58.6 130.2)" font-size="7.7" text-anchor="middle">0</text>
<text transform="matrix(0.85 0 0 1 81.0 119.8)" font-size="7.7" text-anchor="middle">50</text>
<text transform="matrix(0.85 0 0 1 104.2 109.4)" font-size="7.7" text-anchor="middle">100</text>
<text x="59.4" y="10.8" font-size="6.5" text-anchor="middle" font-weight="bold">F8</text>
<text transform="matrix(0.85 0 0 1 22.4 22.0)" font-size="7.7">x 10<tspan dy="-3.6" font-size="4.2">4</tspan></text>
<line x1="132.00" y1="121.30" x2="132.00" y2="120.20" stroke="#3c3c3c" stroke-width="0.5"/>
<line x1="132.00" y1="15.60" x2="132.00" y2="16.70" stroke="#3c3c3c" stroke-width="0.5"/>
<text transform="matrix(0.85 0 0 1 132.0 131.0)" font-size="7.7" text-anchor="middle">&#8722;100</text>
<line x1="150.85" y1="121.30" x2="150.85" y2="120.20" stroke="#3c3c3c" stroke-width="0.5"/>
<line x1="150.85" y1="15.60" x2="150.85" y2="16.70" stroke="#3c3c3c" stroke-width="0.5"/>
<text transform="matrix(0.85 0 0 1 150.8 131.0)" font-size="7.7" text-anchor="middle">&#8722;50</text>
<line x1="169.70" y1="121.30" x2="169.70" y2="120.20" stroke="#3c3c3c" stroke-width="0.5"/>
<line x1="169.70" y1="15.60" x2="169.70" y2="16.70" stroke="#3c3c3c" stroke-width="0.5"/>
<text transform="matrix(0.85 0 0 1 169.7 131.0)" font-size="7.7" text-anchor="middle">0</text>
<line x1="188.55" y1="121.30" x2="188.55" y2="120.20" stroke="#3c3c3c" stroke-width="0.5"/>
<line x1="188.55" y1="15.60" x2="188.55" y2="16.70" stroke="#3c3c3c" stroke-width="0.5"/>
<text transform="matrix(0.85 0 0 1 188.6 131.0)" font-size="7.7" text-anchor="middle">50</text>
<line x1="132.00" y1="121.30" x2="133.10" y2="121.30" stroke="#3c3c3c" stroke-width="0.5"/>
<line x1="207.40" y1="121.30" x2="206.30" y2="121.30" stroke="#3c3c3c" stroke-width="0.5"/>
<text transform="matrix(0.85 0 0 1 130.1 124.3)" font-size="7.7" text-anchor="end">&#8722;100</text>
<line x1="132.00" y1="94.88" x2="133.10" y2="94.88" stroke="#3c3c3c" stroke-width="0.5"/>
<line x1="207.40" y1="94.88" x2="206.30" y2="94.88" stroke="#3c3c3c" stroke-width="0.5"/>
<text transform="matrix(0.85 0 0 1 130.1 97.9)" font-size="7.7" text-anchor="end">&#8722;50</text>
<line x1="132.00" y1="68.45" x2="133.10" y2="68.45" stroke="#3c3c3c" stroke-width="0.5"/>
<line x1="207.40" y1="68.45" x2="206.30" y2="68.45" stroke="#3c3c3c" stroke-width="0.5"/>
<text transform="matrix(0.85 0 0 1 130.1 71.4)" font-size="7.7" text-anchor="end">0</text>
<line x1="132.00" y1="42.02" x2="133.10" y2="42.02" stroke="#3c3c3c" stroke-width="0.5"/>
<line x1="207.40" y1="42.02" x2="206.30" y2="42.02" stroke="#3c3c3c" stroke-width="0.5"/>
<text transform="matrix(0.85 0 0 1 130.1 45.0)" font-size="7.7" text-anchor="end">50</text>
<rect x="132.00" y="15.60" width="75.40" height="105.70" fill="none" stroke="#3c3c3c" stroke-width="0.8"/>
<text x="169.7" y="10.6" font-size="6.5" text-anchor="middle" font-weight="bold">Search history</text>
<line x1="257.12" y1="121.30" x2="257.12" y2="120.20" stroke="#3c3c3c" stroke-width="0.5"/>
<line x1="257.12" y1="15.60" x2="257.12" y2="16.70" stroke="#3c3c3c" stroke-width="0.5"/>
<text transform="matrix(0.85 0 0 1 257.1 131.0)" font-size="7.7" text-anchor="middle">20</text>
<line x1="272.19" y1="121.30" x2="272.19" y2="120.20" stroke="#3c3c3c" stroke-width="0.5"/>
<line x1="272.19" y1="15.60" x2="272.19" y2="16.70" stroke="#3c3c3c" stroke-width="0.5"/>
<text transform="matrix(0.85 0 0 1 272.2 131.0)" font-size="7.7" text-anchor="middle">40</text>
<line x1="287.26" y1="121.30" x2="287.26" y2="120.20" stroke="#3c3c3c" stroke-width="0.5"/>
<line x1="287.26" y1="15.60" x2="287.26" y2="16.70" stroke="#3c3c3c" stroke-width="0.5"/>
<text transform="matrix(0.85 0 0 1 287.3 131.0)" font-size="7.7" text-anchor="middle">60</text>
<line x1="302.33" y1="121.30" x2="302.33" y2="120.20" stroke="#3c3c3c" stroke-width="0.5"/>
<line x1="302.33" y1="15.60" x2="302.33" y2="16.70" stroke="#3c3c3c" stroke-width="0.5"/>
<text transform="matrix(0.85 0 0 1 302.3 131.0)" font-size="7.7" text-anchor="middle">80</text>
<line x1="317.40" y1="121.30" x2="317.40" y2="120.20" stroke="#3c3c3c" stroke-width="0.5"/>
<line x1="317.40" y1="15.60" x2="317.40" y2="16.70" stroke="#3c3c3c" stroke-width="0.5"/>
<text transform="matrix(0.85 0 0 1 317.4 131.0)" font-size="7.7" text-anchor="middle">100</text>
<line x1="242.80" y1="121.30" x2="243.90" y2="121.30" stroke="#3c3c3c" stroke-width="0.5"/>
<line x1="317.40" y1="121.30" x2="316.30" y2="121.30" stroke="#3c3c3c" stroke-width="0.5"/>
<text transform="matrix(0.85 0 0 1 240.9 124.3)" font-size="7.7" text-anchor="end">2000</text>
<line x1="242.80" y1="100.16" x2="243.90" y2="100.16" stroke="#3c3c3c" stroke-width="0.5"/>
<line x1="317.40" y1="100.16" x2="316.30" y2="100.16" stroke="#3c3c3c" stroke-width="0.5"/>
<text transform="matrix(0.85 0 0 1 240.9 103.2)" font-size="7.7" text-anchor="end">3000</text>
<line x1="242.80" y1="79.02" x2="243.90" y2="79.02" stroke="#3c3c3c" stroke-width="0.5"/>
<line x1="317.40" y1="79.02" x2="316.30" y2="79.02" stroke="#3c3c3c" stroke-width="0.5"/>
<text transform="matrix(0.85 0 0 1 240.9 82.0)" font-size="7.7" text-anchor="end">4000</text>
<line x1="242.80" y1="57.88" x2="243.90" y2="57.88" stroke="#3c3c3c" stroke-width="0.5"/>
<line x1="317.40" y1="57.88" x2="316.30" y2="57.88" stroke="#3c3c3c" stroke-width="0.5"/>
<text transform="matrix(0.85 0 0 1 240.9 60.9)" font-size="7.7" text-anchor="end">5000</text>
<line x1="242.80" y1="36.74" x2="243.90" y2="36.74" stroke="#3c3c3c" stroke-width="0.5"/>
<line x1="317.40" y1="36.74" x2="316.30" y2="36.74" stroke="#3c3c3c" stroke-width="0.5"/>
<text transform="matrix(0.85 0 0 1 240.9 39.7)" font-size="7.7" text-anchor="end">6000</text>
<line x1="242.80" y1="15.60" x2="243.90" y2="15.60" stroke="#3c3c3c" stroke-width="0.5"/>
<line x1="317.40" y1="15.60" x2="316.30" y2="15.60" stroke="#3c3c3c" stroke-width="0.5"/>
<text transform="matrix(0.85 0 0 1 240.9 18.6)" font-size="7.7" text-anchor="end">7000</text>
<rect x="242.80" y="15.60" width="74.60" height="105.70" fill="none" stroke="#3c3c3c" stroke-width="0.8"/>
<text x="280.1" y="10.6" font-size="6.5" text-anchor="middle" font-weight="bold">Average fitness history</text>
<line x1="353.20" y1="121.30" x2="353.20" y2="120.20" stroke="#3c3c3c" stroke-width="0.5"/>
<line x1="353.20" y1="15.60" x2="353.20" y2="16.70" stroke="#3c3c3c" stroke-width="0.5"/>
<text transform="matrix(0.85 0 0 1 353.2 131.0)" font-size="7.7" text-anchor="middle">0</text>
<line x1="390.50" y1="121.30" x2="390.50" y2="120.20" stroke="#3c3c3c" stroke-width="0.5"/>
<line x1="390.50" y1="15.60" x2="390.50" y2="16.70" stroke="#3c3c3c" stroke-width="0.5"/>
<text transform="matrix(0.85 0 0 1 390.5 131.0)" font-size="7.7" text-anchor="middle">50</text>
<line x1="427.80" y1="121.30" x2="427.80" y2="120.20" stroke="#3c3c3c" stroke-width="0.5"/>
<line x1="427.80" y1="15.60" x2="427.80" y2="16.70" stroke="#3c3c3c" stroke-width="0.5"/>
<text transform="matrix(0.85 0 0 1 427.8 131.0)" font-size="7.7" text-anchor="middle">100</text>
<line x1="353.20" y1="108.21" x2="354.30" y2="108.21" stroke="#3c3c3c" stroke-width="0.5"/>
<line x1="427.80" y1="108.21" x2="426.70" y2="108.21" stroke="#3c3c3c" stroke-width="0.5"/>
<text transform="matrix(0.85 0 0 1 352.0 110.8)" font-size="7.7" text-anchor="end">10<tspan dx="0.3" dy="-3.9" font-size="4.9">3.4</tspan></text>
<line x1="353.20" y1="69.36" x2="354.30" y2="69.36" stroke="#3c3c3c" stroke-width="0.5"/>
<line x1="427.80" y1="69.36" x2="426.70" y2="69.36" stroke="#3c3c3c" stroke-width="0.5"/>
<text transform="matrix(0.85 0 0 1 352.0 72.8)" font-size="7.7" text-anchor="end">10<tspan dx="0.3" dy="-3.9" font-size="4.9">3.5</tspan></text>
<line x1="353.20" y1="30.52" x2="354.30" y2="30.52" stroke="#3c3c3c" stroke-width="0.5"/>
<line x1="427.80" y1="30.52" x2="426.70" y2="30.52" stroke="#3c3c3c" stroke-width="0.5"/>
<text transform="matrix(0.85 0 0 1 352.0 34.7)" font-size="7.7" text-anchor="end">10<tspan dx="0.3" dy="-3.9" font-size="4.9">3.6</tspan></text>
<rect x="353.20" y="15.60" width="74.60" height="105.70" fill="none" stroke="#3c3c3c" stroke-width="0.8"/>
<text x="390.5" y="10.6" font-size="6.5" text-anchor="middle" font-weight="bold">Optimization history</text>
<line x1="463.30" y1="121.30" x2="463.30" y2="120.20" stroke="#3c3c3c" stroke-width="0.5"/>
<line x1="463.30" y1="15.60" x2="463.30" y2="16.70" stroke="#3c3c3c" stroke-width="0.5"/>
<text transform="matrix(0.85 0 0 1 463.3 131.0)" font-size="7.7" text-anchor="middle">0</text>
<line x1="500.75" y1="121.30" x2="500.75" y2="120.20" stroke="#3c3c3c" stroke-width="0.5"/>
<line x1="500.75" y1="15.60" x2="500.75" y2="16.70" stroke="#3c3c3c" stroke-width="0.5"/>
<text transform="matrix(0.85 0 0 1 500.8 131.0)" font-size="7.7" text-anchor="middle">50</text>
<line x1="538.20" y1="121.30" x2="538.20" y2="120.20" stroke="#3c3c3c" stroke-width="0.5"/>
<line x1="538.20" y1="15.60" x2="538.20" y2="16.70" stroke="#3c3c3c" stroke-width="0.5"/>
<text transform="matrix(0.85 0 0 1 538.2 131.0)" font-size="7.7" text-anchor="middle">100</text>
<line x1="463.30" y1="121.30" x2="464.40" y2="121.30" stroke="#3c3c3c" stroke-width="0.5"/>
<line x1="538.20" y1="121.30" x2="537.10" y2="121.30" stroke="#3c3c3c" stroke-width="0.5"/>
<text transform="matrix(0.85 0 0 1 461.4 124.3)" font-size="7.7" text-anchor="end">0.01</text>
<line x1="463.30" y1="103.68" x2="464.40" y2="103.68" stroke="#3c3c3c" stroke-width="0.5"/>
<line x1="538.20" y1="103.68" x2="537.10" y2="103.68" stroke="#3c3c3c" stroke-width="0.5"/>
<text transform="matrix(0.85 0 0 1 461.4 106.7)" font-size="7.7" text-anchor="end">0.02</text>
<line x1="463.30" y1="86.07" x2="464.40" y2="86.07" stroke="#3c3c3c" stroke-width="0.5"/>
<line x1="538.20" y1="86.07" x2="537.10" y2="86.07" stroke="#3c3c3c" stroke-width="0.5"/>
<text transform="matrix(0.85 0 0 1 461.4 89.1)" font-size="7.7" text-anchor="end">0.03</text>
<line x1="463.30" y1="68.45" x2="464.40" y2="68.45" stroke="#3c3c3c" stroke-width="0.5"/>
<line x1="538.20" y1="68.45" x2="537.10" y2="68.45" stroke="#3c3c3c" stroke-width="0.5"/>
<text transform="matrix(0.85 0 0 1 461.4 71.5)" font-size="7.7" text-anchor="end">0.04</text>
<line x1="463.30" y1="50.83" x2="464.40" y2="50.83" stroke="#3c3c3c" stroke-width="0.5"/>
<line x1="538.20" y1="50.83" x2="537.10" y2="50.83" stroke="#3c3c3c" stroke-width="0.5"/>
<text transform="matrix(0.85 0 0 1 461.4 53.8)" font-size="7.7" text-anchor="end">0.05</text>
<line x1="463.30" y1="33.22" x2="464.40" y2="33.22" stroke="#3c3c3c" stroke-width="0.5"/>
<line x1="538.20" y1="33.22" x2="537.10" y2="33.22" stroke="#3c3c3c" stroke-width="0.5"/>
<text transform="matrix(0.85 0 0 1 461.4 36.2)" font-size="7.7" text-anchor="end">0.06</text>
<line x1="463.30" y1="15.60" x2="464.40" y2="15.60" stroke="#3c3c3c" stroke-width="0.5"/>
<line x1="538.20" y1="15.60" x2="537.10" y2="15.60" stroke="#3c3c3c" stroke-width="0.5"/>
<text transform="matrix(0.85 0 0 1 461.4 18.6)" font-size="7.7" text-anchor="end">0.07</text>
<rect x="463.30" y="15.60" width="74.90" height="105.70" fill="none" stroke="#3c3c3c" stroke-width="0.8"/>
<text x="500.8" y="10.6" font-size="6.5" text-anchor="middle" font-weight="bold">Diversity</text>
</g>
<clipPath id="c1"><rect x="135.00" y="154.60" width="75.40" height="105.70"/></clipPath>
<g clip-path="url(#c1)">
<polyline points="153.9,154.6 153.0,155.3 151.8,156.3 150.4,157.5 149.2,158.8 148.2,160.3 147.4,162.1 146.6,163.9 145.8,165.5 145.1,166.9 144.5,168.3 143.9,169.6 143.1,170.9 142.2,172.3 141.1,173.8 140.0,175.1 139.1,176.3 138.3,177.1 137.6,177.7 137.0,178.2 136.4,179.0 135.9,180.3 135.5,181.9 135.2,183.4 135.0,184.4" fill="none" stroke="#6a6af0" stroke-width="0.7" stroke-linejoin="round"/>
<polyline points="168.1,154.6 167.7,155.2 167.2,156.0 166.6,157.0 166.0,158.0 165.5,159.1 165.0,160.3 164.6,161.5 164.1,162.8 163.6,164.1 163.1,165.4 162.6,166.7 162.1,168.2 161.5,169.8 161.0,171.6 160.4,173.4 160.0,175.0 159.8,176.5 159.8,177.9 159.7,179.2 159.4,180.4 158.8,181.5 157.9,182.6 157.0,183.6 156.0,184.4 155.0,185.0 154.0,185.5 152.9,185.9 151.9,186.5 150.9,187.4 149.9,188.4 148.9,189.5 147.9,190.5 146.8,191.4 145.7,192.2 144.7,193.0 143.8,193.9 143.1,194.8 142.6,195.8 142.2,196.9 141.8,198.0 141.4,199.1 141.0,200.3 140.7,201.7 140.5,203.4 140.5,205.5 140.7,207.9 140.9,210.6 140.9,213.7 140.7,217.3 140.4,221.3 140.1,225.4 139.9,229.5 140.0,233.5 140.2,237.4 140.4,241.4 140.5,245.3 140.4,249.5 140.2,253.8 140.0,257.6 139.9,260.3" fill="none" stroke="#6a6af0" stroke-width="0.7" stroke-linejoin="round"/>
<polyline points="176.0,204.5 175.6,206.1 175.1,208.4 174.6,211.0 174.5,213.5 174.9,215.8 175.6,218.2 176.5,220.5 177.5,222.5 178.6,224.2 179.9,225.7 181.2,226.9 182.7,227.7 184.4,228.2 186.2,228.3 188.0,228.2 189.5,227.7 190.6,226.8 191.4,225.6 192.0,224.1 192.5,222.5 192.9,220.8 193.1,219.0 193.2,217.0 193.2,215.0 193.0,212.8 192.6,210.4 192.2,208.0 191.7,206.0 191.2,204.3 190.7,202.8 190.2,201.5 189.5,200.5 188.8,199.7 188.0,199.1 187.1,198.7 186.0,198.5 184.6,198.4 183.0,198.5 181.3,198.7 180.0,199.0 179.0,199.4 178.2,199.8 177.5,200.4 177.0,201.0 176.6,201.9 176.3,202.9 176.1,203.8 176.0,204.5" fill="none" stroke="#6a6af0" stroke-width="0.7" stroke-linejoin="round"/>
<polyline points="148.4,260.3 148.5,257.6 148.5,253.8 148.6,249.5 148.8,245.3 149.0,241.4 149.2,237.5 149.5,233.5 149.8,229.5 150.2,225.3 150.7,220.9 151.3,216.8 151.8,213.7 152.3,211.8 152.7,210.8 153.2,210.2 153.8,209.7 154.5,209.1 155.3,208.7 156.1,208.5 156.8,208.7 157.3,209.3 157.7,210.2 158.1,211.4 158.7,212.7 159.5,214.2 160.5,216.0 161.6,217.9 162.7,219.6 163.9,221.1 165.1,222.6 166.4,224.0 167.7,225.5 168.9,227.0 170.1,228.6 171.3,230.1 172.6,231.5 174.0,232.8 175.5,234.1 177.2,235.2 179.0,236.0 181.1,236.5 183.4,236.7 185.8,236.5 188.0,236.0 190.1,235.0 192.1,233.6 194.0,231.9 195.5,230.0 196.6,228.0 197.4,225.7 198.0,223.3 198.5,221.0 198.9,218.8 199.1,216.5 199.2,214.2 199.2,212.0 199.1,209.7 198.9,207.4 198.6,205.2 198.5,203.0 198.5,201.0 198.6,199.1 198.7,197.1 199.0,195.0 199.4,192.6 199.8,190.1 200.4,187.5 201.0,185.0 201.7,182.5 202.4,180.0 203.2,177.5 204.0,175.0 204.7,172.4 205.5,169.8 206.2,167.3 207.0,165.0 207.9,162.9 208.9,160.9 209.8,159.2 210.4,158.0" fill="none" stroke="#6aa8f8" stroke-width="0.7" stroke-linejoin="round"/>
<polyline points="157.2,260.3 157.3,257.8 157.4,254.0 157.6,250.2 157.8,247.3 157.9,245.6 157.9,244.6 158.1,244.0 158.7,243.4 159.9,242.8 161.4,242.3 163.1,242.0 164.7,241.8 165.9,241.8 167.0,242.0 168.2,242.3 170.0,242.7 172.6,243.3 175.7,244.1 178.9,244.7 182.0,245.0 184.8,244.9 187.4,244.4 190.0,243.7 192.5,242.7 195.0,241.4 197.4,239.9 199.7,238.0 201.5,236.0 202.8,233.6 203.8,231.0 204.6,228.2 205.2,225.5 205.7,222.9 206.1,220.2 206.4,217.6 206.7,215.0 206.9,212.4 207.1,209.7 207.3,207.1 207.5,204.5 207.7,202.1 207.9,199.7 208.2,197.4 208.5,195.0 209.0,192.3 209.5,189.4 210.0,186.8 210.4,185.0" fill="none" stroke="#70e8f0" stroke-width="0.7" stroke-linejoin="round"/>
<polyline points="165.0,260.3 165.7,258.7 166.7,256.4 168.0,254.0 170.0,252.5 172.8,252.2 176.4,252.6 180.1,253.1 183.5,253.2 186.4,252.8 189.0,252.2 191.6,251.3 194.0,250.2 196.5,248.8 198.9,247.1 201.1,245.3 203.0,243.5 204.5,241.7 205.6,239.8 206.6,237.9 207.5,236.0 208.4,234.1 209.2,232.0 209.9,230.2 210.4,229.0" fill="none" stroke="#a8f0a0" stroke-width="0.7" stroke-linejoin="round"/>
<polyline points="179.0,260.3 181.6,259.7 185.3,258.9 189.2,258.0 192.5,257.0 194.8,256.0 196.7,254.9 198.4,253.8 200.0,252.5 201.6,251.1 203.2,249.6 204.6,248.1 206.0,246.5 207.3,244.8 208.6,242.9 209.6,241.2 210.4,240.0" fill="none" stroke="#f0f070" stroke-width="0.7" stroke-linejoin="round"/>
<polyline points="192.5,260.3 194.5,259.5 197.3,258.4 200.3,257.0 203.0,255.5 205.2,253.5 207.4,251.2 209.1,249.0 210.4,247.5" fill="none" stroke="#f8b070" stroke-width="0.7" stroke-linejoin="round"/>
<polyline points="206.0,260.3 210.4,254.5" fill="none" stroke="#f07070" stroke-width="0.7" stroke-linejoin="round"/>
<path d="M170.2 161.2h0M187.0 158.4h0M176.5 156.1h0M184.7 169.0h0M192.5 166.0h0M180.6 174.1h0M184.5 163.2h0M178.0 167.5h0M184.7 178.5h0M185.3 160.9h0M187.5 173.7h0M180.6 173.1h0M180.4 175.3h0M179.5 158.7h0M184.8 199.2h0M184.2 159.7h0M197.3 170.9h0M179.1 180.9h0M187.4 218.2h0M179.6 169.8h0M180.1 169.6h0M189.9 166.4h0M185.7 186.0h0M186.4 158.1h0M174.6 178.6h0M199.4 167.4h0M196.2 175.2h0M178.6 160.4h0M174.7 181.0h0M178.6 202.3h0M184.6 176.1h0M177.2 162.7h0M184.8 168.5h0M179.0 173.9h0M200.5 156.1h0M181.6 159.9h0M180.2 164.8h0M195.7 164.3h0M185.2 199.7h0M183.1 164.8h0M182.8 198.1h0M186.6 161.7h0M180.4 172.6h0M183.8 161.2h0M179.6 165.4h0M174.6 162.9h0M181.1 171.7h0M184.1 166.5h0M193.1 166.2h0M184.5 162.3h0M180.9 181.2h0M183.9 155.2h0M186.8 158.7h0M168.9 156.0h0M180.4 167.4h0M169.5 166.4h0M172.1 161.2h0M178.4 162.0h0M182.2 160.9h0M183.4 158.0h0M183.9 166.9h0M191.3 183.8h0M185.9 186.5h0M185.5 176.8h0M181.1 156.9h0M195.3 177.5h0M191.3 165.7h0M179.5 156.9h0M179.5 165.7h0M188.0 159.8h0M189.4 171.8h0M181.2 161.7h0M190.2 187.2h0M175.7 187.8h0M182.2 159.7h0M189.6 161.1h0M179.6 164.5h0M184.1 156.1h0M183.1 172.8h0M181.6 162.7h0M171.4 163.6h0M181.2 170.0h0M184.3 162.2h0M184.5 163.0h0M188.1 157.0h0M189.2 172.8h0M181.1 169.2h0M181.9 171.6h0M193.9 162.1h0M188.9 177.2h0M183.5 168.4h0M182.0 176.4h0M190.1 188.6h0M190.1 162.0h0M182.8 162.1h0M186.3 170.2h0M183.6 184.7h0M183.2 164.1h0M195.2 176.1h0M175.3 165.7h0M188.2 189.3h0M176.8 159.6h0M179.0 193.3h0M188.8 156.1h0M175.1 169.7h0M177.4 201.9h0M176.2 175.5h0M179.6 165.5h0M185.3 202.2h0M190.7 171.3h0M179.2 162.9h0M189.1 170.3h0M175.6 174.8h0M196.8 164.9h0M180.4 183.9h0M180.2 178.3h0M184.9 168.9h0M183.7 195.9h0M182.0 170.5h0M172.3 157.0h0M188.4 165.9h0M187.5 168.5h0M180.5 172.6h0M175.6 163.1h0M184.6 177.3h0M190.0 170.8h0M171.9 192.7h0M175.8 194.4h0M183.5 194.3h0M177.7 183.8h0M180.7 167.5h0M182.2 178.4h0M187.8 159.0h0M187.8 174.2h0M189.1 166.7h0M188.6 170.2h0M178.9 186.6h0M167.6 179.8h0M184.9 181.6h0M185.7 163.6h0M185.7 169.1h0M178.6 198.4h0M195.0 166.1h0M172.3 170.7h0M188.0 171.9h0M186.9 172.5h0M188.7 197.5h0M191.8 155.3h0M186.0 171.7h0M185.0 162.9h0M181.1 178.0h0M187.8 174.3h0M185.4 169.6h0M188.0 175.9h0M175.7 158.8h0M173.2 167.5h0M183.3 163.4h0M186.3 159.9h0M173.2 168.3h0M176.5 174.5h0M180.7 171.9h0M184.8 181.4h0M185.0 162.0h0M189.2 159.1h0M181.9 163.0h0M185.6 163.6h0M191.1 163.3h0M181.2 174.2h0M197.4 162.1h0M180.7 240.9h0M183.8 181.1h0M171.0 183.9h0M182.5 180.0h0M179.6 166.8h0M179.0 169.7h0M184.9 178.5h0M176.1 161.8h0M184.4 173.2h0M170.4 168.1h0M179.9 170.4h0M191.6 157.8h0M183.9 165.7h0M186.9 157.2h0M177.3 167.8h0M174.7 179.1h0M191.8 188.4h0M189.5 189.7h0M188.5 167.2h0M183.0 169.8h0M190.4 166.7h0M180.4 155.8h0M187.4 158.9h0M187.2 173.4h0M177.4 161.6h0M192.0 162.8h0M183.8 181.9h0M188.2 161.4h0M173.5 159.9h0M175.5 158.4h0M180.4 175.5h0M186.3 158.6h0M190.4 169.9h0M185.4 160.7h0M182.3 166.6h0M186.7 156.3h0M181.6 163.7h0M184.1 178.2h0M185.6 162.4h0M178.7 158.9h0M185.6 187.7h0M173.9 171.0h0M177.9 165.0h0M187.2 159.1h0M178.9 164.5h0M186.1 159.5h0M184.5 168.7h0M181.8 178.2h0M192.6 156.7h0M186.1 159.2h0M179.3 166.5h0M179.8 167.7h0M183.8 175.9h0M173.6 171.4h0M190.3 163.1h0M182.6 163.3h0M172.1 187.9h0M176.7 181.6h0M191.9 202.0h0M184.4 182.3h0M196.7 165.3h0M183.1 163.9h0M185.9 167.0h0M195.4 186.9h0M196.5 163.7h0M177.1 187.6h0M188.6 181.2h0M176.3 232.0h0M180.0 174.8h0M171.9 164.5h0M186.7 171.1h0M176.5 167.6h0M178.0 172.7h0M195.1 170.6h0M188.6 194.8h0M181.9 175.0h0M171.6 165.0h0M185.0 185.5h0M168.4 168.2h0M177.2 157.4h0M187.2 161.8h0M188.1 197.7h0M183.9 161.3h0M188.1 157.2h0M184.2 191.1h0M178.0 156.1h0M183.1 188.9h0M193.9 199.8h0M182.7 176.1h0M184.9 155.2h0M186.5 177.2h0M174.2 229.5h0M176.5 170.3h0M173.0 166.7h0M185.2 169.6h0M180.7 169.7h0M175.1 166.5h0M174.9 187.0h0M187.6 166.7h0M188.2 159.3h0M185.6 167.2h0M183.1 156.4h0M186.1 184.2h0M183.0 155.8h0M185.2 167.4h0M180.3 187.2h0M176.4 182.8h0M178.1 191.9h0M184.5 156.6h0M193.6 191.8h0M177.4 165.6h0M175.8 168.6h0M187.4 157.5h0M187.5 189.4h0M178.2 182.1h0M179.0 157.4h0M178.9 196.0h0M184.8 183.0h0M202.2 158.6h0M178.1 177.2h0M184.6 165.6h0M179.5 162.3h0M183.6 163.5h0M185.3 165.5h0M184.4 157.1h0M176.3 161.8h0M176.3 157.5h0M188.5 179.4h0M184.3 157.5h0M183.8 157.3h0M186.2 172.4h0M177.8 165.2h0M190.2 175.6h0M177.3 192.8h0M175.7 169.5h0M176.2 176.5h0M181.6 187.5h0M199.2 162.8h0M182.7 175.6h0M184.3 157.7h0M192.1 180.2h0M180.0 158.6h0M173.4 158.0h0M178.3 165.1h0M179.9 162.2h0M171.8 162.0h0M180.5 180.1h0M182.9 170.4h0M195.2 198.5h0M187.3 156.6h0M183.0 167.3h0M178.9 166.8h0M177.5 158.1h0M170.6 164.8h0M181.2 194.0h0M167.7 200.4h0M181.1 196.2h0M192.6 174.5h0M179.6 164.4h0M184.7 164.9h0M176.5 157.0h0M170.1 156.6h0M183.7 166.4h0M180.5 187.1h0M185.0 167.0h0M182.9 170.7h0M185.9 188.2h0M179.1 173.4h0M185.5 175.0h0M188.5 159.6h0M178.7 179.8h0M180.0 157.7h0M188.8 175.3h0M185.3 158.7h0M180.8 159.4h0M172.4 167.1h0M180.4 168.7h0M191.7 171.1h0M179.4 163.2h0M181.0 176.6h0M176.5 160.7h0M181.5 182.4h0M182.2 175.8h0M184.0 164.5h0M178.1 173.8h0M175.1 160.3h0M195.5 155.2h0M183.2 197.3h0M176.8 159.9h0M181.1 193.5h0M185.2 160.5h0M189.1 191.7h0M184.1 158.3h0M180.1 161.3h0M185.5 167.0h0M173.5 159.8h0M176.3 183.2h0M190.1 161.5h0M183.6 159.5h0M181.9 161.6h0M178.3 180.0h0M174.9 205.9h0M183.9 169.3h0M182.6 173.9h0M193.3 169.0h0M176.9 163.3h0M182.4 194.5h0M180.1 169.1h0M176.6 186.1h0M193.8 204.9h0M191.0 179.6h0M183.2 166.2h0M173.4 174.5h0M184.3 156.6h0M185.4 156.7h0M178.4 169.7h0M172.1 168.3h0M193.7 175.9h0M173.6 156.4h0M189.1 193.5h0M178.0 178.7h0M179.7 157.4h0M188.7 166.8h0M175.0 157.1h0M180.1 181.9h0M181.9 165.3h0M189.7 173.1h0M188.6 183.4h0M183.1 175.5h0M174.4 206.5h0M189.9 156.3h0M179.6 178.1h0M184.1 188.7h0M170.5 158.5h0M181.2 160.2h0M185.5 166.7h0M180.1 176.5h0M186.2 157.1h0M190.6 181.1h0M192.4 168.8h0M178.8 166.2h0M172.6 160.9h0M166.7 200.8h0M180.2 195.7h0M171.9 156.0h0M185.3 160.2h0M168.9 164.9h0M189.1 158.0h0M182.6 158.7h0M172.1 167.9h0M184.0 190.2h0M185.9 201.3h0M185.8 165.4h0M182.1 189.6h0M186.1 185.1h0M185.5 164.8h0M180.0 176.0h0M182.7 167.9h0M173.8 156.2h0M187.0 165.3h0M173.9 179.5h0M180.9 184.1h0M174.6 156.2h0M188.1 181.0h0M183.1 157.4h0M175.4 195.3h0M183.7 166.7h0M180.6 176.7h0M186.2 171.5h0M182.2 159.2h0M181.7 167.7h0M180.5 157.0h0M171.4 163.7h0M185.0 165.0h0M186.7 179.0h0M175.7 160.7h0M185.1 168.9h0M189.4 171.5h0M187.8 169.5h0M190.3 172.5h0M187.8 159.1h0M179.5 199.3h0M196.1 190.0h0M182.7 181.8h0M178.7 155.7h0M191.8 163.3h0M178.1 189.0h0M188.0 156.0h0M177.6 173.9h0M190.1 168.1h0M190.9 189.0h0M179.8 175.9h0M186.4 167.8h0M187.4 155.7h0M182.3 158.6h0M186.1 160.7h0M182.2 162.5h0M178.7 167.5h0M176.5 206.0h0M184.7 194.4h0M186.4 190.1h0M188.2 157.5h0M186.1 176.2h0M187.4 185.8h0M180.8 184.4h0M194.2 190.1h0M177.9 194.7h0M188.1 184.2h0M182.2 163.9h0M181.4 174.9h0M196.3 184.3h0M186.7 168.0h0M176.1 196.3h0M185.8 159.1h0M180.6 161.2h0M195.3 175.8h0M178.3 180.9h0M183.9 173.9h0M180.1 165.3h0M179.8 157.1h0M188.0 162.5h0M190.6 199.8h0M191.3 176.1h0M182.7 172.0h0M179.8 165.2h0M186.9 232.7h0M181.0 180.2h0M193.4 159.8h0M174.7 161.3h0M186.3 170.9h0M175.7 155.3h0M177.1 187.5h0M173.3 177.0h0M175.1 197.8h0M186.6 168.2h0M178.7 175.4h0M176.4 166.1h0M175.4 170.4h0M177.2 156.9h0M180.3 203.3h0M188.5 155.2h0M183.2 199.5h0M182.7 158.2h0M182.2 168.3h0M187.5 198.9h0M177.0 157.5h0M185.0 164.3h0M175.9 209.4h0M176.2 194.3h0M186.9 172.0h0M183.3 165.1h0M181.7 162.0h0M176.7 158.8h0M185.8 175.2h0M196.7 159.6h0M186.5 178.5h0M186.6 178.9h0M182.4 157.7h0M190.5 178.0h0M180.5 171.8h0M201.7 196.6h0M184.7 169.0h0M183.5 157.5h0M190.9 159.0h0M176.1 178.3h0M178.8 179.9h0M178.6 163.5h0M181.7 171.4h0M194.3 188.6h0M177.2 159.5h0M198.8 163.7h0M189.3 175.2h0M193.2 171.3h0M184.6 186.4h0M173.6 176.8h0M175.6 174.6h0M191.6 165.8h0M181.2 156.5h0M185.5 156.3h0M185.2 170.2h0M192.7 161.5h0M191.6 173.9h0M185.5 187.9h0M184.0 181.4h0M189.7 159.2h0M176.6 179.0h0M179.0 161.0h0M175.1 168.0h0M177.6 159.4h0M173.8 170.3h0M188.9 170.5h0M181.8 186.8h0M194.8 187.2h0M181.4 173.1h0M185.2 161.2h0M180.4 177.4h0M188.1 165.8h0M187.2 184.3h0M181.4 155.2h0M185.5 185.3h0M178.6 168.5h0M179.9 158.0h0M177.0 158.5h0M188.9 201.5h0M177.4 180.9h0M176.4 189.3h0M189.3 167.4h0M182.5 157.7h0M174.5 194.0h0M176.0 168.5h0M179.3 160.7h0M175.9 160.7h0M182.4 160.8h0M175.3 156.8h0M175.2 178.9h0M187.7 192.3h0M193.4 177.2h0M191.3 187.0h0M180.3 158.5h0M186.3 174.1h0M181.6 157.9h0M194.2 162.4h0M184.8 178.5h0M186.0 190.9h0M194.9 174.2h0M190.9 163.3h0M183.8 178.2h0M176.6 169.4h0M180.7 183.0h0M174.2 158.6h0M193.7 167.5h0M182.0 155.4h0M187.5 166.9h0M184.3 182.7h0M178.4 162.2h0M184.8 196.9h0M185.4 155.9h0M182.8 168.1h0M182.9 171.8h0M185.2 166.5h0M177.1 190.2h0M182.3 162.5h0M180.2 179.9h0M178.2 171.8h0M183.9 175.4h0M169.3 193.1h0M174.3 179.4h0M181.7 176.7h0M192.7 155.4h0M186.6 195.2h0M178.2 199.2h0M192.1 182.0h0M183.9 190.2h0M178.7 172.5h0M182.2 181.0h0M192.5 171.7h0M188.0 170.5h0M178.5 175.8h0M176.3 167.4h0M186.7 167.4h0M175.6 161.5h0M179.9 166.1h0M187.3 163.1h0M176.3 165.1h0M177.9 184.4h0M184.3 177.4h0M181.2 156.3h0M191.1 157.8h0M182.9 168.2h0M186.7 204.9h0M187.1 181.0h0M179.3 168.5h0M188.2 157.2h0M191.2 157.9h0M181.8 172.8h0M179.3 160.1h0M181.3 193.1h0M191.8 168.2h0M182.8 165.2h0M179.8 168.0h0M175.0 207.3h0M182.6 175.3h0M174.4 166.9h0M188.6 180.2h0M177.8 157.2h0M174.8 158.8h0M189.0 180.0h0M184.9 177.3h0M185.7 186.6h0M177.0 190.5h0M187.6 213.8h0M184.7 157.0h0M183.8 194.7h0M188.4 165.0h0M189.5 174.2h0M182.4 167.6h0M192.6 166.5h0M186.2 158.6h0M182.3 183.1h0M186.8 158.1h0M184.4 157.8h0M192.5 156.9h0M184.5 175.3h0M182.0 172.7h0M182.9 211.1h0M188.0 184.7h0M173.1 162.2h0M174.6 157.4h0M181.2 165.1h0M185.7 183.1h0M186.8 196.8h0M180.9 186.6h0M172.9 176.5h0M169.4 175.6h0M181.5 178.1h0M179.9 157.8h0M184.4 189.4h0M188.7 161.5h0M177.1 191.4h0M191.2 163.3h0M180.0 157.9h0M181.4 178.2h0M183.6 158.3h0M170.7 163.8h0M197.5 166.2h0M180.7 174.8h0M189.6 180.0h0M178.4 157.6h0M172.6 163.9h0M175.9 162.7h0M175.5 156.1h0M170.6 164.7h0M166.6 170.1h0M187.1 155.3h0M178.1 169.6h0M183.3 187.2h0M190.3 156.2h0M179.2 175.8h0M182.6 163.2h0M188.9 177.6h0M184.9 169.3h0M183.8 179.1h0M176.5 169.7h0M176.6 182.7h0M187.0 178.2h0M181.0 163.2h0M188.2 156.6h0M187.1 206.4h0M185.2 157.7h0M186.9 193.4h0M184.0 160.0h0M190.1 157.7h0M169.4 159.3h0M178.1 164.6h0M184.7 156.2h0M193.2 182.2h0M172.2 165.8h0M179.3 174.0h0M185.4 197.9h0M190.8 179.5h0M179.8 163.8h0M169.9 178.1h0M184.9 165.2h0M187.7 159.3h0M185.7 180.7h0M185.5 193.7h0M186.6 158.6h0M178.1 173.2h0M186.4 185.4h0M188.1 170.6h0M182.8 183.7h0M177.4 160.2h0M179.0 155.7h0M187.1 160.0h0M178.7 199.3h0M190.8 175.1h0M184.1 171.2h0M181.2 168.0h0M188.1 170.6h0M182.6 166.1h0M196.3 181.4h0M191.8 158.6h0M178.2 169.6h0M180.5 166.0h0M170.2 175.9h0M187.8 175.5h0M185.5 155.6h0M184.0 191.0h0M173.7 160.4h0M192.5 165.5h0M190.6 192.5h0M179.9 162.3h0M178.8 157.0h0M179.6 169.5h0M187.7 168.0h0M184.8 181.3h0M182.0 182.2h0M181.0 194.8h0M174.0 184.6h0M178.7 166.3h0M171.7 164.2h0M188.8 155.7h0M182.1 200.1h0M182.4 177.4h0M179.7 171.8h0M176.1 200.2h0M169.4 165.5h0M176.9 180.3h0M179.0 179.3h0M179.5 164.0h0M187.8 159.2h0M187.9 174.1h0M175.9 176.0h0M176.6 183.9h0M188.5 156.0h0M168.3 175.7h0M180.5 158.9h0M187.2 163.8h0M183.2 184.1h0M179.5 176.9h0M186.5 155.5h0M178.6 199.7h0M177.1 165.0h0M183.9 160.7h0M181.7 174.3h0M186.1 167.6h0M189.9 178.0h0M191.1 158.3h0M167.2 185.7h0M184.6 161.0h0M186.0 158.5h0M187.9 162.9h0M180.5 181.6h0M180.5 161.5h0M184.8 170.9h0M177.5 173.1h0M172.0 156.5h0M187.0 159.6h0M186.9 157.7h0M175.0 169.0h0M189.4 189.0h0M176.9 159.3h0M184.9 159.3h0M174.4 170.9h0M182.5 155.6h0M177.8 184.9h0M179.2 161.4h0M184.5 186.7h0M186.4 155.2h0M176.3 163.1h0M192.0 164.9h0M177.0 174.4h0M172.3 169.0h0M180.4 164.5h0M194.4 171.2h0M179.2 191.8h0M173.7 177.2h0M178.0 160.4h0M184.4 169.6h0M185.9 183.5h0M185.2 196.1h0M189.1 155.7h0M195.3 163.0h0M183.2 166.3h0M185.3 186.2h0M182.8 167.6h0M185.1 162.4h0M190.4 160.6h0M185.0 166.6h0M176.4 162.8h0M188.4 159.9h0M192.4 161.1h0M184.2 175.8h0M194.8 158.2h0M189.4 165.2h0M173.4 158.3h0M179.8 177.0h0M175.5 173.3h0M179.4 184.5h0M177.1 193.9h0M183.9 185.0h0M186.6 181.7h0M170.0 163.6h0M187.5 157.2h0M181.8 167.5h0M188.9 175.9h0M180.8 167.9h0M168.1 193.2h0M181.8 179.7h0M184.9 178.4h0M185.1 201.7h0M182.1 167.6h0M175.8 159.7h0M176.7 160.8h0M177.3 164.6h0M176.0 160.1h0M182.8 162.5h0M185.0 169.5h0M187.8 158.6h0M185.0 176.7h0M181.8 167.7h0M186.5 156.2h0M182.6 166.7h0M176.2 163.0h0M188.4 160.9h0M182.4 159.5h0M182.2 181.3h0M190.4 162.7h0M186.1 158.1h0M187.0 158.5h0M195.3 202.8h0M190.2 155.4h0M188.3 191.9h0M183.6 179.8h0M170.0 176.2h0M167.1 170.8h0M176.7 169.5h0M197.5 166.6h0M181.6 192.1h0M179.8 170.1h0M186.2 176.0h0M189.9 166.2h0M185.1 157.6h0M186.3 159.5h0M185.0 158.8h0M180.3 177.9h0M179.1 182.8h0M168.2 170.7h0M182.2 169.8h0M182.3 158.1h0M184.4 171.0h0M188.7 185.7h0M173.8 186.2h0M174.9 160.6h0M186.8 194.5h0M172.1 159.5h0M183.5 185.2h0M182.4 161.7h0M185.4 159.5h0M176.8 163.0h0M185.9 179.5h0M174.5 159.1h0M187.1 167.2h0M182.0 162.4h0M179.4 201.8h0M183.1 174.5h0M190.1 172.5h0M175.3 158.6h0M180.8 159.2h0M174.1 161.5h0M188.0 163.2h0M186.5 158.0h0M176.2 185.9h0M180.3 175.6h0M174.8 168.1h0M182.1 198.8h0M188.4 165.8h0M178.3 194.3h0M182.0 172.1h0M171.4 228.6h0M192.7 161.2h0M174.4 155.7h0M182.7 192.1h0M179.6 175.4h0M188.6 161.9h0M180.4 175.6h0M179.3 160.4h0M173.4 164.6h0M189.6 176.9h0M170.8 173.0h0M191.8 163.4h0M190.2 174.7h0M193.7 174.6h0M176.2 172.1h0M177.5 165.4h0M183.4 167.0h0M189.3 173.6h0M175.7 179.4h0M190.1 192.4h0M175.1 174.7h0M186.9 167.7h0M182.7 163.5h0M183.7 200.1h0M182.1 157.5h0M186.9 164.6h0M171.4 169.8h0M189.0 181.0h0M178.9 163.7h0M181.2 168.6h0M177.5 176.8h0M186.7 166.4h0M185.1 156.2h0M180.2 155.8h0M176.6 181.1h0M194.3 189.4h0M181.1 169.1h0M186.2 159.2h0M180.7 167.4h0M189.5 165.5h0M191.4 190.3h0M189.5 183.8h0M193.2 167.1h0M193.6 156.5h0M169.5 156.2h0M178.8 159.0h0M175.2 173.4h0M187.1 174.3h0M184.8 189.5h0M175.5 168.6h0M193.3 172.8h0M184.1 156.4h0M193.4 173.9h0M179.2 155.3h0M188.5 186.8h0M191.2 161.2h0M181.0 158.5h0M185.4 189.5h0M183.1 161.3h0M180.8 172.6h0M185.3 223.4h0M170.9 175.6h0M187.7 162.1h0M183.8 176.0h0M175.3 184.2h0M187.6 158.5h0M170.6 158.0h0M175.8 168.3h0M190.6 163.2h0M186.5 160.3h0M178.9 191.1h0M192.2 189.7h0M198.9 175.2h0M206.8 156.5h0M201.4 189.6h0M200.6 181.3h0M195.2 208.2h0M194.0 211.0h0M199.4 165.9h0M203.7 169.5h0M206.3 210.3h0M199.8 193.3h0M204.2 188.1h0M197.3 210.9h0M194.4 190.7h0M195.9 200.0h0M201.5 214.0h0M197.9 197.8h0M199.1 157.1h0M195.0 156.7h0M205.8 212.5h0M199.1 187.6h0M203.4 169.3h0M199.9 161.3h0M195.8 163.2h0M200.8 198.8h0M207.9 187.9h0M206.1 159.0h0M194.7 163.4h0M200.5 164.8h0M195.8 198.4h0M207.3 178.4h0M202.2 157.9h0M205.4 163.8h0M204.2 171.3h0M200.7 157.3h0M201.9 209.6h0M208.9 177.8h0M204.9 165.8h0M198.4 194.9h0M197.6 212.8h0M196.4 192.9h0M197.8 209.0h0M200.6 157.2h0M202.4 175.0h0M204.7 191.4h0M198.5 194.5h0M206.6 172.1h0M201.5 172.6h0M202.2 173.2h0M195.9 174.7h0M194.9 210.0h0M201.1 178.4h0M201.8 188.2h0M208.9 208.7h0M204.2 203.9h0M197.8 199.4h0M203.2 200.5h0M194.7 164.7h0M199.3 170.0h0M207.8 208.2h0M203.0 211.1h0M207.6 171.9h0M208.6 195.7h0M206.5 211.1h0M197.7 169.2h0M206.8 187.3h0M205.9 191.9h0M194.9 183.9h0M206.7 166.1h0M198.2 208.0h0M197.8 190.8h0M208.8 210.1h0M194.2 156.8h0M195.2 197.5h0M209.3 161.1h0M197.1 159.4h0M199.9 172.0h0M196.3 205.3h0M194.1 168.7h0M198.0 213.4h0M198.4 181.7h0M195.4 188.5h0M204.5 213.5h0M197.6 190.8h0M207.0 194.7h0M201.9 213.3h0M205.7 207.5h0M196.8 166.7h0M201.6 195.7h0M206.0 188.8h0M204.9 205.2h0M208.2 160.0h0M199.0 190.6h0M200.5 199.8h0M204.9 181.9h0M199.9 185.9h0M208.5 211.5h0M196.3 160.0h0M201.3 197.8h0M198.1 169.6h0M195.1 205.2h0M198.0 200.2h0M207.0 178.0h0M204.5 208.6h0M201.5 182.2h0M209.1 157.1h0M203.7 170.1h0M196.7 174.8h0M203.4 162.4h0M209.6 191.7h0M204.2 211.2h0M164.9 171.6h0M171.2 166.0h0M162.0 175.3h0M157.1 170.2h0M166.7 191.5h0M151.1 157.5h0M155.5 190.3h0M161.3 172.5h0M167.1 173.1h0M165.5 170.6h0M152.0 172.0h0M172.0 160.2h0M150.7 165.3h0M152.9 180.4h0M161.0 171.6h0M165.7 185.1h0M157.0 164.5h0M162.7 185.7h0M160.9 186.7h0M163.7 174.4h0M155.7 174.3h0M170.8 170.6h0M167.4 186.0h0M150.5 181.1h0M151.1 162.0h0M166.5 183.6h0M158.2 161.9h0M171.2 170.8h0M156.7 188.0h0M158.5 181.8h0M155.0 166.1h0M163.0 166.8h0M154.9 165.0h0M167.3 159.1h0M170.4 187.5h0M153.1 173.2h0M158.3 170.2h0M171.0 159.7h0M152.1 190.2h0M171.5 168.8h0M153.7 176.1h0M155.3 164.0h0M167.9 166.3h0M166.0 171.6h0M157.5 166.9h0M164.1 182.4h0M159.6 157.3h0M150.4 190.5h0M160.4 166.2h0M167.8 162.5h0M165.6 192.5h0M184.7 192.3h0M181.6 225.7h0M195.0 202.2h0M188.0 199.7h0M174.2 211.0h0M181.3 226.6h0M164.5 193.6h0M172.7 224.0h0M182.1 227.8h0M185.4 225.9h0M186.7 220.8h0M174.1 221.3h0M180.4 198.1h0M180.5 233.3h0M185.7 229.3h0M186.7 195.6h0M179.8 207.6h0M192.0 195.3h0M172.1 197.4h0M183.2 236.2h0M178.6 233.6h0M178.7 199.7h0M206.4 213.9h0M179.7 200.8h0M194.1 210.3h0M181.2 232.0h0M176.3 229.1h0M192.8 237.7h0M171.8 230.6h0M178.5 214.8h0M181.5 204.9h0M170.7 231.1h0M196.6 203.4h0M178.7 196.9h0M187.1 231.0h0M173.8 202.9h0M182.3 227.0h0M182.0 194.7h0M192.8 206.1h0M185.1 205.2h0M189.7 217.2h0M169.4 250.0h0M191.9 160.9h0M178.1 240.5h0M203.7 255.8h0M158.7 250.6h0M199.9 189.7h0M190.6 214.1h0M165.0 188.7h0M184.2 255.7h0M151.2 247.4h0M206.3 196.1h0M202.7 199.8h0" stroke="#000" stroke-width="2.40" stroke-linecap="round" fill="none"/>
<circle cx="185.8" cy="161.0" r="1.1" fill="#f00"/>
</g>
<polyline points="245.8,252.0 246.3,168.7 246.7,192.6 247.3,214.3 248.4,227.4 249.5,235.0 251.7,239.3 255.0,241.5 260.4,243.0 269.1,243.7 283.0,244.3 300.0,244.6 320.4,245.0" fill="none" stroke="#7ef07e" stroke-width="0.8" stroke-linejoin="round"/>
<polyline points="356.3,154.6 356.6,178.5 357.4,199.7 358.5,215.6 359.8,228.8 361.4,238.1 363.3,240.7 364.6,243.4 365.9,247.4 367.2,250.0 368.6,254.0 369.9,258.2 380.0,258.4 410.0,258.8 412.0,259.6 430.8,259.8" fill="none" stroke="#f77" stroke-width="0.7" stroke-linejoin="round"/>
<polyline points="467.0,190.7 467.9,185.2 468.8,198.3 469.9,217.8 471.0,204.8 471.8,226.5 472.7,209.1 473.8,190.7 474.9,207.0 476.0,198.3 477.0,220.0 478.1,192.8 479.2,186.3 480.3,226.5 481.4,211.3 482.5,193.9 483.6,201.5 484.7,191.7 485.7,208.0 486.8,212.4 487.9,215.7 489.0,224.3 490.1,213.5 491.2,216.7 492.3,192.8 493.3,214.6 494.4,226.5 495.5,216.7 496.6,241.7 497.7,204.8 498.8,222.2 499.9,216.7 501.0,221.1 501.8,223.5 503.1,229.0 504.5,221.2 505.6,234.6 506.7,225.7 507.8,231.2 508.9,217.9 510.5,215.7 511.6,225.7 512.9,224.6 514.0,232.4 515.1,229.0 516.3,243.5 517.4,230.1 518.5,212.3 519.4,197.8 520.5,249.1 521.6,191.2 522.7,214.5 523.8,226.8 524.9,211.2 526.1,219.0 527.2,206.7 528.3,225.7 529.4,209.0 530.5,219.0 531.6,230.1 532.7,205.6 533.9,213.4 535.0,224.6 536.1,217.9 537.2,232.4 538.3,239.0 539.4,244.6 540.3,254.6 541.2,256.0" fill="none" stroke="#444" stroke-width="0.7" stroke-linejoin="round"/>
<g transform="matrix(1.0,0,0,1,3.0,139.0)">
<line x1="75.60" y1="111.10" x2="42.90" y2="85.10" stroke="#b8b8b8" stroke-width="0.4" stroke-dasharray="0.6 1"/>
<line x1="38.05" y1="108.00" x2="80.45" y2="88.20" stroke="#b8b8b8" stroke-width="0.4" stroke-dasharray="0.6 1"/>
<line x1="42.90" y1="85.10" x2="42.90" y2="26.50" stroke="#b8b8b8" stroke-width="0.4" stroke-dasharray="0.6 1"/>
<line x1="80.45" y1="88.20" x2="80.45" y2="29.60" stroke="#b8b8b8" stroke-width="0.4" stroke-dasharray="0.6 1"/>
<line x1="21.70" y1="80.35" x2="64.10" y2="60.55" stroke="#b8b8b8" stroke-width="0.4" stroke-dasharray="0.6 1"/>
<line x1="64.10" y1="60.55" x2="96.80" y2="86.55" stroke="#b8b8b8" stroke-width="0.4" stroke-dasharray="0.6 1"/>
<line x1="21.70" y1="65.70" x2="64.10" y2="45.90" stroke="#b8b8b8" stroke-width="0.4" stroke-dasharray="0.6 1"/>
<line x1="64.10" y1="45.90" x2="96.80" y2="71.90" stroke="#b8b8b8" stroke-width="0.4" stroke-dasharray="0.6 1"/>
<line x1="21.70" y1="51.05" x2="64.10" y2="31.25" stroke="#b8b8b8" stroke-width="0.4" stroke-dasharray="0.6 1"/>
<line x1="64.10" y1="31.25" x2="96.80" y2="57.25" stroke="#b8b8b8" stroke-width="0.4" stroke-dasharray="0.6 1"/>
<line x1="21.70" y1="95.00" x2="64.10" y2="75.20" stroke="#3c3c3c" stroke-width="0.55"/>
<line x1="64.10" y1="75.20" x2="96.80" y2="101.20" stroke="#3c3c3c" stroke-width="0.55"/>
<line x1="64.10" y1="75.20" x2="64.10" y2="16.60" stroke="#3c3c3c" stroke-width="0.55"/>
<g opacity="0.8">
<path class="j24" d="M63.8 49.4 65.3 48.1 64.1 48.6 62.6 50z"/>
<path class="j23" d="M62.2 50.6 63.8 49.4 62.6 50 61.1 51.3z"/>
<path class="j27" d="M64.9 48.4 66.4 47.4 65.3 48.1 63.8 49.4z"/>
<path class="j22" d="M60.7 52 62.2 50.6 61.1 51.3 59.6 52.7z"/>
<path class="j26" d="M63.4 49.5 64.9 48.4 63.8 49.4 62.2 50.6z"/>
<path class="j31" d="M66.1 47.1 67.6 46.5 66.4 47.4 64.9 48.4z"/>
<path class="j21" d="M59.2 53.5 60.7 52 59.6 52.7 58 54.1z"/>
<path class="j25" d="M61.9 50.8 63.4 49.5 62.2 50.6 60.7 52z"/>
<path class="j31" d="M64.6 47.9 66.1 47.1 64.9 48.4 63.4 49.5z"/>
<path class="j35" d="M67.3 45.8 68.8 45.7 67.6 46.5 66.1 47.1z"/>
<path class="j19" d="M57.7 55 59.2 53.5 58 54.1 56.5 55.5z"/>
<path class="j24" d="M60.4 52.4 61.9 50.8 60.7 52 59.2 53.5z"/>
<path class="j30" d="M63.1 49.1 64.6 47.9 63.4 49.5 61.9 50.8z"/>
<path class="j35" d="M65.7 46.2 67.3 45.8 66.1 47.1 64.6 47.9z"/>
<path class="j18" d="M56.2 56.6 57.7 55 56.5 55.5 55 56.9z"/>
<path class="j38" d="M68.4 45 69.9 45.4 68.8 45.7 67.3 45.8z"/>
<path class="j22" d="M58.9 54.1 60.4 52.4 59.2 53.5 57.7 55z"/>
<path class="j28" d="M61.5 50.9 63.1 49.1 61.9 50.8 60.4 52.4z"/>
<path class="j35" d="M64.2 47.3 65.7 46.2 64.6 47.9 63.1 49.1z"/>
<path class="j16" d="M54.7 58.1 56.2 56.6 55 56.9 53.5 58.3z"/>
<path class="j39" d="M66.9 45 68.4 45 67.3 45.8 65.7 46.2z"/>
<path class="j20" d="M57.3 56 58.9 54.1 57.7 55 56.2 56.6z"/>
<path class="j40" d="M69.6 45 71.1 45.7 69.9 45.4 68.4 45z"/>
<path class="j26" d="M60 53 61.5 50.9 60.4 52.4 58.9 54.1z"/>
<path class="j33" d="M62.7 49.3 64.2 47.3 63.1 49.1 61.5 50.9z"/>
<path class="j15" d="M53.2 59.5 54.7 58.1 53.5 58.3 52 59.6z"/>
<path class="j39" d="M65.4 46.1 66.9 45 65.7 46.2 64.2 47.3z"/>
<path class="j19" d="M55.8 57.8 57.3 56 56.2 56.6 54.7 58.1z"/>
<path class="j42" d="M68.1 44.9 69.6 45 68.4 45 66.9 45z"/>
<path class="j24" d="M58.5 55.2 60 53 58.9 54.1 57.3 56z"/>
<path class="j40" d="M70.8 46.3 72.3 47 71.1 45.7 69.6 45z"/>
<path class="j31" d="M61.2 51.8 62.7 49.3 61.5 50.9 60 53z"/>
<path class="j14" d="M51.6 60.9 53.2 59.5 52 59.6 50.5 60.9z"/>
<path class="j38" d="M63.9 48.1 65.4 46.1 64.2 47.3 62.7 49.3z"/>
<path class="j17" d="M54.3 59.4 55.8 57.8 54.7 58.1 53.2 59.5z"/>
<path class="j42" d="M66.6 45.9 68.1 44.9 66.9 45 65.4 46.1z"/>
<path class="j21" d="M57 57.4 58.5 55.2 57.3 56 55.8 57.8z"/>
<path class="j42" d="M69.2 46.3 70.8 46.3 69.6 45 68.1 44.9z"/>
<path class="j27" d="M59.7 54.5 61.2 51.8 60 53 58.5 55.2z"/>
<path class="j13" d="M50.1 62.2 51.6 60.9 50.5 60.9 49 62.1z"/>
<path class="j39" d="M71.9 48.7 73.4 49 72.3 47 70.8 46.3z"/>
<path class="j35" d="M62.4 51 63.9 48.1 62.7 49.3 61.2 51.8z"/>
<path class="j16" d="M52.8 60.9 54.3 59.4 53.2 59.5 51.6 60.9z"/>
<path class="j41" d="M65 48 66.6 45.9 65.4 46.1 63.9 48.1z"/>
<path class="j19" d="M55.5 59.3 57 57.4 55.8 57.8 54.3 59.4z"/>
<path class="j43" d="M67.7 47.2 69.2 46.3 68.1 44.9 66.6 45.9z"/>
<path class="j24" d="M58.2 57.2 59.7 54.5 58.5 55.2 57 57.4z"/>
<path class="j11" d="M48.6 63.5 50.1 62.2 49 62.1 47.4 63.4z"/>
<path class="j40" d="M70.4 48.9 71.9 48.7 70.8 46.3 69.2 46.3z"/>
<path class="j31" d="M60.9 54.2 62.4 51 61.2 51.8 59.7 54.5z"/>
<path class="j14" d="M51.3 62.3 52.8 60.9 51.6 60.9 50.1 62.2z"/>
<path class="j36" d="M73.1 51.5 74.6 51.4 73.4 49 71.9 48.7z"/>
<path class="j37" d="M63.5 51.1 65 48 63.9 48.1 62.4 51z"/>
<path class="j17" d="M54 61.1 55.5 59.3 54.3 59.4 52.8 60.9z"/>
<path class="j41" d="M66.2 49.3 67.7 47.2 66.6 45.9 65 48z"/>
<path class="j21" d="M56.7 59.4 58.2 57.2 57 57.4 55.5 59.3z"/>
<path class="j10" d="M47.1 64.8 48.6 63.5 47.4 63.4 45.9 64.6z"/>
<path class="j41" d="M68.9 49.9 70.4 48.9 69.2 46.3 67.7 47.2z"/>
<path class="j26" d="M59.3 57.2 60.9 54.2 59.7 54.5 58.2 57.2z"/>
<path class="j13" d="M49.8 63.7 51.3 62.3 50.1 62.2 48.6 63.5z"/>
<path class="j37" d="M71.6 52 73.1 51.5 71.9 48.7 70.4 48.9z"/>
<path class="j33" d="M62 54.5 63.5 51.1 62.4 51 60.9 54.2z"/>
<path class="j16" d="M52.5 62.6 54 61.1 52.8 60.9 51.3 62.3z"/>
<path class="j33" d="M74.3 54.3 75.8 53.8 74.6 51.4 73.1 51.5z"/>
<path class="j38" d="M64.7 52.2 66.2 49.3 65 48 63.5 51.1z"/>
<path class="j19" d="M55.1 61.4 56.7 59.4 55.5 59.3 54 61.1z"/>
<path class="j10" d="M45.6 66 47.1 64.8 45.9 64.6 44.4 65.8z"/>
<path class="j39" d="M67.4 51.8 68.9 49.9 67.7 47.2 66.2 49.3z"/>
<path class="j23" d="M57.8 59.8 59.3 57.2 58.2 57.2 56.7 59.4z"/>
<path class="j12" d="M48.3 65 49.8 63.7 48.6 63.5 47.1 64.8z"/>
<path class="j37" d="M70.1 53.1 71.6 52 70.4 48.9 68.9 49.9z"/>
<path class="j28" d="M60.5 57.7 62 54.5 60.9 54.2 59.3 57.2z"/>
<path class="j14" d="M50.9 64 52.5 62.6 51.3 62.3 49.8 63.7z"/>
<path class="j33" d="M72.8 55.1 74.3 54.3 73.1 51.5 71.6 52z"/>
<path class="j33" d="M63.2 55.5 64.7 52.2 63.5 51.1 62 54.5z"/>
<path class="j17" d="M53.6 63.1 55.1 61.4 54 61.1 52.5 62.6z"/>
<path class="j30" d="M75.4 56.7 76.9 55.9 75.8 53.8 74.3 54.3z"/>
<path class="j9" d="M44.1 67.2 45.6 66 44.4 65.8 42.9 66.9z"/>
<path class="j36" d="M65.9 54.4 67.4 51.8 66.2 49.3 64.7 52.2z"/>
<path class="j20" d="M56.3 62 57.8 59.8 56.7 59.4 55.1 61.4z"/>
<path class="j11" d="M46.8 66.2 48.3 65 47.1 64.8 45.6 66z"/>
<path class="j36" d="M68.6 54.7 70.1 53.1 68.9 49.9 67.4 51.8z"/>
<path class="j24" d="M59 60.4 60.5 57.7 59.3 57.2 57.8 59.8z"/>
<path class="j13" d="M49.4 65.3 50.9 64 49.8 63.7 48.3 65z"/>
<path class="j33" d="M71.2 56.2 72.8 55.1 71.6 52 70.1 53.1z"/>
<path class="j28" d="M61.7 58.6 63.2 55.5 62 54.5 60.5 57.7z"/>
<path class="j15" d="M52.1 64.5 53.6 63.1 52.5 62.6 50.9 64z"/>
<path class="j30" d="M73.9 57.6 75.4 56.7 74.3 54.3 72.8 55.1z"/>
<path class="j8" d="M42.6 68.3 44.1 67.2 42.9 66.9 41.4 68.1z"/>
<path class="j32" d="M64.4 57.2 65.9 54.4 64.7 52.2 63.2 55.5z"/>
<path class="j18" d="M54.8 63.7 56.3 62 55.1 61.4 53.6 63.1z"/>
<path class="j28" d="M76.6 58.6 78.1 57.6 76.9 55.9 75.4 56.7z"/>
<path class="j10" d="M45.2 67.4 46.8 66.2 45.6 66 44.1 67.2z"/>
<path class="j33" d="M67 56.9 68.6 54.7 67.4 51.8 65.9 54.4z"/>
<path class="j21" d="M57.5 62.6 59 60.4 57.8 59.8 56.3 62z"/>
<path class="j12" d="M47.9 66.6 49.4 65.3 48.3 65 46.8 66.2z"/>
<path class="j32" d="M69.7 57.6 71.2 56.2 70.1 53.1 68.6 54.7z"/>
<path class="j24" d="M60.2 61.3 61.7 58.6 60.5 57.7 59 60.4z"/>
<path class="j14" d="M50.6 65.9 52.1 64.5 50.9 64 49.4 65.3z"/>
<path class="j30" d="M72.4 58.7 73.9 57.6 72.8 55.1 71.2 56.2z"/>
<path class="j7" d="M41 69.5 42.6 68.3 41.4 68.1 39.9 69.2z"/>
<path class="j28" d="M62.8 60 64.4 57.2 63.2 55.5 61.7 58.6z"/>
<path class="j16" d="M53.3 65.2 54.8 63.7 53.6 63.1 52.1 64.5z"/>
<path class="j28" d="M75.1 59.6 76.6 58.6 75.4 56.7 73.9 57.6z"/>
<path class="j9" d="M43.7 68.6 45.2 67.4 44.1 67.2 42.6 68.3z"/>
<path class="j30" d="M65.5 59.3 67 56.9 65.9 54.4 64.4 57.2z"/>
<path class="j18" d="M56 64.4 57.5 62.6 56.3 62 54.8 63.7z"/>
<path class="j27" d="M77.8 60.1 79.3 59.1 78.1 57.6 76.6 58.6z"/>
<path class="j11" d="M46.4 67.8 47.9 66.6 46.8 66.2 45.2 67.4z"/>
<path class="j30" d="M68.2 59.4 69.7 57.6 68.6 54.7 67 56.9z"/>
<path class="j21" d="M58.6 63.4 60.2 61.3 59 60.4 57.5 62.6z"/>
<path class="j13" d="M49.1 67.2 50.6 65.9 49.4 65.3 47.9 66.6z"/>
<path class="j28" d="M70.9 60 72.4 58.7 71.2 56.2 69.7 57.6z"/>
<path class="j6" d="M39.5 70.6 41 69.5 39.9 69.2 38.4 70.3z"/>
<path class="j24" d="M61.3 62.3 62.8 60 61.7 58.6 60.2 61.3z"/>
<path class="j15" d="M51.8 66.6 53.3 65.2 52.1 64.5 50.6 65.9z"/>
<path class="j27" d="M73.6 60.7 75.1 59.6 73.9 57.6 72.4 58.7z"/>
<path class="j8" d="M42.2 69.8 43.7 68.6 42.6 68.3 41 69.5z"/>
<path class="j26" d="M64 61.5 65.5 59.3 64.4 57.2 62.8 60z"/>
<path class="j16" d="M54.4 66 56 64.4 54.8 63.7 53.3 65.2z"/>
<path class="j26" d="M76.3 61.2 77.8 60.1 76.6 58.6 75.1 59.6z"/>
<path class="j10" d="M44.9 69 46.4 67.8 45.2 67.4 43.7 68.6z"/>
<path class="j27" d="M66.7 61.3 68.2 59.4 67 56.9 65.5 59.3z"/>
<path class="j19" d="M57.1 65.2 58.6 63.4 57.5 62.6 56 64.4z"/>
<path class="j26" d="M78.9 61.5 80.4 60.5 79.3 59.1 77.8 60.1z"/>
<path class="j12" d="M47.6 68.4 49.1 67.2 47.9 66.6 46.4 67.8z"/>
<path class="j27" d="M69.4 61.6 70.9 60 69.7 57.6 68.2 59.4z"/>
<path class="j5" d="M38 71.7 39.5 70.6 38.4 70.3 36.8 71.3z"/>
<path class="j21" d="M59.8 64.3 61.3 62.3 60.2 61.3 58.6 63.4z"/>
<path class="j13" d="M50.3 67.9 51.8 66.6 50.6 65.9 49.1 67.2z"/>
<path class="j26" d="M72.1 62 73.6 60.7 72.4 58.7 70.9 60z"/>
<path class="j7" d="M40.7 70.9 42.2 69.8 41 69.5 39.5 70.6z"/>
<path class="j23" d="M62.5 63.5 64 61.5 62.8 60 61.3 62.3z"/>
<path class="j15" d="M52.9 67.4 54.4 66 53.3 65.2 51.8 66.6z"/>
<path class="j25" d="M74.7 62.4 76.3 61.2 75.1 59.6 73.6 60.7z"/>
<path class="j9" d="M43.4 70.2 44.9 69 43.7 68.6 42.2 69.8z"/>
<path class="j25" d="M65.2 63.1 66.7 61.3 65.5 59.3 64 61.5z"/>
<path class="j17" d="M55.6 66.8 57.1 65.2 56 64.4 54.4 66z"/>
<path class="j25" d="M77.4 62.7 78.9 61.5 77.8 60.1 76.3 61.2z"/>
<path class="j11" d="M46.1 69.6 47.6 68.4 46.4 67.8 44.9 69z"/>
<path class="j25" d="M67.9 63.1 69.4 61.6 68.2 59.4 66.7 61.3z"/>
<path class="j5" d="M36.5 72.8 38 71.7 36.8 71.3 35.3 72.4z"/>
<path class="j19" d="M58.3 66.1 59.8 64.3 58.6 63.4 57.1 65.2z"/>
<path class="j25" d="M80.1 62.9 81.6 61.7 80.4 60.5 78.9 61.5z"/>
<path class="j12" d="M48.7 69.1 50.3 67.9 49.1 67.2 47.6 68.4z"/>
<path class="j25" d="M70.5 63.4 72.1 62 70.9 60 69.4 61.6z"/>
<path class="j7" d="M39.2 72.1 40.7 70.9 39.5 70.6 38 71.7z"/>
<path class="j21" d="M61 65.3 62.5 63.5 61.3 62.3 59.8 64.3z"/>
<path class="j14" d="M51.4 68.6 52.9 67.4 51.8 66.6 50.3 67.9z"/>
<path class="j24" d="M73.2 63.7 74.7 62.4 73.6 60.7 72.1 62z"/>
<path class="j8" d="M41.9 71.4 43.4 70.2 42.2 69.8 40.7 70.9z"/>
<path class="j22" d="M63.7 64.8 65.2 63.1 64 61.5 62.5 63.5z"/>
<path class="j15" d="M54.1 68.1 55.6 66.8 54.4 66 52.9 67.4z"/>
<path class="j24" d="M75.9 64 77.4 62.7 76.3 61.2 74.7 62.4z"/>
<path class="j10" d="M44.5 70.8 46.1 69.6 44.9 69 43.4 70.2z"/>
<path class="j23" d="M66.3 64.7 67.9 63.1 66.7 61.3 65.2 63.1z"/>
<path class="j4" d="M35 73.8 36.5 72.8 35.3 72.4 33.8 73.4z"/>
<path class="j17" d="M56.8 67.5 58.3 66.1 57.1 65.2 55.6 66.8z"/>
<path class="j24" d="M78.6 64.2 80.1 62.9 78.9 61.5 77.4 62.7z"/>
<path class="j12" d="M47.2 70.3 48.7 69.1 47.6 68.4 46.1 69.6z"/>
<path class="j23" d="M69 64.8 70.5 63.4 69.4 61.6 67.9 63.1z"/>
<path class="j6" d="M37.7 73.2 39.2 72.1 38 71.7 36.5 72.8z"/>
<path class="j19" d="M59.5 66.9 61 65.3 59.8 64.3 58.3 66.1z"/>
<path class="j24" d="M81.3 64.2 82.8 63 81.6 61.7 80.1 62.9z"/>
<path class="j13" d="M49.9 69.8 51.4 68.6 50.3 67.9 48.7 69.1z"/>
<path class="j23" d="M71.7 65.1 73.2 63.7 72.1 62 70.5 63.4z"/>
<path class="j8" d="M40.3 72.5 41.9 71.4 40.7 70.9 39.2 72.1z"/>
<path class="j20" d="M62.1 66.4 63.7 64.8 62.5 63.5 61 65.3z"/>
<path class="j14" d="M52.6 69.4 54.1 68.1 52.9 67.4 51.4 68.6z"/>
<path class="j23" d="M74.4 65.5 75.9 64 74.7 62.4 73.2 63.7z"/>
<path class="j9" d="M43 71.9 44.5 70.8 43.4 70.2 41.9 71.4z"/>
<path class="j21" d="M64.8 66.1 66.3 64.7 65.2 63.1 63.7 64.8z"/>
<path class="j3" d="M33.5 74.9 35 73.8 33.8 73.4 32.3 74.4z"/>
<path class="j16" d="M55.3 68.9 56.8 67.5 55.6 66.8 54.1 68.1z"/>
<path class="j23" d="M77.1 65.7 78.6 64.2 77.4 62.7 75.9 64z"/>
<path class="j11" d="M45.7 71.5 47.2 70.3 46.1 69.6 44.5 70.8z"/>
<path class="j22" d="M67.5 66.2 69 64.8 67.9 63.1 66.3 64.7z"/>
<path class="j5" d="M36.1 74.3 37.7 73.2 36.5 72.8 35 73.8z"/>
<path class="j17" d="M58 68.3 59.5 66.9 58.3 66.1 56.8 67.5z"/>
<path class="j23" d="M79.8 65.8 81.3 64.2 80.1 62.9 78.6 64.2z"/>
<path class="j12" d="M48.4 71 49.9 69.8 48.7 69.1 47.2 70.3z"/>
<path class="j22" d="M70.2 66.5 71.7 65.1 70.5 63.4 69 64.8z"/>
<path class="j7" d="M38.8 73.6 40.3 72.5 39.2 72.1 37.7 73.2z"/>
<path class="j19" d="M60.6 67.9 62.1 66.4 61 65.3 59.5 66.9z"/>
<path class="j23" d="M82.4 65.6 84 64.3 82.8 63 81.3 64.2z"/>
<path class="j13" d="M51.1 70.6 52.6 69.4 51.4 68.6 49.9 69.8z"/>
<path class="j21" d="M72.9 67 74.4 65.5 73.2 63.7 71.7 65.1z"/>
<path class="j8" d="M41.5 73.1 43 71.9 41.9 71.4 40.3 72.5z"/>
<path class="j20" d="M63.3 67.6 64.8 66.1 63.7 64.8 62.1 66.4z"/>
<path class="j3" d="M32 76 33.5 74.9 32.3 74.4 30.8 75.4z"/>
<path class="j15" d="M53.8 70.1 55.3 68.9 54.1 68.1 52.6 69.4z"/>
<path class="j21" d="M75.6 67.4 77.1 65.7 75.9 64 74.4 65.5z"/>
<path class="j10" d="M44.2 72.6 45.7 71.5 44.5 70.8 43 71.9z"/>
<path class="j20" d="M66 67.5 67.5 66.2 66.3 64.7 64.8 66.1z"/>
<path class="j4" d="M34.6 75.4 36.1 74.3 35 73.8 33.5 74.9z"/>
<path class="j16" d="M56.4 69.6 58 68.3 56.8 67.5 55.3 68.9z"/>
<path class="j21" d="M78.2 67.6 79.8 65.8 78.6 64.2 77.1 65.7z"/>
<path class="j11" d="M46.9 72.2 48.4 71 47.2 70.3 45.7 71.5z"/>
<path class="j20" d="M68.7 67.8 70.2 66.5 69 64.8 67.5 66.2z"/>
<path class="j6" d="M37.3 74.8 38.8 73.6 37.7 73.2 36.1 74.3z"/>
<path class="j17" d="M59.1 69.2 60.6 67.9 59.5 66.9 58 68.3z"/>
<path class="j22" d="M80.9 67.4 82.4 65.6 81.3 64.2 79.8 65.8z"/>
<path class="j12" d="M49.6 71.7 51.1 70.6 49.9 69.8 48.4 71z"/>
<path class="j20" d="M71.4 68.5 72.9 67 71.7 65.1 70.2 66.5z"/>
<path class="j8" d="M40 74.2 41.5 73.1 40.3 72.5 38.8 73.6z"/>
<path class="j18" d="M61.8 68.9 63.3 67.6 62.1 66.4 60.6 67.9z"/>
<path class="j23" d="M83.6 66.9 85.1 65.4 84 64.3 82.4 65.6z"/>
<path class="j2" d="M30.4 77 32 76 30.8 75.4 29.3 76.4z"/>
<path class="j14" d="M52.2 71.3 53.8 70.1 52.6 69.4 51.1 70.6z"/>
<path class="j20" d="M74 69.2 75.6 67.4 74.4 65.5 72.9 67z"/>
<path class="j9" d="M42.7 73.7 44.2 72.6 43 71.9 41.5 73.1z"/>
<path class="j19" d="M64.5 68.8 66 67.5 64.8 66.1 63.3 67.6z"/>
<path class="j4" d="M33.1 76.5 34.6 75.4 33.5 74.9 32 76z"/>
<path class="j15" d="M54.9 70.8 56.4 69.6 55.3 68.9 53.8 70.1z"/>
<path class="j19" d="M76.7 69.6 78.2 67.6 77.1 65.7 75.6 67.4z"/>
<path class="j10" d="M45.4 73.3 46.9 72.2 45.7 71.5 44.2 72.6z"/>
<path class="j19" d="M67.2 69.1 68.7 67.8 67.5 66.2 66 67.5z"/>
<path class="j5" d="M35.8 75.9 37.3 74.8 36.1 74.3 34.6 75.4z"/>
<path class="j16" d="M57.6 70.5 59.1 69.2 58 68.3 56.4 69.6z"/>
<path class="j20" d="M79.4 69.4 80.9 67.4 79.8 65.8 78.2 67.6z"/>
<path class="j11" d="M48 72.9 49.6 71.7 48.4 71 46.9 72.2z"/>
<path class="j19" d="M69.8 69.8 71.4 68.5 70.2 66.5 68.7 67.8z"/>
<path class="j7" d="M38.5 75.4 40 74.2 38.8 73.6 37.3 74.8z"/>
<path class="j17" d="M60.3 70.2 61.8 68.9 60.6 67.9 59.1 69.2z"/>
<path class="j21" d="M82.1 68.8 83.6 66.9 82.4 65.6 80.9 67.4z"/>
<path class="j2" d="M28.9 78 30.4 77 29.3 76.4 27.8 77.4z"/>
<path class="j13" d="M50.7 72.4 52.2 71.3 51.1 70.6 49.6 71.7z"/>
<path class="j18" d="M72.5 70.8 74 69.2 72.9 67 71.4 68.5z"/>
<path class="j8" d="M41.2 74.9 42.7 73.7 41.5 73.1 40 74.2z"/>
<path class="j18" d="M63 70.1 64.5 68.8 63.3 67.6 61.8 68.9z"/>
<path class="j22" d="M84.8 68 86.3 66.5 85.1 65.4 83.6 66.9z"/>
<path class="j3" d="M31.6 77.6 33.1 76.5 32 76 30.4 77z"/>
<path class="j14" d="M53.4 72 54.9 70.8 53.8 70.1 52.2 71.3z"/>
<path class="j17" d="M75.2 71.7 76.7 69.6 75.6 67.4 74 69.2z"/>
<path class="j9" d="M43.9 74.4 45.4 73.3 44.2 72.6 42.7 73.7z"/>
<path class="j18" d="M65.7 70.3 67.2 69.1 66 67.5 64.5 68.8z"/>
<path class="j4" d="M34.3 77 35.8 75.9 34.6 75.4 33.1 76.5z"/>
<path class="j15" d="M56.1 71.6 57.6 70.5 56.4 69.6 54.9 70.8z"/>
<path class="j17" d="M77.9 71.8 79.4 69.4 78.2 67.6 76.7 69.6z"/>
<path class="j11" d="M46.5 74 48 72.9 46.9 72.2 45.4 73.3z"/>
<path class="j18" d="M68.3 70.9 69.8 69.8 68.7 67.8 67.2 69.1z"/>
<path class="j6" d="M37 76.5 38.5 75.4 37.3 74.8 35.8 75.9z"/>
<path class="j16" d="M58.8 71.4 60.3 70.2 59.1 69.2 57.6 70.5z"/>
<path class="j19" d="M80.6 71.1 82.1 68.8 80.9 67.4 79.4 69.4z"/>
<path class="j1" d="M27.4 79 28.9 78 27.8 77.4 26.2 78.3z"/>
<path class="j12" d="M49.2 73.5 50.7 72.4 49.6 71.7 48 72.9z"/>
<path class="j17" d="M71 72.2 72.5 70.8 71.4 68.5 69.8 69.8z"/>
<path class="j7" d="M39.7 76 41.2 74.9 40 74.2 38.5 75.4z"/>
<path class="j17" d="M61.5 71.3 63 70.1 61.8 68.9 60.3 70.2z"/>
<path class="j20" d="M83.3 69.9 84.8 68 83.6 66.9 82.1 68.8z"/>
<path class="j2" d="M30.1 78.6 31.6 77.6 30.4 77 28.9 78z"/>
<path class="j13" d="M51.9 73.1 53.4 72 52.2 71.3 50.7 72.4z"/>
<path class="j15" d="M73.7 73.6 75.2 71.7 74 69.2 72.5 70.8z"/>
<path class="j9" d="M42.3 75.5 43.9 74.4 42.7 73.7 41.2 74.9z"/>
<path class="j17" d="M64.1 71.4 65.7 70.3 64.5 68.8 63 70.1z"/>
<path class="j23" d="M85.9 67.8 87.5 66.3 86.3 66.5 84.8 68z"/>
<path class="j4" d="M32.8 78.2 34.3 77 33.1 76.5 31.6 77.6z"/>
<path class="j14" d="M54.6 72.8 56.1 71.6 54.9 70.8 53.4 72z"/>
<path class="j14" d="M76.4 74.3 77.9 71.8 76.7 69.6 75.2 71.7z"/>
<path class="j10" d="M45 75.1 46.5 74 45.4 73.3 43.9 74.4z"/>
<path class="j17" d="M66.8 72 68.3 70.9 67.2 69.1 65.7 70.3z"/>
<path class="j5" d="M35.5 77.7 37 76.5 35.8 75.9 34.3 77z"/>
<path class="j15" d="M57.3 72.5 58.8 71.4 57.6 70.5 56.1 71.6z"/>
<path class="j15" d="M79.1 73.8 80.6 71.1 79.4 69.4 77.9 71.8z"/>
<path class="j1" d="M25.9 80 27.4 79 26.2 78.3 24.7 79.3z"/>
<path class="j11" d="M47.7 74.6 49.2 73.5 48 72.9 46.5 74z"/>
<path class="j16" d="M69.5 73.3 71 72.2 69.8 69.8 68.3 70.9z"/>
<path class="j6" d="M38.1 77.2 39.7 76 38.5 75.4 37 76.5z"/>
<path class="j16" d="M59.9 72.4 61.5 71.3 60.3 70.2 58.8 71.4z"/>
<path class="j18" d="M81.7 72.4 83.3 69.9 82.1 68.8 80.6 71.1z"/>
<path class="j2" d="M28.6 79.7 30.1 78.6 28.9 78 27.4 79z"/>
<path class="j12" d="M50.4 74.2 51.9 73.1 50.7 72.4 49.2 73.5z"/>
<path class="j13" d="M72.2 75 73.7 73.6 72.5 70.8 71 72.2z"/>
<path class="j8" d="M40.8 76.7 42.3 75.5 41.2 74.9 39.7 76z"/>
<path class="j16" d="M62.6 72.5 64.1 71.4 63 70.1 61.5 71.3z"/>
<path class="j21" d="M84.4 69.7 85.9 67.8 84.8 68 83.3 69.9z"/>
<path class="j3" d="M31.3 79.3 32.8 78.2 31.6 77.6 30.1 78.6z"/>
<path class="j14" d="M53.1 73.8 54.6 72.8 53.4 72 51.9 73.1z"/>
<path class="j12" d="M74.9 76.4 76.4 74.3 75.2 71.7 73.7 73.6z"/>
<path class="j9" d="M43.5 76.2 45 75.1 43.9 74.4 42.3 75.5z"/>
<path class="j16" d="M65.3 73 66.8 72 65.7 70.3 64.1 71.4z"/>
<path class="j27" d="M87.1 65.9 88.6 64.4 87.5 66.3 85.9 67.8z"/>
<path class="j4" d="M33.9 78.8 35.5 77.7 34.3 77 32.8 78.2z"/>
<path class="j14" d="M55.7 73.6 57.3 72.5 56.1 71.6 54.6 72.8z"/>
<path class="j12" d="M77.5 76.5 79.1 73.8 77.9 71.8 76.4 74.3z"/>
<path class="j0" d="M24.4 81 25.9 80 24.7 79.3 23.2 80.2z"/>
<path class="j10" d="M46.2 75.7 47.7 74.6 46.5 74 45 75.1z"/>
<path class="j15" d="M68 74.1 69.5 73.3 68.3 70.9 66.8 72z"/>
<path class="j6" d="M36.6 78.3 38.1 77.2 37 76.5 35.5 77.7z"/>
<path class="j15" d="M58.4 73.5 59.9 72.4 58.8 71.4 57.3 72.5z"/>
<path class="j14" d="M80.2 75.1 81.7 72.4 80.6 71.1 79.1 73.8z"/>
<path class="j1" d="M27.1 80.7 28.6 79.7 27.4 79 25.9 80z"/>
<path class="j12" d="M48.9 75.3 50.4 74.2 49.2 73.5 47.7 74.6z"/>
<path class="j12" d="M70.7 76 72.2 75 71 72.2 69.5 73.3z"/>
<path class="j7" d="M39.3 77.8 40.8 76.7 39.7 76 38.1 77.2z"/>
<path class="j16" d="M61.1 73.5 62.6 72.5 61.5 71.3 59.9 72.4z"/>
<path class="j19" d="M82.9 72.1 84.4 69.7 83.3 69.9 81.7 72.4z"/>
<path class="j2" d="M29.7 80.4 31.3 79.3 30.1 78.6 28.6 79.7z"/>
<path class="j13" d="M51.5 74.9 53.1 73.8 51.9 73.1 50.4 74.2z"/>
<path class="j10" d="M73.4 78 74.9 76.4 73.7 73.6 72.2 75z"/>
<path class="j8" d="M42 77.4 43.5 76.2 42.3 75.5 40.8 76.7z"/>
<path class="j16" d="M63.8 73.9 65.3 73 64.1 71.4 62.6 72.5z"/>
<path class="j25" d="M85.6 67.8 87.1 65.9 85.9 67.8 84.4 69.7z"/>
<path class="j3" d="M32.4 79.9 33.9 78.8 32.8 78.2 31.3 79.3z"/>
<path class="j14" d="M54.2 74.6 55.7 73.6 54.6 72.8 53.1 73.8z"/>
<path class="j9" d="M76 78.9 77.5 76.5 76.4 74.3 74.9 76.4z"/>
<path class="j0" d="M22.9 81.9 24.4 81 23.2 80.2 21.7 81.1z"/>
<path class="j10" d="M44.7 76.9 46.2 75.7 45 75.1 43.5 76.2z"/>
<path class="j15" d="M66.5 74.9 68 74.1 66.8 72 65.3 73z"/>
<path class="j33" d="M88.3 63.5 89.8 62 88.6 64.4 87.1 65.9z"/>
<path class="j5" d="M35.1 79.5 36.6 78.3 35.5 77.7 33.9 78.8z"/>
<path class="j15" d="M56.9 74.5 58.4 73.5 57.3 72.5 55.7 73.6z"/>
<path class="j10" d="M78.7 78 80.2 75.1 79.1 73.8 77.5 76.5z"/>
<path class="j1" d="M25.5 81.7 27.1 80.7 25.9 80 24.4 81z"/>
<path class="j11" d="M47.4 76.4 48.9 75.3 47.7 74.6 46.2 75.7z"/>
<path class="j12" d="M69.2 76.6 70.7 76 69.5 73.3 68 74.1z"/>
<path class="j6" d="M37.8 79 39.3 77.8 38.1 77.2 36.6 78.3z"/>
<path class="j15" d="M59.6 74.5 61.1 73.5 59.9 72.4 58.4 73.5z"/>
<path class="j15" d="M81.4 74.9 82.9 72.1 81.7 72.4 80.2 75.1z"/>
<path class="j2" d="M28.2 81.4 29.7 80.4 28.6 79.7 27.1 80.7z"/>
<path class="j12" d="M50 76 51.5 74.9 50.4 74.2 48.9 75.3z"/>
<path class="j9" d="M71.8 78.9 73.4 78 72.2 75 70.7 76z"/>
<path class="j7" d="M40.5 78.5 42 77.4 40.8 76.7 39.3 77.8z"/>
<path class="j15" d="M62.3 74.8 63.8 73.9 62.6 72.5 61.1 73.5z"/>
<path class="j22" d="M84.1 70 85.6 67.8 84.4 69.7 82.9 72.1z"/>
<path class="j3" d="M30.9 81 32.4 79.9 31.3 79.3 29.7 80.4z"/>
<path class="j13" d="M52.7 75.7 54.2 74.6 53.1 73.8 51.5 74.9z"/>
<path class="j6" d="M74.5 80.5 76 78.9 74.9 76.4 73.4 78z"/>
<path class="j9" d="M43.2 78 44.7 76.9 43.5 76.2 42 77.4z"/>
<path class="j14" d="M65 75.5 66.5 74.9 65.3 73 63.8 73.9z"/>
<path class="j31" d="M86.8 65.3 88.3 63.5 87.1 65.9 85.6 67.8z"/>
<path class="j4" d="M33.6 80.6 35.1 79.5 33.9 78.8 32.4 79.9z"/>
<path class="j14" d="M55.4 75.5 56.9 74.5 55.7 73.6 54.2 74.6z"/>
<path class="j7" d="M77.2 80.4 78.7 78 77.5 76.5 76 78.9z"/>
<path class="j0" d="M24 82.7 25.5 81.7 24.4 81 22.9 81.9z"/>
<path class="j10" d="M45.8 77.5 47.4 76.4 46.2 75.7 44.7 76.9z"/>
<path class="j12" d="M67.6 77 69.2 76.6 68 74.1 66.5 74.9z"/>
<path class="j39" d="M89.4 61.4 91 60 89.8 62 88.3 63.5z"/>
<path class="j5" d="M36.3 80.1 37.8 79 36.6 78.3 35.1 79.5z"/>
<path class="j15" d="M58.1 75.4 59.6 74.5 58.4 73.5 56.9 74.5z"/>
<path class="j11" d="M79.9 77.7 81.4 74.9 80.2 75.1 78.7 78z"/>
<path class="j1" d="M26.7 82.5 28.2 81.4 27.1 80.7 25.5 81.7z"/>
<path class="j11" d="M48.5 77 50 76 48.9 75.3 47.4 76.4z"/>
<path class="j9" d="M70.3 79.3 71.8 78.9 70.7 76 69.2 76.6z"/>
<path class="j7" d="M39 79.7 40.5 78.5 39.3 77.8 37.8 79z"/>
<path class="j15" d="M60.8 75.6 62.3 74.8 61.1 73.5 59.6 74.5z"/>
<path class="j19" d="M82.6 72.6 84.1 70 82.9 72.1 81.4 74.9z"/>
<path class="j2" d="M29.4 82.1 30.9 81 29.7 80.4 28.2 81.4z"/>
<path class="j12" d="M51.2 76.7 52.7 75.7 51.5 74.9 50 76z"/>
<path class="j5" d="M73 81.4 74.5 80.5 73.4 78 71.8 78.9z"/>
<path class="j8" d="M41.6 79.1 43.2 78 42 77.4 40.5 78.5z"/>
<path class="j14" d="M63.4 76.1 65 75.5 63.8 73.9 62.3 74.8z"/>
<path class="j29" d="M85.2 67.4 86.8 65.3 85.6 67.8 84.1 70z"/>
<path class="j3" d="M32.1 81.7 33.6 80.6 32.4 79.9 30.9 81z"/>
<path class="j13" d="M53.9 76.5 55.4 75.5 54.2 74.6 52.7 75.7z"/>
<path class="j4" d="M75.7 82.1 77.2 80.4 76 78.9 74.5 80.5z"/>
<path class="j9" d="M44.3 78.6 45.8 77.5 44.7 76.9 43.2 78z"/>
<path class="j13" d="M66.1 77.4 67.6 77 66.5 74.9 65 75.5z"/>
<path class="j37" d="M87.9 63.1 89.4 61.4 88.3 63.5 86.8 65.3z"/>
<path class="j4" d="M34.8 81.3 36.3 80.1 35.1 79.5 33.6 80.6z"/>
<path class="j14" d="M56.6 76.4 58.1 75.4 56.9 74.5 55.4 75.5z"/>
<path class="j7" d="M78.4 80.1 79.9 77.7 78.7 78 77.2 80.4z"/>
<path class="j0" d="M25.2 83.5 26.7 82.5 25.5 81.7 24 82.7z"/>
<path class="j11" d="M47 78.1 48.5 77 47.4 76.4 45.8 77.5z"/>
<path class="j9" d="M68.8 79.3 70.3 79.3 69.2 76.6 67.6 77z"/>
<path class="j45" d="M90.6 59.1 92.1 57.6 91 60 89.4 61.4z"/>
<path class="j6" d="M37.4 80.8 39 79.7 37.8 79 36.3 80.1z"/>
<path class="j14" d="M59.2 76.4 60.8 75.6 59.6 74.5 58.1 75.4z"/>
<path class="j15" d="M81.1 75.3 82.6 72.6 81.4 74.9 79.9 77.7z"/>
<path class="j1" d="M27.9 83.2 29.4 82.1 28.2 81.4 26.7 82.5z"/>
<path class="j12" d="M49.7 77.7 51.2 76.7 50 76 48.5 77z"/>
<path class="j6" d="M71.5 81.6 73 81.4 71.8 78.9 70.3 79.3z"/>
<path class="j7" d="M40.1 80.3 41.6 79.1 40.5 78.5 39 79.7z"/>
<path class="j14" d="M61.9 76.8 63.4 76.1 62.3 74.8 60.8 75.6z"/>
<path class="j25" d="M83.7 69.7 85.2 67.4 84.1 70 82.6 72.6z"/>
<path class="j2" d="M30.6 82.8 32.1 81.7 30.9 81 29.4 82.1z"/>
<path class="j13" d="M52.4 77.4 53.9 76.5 52.7 75.7 51.2 76.7z"/>
<path class="j3" d="M74.2 83 75.7 82.1 74.5 80.5 73 81.4z"/>
<path class="j9" d="M42.8 79.7 44.3 78.6 43.2 78 41.6 79.1z"/>
<path class="j13" d="M64.6 77.7 66.1 77.4 65 75.5 63.4 76.1z"/>
<path class="j35" d="M86.4 65 87.9 63.1 86.8 65.3 85.2 67.4z"/>
<path class="j4" d="M33.2 82.4 34.8 81.3 33.6 80.6 32.1 81.7z"/>
<path class="j14" d="M55.1 77.3 56.6 76.4 55.4 75.5 53.9 76.5z"/>
<path class="j5" d="M76.9 81.8 78.4 80.1 77.2 80.4 75.7 82.1z"/>
<path class="j10" d="M45.5 79.2 47 78.1 45.8 77.5 44.3 78.6z"/>
<path class="j10" d="M67.3 79.3 68.8 79.3 67.6 77 66.1 77.4z"/>
<path class="j43" d="M89.1 60.8 90.6 59.1 89.4 61.4 87.9 63.1z"/>
<path class="j5" d="M35.9 82 37.4 80.8 36.3 80.1 34.8 81.3z"/>
<path class="j14" d="M57.7 77.3 59.2 76.4 58.1 75.4 56.6 76.4z"/>
<path class="j12" d="M79.5 77.7 81.1 75.3 79.9 77.7 78.4 80.1z"/>
<path class="j1" d="M26.4 84.3 27.9 83.2 26.7 82.5 25.2 83.5z"/>
<path class="j11" d="M48.2 78.7 49.7 77.7 48.5 77 47 78.1z"/>
<path class="j7" d="M70 81.4 71.5 81.6 70.3 79.3 68.8 79.3z"/>
<path class="j50" d="M91.8 57.2 93.3 55.7 92.1 57.6 90.6 59.1z"/>
<path class="j6" d="M38.6 81.4 40.1 80.3 39 79.7 37.4 80.8z"/>
<path class="j14" d="M60.4 77.5 61.9 76.8 60.8 75.6 59.2 76.4z"/>
<path class="j22" d="M82.2 72.2 83.7 69.7 82.6 72.6 81.1 75.3z"/>
<path class="j2" d="M29.1 83.9 30.6 82.8 29.4 82.1 27.9 83.2z"/>
<path class="j12" d="M50.9 78.4 52.4 77.4 51.2 76.7 49.7 77.7z"/>
<path class="j4" d="M72.7 83.1 74.2 83 73 81.4 71.5 81.6z"/>
<path class="j8" d="M41.3 80.8 42.8 79.7 41.6 79.1 40.1 80.3z"/>
<path class="j13" d="M63.1 78.1 64.6 77.7 63.4 76.1 61.9 76.8z"/>
<path class="j32" d="M84.9 67.2 86.4 65 85.2 67.4 83.7 69.7z"/>
<path class="j3" d="M31.7 83.5 33.2 82.4 32.1 81.7 30.6 82.8z"/>
<path class="j13" d="M53.5 78.2 55.1 77.3 53.9 76.5 52.4 77.4z"/>
<path class="j4" d="M75.3 82.8 76.9 81.8 75.7 82.1 74.2 83z"/>
<path class="j9" d="M44 80.3 45.5 79.2 44.3 78.6 42.8 79.7z"/>
<path class="j11" d="M65.8 79.3 67.3 79.3 66.1 77.4 64.6 77.7z"/>
<path class="j41" d="M87.6 62.6 89.1 60.8 87.9 63.1 86.4 65z"/>
<path class="j4" d="M34.4 83.1 35.9 82 34.8 81.3 33.2 82.4z"/>
<path class="j14" d="M56.2 78.2 57.7 77.3 56.6 76.4 55.1 77.3z"/>
<path class="j9" d="M78 79.5 79.5 77.7 78.4 80.1 76.9 81.8z"/>
<path class="j11" d="M46.7 79.8 48.2 78.7 47 78.1 45.5 79.2z"/>
<path class="j8" d="M68.5 81.1 70 81.4 68.8 79.3 67.3 79.3z"/>
<path class="j49" d="M90.3 58.9 91.8 57.2 90.6 59.1 89.1 60.8z"/>
<path class="j5" d="M37.1 82.6 38.6 81.4 37.4 80.8 35.9 82z"/>
<path class="j14" d="M58.9 78.3 60.4 77.5 59.2 76.4 57.7 77.3z"/>
<path class="j19" d="M80.7 74.5 82.2 72.2 81.1 75.3 79.5 77.7z"/>
<path class="j1" d="M27.5 85 29.1 83.9 27.9 83.2 26.4 84.3z"/>
<path class="j12" d="M49.3 79.4 50.9 78.4 49.7 77.7 48.2 78.7z"/>
<path class="j5" d="M71.1 82.9 72.7 83.1 71.5 81.6 70 81.4z"/>
<path class="j55" d="M92.9 56.1 94.5 54.5 93.3 55.7 91.8 57.2z"/>
<path class="j7" d="M39.8 82 41.3 80.8 40.1 80.3 38.6 81.4z"/>
<path class="j14" d="M61.6 78.6 63.1 78.1 61.9 76.8 60.4 77.5z"/>
<path class="j29" d="M83.4 69.4 84.9 67.2 83.7 69.7 82.2 72.2z"/>
<path class="j2" d="M30.2 84.6 31.7 83.5 30.6 82.8 29.1 83.9z"/>
<path class="j13" d="M52 79.2 53.5 78.2 52.4 77.4 50.9 78.4z"/>
<path class="j4" d="M73.8 83.1 75.3 82.8 74.2 83 72.7 83.1z"/>
<path class="j8" d="M42.5 81.4 44 80.3 42.8 79.7 41.3 80.8z"/>
<path class="j12" d="M64.3 79.5 65.8 79.3 64.6 77.7 63.1 78.1z"/>
<path class="j39" d="M86.1 64.6 87.6 62.6 86.4 65 84.9 67.2z"/>
<path class="j3" d="M32.9 84.2 34.4 83.1 33.2 82.4 31.7 83.5z"/>
<path class="j13" d="M54.7 79.1 56.2 78.2 55.1 77.3 53.5 78.2z"/>
<path class="j8" d="M76.5 80.6 78 79.5 76.9 81.8 75.3 82.8z"/>
<path class="j10" d="M45.1 80.9 46.7 79.8 45.5 79.2 44 80.3z"/>
<path class="j10" d="M67 80.9 68.5 81.1 67.3 79.3 65.8 79.3z"/>
<path class="j47" d="M88.8 60.7 90.3 58.9 89.1 60.8 87.6 62.6z"/>
<path class="j5" d="M35.6 83.7 37.1 82.6 35.9 82 34.4 83.1z"/>
<path class="j14" d="M57.4 79.1 58.9 78.3 57.7 77.3 56.2 78.2z"/>
<path class="j16" d="M79.2 76.3 80.7 74.5 79.5 77.7 78 79.5z"/>
<path class="j11" d="M47.8 80.5 49.3 79.4 48.2 78.7 46.7 79.8z"/>
<path class="j7" d="M69.6 82.5 71.1 82.9 70 81.4 68.5 81.1z"/>
<path class="j53" d="M91.4 57.8 92.9 56.1 91.8 57.2 90.3 58.9z"/>
<path class="j6" d="M38.3 83.1 39.8 82 38.6 81.4 37.1 82.6z"/>
<path class="j14" d="M60.1 79.3 61.6 78.6 60.4 77.5 58.9 78.3z"/>
<path class="j26" d="M81.9 71.6 83.4 69.4 82.2 72.2 80.7 74.5z"/>
<path class="j1" d="M28.7 85.7 30.2 84.6 29.1 83.9 27.5 85z"/>
<path class="j12" d="M50.5 80.1 52 79.2 50.9 78.4 49.3 79.4z"/>
<path class="j5" d="M72.3 82.9 73.8 83.1 72.7 83.1 71.1 82.9z"/>
<path class="j58" d="M94.1 55.4 95.6 53.7 94.5 54.5 92.9 56.1z"/>
<path class="j8" d="M40.9 82.5 42.5 81.4 41.3 80.8 39.8 82z"/>
<path class="j13" d="M62.8 79.9 64.3 79.5 63.1 78.1 61.6 78.6z"/>
<path class="j36" d="M84.6 66.8 86.1 64.6 84.9 67.2 83.4 69.4z"/>
<path class="j3" d="M31.4 85.3 32.9 84.2 31.7 83.5 30.2 84.6z"/>
<path class="j13" d="M53.2 80 54.7 79.1 53.5 78.2 52 79.2z"/>
<path class="j8" d="M75 81.2 76.5 80.6 75.3 82.8 73.8 83.1z"/>
<path class="j9" d="M43.6 82 45.1 80.9 44 80.3 42.5 81.4z"/>
<path class="j11" d="M65.4 80.9 67 80.9 65.8 79.3 64.3 79.5z"/>
<path class="j44" d="M87.2 62.7 88.8 60.7 87.6 62.6 86.1 64.6z"/>
<path class="j4" d="M34.1 84.8 35.6 83.7 34.4 83.1 32.9 84.2z"/>
<path class="j13" d="M55.9 79.9 57.4 79.1 56.2 78.2 54.7 79.1z"/>
<path class="j15" d="M77.7 77.7 79.2 76.3 78 79.5 76.5 80.6z"/>
<path class="j10" d="M46.3 81.5 47.8 80.5 46.7 79.8 45.1 80.9z"/>
<path class="j9" d="M68.1 82.2 69.6 82.5 68.5 81.1 67 80.9z"/>
<path class="j51" d="M89.9 59.7 91.4 57.8 90.3 58.9 88.8 60.7z"/>
<path class="j5" d="M36.8 84.2 38.3 83.1 37.1 82.6 35.6 83.7z"/>
<path class="j14" d="M58.6 80.1 60.1 79.3 58.9 78.3 57.4 79.1z"/>
<path class="j24" d="M80.4 73.5 81.9 71.6 80.7 74.5 79.2 76.3z"/>
<path class="j12" d="M49 81.1 50.5 80.1 49.3 79.4 47.8 80.5z"/>
<path class="j7" d="M70.8 82.7 72.3 82.9 71.1 82.9 69.6 82.5z"/>
<path class="j57" d="M92.6 57.2 94.1 55.4 92.9 56.1 91.4 57.8z"/>
<path class="j7" d="M39.4 83.6 40.9 82.5 39.8 82 38.3 83.1z"/>
<path class="j13" d="M61.2 80.5 62.8 79.9 61.6 78.6 60.1 79.3z"/>
<path class="j33" d="M83 68.9 84.6 66.8 83.4 69.4 81.9 71.6z"/>
<path class="j2" d="M29.9 86.4 31.4 85.3 30.2 84.6 28.7 85.7z"/>
<path class="j12" d="M51.7 80.9 53.2 80 52 79.2 50.5 80.1z"/>
<path class="j9" d="M73.5 81.4 75 81.2 73.8 83.1 72.3 82.9z"/>
<path class="j61" d="M95.3 55.1 96.8 53.3 95.6 53.7 94.1 55.4z"/>
<path class="j8" d="M42.1 83.1 43.6 82 42.5 81.4 40.9 82.5z"/>
<path class="j12" d="M63.9 81.1 65.4 80.9 64.3 79.5 62.8 79.9z"/>
<path class="j42" d="M85.7 64.8 87.2 62.7 86.1 64.6 84.6 66.8z"/>
<path class="j3" d="M32.6 85.9 34.1 84.8 32.9 84.2 31.4 85.3z"/>
<path class="j13" d="M54.4 80.8 55.9 79.9 54.7 79.1 53.2 80z"/>
<path class="j14" d="M76.2 78.7 77.7 77.7 76.5 80.6 75 81.2z"/>
<path class="j10" d="M44.8 82.6 46.3 81.5 45.1 80.9 43.6 82z"/>
<path class="j10" d="M66.6 82.1 68.1 82.2 67 80.9 65.4 80.9z"/>
<path class="j49" d="M88.4 61.7 89.9 59.7 88.8 60.7 87.2 62.7z"/>
<path class="j5" d="M35.2 85.4 36.8 84.2 35.6 83.7 34.1 84.8z"/>
<path class="j13" d="M57 80.9 58.6 80.1 57.4 79.1 55.9 79.9z"/>
<path class="j22" d="M78.8 75.1 80.4 73.5 79.2 76.3 77.7 77.7z"/>
<path class="j11" d="M47.5 82.2 49 81.1 47.8 80.5 46.3 81.5z"/>
<path class="j9" d="M69.3 82.5 70.8 82.7 69.6 82.5 68.1 82.2z"/>
<path class="j55" d="M91.1 59.1 92.6 57.2 91.4 57.8 89.9 59.7z"/>
<path class="j6" d="M37.9 84.8 39.4 83.6 38.3 83.1 36.8 84.2z"/>
<path class="j13" d="M59.7 81.2 61.2 80.5 60.1 79.3 58.6 80.1z"/>
<path class="j31" d="M81.5 70.8 83 68.9 81.9 71.6 80.4 73.5z"/>
<path class="j12" d="M50.2 81.8 51.7 80.9 50.5 80.1 49 81.1z"/>
<path class="j10" d="M72 81.6 73.5 81.4 72.3 82.9 70.8 82.7z"/>
<path class="j59" d="M93.8 57 95.3 55.1 94.1 55.4 92.6 57.2z"/>
<path class="j8" d="M40.6 84.2 42.1 83.1 40.9 82.5 39.4 83.6z"/>
<path class="j13" d="M62.4 81.6 63.9 81.1 62.8 79.9 61.2 80.5z"/>
<path class="j39" d="M84.2 67 85.7 64.8 84.6 66.8 83 68.9z"/>
<path class="j2" d="M31 87 32.6 85.9 31.4 85.3 29.9 86.4z"/>
<path class="j13" d="M52.8 81.7 54.4 80.8 53.2 80 51.7 80.9z"/>
<path class="j14" d="M74.6 79.4 76.2 78.7 75 81.2 73.5 81.4z"/>
<path class="j9" d="M43.3 83.6 44.8 82.6 43.6 82 42.1 83.1z"/>
<path class="j12" d="M65.1 82.3 66.6 82.1 65.4 80.9 63.9 81.1z"/>
<path class="j46" d="M86.9 63.9 88.4 61.7 87.2 62.7 85.7 64.8z"/>
<path class="j4" d="M33.7 86.5 35.2 85.4 34.1 84.8 32.6 85.9z"/>
<path class="j13" d="M55.5 81.7 57 80.9 55.9 79.9 54.4 80.8z"/>
<path class="j21" d="M77.3 76.4 78.8 75.1 77.7 77.7 76.2 78.7z"/>
<path class="j10" d="M46 83.2 47.5 82.2 46.3 81.5 44.8 82.6z"/>
<path class="j11" d="M67.8 82.5 69.3 82.5 68.1 82.2 66.6 82.1z"/>
<path class="j52" d="M89.6 61.2 91.1 59.1 89.9 59.7 88.4 61.7z"/>
<path class="j5" d="M36.4 85.9 37.9 84.8 36.8 84.2 35.2 85.4z"/>
<path class="j13" d="M58.2 81.9 59.7 81.2 58.6 80.1 57 80.9z"/>
<path class="j29" d="M80 72.6 81.5 70.8 80.4 73.5 78.8 75.1z"/>
<path class="j11" d="M48.6 82.8 50.2 81.8 49 81.1 47.5 82.2z"/>
<path class="j11" d="M70.5 81.7 72 81.6 70.8 82.7 69.3 82.5z"/>
<path class="j57" d="M92.3 59 93.8 57 92.6 57.2 91.1 59.1z"/>
<path class="j7" d="M39.1 85.2 40.6 84.2 39.4 83.6 37.9 84.8z"/>
<path class="j13" d="M60.9 82.3 62.4 81.6 61.2 80.5 59.7 81.2z"/>
<path class="j37" d="M82.7 69 84.2 67 83 68.9 81.5 70.8z"/>
<path class="j12" d="M51.3 82.6 52.8 81.7 51.7 80.9 50.2 81.8z"/>
<path class="j15" d="M73.1 80 74.6 79.4 73.5 81.4 72 81.6z"/>
<path class="j8" d="M41.8 84.7 43.3 83.6 42.1 83.1 40.6 84.2z"/>
<path class="j12" d="M63.6 82.7 65.1 82.3 63.9 81.1 62.4 81.6z"/>
<path class="j44" d="M85.4 66.1 86.9 63.9 85.7 64.8 84.2 67z"/>
<path class="j3" d="M32.2 87.6 33.7 86.5 32.6 85.9 31 87z"/>
<path class="j13" d="M54 82.6 55.5 81.7 54.4 80.8 52.8 81.7z"/>
<path class="j20" d="M75.8 77.6 77.3 76.4 76.2 78.7 74.6 79.4z"/>
<path class="j10" d="M44.5 84.2 46 83.2 44.8 82.6 43.3 83.6z"/>
<path class="j12" d="M66.3 82.8 67.8 82.5 66.6 82.1 65.1 82.3z"/>
<path class="j49" d="M88.1 63.4 89.6 61.2 88.4 61.7 86.9 63.9z"/>
<path class="j5" d="M34.9 86.9 36.4 85.9 35.2 85.4 33.7 86.5z"/>
<path class="j13" d="M56.7 82.7 58.2 81.9 57 80.9 55.5 81.7z"/>
<path class="j27" d="M78.5 74.3 80 72.6 78.8 75.1 77.3 76.4z"/>
<path class="j11" d="M47.1 83.8 48.6 82.8 47.5 82.2 46 83.2z"/>
<path class="j13" d="M68.9 82 70.5 81.7 69.3 82.5 67.8 82.5z"/>
<path class="j55" d="M90.7 61.1 92.3 59 91.1 59.1 89.6 61.2z"/>
<path class="j6" d="M37.6 86.3 39.1 85.2 37.9 84.8 36.4 85.9z"/>
<path class="j13" d="M59.4 83 60.9 82.3 59.7 81.2 58.2 81.9z"/>
<path class="j34" d="M81.2 71 82.7 69 81.5 70.8 80 72.6z"/>
<path class="j12" d="M49.8 83.6 51.3 82.6 50.2 81.8 48.6 82.8z"/>
<path class="j15" d="M71.6 80.6 73.1 80 72 81.6 70.5 81.7z"/>
<path class="j8" d="M40.3 85.7 41.8 84.7 40.6 84.2 39.1 85.2z"/>
<path class="j13" d="M62.1 83.3 63.6 82.7 62.4 81.6 60.9 82.3z"/>
<path class="j41" d="M83.9 68.2 85.4 66.1 84.2 67 82.7 69z"/>
<path class="j12" d="M52.5 83.5 54 82.6 52.8 81.7 51.3 82.6z"/>
<path class="j20" d="M74.3 78.7 75.8 77.6 74.6 79.4 73.1 80z"/>
<path class="j9" d="M42.9 85.2 44.5 84.2 43.3 83.6 41.8 84.7z"/>
<path class="j12" d="M64.7 83.3 66.3 82.8 65.1 82.3 63.6 82.7z"/>
<path class="j47" d="M86.5 65.8 88.1 63.4 86.9 63.9 85.4 66.1z"/>
<path class="j4" d="M33.4 88 34.9 86.9 33.7 86.5 32.2 87.6z"/>
<path class="j13" d="M55.2 83.5 56.7 82.7 55.5 81.7 54 82.6z"/>
<path class="j25" d="M77 75.9 78.5 74.3 77.3 76.4 75.8 77.6z"/>
<path class="j10" d="M45.6 84.8 47.1 83.8 46 83.2 44.5 84.2z"/>
<path class="j13" d="M67.4 82.5 68.9 82 67.8 82.5 66.3 82.8z"/>
<path class="j52" d="M89.2 63.5 90.7 61.1 89.6 61.2 88.1 63.4z"/>
<path class="j5" d="M36.1 87.4 37.6 86.3 36.4 85.9 34.9 86.9z"/>
<path class="j13" d="M57.9 83.7 59.4 83 58.2 81.9 56.7 82.7z"/>
<path class="j32" d="M79.7 73 81.2 71 80 72.6 78.5 74.3z"/>
<path class="j11" d="M48.3 84.5 49.8 83.6 48.6 82.8 47.1 83.8z"/>
<path class="j16" d="M70.1 81.2 71.6 80.6 70.5 81.7 68.9 82z"/>
<path class="j7" d="M38.7 86.8 40.3 85.7 39.1 85.2 37.6 86.3z"/>
<path class="j13" d="M60.5 84 62.1 83.3 60.9 82.3 59.4 83z"/>
<path class="j38" d="M82.3 70.4 83.9 68.2 82.7 69 81.2 71z"/>
<path class="j12" d="M51 84.4 52.5 83.5 51.3 82.6 49.8 83.6z"/>
<path class="j19" d="M72.8 79.7 74.3 78.7 73.1 80 71.6 80.6z"/>
<path class="j8" d="M41.4 86.3 42.9 85.2 41.8 84.7 40.3 85.7z"/>
<path class="j13" d="M63.2 83.9 64.7 83.3 63.6 82.7 62.1 83.3z"/>
<path class="j44" d="M85 68 86.5 65.8 85.4 66.1 83.9 68.2z"/>
<path class="j12" d="M53.7 84.4 55.2 83.5 54 82.6 52.5 83.5z"/>
<path class="j24" d="M75.5 77.4 77 75.9 75.8 77.6 74.3 78.7z"/>
<path class="j10" d="M44.1 85.8 45.6 84.8 44.5 84.2 42.9 85.2z"/>
<path class="j14" d="M65.9 83.1 67.4 82.5 66.3 82.8 64.7 83.3z"/>
<path class="j49" d="M87.7 65.9 89.2 63.5 88.1 63.4 86.5 65.8z"/>
<path class="j5" d="M34.5 88.4 36.1 87.4 34.9 86.9 33.4 88z"/>
<path class="j13" d="M56.3 84.5 57.9 83.7 56.7 82.7 55.2 83.5z"/>
<path class="j30" d="M78.2 74.9 79.7 73 78.5 74.3 77 75.9z"/>
<path class="j11" d="M46.8 85.5 48.3 84.5 47.1 83.8 45.6 84.8z"/>
<path class="j16" d="M68.6 81.9 70.1 81.2 68.9 82 67.4 82.5z"/>
<path class="j6" d="M37.2 87.8 38.7 86.8 37.6 86.3 36.1 87.4z"/>
<path class="j13" d="M59 84.8 60.5 84 59.4 83 57.9 83.7z"/>
<path class="j36" d="M80.8 72.5 82.3 70.4 81.2 71 79.7 73z"/>
<path class="j12" d="M49.5 85.3 51 84.4 49.8 83.6 48.3 84.5z"/>
<path class="j19" d="M71.3 80.6 72.8 79.7 71.6 80.6 70.1 81.2z"/>
<path class="j8" d="M39.9 87.3 41.4 86.3 40.3 85.7 38.7 86.8z"/>
<path class="j13" d="M61.7 84.7 63.2 83.9 62.1 83.3 60.5 84z"/>
<path class="j41" d="M83.5 70.3 85 68 83.9 68.2 82.3 70.4z"/>
<path class="j12" d="M52.2 85.3 53.7 84.4 52.5 83.5 51 84.4z"/>
<path class="j23" d="M74 78.8 75.5 77.4 74.3 78.7 72.8 79.7z"/>
<path class="j9" d="M42.6 86.8 44.1 85.8 42.9 85.2 41.4 86.3z"/>
<path class="j14" d="M64.4 83.9 65.9 83.1 64.7 83.3 63.2 83.9z"/>
<path class="j46" d="M86.2 68.3 87.7 65.9 86.5 65.8 85 68z"/>
<path class="j12" d="M54.8 85.4 56.3 84.5 55.2 83.5 53.7 84.4z"/>
<path class="j28" d="M76.6 76.7 78.2 74.9 77 75.9 75.5 77.4z"/>
<path class="j10" d="M45.3 86.5 46.8 85.5 45.6 84.8 44.1 85.8z"/>
<path class="j16" d="M67.1 82.8 68.6 81.9 67.4 82.5 65.9 83.1z"/>
<path class="j6" d="M35.7 88.9 37.2 87.8 36.1 87.4 34.5 88.4z"/>
<path class="j12" d="M57.5 85.6 59 84.8 57.9 83.7 56.3 84.5z"/>
<path class="j33" d="M79.3 74.7 80.8 72.5 79.7 73 78.2 74.9z"/>
<path class="j11" d="M48 86.3 49.5 85.3 48.3 84.5 46.8 85.5z"/>
<path class="j19" d="M69.8 81.6 71.3 80.6 70.1 81.2 68.6 81.9z"/>
<path class="j7" d="M38.4 88.3 39.9 87.3 38.7 86.8 37.2 87.8z"/>
<path class="j13" d="M60.2 85.4 61.7 84.7 60.5 84 59 84.8z"/>
<path class="j38" d="M82 72.6 83.5 70.3 82.3 70.4 80.8 72.5z"/>
<path class="j12" d="M50.6 86.2 52.2 85.3 51 84.4 49.5 85.3z"/>
<path class="j22" d="M72.4 80 74 78.8 72.8 79.7 71.3 80.6z"/>
<path class="j9" d="M41.1 87.8 42.6 86.8 41.4 86.3 39.9 87.3z"/>
<path class="j14" d="M62.9 84.7 64.4 83.9 63.2 83.9 61.7 84.7z"/>
<path class="j43" d="M84.7 70.7 86.2 68.3 85 68 83.5 70.3z"/>
<path class="j12" d="M53.3 86.3 54.8 85.4 53.7 84.4 52.2 85.3z"/>
<path class="j27" d="M75.1 78.3 76.6 76.7 75.5 77.4 74 78.8z"/>
<path class="j10" d="M43.8 87.4 45.3 86.5 44.1 85.8 42.6 86.8z"/>
<path class="j16" d="M65.6 83.6 67.1 82.8 65.9 83.1 64.4 83.9z"/>
<path class="j12" d="M56 86.4 57.5 85.6 56.3 84.5 54.8 85.4z"/>
<path class="j31" d="M77.8 76.7 79.3 74.7 78.2 74.9 76.6 76.7z"/>
<path class="j11" d="M46.4 87.2 48 86.3 46.8 85.5 45.3 86.5z"/>
<path class="j19" d="M68.2 82.6 69.8 81.6 68.6 81.9 67.1 82.8z"/>
<path class="j7" d="M36.9 89.3 38.4 88.3 37.2 87.8 35.7 88.9z"/>
<path class="j13" d="M58.7 86.2 60.2 85.4 59 84.8 57.5 85.6z"/>
<path class="j35" d="M80.5 74.9 82 72.6 80.8 72.5 79.3 74.7z"/>
<path class="j11" d="M49.1 87.2 50.6 86.2 49.5 85.3 48 86.3z"/>
<path class="j22" d="M70.9 81.1 72.4 80 71.3 80.6 69.8 81.6z"/>
<path class="j8" d="M39.6 88.8 41.1 87.8 39.9 87.3 38.4 88.3z"/>
<path class="j14" d="M61.4 85.5 62.9 84.7 61.7 84.7 60.2 85.4z"/>
<path class="j39" d="M83.2 73.1 84.7 70.7 83.5 70.3 82 72.6z"/>
<path class="j12" d="M51.8 87.2 53.3 86.3 52.2 85.3 50.6 86.2z"/>
<path class="j25" d="M73.6 79.7 75.1 78.3 74 78.8 72.4 80z"/>
<path class="j9" d="M42.2 88.4 43.8 87.4 42.6 86.8 41.1 87.8z"/>
<path class="j16" d="M64 84.6 65.6 83.6 64.4 83.9 62.9 84.7z"/>
<path class="j12" d="M54.5 87.2 56 86.4 54.8 85.4 53.3 86.3z"/>
<path class="j29" d="M76.3 78.5 77.8 76.7 76.6 76.7 75.1 78.3z"/>
<path class="j10" d="M44.9 88.2 46.4 87.2 45.3 86.5 43.8 87.4z"/>
<path class="j18" d="M66.7 83.6 68.2 82.6 67.1 82.8 65.6 83.6z"/>
<path class="j12" d="M57.2 87.1 58.7 86.2 57.5 85.6 56 86.4z"/>
<path class="j32" d="M79 77.1 80.5 74.9 79.3 74.7 77.8 76.7z"/>
<path class="j11" d="M47.6 88.1 49.1 87.2 48 86.3 46.4 87.2z"/>
<path class="j21" d="M69.4 82.3 70.9 81.1 69.8 81.6 68.2 82.6z"/>
<path class="j7" d="M38 89.7 39.6 88.8 38.4 88.3 36.9 89.3z"/>
<path class="j14" d="M59.9 86.4 61.4 85.5 60.2 85.4 58.7 86.2z"/>
<path class="j36" d="M81.7 75.5 83.2 73.1 82 72.6 80.5 74.9z"/>
<path class="j11" d="M50.3 88.1 51.8 87.2 50.6 86.2 49.1 87.2z"/>
<path class="j24" d="M72.1 81.1 73.6 79.7 72.4 80 70.9 81.1z"/>
<path class="j9" d="M40.7 89.4 42.2 88.4 41.1 87.8 39.6 88.8z"/>
<path class="j16" d="M62.5 85.5 64 84.6 62.9 84.7 61.4 85.5z"/>
<path class="j12" d="M53 88.1 54.5 87.2 53.3 86.3 51.8 87.2z"/>
<path class="j27" d="M74.8 80.1 76.3 78.5 75.1 78.3 73.6 79.7z"/>
<path class="j10" d="M43.4 89.1 44.9 88.2 43.8 87.4 42.2 88.4z"/>
<path class="j18" d="M65.2 84.6 66.7 83.6 65.6 83.6 64 84.6z"/>
<path class="j12" d="M55.7 87.9 57.2 87.1 56 86.4 54.5 87.2z"/>
<path class="j30" d="M77.5 79 79 77.1 77.8 76.7 76.3 78.5z"/>
<path class="j10" d="M46.1 89 47.6 88.1 46.4 87.2 44.9 88.2z"/>
<path class="j20" d="M67.9 83.4 69.4 82.3 68.2 82.6 66.7 83.6z"/>
<path class="j13" d="M58.3 87.3 59.9 86.4 58.7 86.2 57.2 87.1z"/>
<path class="j33" d="M80.1 77.8 81.7 75.5 80.5 74.9 79 77.1z"/>
<path class="j11" d="M48.8 88.9 50.3 88.1 49.1 87.2 47.6 88.1z"/>
<path class="j23" d="M70.6 82.4 72.1 81.1 70.9 81.1 69.4 82.3z"/>
<path class="j8" d="M39.2 90.3 40.7 89.4 39.6 88.8 38 89.7z"/>
<path class="j15" d="M61 86.5 62.5 85.5 61.4 85.5 59.9 86.4z"/>
<path class="j11" d="M51.5 89 53 88.1 51.8 87.2 50.3 88.1z"/>
<path class="j26" d="M73.3 81.5 74.8 80.1 73.6 79.7 72.1 81.1z"/>
<path class="j9" d="M41.9 90 43.4 89.1 42.2 88.4 40.7 89.4z"/>
<path class="j17" d="M63.7 85.6 65.2 84.6 64 84.6 62.5 85.5z"/>
<path class="j12" d="M54.1 88.8 55.7 87.9 54.5 87.2 53 88.1z"/>
<path class="j28" d="M75.9 80.7 77.5 79 76.3 78.5 74.8 80.1z"/>
<path class="j10" d="M44.6 89.9 46.1 89 44.9 88.2 43.4 89.1z"/>
<path class="j20" d="M66.4 84.6 67.9 83.4 66.7 83.6 65.2 84.6z"/>
<path class="j13" d="M56.8 88.3 58.3 87.3 57.2 87.1 55.7 87.9z"/>
<path class="j31" d="M78.6 79.9 80.1 77.8 79 77.1 77.5 79z"/>
<path class="j11" d="M47.3 89.8 48.8 88.9 47.6 88.1 46.1 89z"/>
<path class="j22" d="M69.1 83.6 70.6 82.4 69.4 82.3 67.9 83.4z"/>
<path class="j15" d="M59.5 87.5 61 86.5 59.9 86.4 58.3 87.3z"/>
<path class="j11" d="M49.9 89.8 51.5 89 50.3 88.1 48.8 88.9z"/>
<path class="j24" d="M71.8 82.9 73.3 81.5 72.1 81.1 70.6 82.4z"/>
<path class="j9" d="M40.4 90.9 41.9 90 40.7 89.4 39.2 90.3z"/>
<path class="j17" d="M62.2 86.7 63.7 85.6 62.5 85.5 61 86.5z"/>
<path class="j12" d="M52.6 89.7 54.1 88.8 53 88.1 51.5 89z"/>
<path class="j26" d="M74.4 82.3 75.9 80.7 74.8 80.1 73.3 81.5z"/>
<path class="j10" d="M43.1 90.8 44.6 89.9 43.4 89.1 41.9 90z"/>
<path class="j19" d="M64.9 85.7 66.4 84.6 65.2 84.6 63.7 85.6z"/>
<path class="j13" d="M55.3 89.2 56.8 88.3 55.7 87.9 54.1 88.8z"/>
<path class="j28" d="M77.1 81.7 78.6 79.9 77.5 79 75.9 80.7z"/>
<path class="j10" d="M45.8 90.7 47.3 89.8 46.1 89 44.6 89.9z"/>
<path class="j21" d="M67.6 84.8 69.1 83.6 67.9 83.4 66.4 84.6z"/>
<path class="j14" d="M58 88.5 59.5 87.5 58.3 87.3 56.8 88.3z"/>
<path class="j11" d="M48.4 90.7 49.9 89.8 48.8 88.9 47.3 89.8z"/>
<path class="j23" d="M70.2 84.3 71.8 82.9 70.6 82.4 69.1 83.6z"/>
<path class="j16" d="M60.7 87.8 62.2 86.7 61 86.5 59.5 87.5z"/>
<path class="j11" d="M51.1 90.6 52.6 89.7 51.5 89 49.9 89.8z"/>
<path class="j25" d="M72.9 83.8 74.4 82.3 73.3 81.5 71.8 82.9z"/>
<path class="j9" d="M41.6 91.7 43.1 90.8 41.9 90 40.4 90.9z"/>
<path class="j18" d="M63.4 86.8 64.9 85.7 63.7 85.6 62.2 86.7z"/>
<path class="j12" d="M53.8 90.2 55.3 89.2 54.1 88.8 52.6 89.7z"/>
<path class="j27" d="M75.6 83.3 77.1 81.7 75.9 80.7 74.4 82.3z"/>
<path class="j10" d="M44.2 91.6 45.8 90.7 44.6 89.9 43.1 90.8z"/>
<path class="j20" d="M66 86.1 67.6 84.8 66.4 84.6 64.9 85.7z"/>
<path class="j14" d="M56.5 89.6 58 88.5 56.8 88.3 55.3 89.2z"/>
<path class="j10" d="M46.9 91.6 48.4 90.7 47.3 89.8 45.8 90.7z"/>
<path class="j22" d="M68.7 85.6 70.2 84.3 69.1 83.6 67.6 84.8z"/>
<path class="j16" d="M59.2 88.9 60.7 87.8 59.5 87.5 58 88.5z"/>
<path class="j11" d="M49.6 91.5 51.1 90.6 49.9 89.8 48.4 90.7z"/>
<path class="j24" d="M71.4 85.2 72.9 83.8 71.8 82.9 70.2 84.3z"/>
<path class="j18" d="M61.8 88 63.4 86.8 62.2 86.7 60.7 87.8z"/>
<path class="j12" d="M52.3 91.1 53.8 90.2 52.6 89.7 51.1 90.6z"/>
<path class="j25" d="M74.1 84.9 75.6 83.3 74.4 82.3 72.9 83.8z"/>
<path class="j10" d="M42.7 92.5 44.2 91.6 43.1 90.8 41.6 91.7z"/>
<path class="j20" d="M64.5 87.3 66 86.1 64.9 85.7 63.4 86.8z"/>
<path class="j13" d="M55 90.6 56.5 89.6 55.3 89.2 53.8 90.2z"/>
<path class="j10" d="M45.4 92.4 46.9 91.6 45.8 90.7 44.2 91.6z"/>
<path class="j21" d="M67.2 86.9 68.7 85.6 67.6 84.8 66 86.1z"/>
<path class="j15" d="M57.6 90 59.2 88.9 58 88.5 56.5 89.6z"/>
<path class="j11" d="M48.1 92.3 49.6 91.5 48.4 90.7 46.9 91.6z"/>
<path class="j22" d="M69.9 86.6 71.4 85.2 70.2 84.3 68.7 85.6z"/>
<path class="j17" d="M60.3 89.2 61.8 88 60.7 87.8 59.2 88.9z"/>
<path class="j11" d="M50.8 92.1 52.3 91.1 51.1 90.6 49.6 91.5z"/>
<path class="j23" d="M72.6 86.4 74.1 84.9 72.9 83.8 71.4 85.2z"/>
<path class="j19" d="M63 88.6 64.5 87.3 63.4 86.8 61.8 88z"/>
<path class="j13" d="M53.4 91.6 55 90.6 53.8 90.2 52.3 91.1z"/>
<path class="j10" d="M43.9 93.2 45.4 92.4 44.2 91.6 42.7 92.5z"/>
<path class="j20" d="M65.7 88.2 67.2 86.9 66 86.1 64.5 87.3z"/>
<path class="j14" d="M56.1 91.1 57.6 90 56.5 89.6 55 90.6z"/>
<path class="j10" d="M46.6 93.2 48.1 92.3 46.9 91.6 45.4 92.4z"/>
<path class="j21" d="M68.4 88 69.9 86.6 68.7 85.6 67.2 86.9z"/>
<path class="j16" d="M58.8 90.4 60.3 89.2 59.2 88.9 57.6 90z"/>
<path class="j11" d="M49.3 93 50.8 92.1 49.6 91.5 48.1 92.3z"/>
<path class="j22" d="M71.1 87.9 72.6 86.4 71.4 85.2 69.9 86.6z"/>
<path class="j18" d="M61.5 89.9 63 88.6 61.8 88 60.3 89.2z"/>
<path class="j12" d="M51.9 92.7 53.4 91.6 52.3 91.1 50.8 92.1z"/>
<path class="j19" d="M64.2 89.6 65.7 88.2 64.5 87.3 63 88.6z"/>
<path class="j13" d="M54.6 92.2 56.1 91.1 55 90.6 53.4 91.6z"/>
<path class="j10" d="M45.1 94 46.6 93.2 45.4 92.4 43.9 93.2z"/>
<path class="j20" d="M66.9 89.4 68.4 88 67.2 86.9 65.7 88.2z"/>
<path class="j15" d="M57.3 91.6 58.8 90.4 57.6 90 56.1 91.1z"/>
<path class="j11" d="M47.7 93.9 49.3 93 48.1 92.3 46.6 93.2z"/>
<path class="j21" d="M69.5 89.3 71.1 87.9 69.9 86.6 68.4 88z"/>
<path class="j17" d="M60 91.1 61.5 89.9 60.3 89.2 58.8 90.4z"/>
<path class="j12" d="M50.4 93.7 51.9 92.7 50.8 92.1 49.3 93z"/>
<path class="j18" d="M62.7 90.9 64.2 89.6 63 88.6 61.5 89.9z"/>
<path class="j13" d="M53.1 93.3 54.6 92.2 53.4 91.6 51.9 92.7z"/>
<path class="j19" d="M65.3 90.8 66.9 89.4 65.7 88.2 64.2 89.6z"/>
<path class="j14" d="M55.8 92.8 57.3 91.6 56.1 91.1 54.6 92.2z"/>
<path class="j10" d="M46.2 94.9 47.7 93.9 46.6 93.2 45.1 94z"/>
<path class="j19" d="M68 90.7 69.5 89.3 68.4 88 66.9 89.4z"/>
<path class="j16" d="M58.5 92.4 60 91.1 58.8 90.4 57.3 91.6z"/>
<path class="j11" d="M48.9 94.7 50.4 93.7 49.3 93 47.7 93.9z"/>
<path class="j17" d="M61.1 92.3 62.7 90.9 61.5 89.9 60 91.1z"/>
<path class="j12" d="M51.6 94.4 53.1 93.3 51.9 92.7 50.4 93.7z"/>
<path class="j17" d="M63.8 92.2 65.3 90.8 64.2 89.6 62.7 90.9z"/>
<path class="j13" d="M54.3 94 55.8 92.8 54.6 92.2 53.1 93.3z"/>
<path class="j18" d="M66.5 92.2 68 90.7 66.9 89.4 65.3 90.8z"/>
<path class="j15" d="M57 93.7 58.5 92.4 57.3 91.6 55.8 92.8z"/>
<path class="j11" d="M47.4 95.7 48.9 94.7 47.7 93.9 46.2 94.9z"/>
<path class="j16" d="M59.6 93.6 61.1 92.3 60 91.1 58.5 92.4z"/>
<path class="j11" d="M50.1 95.5 51.6 94.4 50.4 93.7 48.9 94.7z"/>
<path class="j16" d="M62.3 93.6 63.8 92.2 62.7 90.9 61.1 92.3z"/>
<path class="j12" d="M52.8 95.2 54.3 94 53.1 93.3 51.6 94.4z"/>
<path class="j17" d="M65 93.6 66.5 92.2 65.3 90.8 63.8 92.2z"/>
<path class="j14" d="M55.4 95 57 93.7 55.8 92.8 54.3 94z"/>
<path class="j14" d="M58.1 94.9 59.6 93.6 58.5 92.4 57 93.7z"/>
<path class="j11" d="M48.6 96.6 50.1 95.5 48.9 94.7 47.4 95.7z"/>
<path class="j15" d="M60.8 95 62.3 93.6 61.1 92.3 59.6 93.6z"/>
<path class="j12" d="M51.2 96.4 52.8 95.2 51.6 94.4 50.1 95.5z"/>
<path class="j15" d="M63.5 95.1 65 93.6 63.8 92.2 62.3 93.6z"/>
<path class="j13" d="M53.9 96.2 55.4 95 54.3 94 52.8 95.2z"/>
<path class="j13" d="M56.6 96.3 58.1 94.9 57 93.7 55.4 95z"/>
<path class="j14" d="M59.3 96.4 60.8 95 59.6 93.6 58.1 94.9z"/>
<path class="j11" d="M49.7 97.5 51.2 96.4 50.1 95.5 48.6 96.6z"/>
<path class="j14" d="M62 96.6 63.5 95.1 62.3 93.6 60.8 95z"/>
<path class="j12" d="M52.4 97.5 53.9 96.2 52.8 95.2 51.2 96.4z"/>
<path class="j12" d="M55.1 97.6 56.6 96.3 55.4 95 53.9 96.2z"/>
<path class="j12" d="M57.8 97.8 59.3 96.4 58.1 94.9 56.6 96.3z"/>
<path class="j13" d="M60.5 98 62 96.6 60.8 95 59.3 96.4z"/>
<path class="j11" d="M50.9 98.7 52.4 97.5 51.2 96.4 49.7 97.5z"/>
<path class="j11" d="M53.6 98.9 55.1 97.6 53.9 96.2 52.4 97.5z"/>
<path class="j11" d="M56.3 99.2 57.8 97.8 56.6 96.3 55.1 97.6z"/>
<path class="j11" d="M58.9 99.4 60.5 98 59.3 96.4 57.8 97.8z"/>
<path class="j10" d="M52.1 100.2 53.6 98.9 52.4 97.5 50.9 98.7z"/>
<path class="j10" d="M54.7 100.5 56.3 99.2 55.1 97.6 53.6 98.9z"/>
<path class="j10" d="M57.4 100.9 58.9 99.4 57.8 97.8 56.3 99.2z"/>
<path class="j9" d="M53.2 101.9 54.7 100.5 53.6 98.9 52.1 100.2z"/>
<path class="j9" d="M55.9 102.3 57.4 100.9 56.3 99.2 54.7 100.5z"/>
<path class="j7" d="M54.4 103.7 55.9 102.3 54.7 100.5 53.2 101.9z"/>
</g>
<line x1="21.70" y1="36.40" x2="64.10" y2="16.60" stroke="#3c3c3c" stroke-width="0.6"/>
<line x1="64.10" y1="16.60" x2="96.80" y2="42.60" stroke="#3c3c3c" stroke-width="0.6"/>
<line x1="96.80" y1="42.60" x2="54.40" y2="62.40" stroke="#3c3c3c" stroke-width="0.6"/>
<line x1="54.40" y1="62.40" x2="21.70" y2="36.40" stroke="#3c3c3c" stroke-width="0.6"/>
<line x1="21.70" y1="95.00" x2="21.70" y2="36.40" stroke="#3c3c3c" stroke-width="0.6"/>
<line x1="54.40" y1="121.00" x2="54.40" y2="62.40" stroke="#3c3c3c" stroke-width="0.6"/>
<line x1="96.80" y1="101.20" x2="96.80" y2="42.60" stroke="#3c3c3c" stroke-width="0.6"/>
<line x1="54.40" y1="121.00" x2="21.70" y2="95.00" stroke="#3c3c3c" stroke-width="0.6"/>
<line x1="54.40" y1="121.00" x2="96.80" y2="101.20" stroke="#3c3c3c" stroke-width="0.6"/>
<line x1="21.70" y1="95.00" x2="22.70" y2="95.40" stroke="#3c3c3c" stroke-width="0.5"/>
<text transform="matrix(0.85 0 0 1 19.4 95.6)" font-size="7.7" text-anchor="end">2000</text>
<line x1="21.70" y1="80.35" x2="22.70" y2="80.75" stroke="#3c3c3c" stroke-width="0.5"/>
<text transform="matrix(0.85 0 0 1 19.4 80.9)" font-size="7.7" text-anchor="end">4000</text>
<line x1="21.70" y1="65.70" x2="22.70" y2="66.10" stroke="#3c3c3c" stroke-width="0.5"/>
<text transform="matrix(0.85 0 0 1 19.4 66.3)" font-size="7.7" text-anchor="end">6000</text>
<line x1="21.70" y1="51.05" x2="22.70" y2="51.45" stroke="#3c3c3c" stroke-width="0.5"/>
<text transform="matrix(0.85 0 0 1 19.4 51.6)" font-size="7.7" text-anchor="end">8000</text>
<line x1="21.70" y1="36.40" x2="22.70" y2="36.80" stroke="#3c3c3c" stroke-width="0.5"/>
<text transform="matrix(0.85 0 0 1 19.4 37.0)" font-size="7.7" text-anchor="end">10000</text>
<text transform="matrix(0.85 0 0 1 15.0 102.2)" font-size="7.7" text-anchor="middle">100</text>
<text transform="matrix(0.85 0 0 1 31.0 115.6)" font-size="7.7" text-anchor="middle">50</text>
<text transform="matrix(0.85 0 0 1 49.6 129.0)" font-size="7.7" text-anchor="middle">0</text>
<text transform="matrix(0.85 0 0 1 58.6 130.2)" font-size="7.7" text-anchor="middle">0</text>
<text transform="matrix(0.85 0 0 1 81.0 119.8)" font-size="7.7" text-anchor="middle">50</text>
<text transform="matrix(0.85 0 0 1 104.2 109.4)" font-size="7.7" text-anchor="middle">100</text>
<text x="59.4" y="10.8" font-size="6.5" text-anchor="middle" font-weight="bold">F9</text>
<line x1="132.00" y1="121.30" x2="132.00" y2="120.20" stroke="#3c3c3c" stroke-width="0.5"/>
<line x1="132.00" y1="15.60" x2="132.00" y2="16.70" stroke="#3c3c3c" stroke-width="0.5"/>
<text transform="matrix(0.85 0 0 1 132.0 131.0)" font-size="7.7" text-anchor="middle">&#8722;100</text>
<line x1="150.85" y1="121.30" x2="150.85" y2="120.20" stroke="#3c3c3c" stroke-width="0.5"/>
<line x1="150.85" y1="15.60" x2="150.85" y2="16.70" stroke="#3c3c3c" stroke-width="0.5"/>
<text transform="matrix(0.85 0 0 1 150.8 131.0)" font-size="7.7" text-anchor="middle">&#8722;50</text>
<line x1="169.70" y1="121.30" x2="169.70" y2="120.20" stroke="#3c3c3c" stroke-width="0.5"/>
<line x1="169.70" y1="15.60" x2="169.70" y2="16.70" stroke="#3c3c3c" stroke-width="0.5"/>
<text transform="matrix(0.85 0 0 1 169.7 131.0)" font-size="7.7" text-anchor="middle">0</text>
<line x1="188.55" y1="121.30" x2="188.55" y2="120.20" stroke="#3c3c3c" stroke-width="0.5"/>
<line x1="188.55" y1="15.60" x2="188.55" y2="16.70" stroke="#3c3c3c" stroke-width="0.5"/>
<text transform="matrix(0.85 0 0 1 188.6 131.0)" font-size="7.7" text-anchor="middle">50</text>
<line x1="132.00" y1="121.30" x2="133.10" y2="121.30" stroke="#3c3c3c" stroke-width="0.5"/>
<line x1="207.40" y1="121.30" x2="206.30" y2="121.30" stroke="#3c3c3c" stroke-width="0.5"/>
<text transform="matrix(0.85 0 0 1 130.1 124.3)" font-size="7.7" text-anchor="end">&#8722;100</text>
<line x1="132.00" y1="94.88" x2="133.10" y2="94.88" stroke="#3c3c3c" stroke-width="0.5"/>
<line x1="207.40" y1="94.88" x2="206.30" y2="94.88" stroke="#3c3c3c" stroke-width="0.5"/>
<text transform="matrix(0.85 0 0 1 130.1 97.9)" font-size="7.7" text-anchor="end">&#8722;50</text>
<line x1="132.00" y1="68.45" x2="133.10" y2="68.45" stroke="#3c3c3c" stroke-width="0.5"/>
<line x1="207.40" y1="68.45" x2="206.30" y2="68.45" stroke="#3c3c3c" stroke-width="0.5"/>
<text transform="matrix(0.85 0 0 1 130.1 71.4)" font-size="7.7" text-anchor="end">0</text>
<line x1="132.00" y1="42.02" x2="133.10" y2="42.02" stroke="#3c3c3c" stroke-width="0.5"/>
<line x1="207.40" y1="42.02" x2="206.30" y2="42.02" stroke="#3c3c3c" stroke-width="0.5"/>
<text transform="matrix(0.85 0 0 1 130.1 45.0)" font-size="7.7" text-anchor="end">50</text>
<rect x="132.00" y="15.60" width="75.40" height="105.70" fill="none" stroke="#3c3c3c" stroke-width="0.8"/>
<text x="169.7" y="10.6" font-size="6.5" text-anchor="middle" font-weight="bold">Search history</text>
<line x1="257.12" y1="121.30" x2="257.12" y2="120.20" stroke="#3c3c3c" stroke-width="0.5"/>
<line x1="257.12" y1="15.60" x2="257.12" y2="16.70" stroke="#3c3c3c" stroke-width="0.5"/>
<text transform="matrix(0.85 0 0 1 257.1 131.0)" font-size="7.7" text-anchor="middle">20</text>
<line x1="272.19" y1="121.30" x2="272.19" y2="120.20" stroke="#3c3c3c" stroke-width="0.5"/>
<line x1="272.19" y1="15.60" x2="272.19" y2="16.70" stroke="#3c3c3c" stroke-width="0.5"/>
<text transform="matrix(0.85 0 0 1 272.2 131.0)" font-size="7.7" text-anchor="middle">40</text>
<line x1="287.26" y1="121.30" x2="287.26" y2="120.20" stroke="#3c3c3c" stroke-width="0.5"/>
<line x1="287.26" y1="15.60" x2="287.26" y2="16.70" stroke="#3c3c3c" stroke-width="0.5"/>
<text transform="matrix(0.85 0 0 1 287.3 131.0)" font-size="7.7" text-anchor="middle">60</text>
<line x1="302.33" y1="121.30" x2="302.33" y2="120.20" stroke="#3c3c3c" stroke-width="0.5"/>
<line x1="302.33" y1="15.60" x2="302.33" y2="16.70" stroke="#3c3c3c" stroke-width="0.5"/>
<text transform="matrix(0.85 0 0 1 302.3 131.0)" font-size="7.7" text-anchor="middle">80</text>
<line x1="317.40" y1="121.30" x2="317.40" y2="120.20" stroke="#3c3c3c" stroke-width="0.5"/>
<line x1="317.40" y1="15.60" x2="317.40" y2="16.70" stroke="#3c3c3c" stroke-width="0.5"/>
<text transform="matrix(0.85 0 0 1 317.4 131.0)" font-size="7.7" text-anchor="middle">100</text>
<line x1="242.80" y1="121.30" x2="243.90" y2="121.30" stroke="#3c3c3c" stroke-width="0.5"/>
<line x1="317.40" y1="121.30" x2="316.30" y2="121.30" stroke="#3c3c3c" stroke-width="0.5"/>
<text transform="matrix(0.85 0 0 1 240.9 124.3)" font-size="7.7" text-anchor="end">2600</text>
<line x1="242.80" y1="106.09" x2="243.90" y2="106.09" stroke="#3c3c3c" stroke-width="0.5"/>
<line x1="317.40" y1="106.09" x2="316.30" y2="106.09" stroke="#3c3c3c" stroke-width="0.5"/>
<text transform="matrix(0.85 0 0 1 240.9 109.1)" font-size="7.7" text-anchor="end">2800</text>
<line x1="242.80" y1="90.88" x2="243.90" y2="90.88" stroke="#3c3c3c" stroke-width="0.5"/>
<line x1="317.40" y1="90.88" x2="316.30" y2="90.88" stroke="#3c3c3c" stroke-width="0.5"/>
<text transform="matrix(0.85 0 0 1 240.9 93.9)" font-size="7.7" text-anchor="end">3000</text>
<line x1="242.80" y1="75.67" x2="243.90" y2="75.67" stroke="#3c3c3c" stroke-width="0.5"/>
<line x1="317.40" y1="75.67" x2="316.30" y2="75.67" stroke="#3c3c3c" stroke-width="0.5"/>
<text transform="matrix(0.85 0 0 1 240.9 78.7)" font-size="7.7" text-anchor="end">3200</text>
<line x1="242.80" y1="60.47" x2="243.90" y2="60.47" stroke="#3c3c3c" stroke-width="0.5"/>
<line x1="317.40" y1="60.47" x2="316.30" y2="60.47" stroke="#3c3c3c" stroke-width="0.5"/>
<text transform="matrix(0.85 0 0 1 240.9 63.5)" font-size="7.7" text-anchor="end">3400</text>
<line x1="242.80" y1="45.26" x2="243.90" y2="45.26" stroke="#3c3c3c" stroke-width="0.5"/>
<line x1="317.40" y1="45.26" x2="316.30" y2="45.26" stroke="#3c3c3c" stroke-width="0.5"/>
<text transform="matrix(0.85 0 0 1 240.9 48.3)" font-size="7.7" text-anchor="end">3600</text>
<line x1="242.80" y1="30.05" x2="243.90" y2="30.05" stroke="#3c3c3c" stroke-width="0.5"/>
<line x1="317.40" y1="30.05" x2="316.30" y2="30.05" stroke="#3c3c3c" stroke-width="0.5"/>
<text transform="matrix(0.85 0 0 1 240.9 33.0)" font-size="7.7" text-anchor="end">3800</text>
<rect x="242.80" y="15.60" width="74.60" height="105.70" fill="none" stroke="#3c3c3c" stroke-width="0.8"/>
<text x="280.1" y="10.6" font-size="6.5" text-anchor="middle" font-weight="bold">Average fitness history</text>
<line x1="353.20" y1="121.30" x2="353.20" y2="120.20" stroke="#3c3c3c" stroke-width="0.5"/>
<line x1="353.20" y1="15.60" x2="353.20" y2="16.70" stroke="#3c3c3c" stroke-width="0.5"/>
<text transform="matrix(0.85 0 0 1 353.2 131.0)" font-size="7.7" text-anchor="middle">0</text>
<line x1="390.50" y1="121.30" x2="390.50" y2="120.20" stroke="#3c3c3c" stroke-width="0.5"/>
<line x1="390.50" y1="15.60" x2="390.50" y2="16.70" stroke="#3c3c3c" stroke-width="0.5"/>
<text transform="matrix(0.85 0 0 1 390.5 131.0)" font-size="7.7" text-anchor="middle">50</text>
<line x1="427.80" y1="121.30" x2="427.80" y2="120.20" stroke="#3c3c3c" stroke-width="0.5"/>
<line x1="427.80" y1="15.60" x2="427.80" y2="16.70" stroke="#3c3c3c" stroke-width="0.5"/>
<text transform="matrix(0.85 0 0 1 427.8 131.0)" font-size="7.7" text-anchor="middle">100</text>
<line x1="353.20" y1="110.07" x2="354.30" y2="110.07" stroke="#3c3c3c" stroke-width="0.5"/>
<line x1="427.80" y1="110.07" x2="426.70" y2="110.07" stroke="#3c3c3c" stroke-width="0.5"/>
<text transform="matrix(0.85 0 0 1 352.0 111.0)" font-size="7.7" text-anchor="end">10<tspan dx="0.3" dy="-3.9" font-size="4.9">3.45</tspan></text>
<line x1="353.20" y1="75.53" x2="354.30" y2="75.53" stroke="#3c3c3c" stroke-width="0.5"/>
<line x1="427.80" y1="75.53" x2="426.70" y2="75.53" stroke="#3c3c3c" stroke-width="0.5"/>
<text transform="matrix(0.85 0 0 1 352.0 76.7)" font-size="7.7" text-anchor="end">10<tspan dx="0.3" dy="-3.9" font-size="4.9">3.47</tspan></text>
<line x1="353.20" y1="40.99" x2="354.30" y2="40.99" stroke="#3c3c3c" stroke-width="0.5"/>
<line x1="427.80" y1="40.99" x2="426.70" y2="40.99" stroke="#3c3c3c" stroke-width="0.5"/>
<text transform="matrix(0.85 0 0 1 352.0 42.9)" font-size="7.7" text-anchor="end">10<tspan dx="0.3" dy="-3.9" font-size="4.9">3.49</tspan></text>
<rect x="353.20" y="15.60" width="74.60" height="105.70" fill="none" stroke="#3c3c3c" stroke-width="0.8"/>
<text x="390.5" y="10.6" font-size="6.5" text-anchor="middle" font-weight="bold">Optimization history</text>
<line x1="463.30" y1="121.30" x2="463.30" y2="120.20" stroke="#3c3c3c" stroke-width="0.5"/>
<line x1="463.30" y1="15.60" x2="463.30" y2="16.70" stroke="#3c3c3c" stroke-width="0.5"/>
<text transform="matrix(0.85 0 0 1 463.3 131.0)" font-size="7.7" text-anchor="middle">0</text>
<line x1="500.75" y1="121.30" x2="500.75" y2="120.20" stroke="#3c3c3c" stroke-width="0.5"/>
<line x1="500.75" y1="15.60" x2="500.75" y2="16.70" stroke="#3c3c3c" stroke-width="0.5"/>
<text transform="matrix(0.85 0 0 1 500.8 131.0)" font-size="7.7" text-anchor="middle">50</text>
<line x1="538.20" y1="121.30" x2="538.20" y2="120.20" stroke="#3c3c3c" stroke-width="0.5"/>
<line x1="538.20" y1="15.60" x2="538.20" y2="16.70" stroke="#3c3c3c" stroke-width="0.5"/>
<text transform="matrix(0.85 0 0 1 538.2 131.0)" font-size="7.7" text-anchor="middle">100</text>
<line x1="463.30" y1="121.30" x2="464.40" y2="121.30" stroke="#3c3c3c" stroke-width="0.5"/>
<line x1="538.20" y1="121.30" x2="537.10" y2="121.30" stroke="#3c3c3c" stroke-width="0.5"/>
<text transform="matrix(0.85 0 0 1 461.4 124.3)" font-size="7.7" text-anchor="end">0.045</text>
<line x1="463.30" y1="103.68" x2="464.40" y2="103.68" stroke="#3c3c3c" stroke-width="0.5"/>
<line x1="538.20" y1="103.68" x2="537.10" y2="103.68" stroke="#3c3c3c" stroke-width="0.5"/>
<text transform="matrix(0.85 0 0 1 461.4 106.7)" font-size="7.7" text-anchor="end">0.05</text>
<line x1="463.30" y1="86.07" x2="464.40" y2="86.07" stroke="#3c3c3c" stroke-width="0.5"/>
<line x1="538.20" y1="86.07" x2="537.10" y2="86.07" stroke="#3c3c3c" stroke-width="0.5"/>
<text transform="matrix(0.85 0 0 1 461.4 89.1)" font-size="7.7" text-anchor="end">0.055</text>
<line x1="463.30" y1="68.45" x2="464.40" y2="68.45" stroke="#3c3c3c" stroke-width="0.5"/>
<line x1="538.20" y1="68.45" x2="537.10" y2="68.45" stroke="#3c3c3c" stroke-width="0.5"/>
<text transform="matrix(0.85 0 0 1 461.4 71.4)" font-size="7.7" text-anchor="end">0.06</text>
<line x1="463.30" y1="50.83" x2="464.40" y2="50.83" stroke="#3c3c3c" stroke-width="0.5"/>
<line x1="538.20" y1="50.83" x2="537.10" y2="50.83" stroke="#3c3c3c" stroke-width="0.5"/>
<text transform="matrix(0.85 0 0 1 461.4 53.8)" font-size="7.7" text-anchor="end">0.065</text>
<line x1="463.30" y1="33.22" x2="464.40" y2="33.22" stroke="#3c3c3c" stroke-width="0.5"/>
<line x1="538.20" y1="33.22" x2="537.10" y2="33.22" stroke="#3c3c3c" stroke-width="0.5"/>
<text transform="matrix(0.85 0 0 1 461.4 36.2)" font-size="7.7" text-anchor="end">0.07</text>
<line x1="463.30" y1="15.60" x2="464.40" y2="15.60" stroke="#3c3c3c" stroke-width="0.5"/>
<line x1="538.20" y1="15.60" x2="537.10" y2="15.60" stroke="#3c3c3c" stroke-width="0.5"/>
<text transform="matrix(0.85 0 0 1 461.4 18.6)" font-size="7.7" text-anchor="end">0.075</text>
<rect x="463.30" y="15.60" width="74.90" height="105.70" fill="none" stroke="#3c3c3c" stroke-width="0.8"/>
<text x="500.8" y="10.6" font-size="6.5" text-anchor="middle" font-weight="bold">Diversity</text>
</g>
<clipPath id="c2"><rect x="133.10" y="293.70" width="75.66" height="105.70"/></clipPath>
<g clip-path="url(#c2)">
<polyline points="133.1,305.5 133.2,305.4 133.4,305.4 133.7,305.1 134.2,304.5 134.8,303.3 135.5,301.7 136.5,300.0 137.8,298.7 139.5,297.8 141.5,297.1 143.8,296.7 146.5,296.5 149.7,296.5 153.4,296.8 157.3,297.2 161.1,298.0 164.7,299.1 168.3,300.5 172.0,302.1 175.6,303.8 179.3,305.6 183.2,307.5 186.9,309.6 190.2,311.8 193.1,314.2 195.8,316.7 198.2,319.3 200.4,322.0 202.6,325.0 204.6,328.2 206.3,331.2 207.6,333.6 208.3,335.3 208.6,336.5 208.7,337.4 208.8,338.0" fill="none" stroke="#6a6af0" stroke-width="0.7" stroke-linejoin="round"/>
<polyline points="133.1,373.5 134.4,375.9 136.3,379.4 138.5,383.1 140.7,386.2 142.8,388.5 144.8,390.4 147.1,392.1 149.5,393.5 152.2,394.8 155.1,395.8 158.1,396.6 161.1,397.1 164.0,397.3 166.9,397.3 169.8,397.0 172.7,396.4 175.7,395.4 178.6,394.0 181.6,392.4 184.4,390.5 187.1,388.3 189.6,385.9 192.1,383.2 194.5,380.4 196.9,377.3 199.3,373.9 201.4,370.5 203.3,367.3 204.8,364.1 205.9,361.0 206.8,358.1 207.6,355.6 208.1,353.6 208.5,352.1 208.7,350.9 208.8,350.0" fill="none" stroke="#6a6af0" stroke-width="0.7" stroke-linejoin="round"/>
<polyline points="174.2,293.7 177.2,295.1 181.6,297.2 186.2,299.5 190.2,301.6 193.2,303.5 195.8,305.4 198.1,307.2 200.4,308.9 202.8,310.7 205.2,312.4 207.3,313.9 208.8,315.0" fill="none" stroke="#6aa8f8" stroke-width="0.7" stroke-linejoin="round"/>
<polyline points="185.0,293.7 187.3,294.8 190.5,296.4 194.2,298.3 197.5,300.2 200.7,302.3 203.9,304.8 206.8,307.0 208.8,308.5" fill="none" stroke="#70e8f0" stroke-width="0.7" stroke-linejoin="round"/>
<polyline points="194.5,293.7 208.8,304.0" fill="none" stroke="#e8f070" stroke-width="0.7" stroke-linejoin="round"/>
<polyline points="201.8,293.7 208.8,298.0" fill="none" stroke="#f8a070" stroke-width="0.7" stroke-linejoin="round"/>
<polyline points="190.2,399.4 192.1,397.3 194.8,394.2 197.7,390.8 200.4,387.6 202.8,384.5 205.2,381.3 207.3,378.5 208.8,376.5" fill="none" stroke="#6aa8f8" stroke-width="0.7" stroke-linejoin="round"/>
<polyline points="203.3,399.4 208.8,392.0" fill="none" stroke="#70e8f0" stroke-width="0.7" stroke-linejoin="round"/>
<polyline points="133.1,391.5 134.0,392.7 135.4,394.6 136.8,396.4 137.8,397.8 138.4,398.6 138.7,399.0 138.9,399.2 139.0,399.4" fill="none" stroke="#6aa8f8" stroke-width="0.7" stroke-linejoin="round"/>
<path d="M164.6 357.8h0M167.7 320.6h0M161.6 298.9h0M172.3 325.5h0M171.8 337.2h0M171.9 317.5h0M162.1 334.5h0M162.6 336.0h0M168.4 319.8h0M155.6 339.0h0M170.0 294.3h0M171.3 357.7h0M174.9 337.5h0M166.5 307.9h0M161.0 310.2h0M173.9 336.0h0M160.3 351.8h0M170.7 342.1h0M166.4 316.5h0M155.0 294.3h0M166.8 311.6h0M168.8 320.1h0M170.7 326.9h0M170.4 306.6h0M157.3 313.1h0M169.9 328.1h0M163.5 322.0h0M164.2 316.9h0M172.7 332.9h0M159.6 352.0h0M174.2 343.4h0M169.7 370.5h0M156.8 303.6h0M163.0 310.0h0M161.8 317.2h0M163.4 347.5h0M169.2 338.8h0M173.0 302.8h0M176.4 294.3h0M165.9 339.8h0M171.7 326.3h0M163.9 340.6h0M166.4 327.5h0M165.8 348.3h0M172.9 340.3h0M158.9 343.7h0M164.3 316.8h0M159.8 338.5h0M169.4 311.2h0M168.8 348.8h0M170.8 306.0h0M154.5 333.8h0M163.0 313.9h0M164.2 306.6h0M169.0 334.4h0M160.8 344.2h0M170.8 330.6h0M170.8 327.9h0M167.5 306.3h0M151.3 332.4h0M158.9 325.8h0M173.0 327.1h0M166.0 346.5h0M159.5 301.0h0M158.2 322.6h0M164.7 319.8h0M168.2 372.8h0M155.9 301.8h0M165.4 321.0h0M172.0 338.1h0M173.1 339.7h0M164.1 319.0h0M158.5 322.1h0M169.0 308.6h0M159.2 330.8h0M173.8 305.4h0M169.9 316.4h0M155.1 334.1h0M165.3 333.8h0M163.7 381.6h0M154.8 301.5h0M175.9 316.9h0M165.8 316.9h0M164.7 347.8h0M169.3 350.9h0M165.1 307.9h0M162.4 335.5h0M169.5 303.7h0M163.0 335.1h0M173.0 328.3h0M160.0 324.3h0M161.9 331.0h0M175.8 357.5h0M166.7 332.3h0M163.8 301.3h0M176.1 331.5h0M166.3 321.4h0M158.5 350.2h0M162.9 341.4h0M168.6 334.3h0M169.4 332.0h0M158.9 337.4h0M166.5 313.9h0M162.1 331.7h0M166.1 330.6h0M163.3 294.3h0M169.2 297.5h0M164.2 350.3h0M172.4 344.8h0M163.5 301.7h0M170.6 341.5h0M159.1 326.7h0M157.4 308.5h0M168.5 334.4h0M161.1 332.3h0M164.5 326.7h0M161.7 301.6h0M174.1 319.5h0M168.1 326.5h0M169.7 325.0h0M160.4 330.2h0M165.2 312.2h0M163.1 360.8h0M166.1 310.8h0M170.1 352.9h0M166.3 295.6h0M161.9 352.2h0M178.2 321.6h0M173.2 323.7h0M161.5 294.3h0M162.2 337.0h0M169.1 310.7h0M166.2 346.7h0M169.2 343.4h0M165.8 351.5h0M160.6 354.3h0M164.2 313.8h0M164.6 340.5h0M166.7 338.6h0M165.0 334.5h0M151.8 341.1h0M163.3 350.3h0M175.7 315.5h0M163.9 306.1h0M177.9 333.7h0M165.5 370.5h0M158.6 322.5h0M163.6 347.0h0M170.5 316.7h0M167.6 354.6h0M172.3 326.0h0M168.1 338.3h0M172.1 315.5h0M165.1 344.9h0M158.3 348.3h0M172.9 346.4h0M173.2 333.7h0M167.6 299.3h0M157.5 329.8h0M166.5 314.0h0M173.1 310.5h0M164.8 313.4h0M164.2 317.7h0M160.3 349.5h0M172.5 332.3h0M173.9 380.6h0M163.5 328.1h0M173.5 325.0h0M168.1 344.7h0M180.8 314.3h0M167.5 330.6h0M157.0 315.0h0M161.6 329.1h0M174.0 338.5h0M162.8 308.4h0M155.0 324.2h0M176.5 305.6h0M163.6 309.0h0M159.9 308.7h0M172.2 322.2h0M158.9 343.8h0M173.6 332.0h0M182.1 294.3h0M168.6 327.4h0M164.7 307.0h0M162.3 357.6h0M162.6 311.4h0M183.1 305.4h0M168.4 311.8h0M169.0 351.1h0M164.9 322.7h0M160.8 335.7h0M171.0 341.3h0M164.5 338.2h0M169.6 335.4h0M162.3 355.4h0M164.3 294.3h0M163.9 333.3h0M157.0 303.8h0M165.8 317.9h0M172.3 338.5h0M160.2 320.2h0M165.0 333.2h0M161.9 322.4h0M175.7 347.1h0M167.6 348.0h0M153.1 294.3h0M170.2 324.1h0M176.4 319.9h0M174.2 349.9h0M177.2 344.5h0M171.7 331.9h0M172.4 348.3h0M166.8 339.9h0M165.9 337.5h0M169.6 312.2h0M177.5 351.0h0M177.2 319.9h0M166.6 313.5h0M163.4 355.8h0M176.8 331.3h0M170.4 371.2h0M162.6 304.1h0M171.1 340.6h0M168.5 334.1h0M161.3 322.1h0M163.0 332.5h0M160.1 328.9h0M174.4 313.9h0M168.5 323.7h0M172.4 312.8h0M168.9 318.9h0M167.3 334.8h0M167.8 340.9h0M166.2 297.8h0M157.6 313.3h0M166.4 294.3h0M167.0 326.9h0M163.5 351.3h0M166.8 320.4h0M165.8 308.0h0M167.7 304.0h0M166.7 317.2h0M173.1 308.1h0M175.2 354.8h0M174.1 330.1h0M166.6 317.6h0M160.7 336.2h0M169.0 346.8h0M164.5 341.2h0M162.9 345.9h0M168.9 321.3h0M169.4 354.8h0M167.0 325.4h0M178.7 343.6h0M168.3 298.1h0M166.0 327.9h0M171.1 320.8h0M171.7 318.9h0M165.3 339.9h0M171.7 321.3h0M163.2 334.9h0M159.7 317.2h0M164.3 334.8h0M173.1 311.2h0M163.0 339.6h0M156.4 317.7h0M162.3 317.9h0M170.9 332.8h0M171.4 352.7h0M168.8 309.6h0M169.0 298.7h0M171.5 316.7h0M175.7 320.2h0M171.4 317.0h0M161.5 323.4h0M176.5 338.1h0M173.4 359.0h0M161.0 299.1h0M158.6 339.0h0M163.7 319.8h0M178.0 356.0h0M172.3 307.2h0M153.9 321.4h0M167.2 338.6h0M170.3 348.1h0M164.7 322.3h0M172.2 296.9h0M155.6 338.8h0M168.4 328.4h0M168.2 314.1h0M170.4 328.9h0M164.0 327.2h0M172.7 311.3h0M160.5 336.0h0M170.2 326.7h0M164.6 353.0h0M170.1 320.6h0M177.9 301.9h0M163.1 326.7h0M162.8 321.2h0M167.5 341.9h0M160.3 301.5h0M164.3 312.6h0M173.5 347.2h0M163.5 330.3h0M171.0 349.6h0M170.7 350.0h0M149.6 323.6h0M156.4 330.8h0M168.1 311.6h0M173.5 337.5h0M167.3 328.7h0M166.6 320.3h0M161.4 313.8h0M167.8 336.4h0M165.8 329.2h0M173.7 320.6h0M176.1 330.5h0M169.3 339.2h0M153.0 304.9h0M167.7 310.6h0M172.8 319.0h0M166.3 348.2h0M177.2 299.9h0M162.6 345.4h0M157.7 338.0h0M173.6 321.7h0M163.8 321.3h0M161.5 321.3h0M166.0 343.9h0M161.1 326.8h0M165.8 338.8h0M163.2 307.8h0M165.2 340.9h0M173.9 329.4h0M161.4 335.6h0M170.1 299.4h0M171.5 369.9h0M165.3 318.0h0M159.9 294.3h0M171.4 342.5h0M173.7 330.0h0M164.6 312.9h0M164.6 304.6h0M165.6 352.7h0M168.7 333.9h0M168.7 315.2h0M166.1 299.0h0M172.5 331.3h0M170.9 364.7h0M165.9 321.9h0M175.6 326.8h0M172.8 308.5h0M178.6 326.4h0M165.0 307.0h0M177.4 315.8h0M166.8 325.8h0M165.5 326.2h0M167.6 333.8h0M157.1 340.3h0M172.7 299.5h0M171.8 315.8h0M162.6 308.3h0M165.9 328.2h0M175.4 321.8h0M166.8 312.2h0M166.1 349.2h0M171.4 316.9h0M166.6 314.5h0M160.7 354.6h0M164.4 330.7h0M157.8 329.7h0M163.6 328.6h0M166.4 332.3h0M165.3 322.7h0M165.4 342.3h0M155.6 324.8h0M167.8 355.6h0M171.9 362.6h0M165.3 322.2h0M162.2 303.1h0M173.3 339.7h0M161.9 348.1h0M172.6 316.3h0M161.0 325.6h0M161.4 328.4h0M162.5 340.2h0M174.0 328.6h0M175.0 350.7h0M159.0 332.7h0M171.6 347.9h0M173.3 324.3h0M156.9 324.6h0M164.8 346.7h0M162.6 332.3h0M176.2 309.6h0M162.4 343.0h0M155.3 324.2h0M160.7 354.9h0M171.3 339.5h0M161.0 311.8h0M173.5 322.5h0M169.6 317.0h0M172.8 335.7h0M162.7 301.9h0M170.4 296.5h0M163.7 330.2h0M165.9 324.8h0M164.8 346.4h0M170.9 335.2h0M165.2 355.3h0M178.4 344.2h0M159.6 355.7h0M167.4 331.9h0M170.3 297.6h0M165.0 317.5h0M180.1 294.3h0M168.2 340.2h0M174.0 352.6h0M171.9 325.4h0M168.9 304.0h0M161.1 340.5h0M160.5 339.4h0M160.9 322.5h0M166.7 336.4h0M166.9 329.5h0M174.5 323.4h0M158.0 330.7h0M160.5 341.2h0M172.6 318.9h0M175.4 301.0h0M168.8 329.5h0M167.3 346.6h0M178.7 310.0h0M166.3 333.6h0M166.3 332.3h0M173.3 333.9h0M174.5 328.3h0M163.4 336.1h0M175.6 310.0h0M165.2 307.1h0M172.3 312.0h0M170.0 299.3h0M158.8 328.2h0M170.7 330.7h0M164.8 306.1h0M164.5 363.5h0M164.0 323.3h0M167.5 316.9h0M162.3 347.1h0M163.2 351.6h0M163.6 294.3h0M173.7 294.3h0M166.7 354.9h0M161.8 329.6h0M177.0 312.8h0M168.9 296.1h0M164.4 347.7h0M161.1 352.6h0M165.3 334.5h0M175.6 345.9h0M163.6 294.3h0M162.4 329.9h0M162.7 315.3h0M172.2 330.0h0M174.2 314.6h0M169.6 319.2h0M171.7 313.5h0M160.5 311.0h0M169.4 322.1h0M156.7 319.2h0M169.7 322.3h0M154.8 321.2h0M154.7 341.2h0M164.9 337.5h0M165.4 337.4h0M170.0 331.2h0M161.0 310.1h0M175.8 315.4h0M156.6 336.6h0M169.8 332.9h0M169.0 343.4h0M164.8 335.7h0M160.4 341.8h0M169.8 341.0h0M168.6 334.9h0M161.6 326.2h0M173.2 328.4h0M184.2 311.5h0M161.9 303.7h0M176.0 352.1h0M176.4 300.3h0M168.7 318.4h0M175.8 317.2h0M174.4 321.8h0M169.3 326.3h0M174.3 294.8h0M163.0 357.2h0M160.5 367.2h0M163.1 316.2h0M165.5 301.4h0M179.7 339.0h0M153.1 330.5h0M172.6 334.0h0M162.4 304.1h0M171.9 311.8h0M175.6 325.9h0M164.5 294.3h0M169.9 306.4h0M175.7 342.6h0M166.0 327.4h0M159.8 329.1h0M166.6 300.2h0M172.1 302.8h0M166.4 322.0h0M161.9 340.9h0M175.4 310.8h0M165.3 328.5h0M160.2 302.8h0M159.0 304.3h0M163.3 310.4h0M172.4 319.4h0M167.4 331.2h0M169.2 312.4h0M164.4 294.3h0M166.4 308.9h0M175.4 316.5h0M168.4 332.0h0M167.4 322.6h0M171.2 303.2h0M160.9 338.4h0M163.4 305.3h0M159.2 321.0h0M169.5 322.0h0M172.7 324.9h0M171.0 339.2h0M171.3 322.4h0M159.7 338.6h0M165.9 326.7h0M176.3 339.2h0M170.9 341.5h0M177.6 294.3h0M171.4 330.5h0M179.6 307.9h0M163.7 308.0h0M157.7 319.2h0M159.1 320.6h0M161.1 309.5h0M165.8 304.3h0M164.4 334.5h0M171.1 301.3h0M167.2 356.0h0M171.1 313.6h0M177.4 300.9h0M168.5 310.7h0M155.2 343.3h0M170.5 301.6h0M172.5 327.9h0M175.5 380.0h0M170.3 314.9h0M170.4 306.0h0M169.2 329.3h0M173.9 368.8h0M177.5 331.6h0M156.2 330.1h0M166.5 329.3h0M170.8 300.4h0M161.9 318.2h0M172.3 337.9h0M172.0 321.8h0M171.5 354.2h0M171.5 316.5h0M167.9 306.3h0M166.9 302.0h0M168.3 371.5h0M168.1 355.2h0M169.6 323.1h0M170.9 339.4h0M164.2 353.7h0M167.2 330.2h0M167.9 340.4h0M162.5 303.9h0M168.1 295.3h0M167.1 339.2h0M161.5 313.3h0M168.3 350.5h0M167.4 313.3h0M154.8 352.3h0M165.3 316.1h0M163.8 321.2h0M159.2 324.3h0M162.7 320.5h0M173.3 319.5h0M177.9 327.9h0M166.6 319.4h0M167.0 315.3h0M161.6 305.9h0M159.7 313.5h0M164.6 300.4h0M164.6 327.6h0M171.2 304.0h0M179.7 306.4h0M164.6 315.8h0M164.6 320.0h0M173.7 336.2h0M159.7 322.4h0M181.3 318.5h0M172.9 315.7h0M169.8 319.1h0M170.8 313.1h0M171.0 346.0h0M165.6 321.3h0M168.5 298.2h0M172.3 318.3h0M171.3 329.4h0M160.9 339.8h0M164.4 326.0h0M167.5 347.5h0M162.4 297.7h0M170.0 354.1h0M160.6 317.8h0M166.3 327.8h0M169.2 334.6h0M165.0 294.3h0M169.6 347.9h0M160.5 309.5h0M168.7 337.9h0M176.0 329.3h0M172.7 332.8h0M181.3 344.6h0M157.5 321.4h0M168.4 340.5h0M167.8 337.0h0M173.0 313.3h0M172.7 343.7h0M161.9 332.3h0M169.5 309.8h0M162.1 341.5h0M164.0 346.3h0M165.0 353.9h0M166.3 300.1h0M156.6 345.0h0M173.6 339.6h0M158.8 310.4h0M168.1 320.5h0M170.1 344.7h0M168.3 333.1h0M173.0 360.9h0M164.2 321.2h0M167.8 350.1h0M165.6 315.3h0M172.0 304.1h0M159.6 337.5h0M167.1 346.9h0M172.9 333.4h0M181.3 331.4h0M174.6 337.5h0M160.0 343.0h0M163.4 316.4h0M173.7 327.4h0M163.4 352.7h0M161.4 327.9h0M170.9 336.0h0M168.3 310.2h0M166.0 316.7h0M173.1 326.4h0M157.7 333.4h0M156.2 340.6h0M174.7 330.7h0M156.7 309.0h0M163.9 383.5h0M161.0 319.4h0M165.6 327.4h0M160.6 309.7h0M166.4 347.8h0M172.3 329.4h0M169.2 334.2h0M165.4 332.2h0M161.6 315.9h0M172.1 295.1h0M152.3 307.7h0M154.3 352.4h0M165.4 334.7h0M163.9 324.9h0M174.0 342.3h0M172.6 327.5h0M156.5 341.6h0M162.9 330.5h0M156.8 314.0h0M172.3 333.4h0M161.0 337.0h0M165.1 320.3h0M166.0 303.8h0M175.7 328.7h0M171.1 331.0h0M160.9 313.8h0M168.4 324.0h0M174.0 319.2h0M158.8 305.2h0M163.4 294.3h0M179.6 331.1h0M175.6 317.3h0M169.8 334.3h0M168.0 338.2h0M168.9 312.1h0M164.3 294.3h0M157.1 335.7h0M178.2 307.7h0M167.9 320.2h0M161.3 325.9h0M172.9 305.7h0M161.3 345.3h0M176.9 346.8h0M169.1 335.2h0M168.6 304.9h0M158.5 325.5h0M168.5 322.0h0M175.2 373.8h0M171.1 333.7h0M164.6 349.8h0M168.2 315.0h0M166.3 325.6h0M169.4 359.1h0M169.4 342.5h0M164.0 350.2h0M172.7 304.5h0M171.5 320.8h0M167.6 338.6h0M167.3 321.8h0M166.6 335.3h0M165.5 342.5h0M161.1 336.5h0M162.7 338.7h0M164.8 311.8h0M177.9 326.2h0M159.5 322.2h0M162.9 311.1h0M168.3 351.6h0M171.7 320.5h0M166.3 351.5h0M162.7 329.7h0M159.3 352.5h0M165.0 336.5h0M170.7 294.3h0M168.8 327.4h0M170.2 337.9h0M170.0 317.6h0M171.4 335.5h0M167.1 313.8h0M157.4 337.5h0M174.7 319.3h0M175.4 361.6h0M169.6 361.2h0M154.1 294.3h0M160.4 327.1h0M177.9 324.8h0M177.4 367.4h0M163.9 353.1h0M168.6 322.2h0M161.0 313.8h0M172.1 338.3h0M166.1 338.9h0M161.8 344.9h0M156.0 319.6h0M172.5 358.7h0M162.1 326.8h0M168.1 294.3h0M177.8 294.3h0M168.5 350.3h0M178.8 337.6h0M179.1 297.5h0M172.2 359.9h0M173.2 304.7h0M169.5 294.3h0M167.1 334.8h0M157.4 320.4h0M175.6 346.8h0M165.5 307.3h0M165.5 332.6h0M172.8 329.0h0M158.3 315.1h0M166.6 316.7h0M172.0 347.4h0M158.4 337.3h0M167.8 335.9h0M163.3 294.3h0M163.7 315.1h0M163.4 349.5h0M156.2 300.7h0M167.3 331.6h0M168.3 336.8h0M161.7 316.9h0M162.2 377.3h0M160.1 303.2h0M165.7 305.0h0M166.3 316.0h0M174.2 318.0h0M178.0 327.1h0M167.1 297.3h0M170.2 339.9h0M158.7 314.1h0M153.1 347.5h0M166.5 339.0h0M166.3 331.7h0M165.3 294.3h0M160.5 353.1h0M161.3 334.2h0M161.3 346.9h0M169.7 336.4h0M163.9 337.2h0M168.8 303.8h0M168.6 299.3h0M175.1 319.4h0M163.5 310.5h0M157.9 331.2h0M158.2 351.9h0M165.1 314.4h0M164.5 321.4h0M171.3 314.0h0M174.5 370.1h0M160.0 302.6h0M164.6 343.4h0M171.9 300.4h0M168.1 338.6h0M179.4 349.3h0M166.5 337.2h0M171.8 342.6h0M156.1 345.9h0M162.0 341.7h0M174.8 330.2h0M177.3 307.9h0M168.3 335.3h0M157.5 346.9h0M168.7 350.6h0M171.1 336.0h0M168.2 317.1h0M165.9 341.5h0M166.0 312.3h0M164.3 332.3h0M169.4 332.8h0M164.9 332.7h0M172.7 345.4h0M169.9 314.4h0M163.3 346.4h0M164.0 311.4h0M167.5 322.6h0M172.6 337.3h0M165.7 324.8h0M171.3 327.2h0M169.4 319.6h0M164.9 359.7h0M163.7 305.3h0M171.8 327.9h0M170.6 318.5h0M166.6 333.0h0M167.7 336.9h0M157.4 313.6h0M162.2 324.1h0M163.6 321.6h0M173.6 318.9h0M165.1 332.2h0M166.2 321.3h0M151.7 306.3h0M163.8 329.6h0M166.1 322.8h0M166.1 328.2h0M166.6 334.9h0M158.9 335.0h0M166.3 307.6h0M165.6 323.3h0M182.9 317.7h0M172.5 303.7h0M163.9 296.9h0M170.1 307.9h0M167.0 314.4h0M164.1 338.4h0M166.5 318.9h0M171.0 331.4h0M169.4 312.0h0M174.3 324.9h0M157.5 326.5h0M167.7 339.2h0M174.0 302.6h0M156.8 329.4h0M160.6 362.5h0M174.4 342.6h0M164.9 336.4h0M171.7 294.3h0M165.0 302.4h0M168.4 318.7h0M166.9 312.0h0M165.3 326.9h0M167.3 315.8h0M162.4 323.3h0M163.5 328.2h0M171.6 320.2h0M165.4 329.0h0M172.6 344.4h0M160.0 350.8h0M176.8 307.3h0M154.9 315.5h0M176.4 340.0h0M166.2 319.6h0M168.8 332.0h0M165.7 310.8h0M159.7 355.5h0M164.8 315.4h0M172.4 310.2h0M166.5 317.5h0M176.8 307.6h0M165.7 324.6h0M165.4 316.4h0M174.3 302.9h0M166.5 318.3h0M168.4 330.8h0M173.2 306.2h0M174.6 303.3h0M179.2 311.9h0M170.4 307.1h0M163.2 316.0h0M159.5 323.7h0M165.4 343.3h0M160.2 318.8h0M177.9 337.4h0M166.7 369.9h0M164.8 346.6h0M161.8 330.9h0M172.8 310.2h0M163.1 320.6h0M159.4 335.2h0M174.5 311.3h0M170.0 336.1h0M178.5 335.1h0M166.9 314.5h0M176.9 322.6h0M166.0 308.8h0M166.8 326.7h0M167.3 354.5h0M155.1 322.5h0M172.0 316.6h0M170.5 303.6h0M161.4 353.7h0M167.1 313.7h0M164.9 328.9h0M157.8 318.8h0M171.9 322.0h0M164.0 342.0h0M162.9 328.8h0M162.7 321.8h0M162.4 348.5h0M159.3 339.9h0M175.1 327.8h0M167.6 294.3h0M167.0 325.3h0M149.0 337.6h0M177.4 318.7h0M171.7 349.2h0M157.8 296.9h0M165.5 328.7h0M159.0 294.3h0M172.5 303.9h0M163.1 350.4h0M173.3 350.2h0M169.1 322.0h0M170.3 330.1h0M158.5 318.8h0M170.0 352.1h0M162.0 347.7h0M164.9 309.7h0M164.4 309.0h0M158.2 318.8h0M173.6 317.9h0M165.4 342.1h0M169.3 312.5h0M162.4 308.4h0M163.4 328.2h0M167.7 340.4h0M162.3 343.7h0M170.6 294.3h0M174.3 328.0h0M163.8 314.6h0M166.3 307.8h0M178.0 336.2h0M166.1 326.7h0M162.9 320.4h0M161.7 331.5h0M170.2 321.0h0M177.8 315.3h0M164.3 333.1h0M165.5 322.2h0M170.6 339.3h0M162.5 324.1h0M166.3 307.7h0M171.8 330.3h0M166.0 354.7h0M169.8 329.2h0M166.4 325.1h0M172.1 300.3h0M165.0 324.6h0M164.6 302.6h0M166.3 310.7h0M167.3 304.5h0M162.9 311.0h0M163.3 297.9h0M160.1 312.0h0M172.4 303.0h0M160.5 301.7h0M162.4 306.6h0M162.3 303.5h0M170.7 307.3h0M163.0 302.1h0M156.4 298.6h0M170.5 297.8h0M167.9 303.9h0M172.4 302.1h0M166.5 310.5h0M167.1 310.1h0M156.4 308.9h0M171.8 310.1h0M165.9 311.7h0M175.6 308.9h0M162.7 296.2h0M161.9 299.8h0M162.5 302.9h0M167.6 311.6h0M164.4 306.5h0M159.7 303.3h0M164.6 309.4h0M166.7 295.0h0M170.7 294.3h0M159.9 310.7h0M166.5 308.8h0M166.6 304.1h0M165.1 305.7h0M172.8 311.5h0M164.4 305.0h0M162.0 311.9h0M157.6 302.1h0M161.0 312.0h0M162.3 304.1h0M163.3 305.3h0M171.0 304.7h0M170.9 303.1h0M162.2 298.3h0M168.2 297.8h0M169.1 305.9h0M170.5 305.6h0M167.6 304.8h0M159.3 308.3h0M159.4 306.2h0M167.7 296.0h0M171.2 303.9h0M167.0 301.1h0M167.6 300.9h0M169.8 302.7h0M168.5 308.6h0M167.8 309.4h0M168.3 306.1h0M166.7 296.6h0M161.7 310.4h0M161.8 298.8h0M162.4 303.0h0M164.4 296.6h0M160.0 301.9h0M169.9 303.2h0M166.8 306.4h0M166.3 307.9h0M163.0 294.9h0M165.8 310.1h0M175.1 310.2h0M169.5 310.7h0M167.0 298.6h0M174.9 304.3h0M163.0 311.7h0M173.6 300.0h0M170.7 298.4h0M166.9 310.9h0M161.9 303.8h0M163.6 306.5h0M168.4 302.4h0M163.0 304.7h0M161.8 308.6h0M163.0 305.9h0M166.1 311.3h0M174.0 306.6h0M171.2 295.2h0M174.4 311.4h0M161.1 310.7h0M162.9 310.5h0M167.1 295.6h0M164.4 301.0h0M170.6 303.9h0M165.6 302.8h0M168.9 300.1h0M160.1 306.9h0M168.3 304.7h0M173.9 301.9h0M170.6 302.9h0M164.8 308.8h0M168.3 303.4h0M165.7 294.7h0M163.6 307.9h0M170.9 305.1h0M159.1 311.1h0M163.3 304.7h0M169.8 305.8h0M163.2 307.7h0M168.2 305.5h0M169.5 301.4h0M160.0 302.5h0M160.8 297.4h0M154.2 299.7h0M170.7 311.6h0M168.7 300.3h0M161.6 306.5h0M164.4 310.0h0M162.7 309.8h0M181.5 303.4h0M166.6 305.7h0M146.9 315.7h0M139.5 308.0h0M143.5 307.6h0M139.9 305.8h0M144.2 311.7h0M137.8 312.7h0M146.3 305.5h0M143.6 315.1h0M142.8 307.2h0M142.6 306.3h0M153.1 350.8h0M138.2 339.3h0M149.0 374.9h0M147.8 352.2h0M135.0 332.1h0M135.5 368.9h0M138.1 327.8h0M145.7 324.5h0M158.3 364.8h0M147.7 348.0h0M145.0 317.7h0M136.4 374.6h0M155.6 368.4h0M153.8 310.1h0M154.5 353.2h0M136.0 366.2h0M146.9 350.9h0M138.5 349.4h0M150.0 359.6h0M158.7 369.7h0M144.9 323.8h0M157.8 311.7h0M158.4 299.9h0M149.2 310.9h0M156.2 308.7h0M199.3 337.2h0M198.7 366.3h0M201.6 305.6h0M177.1 343.9h0M203.0 306.6h0M207.6 302.7h0M177.3 298.5h0M204.1 365.3h0M183.4 324.3h0M202.5 315.1h0M181.6 354.4h0M203.7 311.4h0M203.9 364.9h0M181.7 364.9h0M198.9 356.6h0M177.0 319.4h0M178.6 332.6h0M193.5 358.8h0M197.2 300.4h0M184.6 364.0h0M200.7 333.2h0M200.8 362.7h0M179.2 302.5h0M203.0 341.7h0M205.3 364.6h0M162.6 363.0h0M184.7 370.2h0M171.3 398.7h0M178.6 385.5h0M169.2 379.1h0M149.8 373.1h0M159.7 390.3h0M168.5 365.1h0M166.4 386.1h0M176.9 375.0h0M174.8 363.2h0M174.9 370.7h0M150.4 364.1h0M174.6 365.4h0M173.8 383.6h0M176.9 393.4h0M171.1 390.9h0M175.7 383.4h0M175.1 377.3h0M180.4 382.6h0M150.4 382.9h0M164.1 375.7h0M158.2 381.3h0M166.6 366.3h0M167.0 369.9h0M178.9 398.8h0M177.4 398.8h0M157.3 398.8h0M178.3 398.8h0M156.5 398.8h0M137.8 398.8h0M184.8 398.8h0M156.8 398.8h0M155.2 398.8h0M161.1 398.8h0M169.3 398.8h0M167.9 398.8h0M133.7 363.3h0M133.7 353.3h0M133.7 325.7h0M133.7 323.5h0" stroke="#000" stroke-width="2.40" stroke-linecap="round" fill="none"/>
<circle cx="166.9" cy="324.6" r="1.1" fill="#f00"/>
</g>
<polyline points="244.3,350.0 244.9,306.9 245.3,335.0 245.6,346.0 246.6,362.0 247.7,371.3 248.9,377.0 251.2,382.8 254.6,386.9 260.4,389.0 269.6,389.7 282.0,390.1 300.0,390.6 319.1,391.2" fill="none" stroke="#7ef07e" stroke-width="0.8" stroke-linejoin="round"/>
<polyline points="354.7,294.0 355.0,317.0 355.2,348.1 356.9,349.5 358.0,360.3 359.0,371.0 360.6,379.2 362.3,386.0 364.2,390.0 366.9,391.4 369.6,392.7 372.3,394.0 376.3,395.4 381.7,396.0 387.1,396.2 392.5,397.0 402.0,397.6 415.0,398.2 429.9,398.6" fill="none" stroke="#f77" stroke-width="0.7" stroke-linejoin="round"/>
<polyline points="465.9,300.9 466.3,313.9 466.8,328.0 467.7,330.2 468.5,328.0 469.4,332.4 470.3,334.6 471.1,332.4 472.0,353.0 472.9,336.7 474.0,340.0 474.6,348.7 475.5,338.9 476.3,353.0 477.2,336.7 478.3,346.5 479.4,338.9 480.5,350.9 481.6,338.9 482.7,347.6 483.7,336.7 484.8,346.5 485.9,340.0 487.0,343.3 488.1,345.4 489.2,336.7 490.3,344.3 491.3,338.9 492.4,342.2 493.5,348.7 494.6,332.4 495.7,340.0 496.8,353.0 497.9,334.6 499.0,338.9 500.0,336.5 501.2,337.5 502.4,336.3 503.6,343.6 504.8,350.8 506.0,347.2 507.3,352.0 508.5,342.3 509.7,348.4 510.9,356.9 512.1,336.3 513.3,342.3 514.5,343.6 515.7,347.2 516.9,344.8 518.1,352.0 519.4,346.0 520.6,349.6 521.8,347.2 523.0,352.0 524.2,360.5 525.4,346.0 526.6,348.4 527.8,349.6 529.0,350.8 530.2,354.4 531.5,364.1 532.7,365.3 533.9,369.0 535.1,377.4 536.3,378.6 537.5,379.8 538.2,384.7 539.2,391.9 539.9,393.2 540.7,396.0" fill="none" stroke="#444" stroke-width="0.7" stroke-linejoin="round"/>
<g transform="matrix(1.0035,0,0,1,0.64,278.1)">
<line x1="75.60" y1="111.10" x2="42.90" y2="85.10" stroke="#b8b8b8" stroke-width="0.4" stroke-dasharray="0.6 1"/>
<line x1="38.05" y1="108.00" x2="80.45" y2="88.20" stroke="#b8b8b8" stroke-width="0.4" stroke-dasharray="0.6 1"/>
<line x1="42.90" y1="85.10" x2="42.90" y2="26.50" stroke="#b8b8b8" stroke-width="0.4" stroke-dasharray="0.6 1"/>
<line x1="80.45" y1="88.20" x2="80.45" y2="29.60" stroke="#b8b8b8" stroke-width="0.4" stroke-dasharray="0.6 1"/>
<line x1="21.70" y1="80.35" x2="64.10" y2="60.55" stroke="#b8b8b8" stroke-width="0.4" stroke-dasharray="0.6 1"/>
<line x1="64.10" y1="60.55" x2="96.80" y2="86.55" stroke="#b8b8b8" stroke-width="0.4" stroke-dasharray="0.6 1"/>
<line x1="21.70" y1="65.70" x2="64.10" y2="45.90" stroke="#b8b8b8" stroke-width="0.4" stroke-dasharray="0.6 1"/>
<line x1="64.10" y1="45.90" x2="96.80" y2="71.90" stroke="#b8b8b8" stroke-width="0.4" stroke-dasharray="0.6 1"/>
<line x1="21.70" y1="51.05" x2="64.10" y2="31.25" stroke="#b8b8b8" stroke-width="0.4" stroke-dasharray="0.6 1"/>
<line x1="64.10" y1="31.25" x2="96.80" y2="57.25" stroke="#b8b8b8" stroke-width="0.4" stroke-dasharray="0.6 1"/>
<line x1="21.70" y1="95.00" x2="64.10" y2="75.20" stroke="#3c3c3c" stroke-width="0.55"/>
<line x1="64.10" y1="75.20" x2="96.80" y2="101.20" stroke="#3c3c3c" stroke-width="0.55"/>
<line x1="64.10" y1="75.20" x2="64.10" y2="16.60" stroke="#3c3c3c" stroke-width="0.55"/>
<g opacity="0.8">
<path class="j57" d="M63.8 35.6 65.3 31.3 64.1 24.1 62.6 28.6z"/>
<path class="j52" d="M62.2 41.3 63.8 35.6 62.6 28.6 61.1 34.6z"/>
<path class="j50" d="M64.9 42.1 66.4 37.9 65.3 31.3 63.8 35.6z"/>
<path class="j45" d="M60.7 48.5 62.2 41.3 61.1 34.6 59.6 42.1z"/>
<path class="j45" d="M63.4 47.5 64.9 42.1 63.8 35.6 62.2 41.3z"/>
<path class="j44" d="M66.1 47.8 67.6 43.7 66.4 37.9 64.9 42.1z"/>
<path class="j37" d="M59.2 55.3 60.7 48.5 59.6 42.1 58 49.2z"/>
<path class="j38" d="M61.9 54.4 63.4 47.5 62.2 41.3 60.7 48.5z"/>
<path class="j39" d="M64.6 53.1 66.1 47.8 64.9 42.1 63.4 47.5z"/>
<path class="j38" d="M67.3 52.7 68.8 48.6 67.6 43.7 66.1 47.8z"/>
<path class="j30" d="M57.7 60.9 59.2 55.3 58 49.2 56.5 55.1z"/>
<path class="j31" d="M60.4 60.9 61.9 54.4 60.7 48.5 59.2 55.3z"/>
<path class="j32" d="M63.1 59.7 64.6 53.1 63.4 47.5 61.9 54.4z"/>
<path class="j34" d="M65.7 57.7 67.3 52.7 66.1 47.8 64.6 53.1z"/>
<path class="j24" d="M56.2 66.2 57.7 60.9 56.5 55.1 55 60.7z"/>
<path class="j34" d="M68.4 56.5 69.9 52.5 68.8 48.6 67.3 52.7z"/>
<path class="j24" d="M58.9 66.2 60.4 60.9 59.2 55.3 57.7 60.9z"/>
<path class="j25" d="M61.5 65.9 63.1 59.7 61.9 54.4 60.4 60.9z"/>
<path class="j27" d="M64.2 64 65.7 57.7 64.6 53.1 63.1 59.7z"/>
<path class="j19" d="M54.7 70.8 56.2 66.2 55 60.7 53.5 65.5z"/>
<path class="j30" d="M66.9 61.4 68.4 56.5 67.3 52.7 65.7 57.7z"/>
<path class="j18" d="M57.3 71.3 58.9 66.2 57.7 60.9 56.2 66.2z"/>
<path class="j31" d="M69.6 60 71.1 56.1 69.9 52.5 68.4 56.5z"/>
<path class="j19" d="M60 70.9 61.5 65.9 60.4 60.9 58.9 66.2z"/>
<path class="j21" d="M62.7 70 64.2 64 63.1 59.7 61.5 65.9z"/>
<path class="j14" d="M53.2 74.1 54.7 70.8 53.5 65.5 52 69.1z"/>
<path class="j23" d="M65.4 67.5 66.9 61.4 65.7 57.7 64.2 64z"/>
<path class="j13" d="M55.8 75.6 57.3 71.3 56.2 66.2 54.7 70.8z"/>
<path class="j26" d="M68.1 64.8 69.6 60 68.4 56.5 66.9 61.4z"/>
<path class="j14" d="M58.5 75.7 60 70.9 58.9 66.2 57.3 71.3z"/>
<path class="j28" d="M70.8 63.2 72.3 59.3 71.1 56.1 69.6 60z"/>
<path class="j15" d="M61.2 74.8 62.7 70 61.5 65.9 60 70.9z"/>
<path class="j12" d="M51.6 76.5 53.2 74.1 52 69.1 50.5 71.6z"/>
<path class="j17" d="M63.9 73.3 65.4 67.5 64.2 64 62.7 70z"/>
<path class="j10" d="M54.3 78.8 55.8 75.6 54.7 70.8 53.2 74.1z"/>
<path class="j20" d="M66.6 70.7 68.1 64.8 66.9 61.4 65.4 67.5z"/>
<path class="j9" d="M57 79.9 58.5 75.7 57.3 71.3 55.8 75.6z"/>
<path class="j23" d="M69.2 67.9 70.8 63.2 69.6 60 68.1 64.8z"/>
<path class="j10" d="M59.7 79.4 61.2 74.8 60 70.9 58.5 75.7z"/>
<path class="j10" d="M50.1 78.6 51.6 76.5 50.5 71.6 49 73.9z"/>
<path class="j25" d="M71.9 66 73.4 62.1 72.3 59.3 70.8 63.2z"/>
<path class="j11" d="M62.4 77.9 63.9 73.3 62.7 70 61.2 74.8z"/>
<path class="j7" d="M52.8 81 54.3 78.8 53.2 74.1 51.6 76.5z"/>
<path class="j14" d="M65 76.2 66.6 70.7 65.4 67.5 63.9 73.3z"/>
<path class="j6" d="M55.5 81.8 57 79.9 55.8 75.6 54.3 78.8z"/>
<path class="j18" d="M67.7 73.5 69.2 67.9 68.1 64.8 66.6 70.7z"/>
<path class="j5" d="M58.2 82 59.7 79.4 58.5 75.7 57 79.9z"/>
<path class="j8" d="M48.6 80.2 50.1 78.6 49 73.9 47.4 75.6z"/>
<path class="j21" d="M70.4 70.5 71.9 66 70.8 63.2 69.2 67.9z"/>
<path class="j7" d="M60.9 82.3 62.4 77.9 61.2 74.8 59.7 79.4z"/>
<path class="j5" d="M51.3 82.3 52.8 81 51.6 76.5 50.1 78.6z"/>
<path class="j23" d="M73.1 68.2 74.6 64.3 73.4 62.1 71.9 66z"/>
<path class="j9" d="M63.5 80.7 65 76.2 63.9 73.3 62.4 77.9z"/>
<path class="j4" d="M54 82.5 55.5 81.8 54.3 78.8 52.8 81z"/>
<path class="j12" d="M66.2 78.8 67.7 73.5 66.6 70.7 65 76.2z"/>
<path class="j3" d="M56.7 82.7 58.2 82 57 79.9 55.5 81.8z"/>
<path class="j8" d="M47.1 81 48.6 80.2 47.4 75.6 45.9 76.7z"/>
<path class="j16" d="M68.9 76 70.4 70.5 69.2 67.9 67.7 73.5z"/>
<path class="j4" d="M59.3 83 60.9 82.3 59.7 79.4 58.2 82z"/>
<path class="j5" d="M49.8 83 51.3 82.3 50.1 78.6 48.6 80.2z"/>
<path class="j19" d="M71.6 72.7 73.1 68.2 71.9 66 70.4 70.5z"/>
<path class="j5" d="M62 83.2 63.5 80.7 62.4 77.9 60.9 82.3z"/>
<path class="j3" d="M52.5 83.2 54 82.5 52.8 81 51.3 82.3z"/>
<path class="j22" d="M74.3 70 75.8 66 74.6 64.3 73.1 68.2z"/>
<path class="j7" d="M64.7 83.1 66.2 78.8 65 76.2 63.5 80.7z"/>
<path class="j3" d="M55.1 83.4 56.7 82.7 55.5 81.8 54 82.5z"/>
<path class="j7" d="M45.6 81.6 47.1 81 45.9 76.7 44.4 77.3z"/>
<path class="j10" d="M67.4 81.1 68.9 76 67.7 73.5 66.2 78.8z"/>
<path class="j3" d="M57.8 83.7 59.3 83 58.2 82 56.7 82.7z"/>
<path class="j4" d="M48.3 83.7 49.8 83 48.6 80.2 47.1 81z"/>
<path class="j14" d="M70.1 77.9 71.6 72.7 70.4 70.5 68.9 76z"/>
<path class="j3" d="M60.5 83.9 62 83.2 60.9 82.3 59.3 83z"/>
<path class="j3" d="M50.9 83.9 52.5 83.2 51.3 82.3 49.8 83z"/>
<path class="j18" d="M72.8 74.3 74.3 70 73.1 68.2 71.6 72.7z"/>
<path class="j4" d="M63.2 84.1 64.7 83.1 63.5 80.7 62 83.2z"/>
<path class="j3" d="M53.6 84.2 55.1 83.4 54 82.5 52.5 83.2z"/>
<path class="j21" d="M75.4 71.6 76.9 67.7 75.8 66 74.3 70z"/>
<path class="j8" d="M44.1 82.1 45.6 81.6 44.4 77.3 42.9 77.9z"/>
<path class="j5" d="M65.9 84.3 67.4 81.1 66.2 78.8 64.7 83.1z"/>
<path class="j3" d="M56.3 84.4 57.8 83.7 56.7 82.7 55.1 83.4z"/>
<path class="j4" d="M46.8 84.4 48.3 83.7 47.1 81 45.6 81.6z"/>
<path class="j8" d="M68.6 82.9 70.1 77.9 68.9 76 67.4 81.1z"/>
<path class="j3" d="M59 84.6 60.5 83.9 59.3 83 57.8 83.7z"/>
<path class="j3" d="M49.4 84.6 50.9 83.9 49.8 83 48.3 83.7z"/>
<path class="j13" d="M71.2 79.4 72.8 74.3 71.6 72.7 70.1 77.9z"/>
<path class="j3" d="M61.7 84.8 63.2 84.1 62 83.2 60.5 83.9z"/>
<path class="j3" d="M52.1 84.9 53.6 84.2 52.5 83.2 50.9 83.9z"/>
<path class="j17" d="M73.9 75.9 75.4 71.6 74.3 70 72.8 74.3z"/>
<path class="j8" d="M42.6 82.5 44.1 82.1 42.9 77.9 41.4 78.5z"/>
<path class="j3" d="M64.4 85 65.9 84.3 64.7 83.1 63.2 84.1z"/>
<path class="j3" d="M54.8 85.1 56.3 84.4 55.1 83.4 53.6 84.2z"/>
<path class="j20" d="M76.6 73.2 78.1 69.2 76.9 67.7 75.4 71.6z"/>
<path class="j4" d="M45.2 85.1 46.8 84.4 45.6 81.6 44.1 82.1z"/>
<path class="j4" d="M67 85.3 68.6 82.9 67.4 81.1 65.9 84.3z"/>
<path class="j3" d="M57.5 85.3 59 84.6 57.8 83.7 56.3 84.4z"/>
<path class="j3" d="M47.9 85.3 49.4 84.6 48.3 83.7 46.8 84.4z"/>
<path class="j7" d="M69.7 84.2 71.2 79.4 70.1 77.9 68.6 82.9z"/>
<path class="j3" d="M60.2 85.5 61.7 84.8 60.5 83.9 59 84.6z"/>
<path class="j3" d="M50.6 85.6 52.1 84.9 50.9 83.9 49.4 84.6z"/>
<path class="j12" d="M72.4 80.8 73.9 75.9 72.8 74.3 71.2 79.4z"/>
<path class="j8" d="M41 82.9 42.6 82.5 41.4 78.5 39.9 79.1z"/>
<path class="j3" d="M62.8 85.7 64.4 85 63.2 84.1 61.7 84.8z"/>
<path class="j3" d="M53.3 85.8 54.8 85.1 53.6 84.2 52.1 84.9z"/>
<path class="j16" d="M75.1 77.3 76.6 73.2 75.4 71.6 73.9 75.9z"/>
<path class="j4" d="M43.7 85.8 45.2 85.1 44.1 82.1 42.6 82.5z"/>
<path class="j3" d="M65.5 86 67 85.3 65.9 84.3 64.4 85z"/>
<path class="j3" d="M56 86 57.5 85.3 56.3 84.4 54.8 85.1z"/>
<path class="j20" d="M77.8 74.7 79.3 70.7 78.1 69.2 76.6 73.2z"/>
<path class="j3" d="M46.4 86.1 47.9 85.3 46.8 84.4 45.2 85.1z"/>
<path class="j4" d="M68.2 86.2 69.7 84.2 68.6 82.9 67 85.3z"/>
<path class="j3" d="M58.6 86.2 60.2 85.5 59 84.6 57.5 85.3z"/>
<path class="j3" d="M49.1 86.3 50.6 85.6 49.4 84.6 47.9 85.3z"/>
<path class="j7" d="M70.9 85.4 72.4 80.8 71.2 79.4 69.7 84.2z"/>
<path class="j8" d="M39.5 83.3 41 82.9 39.9 79.1 38.4 79.6z"/>
<path class="j3" d="M61.3 86.5 62.8 85.7 61.7 84.8 60.2 85.5z"/>
<path class="j3" d="M51.8 86.5 53.3 85.8 52.1 84.9 50.6 85.6z"/>
<path class="j11" d="M73.6 82.1 75.1 77.3 73.9 75.9 72.4 80.8z"/>
<path class="j5" d="M42.2 86.5 43.7 85.8 42.6 82.5 41 82.9z"/>
<path class="j3" d="M64 86.7 65.5 86 64.4 85 62.8 85.7z"/>
<path class="j3" d="M54.4 86.7 56 86 54.8 85.1 53.3 85.8z"/>
<path class="j15" d="M76.3 78.7 77.8 74.7 76.6 73.2 75.1 77.3z"/>
<path class="j3" d="M44.9 86.8 46.4 86.1 45.2 85.1 43.7 85.8z"/>
<path class="j3" d="M66.7 86.9 68.2 86.2 67 85.3 65.5 86z"/>
<path class="j3" d="M57.1 86.9 58.6 86.2 57.5 85.3 56 86z"/>
<path class="j19" d="M78.9 76.1 80.4 72 79.3 70.7 77.8 74.7z"/>
<path class="j3" d="M47.6 87 49.1 86.3 47.9 85.3 46.4 86.1z"/>
<path class="j4" d="M69.4 87.1 70.9 85.4 69.7 84.2 68.2 86.2z"/>
<path class="j9" d="M38 83.6 39.5 83.3 38.4 79.6 36.8 80.1z"/>
<path class="j3" d="M59.8 87.2 61.3 86.5 60.2 85.5 58.6 86.2z"/>
<path class="j3" d="M50.3 87.2 51.8 86.5 50.6 85.6 49.1 86.3z"/>
<path class="j7" d="M72.1 86.6 73.6 82.1 72.4 80.8 70.9 85.4z"/>
<path class="j5" d="M40.7 86.7 42.2 86.5 41 82.9 39.5 83.3z"/>
<path class="j3" d="M62.5 87.4 64 86.7 62.8 85.7 61.3 86.5z"/>
<path class="j3" d="M52.9 87.4 54.4 86.7 53.3 85.8 51.8 86.5z"/>
<path class="j11" d="M74.7 83.4 76.3 78.7 75.1 77.3 73.6 82.1z"/>
<path class="j3" d="M43.4 87.5 44.9 86.8 43.7 85.8 42.2 86.5z"/>
<path class="j3" d="M65.2 87.6 66.7 86.9 65.5 86 64 86.7z"/>
<path class="j3" d="M55.6 87.6 57.1 86.9 56 86 54.4 86.7z"/>
<path class="j15" d="M77.4 80 78.9 76.1 77.8 74.7 76.3 78.7z"/>
<path class="j3" d="M46.1 87.7 47.6 87 46.4 86.1 44.9 86.8z"/>
<path class="j3" d="M67.9 87.8 69.4 87.1 68.2 86.2 66.7 86.9z"/>
<path class="j9" d="M36.5 83.9 38 83.6 36.8 80.1 35.3 80.5z"/>
<path class="j3" d="M58.3 87.9 59.8 87.2 58.6 86.2 57.1 86.9z"/>
<path class="j18" d="M80.1 77.3 81.6 73.3 80.4 72 78.9 76.1z"/>
<path class="j3" d="M48.7 87.9 50.3 87.2 49.1 86.3 47.6 87z"/>
<path class="j4" d="M70.5 88 72.1 86.6 70.9 85.4 69.4 87.1z"/>
<path class="j6" d="M39.2 86.9 40.7 86.7 39.5 83.3 38 83.6z"/>
<path class="j3" d="M61 88.1 62.5 87.4 61.3 86.5 59.8 87.2z"/>
<path class="j3" d="M51.4 88.1 52.9 87.4 51.8 86.5 50.3 87.2z"/>
<path class="j6" d="M73.2 87.6 74.7 83.4 73.6 82.1 72.1 86.6z"/>
<path class="j3" d="M41.9 88.2 43.4 87.5 42.2 86.5 40.7 86.7z"/>
<path class="j3" d="M63.7 88.3 65.2 87.6 64 86.7 62.5 87.4z"/>
<path class="j3" d="M54.1 88.4 55.6 87.6 54.4 86.7 52.9 87.4z"/>
<path class="j10" d="M75.9 84.5 77.4 80 76.3 78.7 74.7 83.4z"/>
<path class="j3" d="M44.5 88.4 46.1 87.7 44.9 86.8 43.4 87.5z"/>
<path class="j3" d="M66.3 88.5 67.9 87.8 66.7 86.9 65.2 87.6z"/>
<path class="j9" d="M35 84.2 36.5 83.9 35.3 80.5 33.8 81z"/>
<path class="j3" d="M56.8 88.6 58.3 87.9 57.1 86.9 55.6 87.6z"/>
<path class="j14" d="M78.6 81.2 80.1 77.3 78.9 76.1 77.4 80z"/>
<path class="j3" d="M47.2 88.6 48.7 87.9 47.6 87 46.1 87.7z"/>
<path class="j3" d="M69 88.8 70.5 88 69.4 87.1 67.9 87.8z"/>
<path class="j6" d="M37.7 87.1 39.2 86.9 38 83.6 36.5 83.9z"/>
<path class="j3" d="M59.5 88.8 61 88.1 59.8 87.2 58.3 87.9z"/>
<path class="j18" d="M81.3 78.5 82.8 74.4 81.6 73.3 80.1 77.3z"/>
<path class="j3" d="M49.9 88.8 51.4 88.1 50.3 87.2 48.7 87.9z"/>
<path class="j4" d="M71.7 89 73.2 87.6 72.1 86.6 70.5 88z"/>
<path class="j4" d="M40.3 88.9 41.9 88.2 40.7 86.7 39.2 86.9z"/>
<path class="j3" d="M62.1 89 63.7 88.3 62.5 87.4 61 88.1z"/>
<path class="j3" d="M52.6 89.1 54.1 88.4 52.9 87.4 51.4 88.1z"/>
<path class="j6" d="M74.4 88.6 75.9 84.5 74.7 83.4 73.2 87.6z"/>
<path class="j3" d="M43 89.1 44.5 88.4 43.4 87.5 41.9 88.2z"/>
<path class="j3" d="M64.8 89.2 66.3 88.5 65.2 87.6 63.7 88.3z"/>
<path class="j10" d="M33.5 84.5 35 84.2 33.8 81 32.3 81.4z"/>
<path class="j3" d="M55.3 89.3 56.8 88.6 55.6 87.6 54.1 88.4z"/>
<path class="j10" d="M77.1 85.5 78.6 81.2 77.4 80 75.9 84.5z"/>
<path class="j3" d="M45.7 89.3 47.2 88.6 46.1 87.7 44.5 88.4z"/>
<path class="j3" d="M67.5 89.5 69 88.8 67.9 87.8 66.3 88.5z"/>
<path class="j7" d="M36.1 87.2 37.7 87.1 36.5 83.9 35 84.2z"/>
<path class="j3" d="M58 89.5 59.5 88.8 58.3 87.9 56.8 88.6z"/>
<path class="j14" d="M79.8 82.3 81.3 78.5 80.1 77.3 78.6 81.2z"/>
<path class="j3" d="M48.4 89.5 49.9 88.8 48.7 87.9 47.2 88.6z"/>
<path class="j3" d="M70.2 89.7 71.7 89 70.5 88 69 88.8z"/>
<path class="j4" d="M38.8 89.6 40.3 88.9 39.2 86.9 37.7 87.1z"/>
<path class="j3" d="M60.6 89.7 62.1 89 61 88.1 59.5 88.8z"/>
<path class="j18" d="M82.4 79.5 84 75.4 82.8 74.4 81.3 78.5z"/>
<path class="j3" d="M51.1 89.8 52.6 89.1 51.4 88.1 49.9 88.8z"/>
<path class="j3" d="M72.9 89.9 74.4 88.6 73.2 87.6 71.7 89z"/>
<path class="j3" d="M41.5 89.8 43 89.1 41.9 88.2 40.3 88.9z"/>
<path class="j3" d="M63.3 89.9 64.8 89.2 63.7 88.3 62.1 89z"/>
<path class="j10" d="M32 84.8 33.5 84.5 32.3 81.4 30.8 81.9z"/>
<path class="j3" d="M53.8 90 55.3 89.3 54.1 88.4 52.6 89.1z"/>
<path class="j6" d="M75.6 89.5 77.1 85.5 75.9 84.5 74.4 88.6z"/>
<path class="j3" d="M44.2 90 45.7 89.3 44.5 88.4 43 89.1z"/>
<path class="j3" d="M66 90.2 67.5 89.5 66.3 88.5 64.8 89.2z"/>
<path class="j7" d="M34.6 87.4 36.1 87.2 35 84.2 33.5 84.5z"/>
<path class="j3" d="M56.4 90.2 58 89.5 56.8 88.6 55.3 89.3z"/>
<path class="j10" d="M78.2 86.4 79.8 82.3 78.6 81.2 77.1 85.5z"/>
<path class="j3" d="M46.9 90.3 48.4 89.5 47.2 88.6 45.7 89.3z"/>
<path class="j3" d="M68.7 90.4 70.2 89.7 69 88.8 67.5 89.5z"/>
<path class="j4" d="M37.3 89.9 38.8 89.6 37.7 87.1 36.1 87.2z"/>
<path class="j3" d="M59.1 90.4 60.6 89.7 59.5 88.8 58 89.5z"/>
<path class="j14" d="M80.9 83.2 82.4 79.5 81.3 78.5 79.8 82.3z"/>
<path class="j3" d="M49.6 90.5 51.1 89.8 49.9 88.8 48.4 89.5z"/>
<path class="j3" d="M71.4 90.6 72.9 89.9 71.7 89 70.2 89.7z"/>
<path class="j3" d="M40 90.5 41.5 89.8 40.3 88.9 38.8 89.6z"/>
<path class="j3" d="M61.8 90.7 63.3 89.9 62.1 89 60.6 89.7z"/>
<path class="j18" d="M83.6 80.3 85.1 76.2 84 75.4 82.4 79.5z"/>
<path class="j11" d="M30.4 84.9 32 84.8 30.8 81.9 29.3 82.2z"/>
<path class="j3" d="M52.2 90.7 53.8 90 52.6 89.1 51.1 89.8z"/>
<path class="j3" d="M74 90.8 75.6 89.5 74.4 88.6 72.9 89.9z"/>
<path class="j3" d="M42.7 90.7 44.2 90 43 89.1 41.5 89.8z"/>
<path class="j3" d="M64.5 90.9 66 90.2 64.8 89.2 63.3 89.9z"/>
<path class="j8" d="M33.1 87.5 34.6 87.4 33.5 84.5 32 84.8z"/>
<path class="j3" d="M54.9 90.9 56.4 90.2 55.3 89.3 53.8 90z"/>
<path class="j6" d="M76.7 90.2 78.2 86.4 77.1 85.5 75.6 89.5z"/>
<path class="j3" d="M45.4 91 46.9 90.3 45.7 89.3 44.2 90z"/>
<path class="j3" d="M67.2 91.1 68.7 90.4 67.5 89.5 66 90.2z"/>
<path class="j5" d="M35.8 90 37.3 89.9 36.1 87.2 34.6 87.4z"/>
<path class="j3" d="M57.6 91.1 59.1 90.4 58 89.5 56.4 90.2z"/>
<path class="j10" d="M79.4 87.2 80.9 83.2 79.8 82.3 78.2 86.4z"/>
<path class="j3" d="M48 91.2 49.6 90.5 48.4 89.5 46.9 90.3z"/>
<path class="j3" d="M69.8 91.3 71.4 90.6 70.2 89.7 68.7 90.4z"/>
<path class="j3" d="M38.5 91.2 40 90.5 38.8 89.6 37.3 89.9z"/>
<path class="j3" d="M60.3 91.4 61.8 90.7 60.6 89.7 59.1 90.4z"/>
<path class="j14" d="M82.1 84 83.6 80.3 82.4 79.5 80.9 83.2z"/>
<path class="j11" d="M28.9 85 30.4 84.9 29.3 82.2 27.8 82.4z"/>
<path class="j3" d="M50.7 91.4 52.2 90.7 51.1 89.8 49.6 90.5z"/>
<path class="j3" d="M72.5 91.5 74 90.8 72.9 89.9 71.4 90.6z"/>
<path class="j3" d="M41.2 91.4 42.7 90.7 41.5 89.8 40 90.5z"/>
<path class="j3" d="M63 91.6 64.5 90.9 63.3 89.9 61.8 90.7z"/>
<path class="j18" d="M84.8 81 86.3 76.8 85.1 76.2 83.6 80.3z"/>
<path class="j9" d="M31.6 87.5 33.1 87.5 32 84.8 30.4 84.9z"/>
<path class="j3" d="M53.4 91.6 54.9 90.9 53.8 90 52.2 90.7z"/>
<path class="j4" d="M75.2 91.8 76.7 90.2 75.6 89.5 74 90.8z"/>
<path class="j3" d="M43.9 91.7 45.4 91 44.2 90 42.7 90.7z"/>
<path class="j3" d="M65.7 91.8 67.2 91.1 66 90.2 64.5 90.9z"/>
<path class="j6" d="M34.3 90 35.8 90 34.6 87.4 33.1 87.5z"/>
<path class="j3" d="M56.1 91.8 57.6 91.1 56.4 90.2 54.9 90.9z"/>
<path class="j6" d="M77.9 90.8 79.4 87.2 78.2 86.4 76.7 90.2z"/>
<path class="j3" d="M46.5 91.9 48 91.2 46.9 90.3 45.4 91z"/>
<path class="j3" d="M68.3 92 69.8 91.3 68.7 90.4 67.2 91.1z"/>
<path class="j4" d="M37 91.9 38.5 91.2 37.3 89.9 35.8 90z"/>
<path class="j3" d="M58.8 92.1 60.3 91.4 59.1 90.4 57.6 91.1z"/>
<path class="j10" d="M80.6 87.8 82.1 84 80.9 83.2 79.4 87.2z"/>
<path class="j12" d="M27.4 85 28.9 85 27.8 82.4 26.2 82.6z"/>
<path class="j3" d="M49.2 92.1 50.7 91.4 49.6 90.5 48 91.2z"/>
<path class="j3" d="M71 92.2 72.5 91.5 71.4 90.6 69.8 91.3z"/>
<path class="j3" d="M39.7 92.2 41.2 91.4 40 90.5 38.5 91.2z"/>
<path class="j3" d="M61.5 92.3 63 91.6 61.8 90.7 60.3 91.4z"/>
<path class="j14" d="M83.3 84.6 84.8 81 83.6 80.3 82.1 84z"/>
<path class="j9" d="M30.1 87.5 31.6 87.5 30.4 84.9 28.9 85z"/>
<path class="j3" d="M51.9 92.3 53.4 91.6 52.2 90.7 50.7 91.4z"/>
<path class="j3" d="M73.7 92.5 75.2 91.8 74 90.8 72.5 91.5z"/>
<path class="j3" d="M42.3 92.4 43.9 91.7 42.7 90.7 41.2 91.4z"/>
<path class="j3" d="M64.1 92.5 65.7 91.8 64.5 90.9 63 91.6z"/>
<path class="j19" d="M85.9 81.5 87.5 77.3 86.3 76.8 84.8 81z"/>
<path class="j7" d="M32.8 89.9 34.3 90 33.1 87.5 31.6 87.5z"/>
<path class="j3" d="M54.6 92.6 56.1 91.8 54.9 90.9 53.4 91.6z"/>
<path class="j4" d="M76.4 92.7 77.9 90.8 76.7 90.2 75.2 91.8z"/>
<path class="j3" d="M45 92.6 46.5 91.9 45.4 91 43.9 91.7z"/>
<path class="j3" d="M66.8 92.7 68.3 92 67.2 91.1 65.7 91.8z"/>
<path class="j4" d="M35.5 92.2 37 91.9 35.8 90 34.3 90z"/>
<path class="j3" d="M57.3 92.8 58.8 92.1 57.6 91.1 56.1 91.8z"/>
<path class="j7" d="M79.1 91.3 80.6 87.8 79.4 87.2 77.9 90.8z"/>
<path class="j13" d="M25.9 85 27.4 85 26.2 82.6 24.7 82.7z"/>
<path class="j3" d="M47.7 92.8 49.2 92.1 48 91.2 46.5 91.9z"/>
<path class="j3" d="M69.5 93 71 92.2 69.8 91.3 68.3 92z"/>
<path class="j3" d="M38.1 92.9 39.7 92.2 38.5 91.2 37 91.9z"/>
<path class="j3" d="M59.9 93 61.5 92.3 60.3 91.4 58.8 92.1z"/>
<path class="j11" d="M81.7 88.3 83.3 84.6 82.1 84 80.6 87.8z"/>
<path class="j10" d="M28.6 87.4 30.1 87.5 28.9 85 27.4 85z"/>
<path class="j3" d="M50.4 93 51.9 92.3 50.7 91.4 49.2 92.1z"/>
<path class="j3" d="M72.2 93.2 73.7 92.5 72.5 91.5 71 92.2z"/>
<path class="j3" d="M40.8 93.1 42.3 92.4 41.2 91.4 39.7 92.2z"/>
<path class="j3" d="M62.6 93.2 64.1 92.5 63 91.6 61.5 92.3z"/>
<path class="j15" d="M84.4 85.1 85.9 81.5 84.8 81 83.3 84.6z"/>
<path class="j8" d="M31.3 89.7 32.8 89.9 31.6 87.5 30.1 87.5z"/>
<path class="j3" d="M53.1 93.3 54.6 92.6 53.4 91.6 51.9 92.3z"/>
<path class="j3" d="M74.9 93.4 76.4 92.7 75.2 91.8 73.7 92.5z"/>
<path class="j3" d="M43.5 93.3 45 92.6 43.9 91.7 42.3 92.4z"/>
<path class="j3" d="M65.3 93.4 66.8 92.7 65.7 91.8 64.1 92.5z"/>
<path class="j19" d="M87.1 81.9 88.6 77.7 87.5 77.3 85.9 81.5z"/>
<path class="j5" d="M33.9 92 35.5 92.2 34.3 90 32.8 89.9z"/>
<path class="j3" d="M55.7 93.5 57.3 92.8 56.1 91.8 54.6 92.6z"/>
<path class="j4" d="M77.5 93.6 79.1 91.3 77.9 90.8 76.4 92.7z"/>
<path class="j14" d="M24.4 84.9 25.9 85 24.7 82.7 23.2 82.7z"/>
<path class="j3" d="M46.2 93.5 47.7 92.8 46.5 91.9 45 92.6z"/>
<path class="j3" d="M68 93.7 69.5 93 68.3 92 66.8 92.7z"/>
<path class="j3" d="M36.6 93.6 38.1 92.9 37 91.9 35.5 92.2z"/>
<path class="j3" d="M58.4 93.7 59.9 93 58.8 92.1 57.3 92.8z"/>
<path class="j7" d="M80.2 91.6 81.7 88.3 80.6 87.8 79.1 91.3z"/>
<path class="j11" d="M27.1 87.2 28.6 87.4 27.4 85 25.9 85z"/>
<path class="j3" d="M48.9 93.7 50.4 93 49.2 92.1 47.7 92.8z"/>
<path class="j3" d="M70.7 93.9 72.2 93.2 71 92.2 69.5 93z"/>
<path class="j3" d="M39.3 93.8 40.8 93.1 39.7 92.2 38.1 92.9z"/>
<path class="j3" d="M61.1 93.9 62.6 93.2 61.5 92.3 59.9 93z"/>
<path class="j11" d="M82.9 88.6 84.4 85.1 83.3 84.6 81.7 88.3z"/>
<path class="j9" d="M29.7 89.5 31.3 89.7 30.1 87.5 28.6 87.4z"/>
<path class="j3" d="M51.5 94 53.1 93.3 51.9 92.3 50.4 93z"/>
<path class="j3" d="M73.4 94.1 74.9 93.4 73.7 92.5 72.2 93.2z"/>
<path class="j3" d="M42 94 43.5 93.3 42.3 92.4 40.8 93.1z"/>
<path class="j3" d="M63.8 94.1 65.3 93.4 64.1 92.5 62.6 93.2z"/>
<path class="j15" d="M85.6 85.4 87.1 81.9 85.9 81.5 84.4 85.1z"/>
<path class="j6" d="M32.4 91.8 33.9 92 32.8 89.9 31.3 89.7z"/>
<path class="j3" d="M54.2 94.2 55.7 93.5 54.6 92.6 53.1 93.3z"/>
<path class="j3" d="M76 94.3 77.5 93.6 76.4 92.7 74.9 93.4z"/>
<path class="j15" d="M22.9 84.8 24.4 84.9 23.2 82.7 21.7 82.8z"/>
<path class="j3" d="M44.7 94.2 46.2 93.5 45 92.6 43.5 93.3z"/>
<path class="j3" d="M66.5 94.4 68 93.7 66.8 92.7 65.3 93.4z"/>
<path class="j20" d="M88.3 82.2 89.8 77.9 88.6 77.7 87.1 81.9z"/>
<path class="j4" d="M35.1 93.8 36.6 93.6 35.5 92.2 33.9 92z"/>
<path class="j3" d="M56.9 94.4 58.4 93.7 57.3 92.8 55.7 93.5z"/>
<path class="j4" d="M78.7 94.4 80.2 91.6 79.1 91.3 77.5 93.6z"/>
<path class="j12" d="M25.5 87 27.1 87.2 25.9 85 24.4 84.9z"/>
<path class="j3" d="M47.4 94.5 48.9 93.7 47.7 92.8 46.2 93.5z"/>
<path class="j3" d="M69.2 94.6 70.7 93.9 69.5 93 68 93.7z"/>
<path class="j3" d="M37.8 94.5 39.3 93.8 38.1 92.9 36.6 93.6z"/>
<path class="j3" d="M59.6 94.6 61.1 93.9 59.9 93 58.4 93.7z"/>
<path class="j8" d="M81.4 91.8 82.9 88.6 81.7 88.3 80.2 91.6z"/>
<path class="j10" d="M28.2 89.3 29.7 89.5 28.6 87.4 27.1 87.2z"/>
<path class="j3" d="M50 94.7 51.5 94 50.4 93 48.9 93.7z"/>
<path class="j3" d="M71.8 94.8 73.4 94.1 72.2 93.2 70.7 93.9z"/>
<path class="j3" d="M40.5 94.7 42 94 40.8 93.1 39.3 93.8z"/>
<path class="j3" d="M62.3 94.9 63.8 94.1 62.6 93.2 61.1 93.9z"/>
<path class="j12" d="M84.1 88.8 85.6 85.4 84.4 85.1 82.9 88.6z"/>
<path class="j7" d="M30.9 91.5 32.4 91.8 31.3 89.7 29.7 89.5z"/>
<path class="j3" d="M52.7 94.9 54.2 94.2 53.1 93.3 51.5 94z"/>
<path class="j3" d="M74.5 95 76 94.3 74.9 93.4 73.4 94.1z"/>
<path class="j3" d="M43.2 94.9 44.7 94.2 43.5 93.3 42 94z"/>
<path class="j3" d="M65 95.1 66.5 94.4 65.3 93.4 63.8 94.1z"/>
<path class="j16" d="M86.8 85.6 88.3 82.2 87.1 81.9 85.6 85.4z"/>
<path class="j5" d="M33.6 93.6 35.1 93.8 33.9 92 32.4 91.8z"/>
<path class="j3" d="M55.4 95.1 56.9 94.4 55.7 93.5 54.2 94.2z"/>
<path class="j3" d="M77.2 95.3 78.7 94.4 77.5 93.6 76 94.3z"/>
<path class="j13" d="M24 86.8 25.5 87 24.4 84.9 22.9 84.8z"/>
<path class="j3" d="M45.8 95.2 47.4 94.5 46.2 93.5 44.7 94.2z"/>
<path class="j3" d="M67.6 95.3 69.2 94.6 68 93.7 66.5 94.4z"/>
<path class="j21" d="M89.4 82.4 91 78 89.8 77.9 88.3 82.2z"/>
<path class="j3" d="M36.3 95.2 37.8 94.5 36.6 93.6 35.1 93.8z"/>
<path class="j3" d="M58.1 95.3 59.6 94.6 58.4 93.7 56.9 94.4z"/>
<path class="j5" d="M79.9 94.5 81.4 91.8 80.2 91.6 78.7 94.4z"/>
<path class="j11" d="M26.7 88.9 28.2 89.3 27.1 87.2 25.5 87z"/>
<path class="j3" d="M48.5 95.4 50 94.7 48.9 93.7 47.4 94.5z"/>
<path class="j3" d="M70.3 95.5 71.8 94.8 70.7 93.9 69.2 94.6z"/>
<path class="j3" d="M39 95.4 40.5 94.7 39.3 93.8 37.8 94.5z"/>
<path class="j3" d="M60.8 95.6 62.3 94.9 61.1 93.9 59.6 94.6z"/>
<path class="j9" d="M82.6 91.9 84.1 88.8 82.9 88.6 81.4 91.8z"/>
<path class="j8" d="M29.4 91.1 30.9 91.5 29.7 89.5 28.2 89.3z"/>
<path class="j3" d="M51.2 95.6 52.7 94.9 51.5 94 50 94.7z"/>
<path class="j3" d="M73 95.7 74.5 95 73.4 94.1 71.8 94.8z"/>
<path class="j3" d="M41.6 95.6 43.2 94.9 42 94 40.5 94.7z"/>
<path class="j3" d="M63.4 95.8 65 95.1 63.8 94.1 62.3 94.9z"/>
<path class="j13" d="M85.2 88.9 86.8 85.6 85.6 85.4 84.1 88.8z"/>
<path class="j6" d="M32.1 93.2 33.6 93.6 32.4 91.8 30.9 91.5z"/>
<path class="j3" d="M53.9 95.8 55.4 95.1 54.2 94.2 52.7 94.9z"/>
<path class="j3" d="M75.7 96 77.2 95.3 76 94.3 74.5 95z"/>
<path class="j3" d="M44.3 95.9 45.8 95.2 44.7 94.2 43.2 94.9z"/>
<path class="j3" d="M66.1 96 67.6 95.3 66.5 94.4 65 95.1z"/>
<path class="j17" d="M87.9 85.8 89.4 82.4 88.3 82.2 86.8 85.6z"/>
<path class="j4" d="M34.8 95.2 36.3 95.2 35.1 93.8 33.6 93.6z"/>
<path class="j3" d="M56.6 96 58.1 95.3 56.9 94.4 55.4 95.1z"/>
<path class="j3" d="M78.4 96.2 79.9 94.5 78.7 94.4 77.2 95.3z"/>
<path class="j12" d="M25.2 88.6 26.7 88.9 25.5 87 24 86.8z"/>
<path class="j3" d="M47 96.1 48.5 95.4 47.4 94.5 45.8 95.2z"/>
<path class="j3" d="M68.8 96.2 70.3 95.5 69.2 94.6 67.6 95.3z"/>
<path class="j22" d="M90.6 82.5 92.1 78.1 91 78 89.4 82.4z"/>
<path class="j3" d="M37.4 96.1 39 95.4 37.8 94.5 36.3 95.2z"/>
<path class="j3" d="M59.2 96.3 60.8 95.6 59.6 94.6 58.1 95.3z"/>
<path class="j6" d="M81.1 94.5 82.6 91.9 81.4 91.8 79.9 94.5z"/>
<path class="j10" d="M27.9 90.8 29.4 91.1 28.2 89.3 26.7 88.9z"/>
<path class="j3" d="M49.7 96.3 51.2 95.6 50 94.7 48.5 95.4z"/>
<path class="j3" d="M71.5 96.4 73 95.7 71.8 94.8 70.3 95.5z"/>
<path class="j3" d="M40.1 96.4 41.6 95.6 40.5 94.7 39 95.4z"/>
<path class="j3" d="M61.9 96.5 63.4 95.8 62.3 94.9 60.8 95.6z"/>
<path class="j10" d="M83.7 91.9 85.2 88.9 84.1 88.8 82.6 91.9z"/>
<path class="j7" d="M30.6 92.8 32.1 93.2 30.9 91.5 29.4 91.1z"/>
<path class="j3" d="M52.4 96.5 53.9 95.8 52.7 94.9 51.2 95.6z"/>
<path class="j3" d="M74.2 96.7 75.7 96 74.5 95 73 95.7z"/>
<path class="j3" d="M42.8 96.6 44.3 95.9 43.2 94.9 41.6 95.6z"/>
<path class="j3" d="M64.6 96.7 66.1 96 65 95.1 63.4 95.8z"/>
<path class="j14" d="M86.4 88.9 87.9 85.8 86.8 85.6 85.2 88.9z"/>
<path class="j5" d="M33.2 94.8 34.8 95.2 33.6 93.6 32.1 93.2z"/>
<path class="j3" d="M55.1 96.8 56.6 96 55.4 95.1 53.9 95.8z"/>
<path class="j3" d="M76.9 96.9 78.4 96.2 77.2 95.3 75.7 96z"/>
<path class="j3" d="M45.5 96.8 47 96.1 45.8 95.2 44.3 95.9z"/>
<path class="j3" d="M67.3 96.9 68.8 96.2 67.6 95.3 66.1 96z"/>
<path class="j18" d="M89.1 85.8 90.6 82.5 89.4 82.4 87.9 85.8z"/>
<path class="j3" d="M35.9 96.8 37.4 96.1 36.3 95.2 34.8 95.2z"/>
<path class="j3" d="M57.7 97 59.2 96.3 58.1 95.3 56.6 96z"/>
<path class="j4" d="M79.5 97 81.1 94.5 79.9 94.5 78.4 96.2z"/>
<path class="j11" d="M26.4 90.4 27.9 90.8 26.7 88.9 25.2 88.6z"/>
<path class="j3" d="M48.2 97 49.7 96.3 48.5 95.4 47 96.1z"/>
<path class="j3" d="M70 97.2 71.5 96.4 70.3 95.5 68.8 96.2z"/>
<path class="j23" d="M91.8 82.2 93.3 77.7 92.1 78.1 90.6 82.5z"/>
<path class="j3" d="M38.6 97.1 40.1 96.4 39 95.4 37.4 96.1z"/>
<path class="j3" d="M60.4 97.2 61.9 96.5 60.8 95.6 59.2 96.3z"/>
<path class="j7" d="M82.2 94.4 83.7 91.9 82.6 91.9 81.1 94.5z"/>
<path class="j9" d="M29.1 92.4 30.6 92.8 29.4 91.1 27.9 90.8z"/>
<path class="j3" d="M50.9 97.2 52.4 96.5 51.2 95.6 49.7 96.3z"/>
<path class="j3" d="M72.7 97.4 74.2 96.7 73 95.7 71.5 96.4z"/>
<path class="j3" d="M41.3 97.3 42.8 96.6 41.6 95.6 40.1 96.4z"/>
<path class="j3" d="M63.1 97.4 64.6 96.7 63.4 95.8 61.9 96.5z"/>
<path class="j11" d="M84.9 91.7 86.4 88.9 85.2 88.9 83.7 91.9z"/>
<path class="j6" d="M31.7 94.4 33.2 94.8 32.1 93.2 30.6 92.8z"/>
<path class="j3" d="M53.5 97.5 55.1 96.8 53.9 95.8 52.4 96.5z"/>
<path class="j3" d="M75.3 97.6 76.9 96.9 75.7 96 74.2 96.7z"/>
<path class="j3" d="M44 97.5 45.5 96.8 44.3 95.9 42.8 96.6z"/>
<path class="j3" d="M65.8 97.6 67.3 96.9 66.1 96 64.6 96.7z"/>
<path class="j15" d="M87.6 88.8 89.1 85.8 87.9 85.8 86.4 88.9z"/>
<path class="j4" d="M34.4 96.3 35.9 96.8 34.8 95.2 33.2 94.8z"/>
<path class="j3" d="M56.2 97.7 57.7 97 56.6 96 55.1 96.8z"/>
<path class="j3" d="M78 97.8 79.5 97 78.4 96.2 76.9 96.9z"/>
<path class="j3" d="M46.7 97.7 48.2 97 47 96.1 45.5 96.8z"/>
<path class="j3" d="M68.5 97.9 70 97.2 68.8 96.2 67.3 96.9z"/>
<path class="j19" d="M90.3 85.5 91.8 82.2 90.6 82.5 89.1 85.8z"/>
<path class="j3" d="M37.1 97.8 38.6 97.1 37.4 96.1 35.9 96.8z"/>
<path class="j3" d="M58.9 97.9 60.4 97.2 59.2 96.3 57.7 97z"/>
<path class="j5" d="M80.7 96.8 82.2 94.4 81.1 94.5 79.5 97z"/>
<path class="j10" d="M27.5 92 29.1 92.4 27.9 90.8 26.4 90.4z"/>
<path class="j3" d="M49.3 97.9 50.9 97.2 49.7 96.3 48.2 97z"/>
<path class="j3" d="M71.1 98.1 72.7 97.4 71.5 96.4 70 97.2z"/>
<path class="j25" d="M92.9 81 94.5 76.4 93.3 77.7 91.8 82.2z"/>
<path class="j3" d="M39.8 98 41.3 97.3 40.1 96.4 38.6 97.1z"/>
<path class="j3" d="M61.6 98.1 63.1 97.4 61.9 96.5 60.4 97.2z"/>
<path class="j8" d="M83.4 94.2 84.9 91.7 83.7 91.9 82.2 94.4z"/>
<path class="j8" d="M30.2 93.9 31.7 94.4 30.6 92.8 29.1 92.4z"/>
<path class="j3" d="M52 98.2 53.5 97.5 52.4 96.5 50.9 97.2z"/>
<path class="j3" d="M73.8 98.3 75.3 97.6 74.2 96.7 72.7 97.4z"/>
<path class="j3" d="M42.5 98.2 44 97.5 42.8 96.6 41.3 97.3z"/>
<path class="j3" d="M64.3 98.3 65.8 97.6 64.6 96.7 63.1 97.4z"/>
<path class="j12" d="M86.1 91.5 87.6 88.8 86.4 88.9 84.9 91.7z"/>
<path class="j6" d="M32.9 95.9 34.4 96.3 33.2 94.8 31.7 94.4z"/>
<path class="j3" d="M54.7 98.4 56.2 97.7 55.1 96.8 53.5 97.5z"/>
<path class="j3" d="M76.5 98.5 78 97.8 76.9 96.9 75.3 97.6z"/>
<path class="j3" d="M45.1 98.4 46.7 97.7 45.5 96.8 44 97.5z"/>
<path class="j3" d="M67 98.6 68.5 97.9 67.3 96.9 65.8 97.6z"/>
<path class="j16" d="M88.8 88.4 90.3 85.5 89.1 85.8 87.6 88.8z"/>
<path class="j4" d="M35.6 97.8 37.1 97.8 35.9 96.8 34.4 96.3z"/>
<path class="j3" d="M57.4 98.6 58.9 97.9 57.7 97 56.2 97.7z"/>
<path class="j4" d="M79.2 98.7 80.7 96.8 79.5 97 78 97.8z"/>
<path class="j3" d="M47.8 98.7 49.3 97.9 48.2 97 46.7 97.7z"/>
<path class="j3" d="M69.6 98.8 71.1 98.1 70 97.2 68.5 97.9z"/>
<path class="j21" d="M91.4 84.3 92.9 81 91.8 82.2 90.3 85.5z"/>
<path class="j3" d="M38.3 98.7 39.8 98 38.6 97.1 37.1 97.8z"/>
<path class="j3" d="M60.1 98.8 61.6 98.1 60.4 97.2 58.9 97.9z"/>
<path class="j6" d="M81.9 96.4 83.4 94.2 82.2 94.4 80.7 96.8z"/>
<path class="j9" d="M28.7 93.5 30.2 93.9 29.1 92.4 27.5 92z"/>
<path class="j3" d="M50.5 98.9 52 98.2 50.9 97.2 49.3 97.9z"/>
<path class="j3" d="M72.3 99 73.8 98.3 72.7 97.4 71.1 98.1z"/>
<path class="j28" d="M94.1 79.2 95.6 74.5 94.5 76.4 92.9 81z"/>
<path class="j3" d="M40.9 98.9 42.5 98.2 41.3 97.3 39.8 98z"/>
<path class="j3" d="M62.8 99.1 64.3 98.3 63.1 97.4 61.6 98.1z"/>
<path class="j10" d="M84.6 93.8 86.1 91.5 84.9 91.7 83.4 94.2z"/>
<path class="j7" d="M31.4 95.4 32.9 95.9 31.7 94.4 30.2 93.9z"/>
<path class="j3" d="M53.2 99.1 54.7 98.4 53.5 97.5 52 98.2z"/>
<path class="j3" d="M75 99.2 76.5 98.5 75.3 97.6 73.8 98.3z"/>
<path class="j3" d="M43.6 99.1 45.1 98.4 44 97.5 42.5 98.2z"/>
<path class="j3" d="M65.4 99.3 67 98.6 65.8 97.6 64.3 98.3z"/>
<path class="j14" d="M87.2 91 88.8 88.4 87.6 88.8 86.1 91.5z"/>
<path class="j5" d="M34.1 97.3 35.6 97.8 34.4 96.3 32.9 95.9z"/>
<path class="j3" d="M55.9 99.3 57.4 98.6 56.2 97.7 54.7 98.4z"/>
<path class="j3" d="M77.7 99.5 79.2 98.7 78 97.8 76.5 98.5z"/>
<path class="j3" d="M46.3 99.4 47.8 98.7 46.7 97.7 45.1 98.4z"/>
<path class="j3" d="M68.1 99.5 69.6 98.8 68.5 97.9 67 98.6z"/>
<path class="j18" d="M89.9 87.1 91.4 84.3 90.3 85.5 88.8 88.4z"/>
<path class="j3" d="M36.8 99.1 38.3 98.7 37.1 97.8 35.6 97.8z"/>
<path class="j3" d="M58.6 99.5 60.1 98.8 58.9 97.9 57.4 98.6z"/>
<path class="j5" d="M80.4 98.6 81.9 96.4 80.7 96.8 79.2 98.7z"/>
<path class="j3" d="M49 99.6 50.5 98.9 49.3 97.9 47.8 98.7z"/>
<path class="j3" d="M70.8 99.7 72.3 99 71.1 98.1 69.6 98.8z"/>
<path class="j24" d="M92.6 82.4 94.1 79.2 92.9 81 91.4 84.3z"/>
<path class="j3" d="M39.4 99.6 40.9 98.9 39.8 98 38.3 98.7z"/>
<path class="j3" d="M61.2 99.8 62.8 99.1 61.6 98.1 60.1 98.8z"/>
<path class="j8" d="M83 96 84.6 93.8 83.4 94.2 81.9 96.4z"/>
<path class="j9" d="M29.9 94.9 31.4 95.4 30.2 93.9 28.7 93.5z"/>
<path class="j3" d="M51.7 99.8 53.2 99.1 52 98.2 50.5 98.9z"/>
<path class="j3" d="M73.5 99.9 75 99.2 73.8 98.3 72.3 99z"/>
<path class="j32" d="M95.3 77.1 96.8 72.3 95.6 74.5 94.1 79.2z"/>
<path class="j3" d="M42.1 99.8 43.6 99.1 42.5 98.2 40.9 98.9z"/>
<path class="j3" d="M63.9 100 65.4 99.3 64.3 98.3 62.8 99.1z"/>
<path class="j12" d="M85.7 93.2 87.2 91 86.1 91.5 84.6 93.8z"/>
<path class="j6" d="M32.6 96.8 34.1 97.3 32.9 95.9 31.4 95.4z"/>
<path class="j3" d="M54.4 100 55.9 99.3 54.7 98.4 53.2 99.1z"/>
<path class="j3" d="M76.2 100.2 77.7 99.5 76.5 98.5 75 99.2z"/>
<path class="j3" d="M44.8 100.1 46.3 99.4 45.1 98.4 43.6 99.1z"/>
<path class="j3" d="M66.6 100.2 68.1 99.5 67 98.6 65.4 99.3z"/>
<path class="j16" d="M88.4 89.6 89.9 87.1 88.8 88.4 87.2 91z"/>
<path class="j4" d="M35.2 98.6 36.8 99.1 35.6 97.8 34.1 97.3z"/>
<path class="j3" d="M57 100.2 58.6 99.5 57.4 98.6 55.9 99.3z"/>
<path class="j3" d="M78.8 100.4 80.4 98.6 79.2 98.7 77.7 99.5z"/>
<path class="j3" d="M47.5 100.3 49 99.6 47.8 98.7 46.3 99.4z"/>
<path class="j3" d="M69.3 100.4 70.8 99.7 69.6 98.8 68.1 99.5z"/>
<path class="j21" d="M91.1 85.2 92.6 82.4 91.4 84.3 89.9 87.1z"/>
<path class="j3" d="M37.9 100.2 39.4 99.6 38.3 98.7 36.8 99.1z"/>
<path class="j3" d="M59.7 100.5 61.2 99.8 60.1 98.8 58.6 99.5z"/>
<path class="j6" d="M81.5 98.1 83 96 81.9 96.4 80.4 98.6z"/>
<path class="j3" d="M50.2 100.5 51.7 99.8 50.5 98.9 49 99.6z"/>
<path class="j3" d="M72 100.6 73.5 99.9 72.3 99 70.8 99.7z"/>
<path class="j28" d="M93.8 80.4 95.3 77.1 94.1 79.2 92.6 82.4z"/>
<path class="j3" d="M40.6 100.6 42.1 99.8 40.9 98.9 39.4 99.6z"/>
<path class="j3" d="M62.4 100.7 63.9 100 62.8 99.1 61.2 99.8z"/>
<path class="j10" d="M84.2 95.4 85.7 93.2 84.6 93.8 83 96z"/>
<path class="j8" d="M31 96.3 32.6 96.8 31.4 95.4 29.9 94.9z"/>
<path class="j3" d="M52.8 100.7 54.4 100 53.2 99.1 51.7 99.8z"/>
<path class="j3" d="M74.6 100.9 76.2 100.2 75 99.2 73.5 99.9z"/>
<path class="j3" d="M43.3 100.8 44.8 100.1 43.6 99.1 42.1 99.8z"/>
<path class="j3" d="M65.1 100.9 66.6 100.2 65.4 99.3 63.9 100z"/>
<path class="j14" d="M86.9 91.8 88.4 89.6 87.2 91 85.7 93.2z"/>
<path class="j6" d="M33.7 98.1 35.2 98.6 34.1 97.3 32.6 96.8z"/>
<path class="j3" d="M55.5 101 57 100.2 55.9 99.3 54.4 100z"/>
<path class="j3" d="M77.3 101.1 78.8 100.4 77.7 99.5 76.2 100.2z"/>
<path class="j3" d="M46 101 47.5 100.3 46.3 99.4 44.8 100.1z"/>
<path class="j3" d="M67.8 101.1 69.3 100.4 68.1 99.5 66.6 100.2z"/>
<path class="j19" d="M89.6 87.6 91.1 85.2 89.9 87.1 88.4 89.6z"/>
<path class="j4" d="M36.4 99.7 37.9 100.2 36.8 99.1 35.2 98.6z"/>
<path class="j3" d="M58.2 101.2 59.7 100.5 58.6 99.5 57 100.2z"/>
<path class="j5" d="M80 99.9 81.5 98.1 80.4 98.6 78.8 100.4z"/>
<path class="j3" d="M48.6 101.2 50.2 100.5 49 99.6 47.5 100.3z"/>
<path class="j3" d="M70.5 101.4 72 100.6 70.8 99.7 69.3 100.4z"/>
<path class="j25" d="M92.3 83.1 93.8 80.4 92.6 82.4 91.1 85.2z"/>
<path class="j3" d="M39.1 101 40.6 100.6 39.4 99.6 37.9 100.2z"/>
<path class="j3" d="M60.9 101.4 62.4 100.7 61.2 99.8 59.7 100.5z"/>
<path class="j8" d="M82.7 97.4 84.2 95.4 83 96 81.5 98.1z"/>
<path class="j3" d="M51.3 101.4 52.8 100.7 51.7 99.8 50.2 100.5z"/>
<path class="j3" d="M73.1 101.6 74.6 100.9 73.5 99.9 72 100.6z"/>
<path class="j3" d="M41.8 101.5 43.3 100.8 42.1 99.8 40.6 100.6z"/>
<path class="j3" d="M63.6 101.6 65.1 100.9 63.9 100 62.4 100.7z"/>
<path class="j12" d="M85.4 93.9 86.9 91.8 85.7 93.2 84.2 95.4z"/>
<path class="j7" d="M32.2 97.6 33.7 98.1 32.6 96.8 31 96.3z"/>
<path class="j3" d="M54 101.7 55.5 101 54.4 100 52.8 100.7z"/>
<path class="j3" d="M75.8 101.8 77.3 101.1 76.2 100.2 74.6 100.9z"/>
<path class="j3" d="M44.5 101.7 46 101 44.8 100.1 43.3 100.8z"/>
<path class="j3" d="M66.3 101.8 67.8 101.1 66.6 100.2 65.1 100.9z"/>
<path class="j17" d="M88.1 89.8 89.6 87.6 88.4 89.6 86.9 91.8z"/>
<path class="j6" d="M34.9 99.3 36.4 99.7 35.2 98.6 33.7 98.1z"/>
<path class="j3" d="M56.7 101.9 58.2 101.2 57 100.2 55.5 101z"/>
<path class="j4" d="M78.5 101.5 80 99.9 78.8 100.4 77.3 101.1z"/>
<path class="j3" d="M47.1 101.9 48.6 101.2 47.5 100.3 46 101z"/>
<path class="j3" d="M68.9 102.1 70.5 101.4 69.3 100.4 67.8 101.1z"/>
<path class="j23" d="M90.7 85.5 92.3 83.1 91.1 85.2 89.6 87.6z"/>
<path class="j4" d="M37.6 100.6 39.1 101 37.9 100.2 36.4 99.7z"/>
<path class="j3" d="M59.4 102.1 60.9 101.4 59.7 100.5 58.2 101.2z"/>
<path class="j6" d="M81.2 99.2 82.7 97.4 81.5 98.1 80 99.9z"/>
<path class="j3" d="M49.8 102.1 51.3 101.4 50.2 100.5 48.6 101.2z"/>
<path class="j3" d="M71.6 102.3 73.1 101.6 72 100.6 70.5 101.4z"/>
<path class="j3" d="M40.3 101.9 41.8 101.5 40.6 100.6 39.1 101z"/>
<path class="j3" d="M62.1 102.3 63.6 101.6 62.4 100.7 60.9 101.4z"/>
<path class="j10" d="M83.9 95.9 85.4 93.9 84.2 95.4 82.7 97.4z"/>
<path class="j3" d="M52.5 102.4 54 101.7 52.8 100.7 51.3 101.4z"/>
<path class="j3" d="M74.3 102.5 75.8 101.8 74.6 100.9 73.1 101.6z"/>
<path class="j3" d="M42.9 102.4 44.5 101.7 43.3 100.8 41.8 101.5z"/>
<path class="j3" d="M64.7 102.5 66.3 101.8 65.1 100.9 63.6 101.6z"/>
<path class="j15" d="M86.5 91.9 88.1 89.8 86.9 91.8 85.4 93.9z"/>
<path class="j7" d="M33.4 98.8 34.9 99.3 33.7 98.1 32.2 97.6z"/>
<path class="j3" d="M55.2 102.6 56.7 101.9 55.5 101 54 101.7z"/>
<path class="j3" d="M77 102.7 78.5 101.5 77.3 101.1 75.8 101.8z"/>
<path class="j3" d="M45.6 102.6 47.1 101.9 46 101 44.5 101.7z"/>
<path class="j3" d="M67.4 102.8 68.9 102.1 67.8 101.1 66.3 101.8z"/>
<path class="j21" d="M89.2 87.6 90.7 85.5 89.6 87.6 88.1 89.8z"/>
<path class="j5" d="M36.1 100.2 37.6 100.6 36.4 99.7 34.9 99.3z"/>
<path class="j3" d="M57.9 102.8 59.4 102.1 58.2 101.2 56.7 101.9z"/>
<path class="j5" d="M79.7 100.8 81.2 99.2 80 99.9 78.5 101.5z"/>
<path class="j3" d="M48.3 102.9 49.8 102.1 48.6 101.2 47.1 101.9z"/>
<path class="j3" d="M70.1 103 71.6 102.3 70.5 101.4 68.9 102.1z"/>
<path class="j4" d="M38.7 101.5 40.3 101.9 39.1 101 37.6 100.6z"/>
<path class="j3" d="M60.5 103 62.1 102.3 60.9 101.4 59.4 102.1z"/>
<path class="j9" d="M82.3 97.7 83.9 95.9 82.7 97.4 81.2 99.2z"/>
<path class="j3" d="M51 103.1 52.5 102.4 51.3 101.4 49.8 102.1z"/>
<path class="j3" d="M72.8 103.2 74.3 102.5 73.1 101.6 71.6 102.3z"/>
<path class="j3" d="M41.4 102.6 42.9 102.4 41.8 101.5 40.3 101.9z"/>
<path class="j3" d="M63.2 103.3 64.7 102.5 63.6 101.6 62.1 102.3z"/>
<path class="j14" d="M85 93.9 86.5 91.9 85.4 93.9 83.9 95.9z"/>
<path class="j3" d="M53.7 103.3 55.2 102.6 54 101.7 52.5 102.4z"/>
<path class="j3" d="M75.5 103.4 77 102.7 75.8 101.8 74.3 102.5z"/>
<path class="j3" d="M44.1 103.3 45.6 102.6 44.5 101.7 42.9 102.4z"/>
<path class="j3" d="M65.9 103.5 67.4 102.8 66.3 101.8 64.7 102.5z"/>
<path class="j19" d="M87.7 89.7 89.2 87.6 88.1 89.8 86.5 91.9z"/>
<path class="j7" d="M34.5 99.7 36.1 100.2 34.9 99.3 33.4 98.8z"/>
<path class="j3" d="M56.3 103.5 57.9 102.8 56.7 101.9 55.2 102.6z"/>
<path class="j4" d="M78.2 102.2 79.7 100.8 78.5 101.5 77 102.7z"/>
<path class="j3" d="M46.8 103.6 48.3 102.9 47.1 101.9 45.6 102.6z"/>
<path class="j3" d="M68.6 103.7 70.1 103 68.9 102.1 67.4 102.8z"/>
<path class="j6" d="M37.2 101 38.7 101.5 37.6 100.6 36.1 100.2z"/>
<path class="j3" d="M59 103.7 60.5 103 59.4 102.1 57.9 102.8z"/>
<path class="j8" d="M80.8 99.4 82.3 97.7 81.2 99.2 79.7 100.8z"/>
<path class="j3" d="M49.5 103.8 51 103.1 49.8 102.1 48.3 102.9z"/>
<path class="j3" d="M71.3 103.9 72.8 103.2 71.6 102.3 70.1 103z"/>
<path class="j4" d="M39.9 102.2 41.4 102.6 40.3 101.9 38.7 101.5z"/>
<path class="j3" d="M61.7 104 63.2 103.3 62.1 102.3 60.5 103z"/>
<path class="j12" d="M83.5 95.8 85 93.9 83.9 95.9 82.3 97.7z"/>
<path class="j3" d="M52.2 104 53.7 103.3 52.5 102.4 51 103.1z"/>
<path class="j3" d="M74 104.1 75.5 103.4 74.3 102.5 72.8 103.2z"/>
<path class="j3" d="M42.6 103.4 44.1 103.3 42.9 102.4 41.4 102.6z"/>
<path class="j3" d="M64.4 104.2 65.9 103.5 64.7 102.5 63.2 103.3z"/>
<path class="j17" d="M86.2 91.7 87.7 89.7 86.5 91.9 85 93.9z"/>
<path class="j3" d="M54.8 104.2 56.3 103.5 55.2 102.6 53.7 103.3z"/>
<path class="j4" d="M76.6 103.3 78.2 102.2 77 102.7 75.5 103.4z"/>
<path class="j3" d="M45.3 104.3 46.8 103.6 45.6 102.6 44.1 103.3z"/>
<path class="j3" d="M67.1 104.4 68.6 103.7 67.4 102.8 65.9 103.5z"/>
<path class="j7" d="M35.7 100.6 37.2 101 36.1 100.2 34.5 99.7z"/>
<path class="j3" d="M57.5 104.4 59 103.7 57.9 102.8 56.3 103.5z"/>
<path class="j7" d="M79.3 100.9 80.8 99.4 79.7 100.8 78.2 102.2z"/>
<path class="j3" d="M48 104.5 49.5 103.8 48.3 102.9 46.8 103.6z"/>
<path class="j3" d="M69.8 104.6 71.3 103.9 70.1 103 68.6 103.7z"/>
<path class="j6" d="M38.4 101.8 39.9 102.2 38.7 101.5 37.2 101z"/>
<path class="j3" d="M60.2 104.7 61.7 104 60.5 103 59 103.7z"/>
<path class="j11" d="M82 97.5 83.5 95.8 82.3 97.7 80.8 99.4z"/>
<path class="j3" d="M50.6 104.7 52.2 104 51 103.1 49.5 103.8z"/>
<path class="j3" d="M72.4 104.8 74 104.1 72.8 103.2 71.3 103.9z"/>
<path class="j4" d="M41.1 103 42.6 103.4 41.4 102.6 39.9 102.2z"/>
<path class="j3" d="M62.9 104.9 64.4 104.2 63.2 103.3 61.7 104z"/>
<path class="j16" d="M84.7 93.7 86.2 91.7 85 93.9 83.5 95.8z"/>
<path class="j3" d="M53.3 104.9 54.8 104.2 53.7 103.3 52.2 104z"/>
<path class="j4" d="M75.1 104.3 76.6 103.3 75.5 103.4 74 104.1z"/>
<path class="j4" d="M43.8 104.1 45.3 104.3 44.1 103.3 42.6 103.4z"/>
<path class="j3" d="M65.6 105.1 67.1 104.4 65.9 103.5 64.4 104.2z"/>
<path class="j3" d="M56 105.2 57.5 104.4 56.3 103.5 54.8 104.2z"/>
<path class="j6" d="M77.8 102.1 79.3 100.9 78.2 102.2 76.6 103.3z"/>
<path class="j3" d="M46.4 105.1 48 104.5 46.8 103.6 45.3 104.3z"/>
<path class="j3" d="M68.2 105.3 69.8 104.6 68.6 103.7 67.1 104.4z"/>
<path class="j7" d="M36.9 101.4 38.4 101.8 37.2 101 35.7 100.6z"/>
<path class="j3" d="M58.7 105.4 60.2 104.7 59 103.7 57.5 104.4z"/>
<path class="j10" d="M80.5 99.1 82 97.5 80.8 99.4 79.3 100.9z"/>
<path class="j3" d="M49.1 105.4 50.6 104.7 49.5 103.8 48 104.5z"/>
<path class="j3" d="M70.9 105.6 72.4 104.8 71.3 103.9 69.8 104.6z"/>
<path class="j6" d="M39.6 102.6 41.1 103 39.9 102.2 38.4 101.8z"/>
<path class="j3" d="M61.4 105.6 62.9 104.9 61.7 104 60.2 104.7z"/>
<path class="j15" d="M83.2 95.5 84.7 93.7 83.5 95.8 82 97.5z"/>
<path class="j3" d="M51.8 105.6 53.3 104.9 52.2 104 50.6 104.7z"/>
<path class="j4" d="M73.6 105.2 75.1 104.3 74 104.1 72.4 104.8z"/>
<path class="j5" d="M42.2 103.7 43.8 104.1 42.6 103.4 41.1 103z"/>
<path class="j3" d="M64 105.8 65.6 105.1 64.4 104.2 62.9 104.9z"/>
<path class="j3" d="M54.5 105.9 56 105.2 54.8 104.2 53.3 104.9z"/>
<path class="j6" d="M76.3 103.1 77.8 102.1 76.6 103.3 75.1 104.3z"/>
<path class="j4" d="M44.9 104.8 46.4 105.1 45.3 104.3 43.8 104.1z"/>
<path class="j3" d="M66.7 106 68.2 105.3 67.1 104.4 65.6 105.1z"/>
<path class="j3" d="M57.2 106.1 58.7 105.4 57.5 104.4 56 105.2z"/>
<path class="j9" d="M79 100.4 80.5 99.1 79.3 100.9 77.8 102.1z"/>
<path class="j3" d="M47.6 105.7 49.1 105.4 48 104.5 46.4 105.1z"/>
<path class="j3" d="M69.4 106.3 70.9 105.6 69.8 104.6 68.2 105.3z"/>
<path class="j7" d="M38 102.2 39.6 102.6 38.4 101.8 36.9 101.4z"/>
<path class="j3" d="M59.9 106.3 61.4 105.6 60.2 104.7 58.7 105.4z"/>
<path class="j13" d="M81.7 97.1 83.2 95.5 82 97.5 80.5 99.1z"/>
<path class="j3" d="M50.3 106.3 51.8 105.6 50.6 104.7 49.1 105.4z"/>
<path class="j3" d="M72.1 106 73.6 105.2 72.4 104.8 70.9 105.6z"/>
<path class="j6" d="M40.7 103.4 42.2 103.7 41.1 103 39.6 102.6z"/>
<path class="j3" d="M62.5 106.5 64 105.8 62.9 104.9 61.4 105.6z"/>
<path class="j3" d="M53 106.6 54.5 105.9 53.3 104.9 51.8 105.6z"/>
<path class="j5" d="M74.8 104.1 76.3 103.1 75.1 104.3 73.6 105.2z"/>
<path class="j5" d="M43.4 104.4 44.9 104.8 43.8 104.1 42.2 103.7z"/>
<path class="j3" d="M65.2 106.7 66.7 106 65.6 105.1 64 105.8z"/>
<path class="j3" d="M55.7 106.8 57.2 106.1 56 105.2 54.5 105.9z"/>
<path class="j8" d="M77.5 101.6 79 100.4 77.8 102.1 76.3 103.1z"/>
<path class="j4" d="M46.1 105.4 47.6 105.7 46.4 105.1 44.9 104.8z"/>
<path class="j3" d="M67.9 107 69.4 106.3 68.2 105.3 66.7 106z"/>
<path class="j3" d="M58.3 107 59.9 106.3 58.7 105.4 57.2 106.1z"/>
<path class="j12" d="M80.1 98.5 81.7 97.1 80.5 99.1 79 100.4z"/>
<path class="j3" d="M48.8 106.3 50.3 106.3 49.1 105.4 47.6 105.7z"/>
<path class="j3" d="M70.6 106.7 72.1 106 70.9 105.6 69.4 106.3z"/>
<path class="j7" d="M39.2 103 40.7 103.4 39.6 102.6 38 102.2z"/>
<path class="j3" d="M61 107.2 62.5 106.5 61.4 105.6 59.9 106.3z"/>
<path class="j3" d="M51.5 106.9 53 106.6 51.8 105.6 50.3 106.3z"/>
<path class="j5" d="M73.3 105.1 74.8 104.1 73.6 105.2 72.1 106z"/>
<path class="j6" d="M41.9 104.1 43.4 104.4 42.2 103.7 40.7 103.4z"/>
<path class="j3" d="M63.7 107.5 65.2 106.7 64 105.8 62.5 106.5z"/>
<path class="j3" d="M54.1 107.5 55.7 106.8 54.5 105.9 53 106.6z"/>
<path class="j8" d="M75.9 102.7 77.5 101.6 76.3 103.1 74.8 104.1z"/>
<path class="j5" d="M44.6 105.1 46.1 105.4 44.9 104.8 43.4 104.4z"/>
<path class="j3" d="M66.4 107.7 67.9 107 66.7 106 65.2 106.7z"/>
<path class="j3" d="M56.8 107.7 58.3 107 57.2 106.1 55.7 106.8z"/>
<path class="j12" d="M78.6 99.8 80.1 98.5 79 100.4 77.5 101.6z"/>
<path class="j4" d="M47.3 106 48.8 106.3 47.6 105.7 46.1 105.4z"/>
<path class="j3" d="M69.1 107.3 70.6 106.7 69.4 106.3 67.9 107z"/>
<path class="j3" d="M59.5 107.9 61 107.2 59.9 106.3 58.3 107z"/>
<path class="j4" d="M49.9 106.8 51.5 106.9 50.3 106.3 48.8 106.3z"/>
<path class="j5" d="M71.8 105.9 73.3 105.1 72.1 106 70.6 106.7z"/>
<path class="j8" d="M40.4 103.7 41.9 104.1 40.7 103.4 39.2 103z"/>
<path class="j3" d="M62.2 108.2 63.7 107.5 62.5 106.5 61 107.2z"/>
<path class="j3" d="M52.6 107.4 54.1 107.5 53 106.6 51.5 106.9z"/>
<path class="j8" d="M74.4 103.7 75.9 102.7 74.8 104.1 73.3 105.1z"/>
<path class="j7" d="M43.1 104.8 44.6 105.1 43.4 104.4 41.9 104.1z"/>
<path class="j3" d="M64.9 108.2 66.4 107.7 65.2 106.7 63.7 107.5z"/>
<path class="j3" d="M55.3 107.8 56.8 107.7 55.7 106.8 54.1 107.5z"/>
<path class="j11" d="M77.1 101.1 78.6 99.8 77.5 101.6 75.9 102.7z"/>
<path class="j6" d="M45.8 105.8 47.3 106 46.1 105.4 44.6 105.1z"/>
<path class="j4" d="M67.6 107.7 69.1 107.3 67.9 107 66.4 107.7z"/>
<path class="j3" d="M58 108.1 59.5 107.9 58.3 107 56.8 107.7z"/>
<path class="j5" d="M48.4 106.6 49.9 106.8 48.8 106.3 47.3 106z"/>
<path class="j5" d="M70.2 106.5 71.8 105.9 70.6 106.7 69.1 107.3z"/>
<path class="j3" d="M60.7 108.3 62.2 108.2 61 107.2 59.5 107.9z"/>
<path class="j4" d="M51.1 107.2 52.6 107.4 51.5 106.9 49.9 106.8z"/>
<path class="j7" d="M72.9 104.7 74.4 103.7 73.3 105.1 71.8 105.9z"/>
<path class="j8" d="M41.6 104.5 43.1 104.8 41.9 104.1 40.4 103.7z"/>
<path class="j3" d="M63.4 108.3 64.9 108.2 63.7 107.5 62.2 108.2z"/>
<path class="j4" d="M53.8 107.7 55.3 107.8 54.1 107.5 52.6 107.4z"/>
<path class="j10" d="M75.6 102.3 77.1 101.1 75.9 102.7 74.4 103.7z"/>
<path class="j7" d="M44.2 105.5 45.8 105.8 44.6 105.1 43.1 104.8z"/>
<path class="j4" d="M66 108 67.6 107.7 66.4 107.7 64.9 108.2z"/>
<path class="j4" d="M56.5 108.1 58 108.1 56.8 107.7 55.3 107.8z"/>
<path class="j6" d="M46.9 106.4 48.4 106.6 47.3 106 45.8 105.8z"/>
<path class="j5" d="M68.7 107 70.2 106.5 69.1 107.3 67.6 107.7z"/>
<path class="j4" d="M59.2 108.3 60.7 108.3 59.5 107.9 58 108.1z"/>
<path class="j5" d="M49.6 107.1 51.1 107.2 49.9 106.8 48.4 106.6z"/>
<path class="j7" d="M71.4 105.5 72.9 104.7 71.8 105.9 70.2 106.5z"/>
<path class="j4" d="M61.8 108.4 63.4 108.3 62.2 108.2 60.7 108.3z"/>
<path class="j5" d="M52.3 107.7 53.8 107.7 52.6 107.4 51.1 107.2z"/>
<path class="j10" d="M74.1 103.4 75.6 102.3 74.4 103.7 72.9 104.7z"/>
<path class="j8" d="M42.7 105.2 44.2 105.5 43.1 104.8 41.6 104.5z"/>
<path class="j4" d="M64.5 108.1 66 108 64.9 108.2 63.4 108.3z"/>
<path class="j5" d="M55 108.1 56.5 108.1 55.3 107.8 53.8 107.7z"/>
<path class="j7" d="M45.4 106.1 46.9 106.4 45.8 105.8 44.2 105.5z"/>
<path class="j5" d="M67.2 107.4 68.7 107 67.6 107.7 66 108z"/>
<path class="j5" d="M57.6 108.3 59.2 108.3 58 108.1 56.5 108.1z"/>
<path class="j6" d="M48.1 106.9 49.6 107.1 48.4 106.6 46.9 106.4z"/>
<path class="j7" d="M69.9 106.1 71.4 105.5 70.2 106.5 68.7 107z"/>
<path class="j5" d="M60.3 108.4 61.8 108.4 60.7 108.3 59.2 108.3z"/>
<path class="j6" d="M50.8 107.5 52.3 107.7 51.1 107.2 49.6 107.1z"/>
<path class="j10" d="M72.6 104.3 74.1 103.4 72.9 104.7 71.4 105.5z"/>
<path class="j5" d="M63 108.3 64.5 108.1 63.4 108.3 61.8 108.4z"/>
<path class="j6" d="M53.4 108 55 108.1 53.8 107.7 52.3 107.7z"/>
<path class="j8" d="M43.9 105.9 45.4 106.1 44.2 105.5 42.7 105.2z"/>
<path class="j6" d="M65.7 107.7 67.2 107.4 66 108 64.5 108.1z"/>
<path class="j6" d="M56.1 108.3 57.6 108.3 56.5 108.1 55 108.1z"/>
<path class="j8" d="M46.6 106.7 48.1 106.9 46.9 106.4 45.4 106.1z"/>
<path class="j7" d="M68.4 106.6 69.9 106.1 68.7 107 67.2 107.4z"/>
<path class="j6" d="M58.8 108.5 60.3 108.4 59.2 108.3 57.6 108.3z"/>
<path class="j7" d="M49.3 107.4 50.8 107.5 49.6 107.1 48.1 106.9z"/>
<path class="j10" d="M71.1 105 72.6 104.3 71.4 105.5 69.9 106.1z"/>
<path class="j6" d="M61.5 108.4 63 108.3 61.8 108.4 60.3 108.4z"/>
<path class="j7" d="M51.9 108 53.4 108 52.3 107.7 50.8 107.5z"/>
<path class="j7" d="M64.2 107.9 65.7 107.7 64.5 108.1 63 108.3z"/>
<path class="j6" d="M54.6 108.3 56.1 108.3 55 108.1 53.4 108z"/>
<path class="j9" d="M45.1 106.5 46.6 106.7 45.4 106.1 43.9 105.9z"/>
<path class="j8" d="M66.9 106.9 68.4 106.6 67.2 107.4 65.7 107.7z"/>
<path class="j6" d="M57.3 108.5 58.8 108.5 57.6 108.3 56.1 108.3z"/>
<path class="j8" d="M47.7 107.3 49.3 107.4 48.1 106.9 46.6 106.7z"/>
<path class="j10" d="M69.5 105.6 71.1 105 69.9 106.1 68.4 106.6z"/>
<path class="j7" d="M60 108.5 61.5 108.4 60.3 108.4 58.8 108.5z"/>
<path class="j8" d="M50.4 107.9 51.9 108 50.8 107.5 49.3 107.4z"/>
<path class="j7" d="M62.7 108.1 64.2 107.9 63 108.3 61.5 108.4z"/>
<path class="j7" d="M53.1 108.3 54.6 108.3 53.4 108 51.9 108z"/>
<path class="j8" d="M65.3 107.2 66.9 106.9 65.7 107.7 64.2 107.9z"/>
<path class="j7" d="M55.8 108.6 57.3 108.5 56.1 108.3 54.6 108.3z"/>
<path class="j9" d="M46.2 107.1 47.7 107.3 46.6 106.7 45.1 106.5z"/>
<path class="j10" d="M68 106.1 69.5 105.6 68.4 106.6 66.9 106.9z"/>
<path class="j7" d="M58.5 108.6 60 108.5 58.8 108.5 57.3 108.5z"/>
<path class="j9" d="M48.9 107.8 50.4 107.9 49.3 107.4 47.7 107.3z"/>
<path class="j8" d="M61.1 108.3 62.7 108.1 61.5 108.4 60 108.5z"/>
<path class="j8" d="M51.6 108.3 53.1 108.3 51.9 108 50.4 107.9z"/>
<path class="j9" d="M63.8 107.5 65.3 107.2 64.2 107.9 62.7 108.1z"/>
<path class="j8" d="M54.3 108.7 55.8 108.6 54.6 108.3 53.1 108.3z"/>
<path class="j10" d="M66.5 106.5 68 106.1 66.9 106.9 65.3 107.2z"/>
<path class="j8" d="M57 108.8 58.5 108.6 57.3 108.5 55.8 108.6z"/>
<path class="j10" d="M47.4 107.7 48.9 107.8 47.7 107.3 46.2 107.1z"/>
<path class="j9" d="M59.6 108.5 61.1 108.3 60 108.5 58.5 108.6z"/>
<path class="j9" d="M50.1 108.3 51.6 108.3 50.4 107.9 48.9 107.8z"/>
<path class="j10" d="M62.3 107.8 63.8 107.5 62.7 108.1 61.1 108.3z"/>
<path class="j9" d="M52.8 108.7 54.3 108.7 53.1 108.3 51.6 108.3z"/>
<path class="j11" d="M65 106.9 66.5 106.5 65.3 107.2 63.8 107.5z"/>
<path class="j9" d="M55.4 108.9 57 108.8 55.8 108.6 54.3 108.7z"/>
<path class="j9" d="M58.1 108.7 59.6 108.5 58.5 108.6 57 108.8z"/>
<path class="j10" d="M48.6 108.3 50.1 108.3 48.9 107.8 47.4 107.7z"/>
<path class="j10" d="M60.8 108.2 62.3 107.8 61.1 108.3 59.6 108.5z"/>
<path class="j10" d="M51.2 108.7 52.8 108.7 51.6 108.3 50.1 108.3z"/>
<path class="j11" d="M63.5 107.3 65 106.9 63.8 107.5 62.3 107.8z"/>
<path class="j10" d="M53.9 109 55.4 108.9 54.3 108.7 52.8 108.7z"/>
<path class="j10" d="M56.6 108.9 58.1 108.7 57 108.8 55.4 108.9z"/>
<path class="j11" d="M59.3 108.5 60.8 108.2 59.6 108.5 58.1 108.7z"/>
<path class="j11" d="M49.7 108.7 51.2 108.7 50.1 108.3 48.6 108.3z"/>
<path class="j12" d="M62 107.8 63.5 107.3 62.3 107.8 60.8 108.2z"/>
<path class="j10" d="M52.4 109.1 53.9 109 52.8 108.7 51.2 108.7z"/>
<path class="j11" d="M55.1 109.1 56.6 108.9 55.4 108.9 53.9 109z"/>
<path class="j11" d="M57.8 108.8 59.3 108.5 58.1 108.7 56.6 108.9z"/>
<path class="j12" d="M60.5 108.3 62 107.8 60.8 108.2 59.3 108.5z"/>
<path class="j11" d="M50.9 109.1 52.4 109.1 51.2 108.7 49.7 108.7z"/>
<path class="j11" d="M53.6 109.3 55.1 109.1 53.9 109 52.4 109.1z"/>
<path class="j12" d="M56.3 109.2 57.8 108.8 56.6 108.9 55.1 109.1z"/>
<path class="j12" d="M58.9 108.7 60.5 108.3 59.3 108.5 57.8 108.8z"/>
<path class="j12" d="M52.1 109.5 53.6 109.3 52.4 109.1 50.9 109.1z"/>
<path class="j12" d="M54.7 109.5 56.3 109.2 55.1 109.1 53.6 109.3z"/>
<path class="j13" d="M57.4 109.1 58.9 108.7 57.8 108.8 56.3 109.2z"/>
<path class="j13" d="M53.2 109.8 54.7 109.5 53.6 109.3 52.1 109.5z"/>
<path class="j13" d="M55.9 109.6 57.4 109.1 56.3 109.2 54.7 109.5z"/>
<path class="j14" d="M54.4 110 55.9 109.6 54.7 109.5 53.2 109.8z"/>
</g>
<linearGradient id="cg" x1="0" y1="0" x2="0" y2="1"><stop offset="0" stop-color="#30e0f0"/><stop offset="1" stop-color="#2a60f0"/></linearGradient>
<path d="M50.2 107.3Q53.8 105.6 54.6 100.6Q55.8 105.4 61.4 107.3Z" fill="url(#cg)" opacity="0.85"/>
<line x1="21.70" y1="36.40" x2="64.10" y2="16.60" stroke="#3c3c3c" stroke-width="0.6"/>
<line x1="64.10" y1="16.60" x2="96.80" y2="42.60" stroke="#3c3c3c" stroke-width="0.6"/>
<line x1="96.80" y1="42.60" x2="54.40" y2="62.40" stroke="#3c3c3c" stroke-width="0.6"/>
<line x1="54.40" y1="62.40" x2="21.70" y2="36.40" stroke="#3c3c3c" stroke-width="0.6"/>
<line x1="21.70" y1="95.00" x2="21.70" y2="36.40" stroke="#3c3c3c" stroke-width="0.6"/>
<line x1="54.40" y1="121.00" x2="54.40" y2="62.40" stroke="#3c3c3c" stroke-width="0.6"/>
<line x1="96.80" y1="101.20" x2="96.80" y2="42.60" stroke="#3c3c3c" stroke-width="0.6"/>
<line x1="54.40" y1="121.00" x2="21.70" y2="95.00" stroke="#3c3c3c" stroke-width="0.6"/>
<line x1="54.40" y1="121.00" x2="96.80" y2="101.20" stroke="#3c3c3c" stroke-width="0.6"/>
<line x1="21.70" y1="95.00" x2="22.70" y2="95.40" stroke="#3c3c3c" stroke-width="0.5"/>
<text transform="matrix(0.85 0 0 1 19.4 95.6)" font-size="7.7" text-anchor="end">0</text>
<line x1="21.70" y1="80.35" x2="22.70" y2="80.75" stroke="#3c3c3c" stroke-width="0.5"/>
<text transform="matrix(0.85 0 0 1 19.4 80.9)" font-size="7.7" text-anchor="end">2</text>
<line x1="21.70" y1="65.70" x2="22.70" y2="66.10" stroke="#3c3c3c" stroke-width="0.5"/>
<text transform="matrix(0.85 0 0 1 19.4 66.3)" font-size="7.7" text-anchor="end">4</text>
<line x1="21.70" y1="51.05" x2="22.70" y2="51.45" stroke="#3c3c3c" stroke-width="0.5"/>
<text transform="matrix(0.85 0 0 1 19.4 51.6)" font-size="7.7" text-anchor="end">6</text>
<line x1="21.70" y1="36.40" x2="22.70" y2="36.80" stroke="#3c3c3c" stroke-width="0.5"/>
<text transform="matrix(0.85 0 0 1 19.4 37.0)" font-size="7.7" text-anchor="end">8</text>
<text transform="matrix(0.85 0 0 1 15.0 102.2)" font-size="7.7" text-anchor="middle">100</text>
<text transform="matrix(0.85 0 0 1 31.0 115.6)" font-size="7.7" text-anchor="middle">50</text>
<text transform="matrix(0.85 0 0 1 49.6 129.0)" font-size="7.7" text-anchor="middle">0</text>
<text transform="matrix(0.85 0 0 1 58.6 130.2)" font-size="7.7" text-anchor="middle">0</text>
<text transform="matrix(0.85 0 0 1 81.0 119.8)" font-size="7.7" text-anchor="middle">50</text>
<text transform="matrix(0.85 0 0 1 104.2 109.4)" font-size="7.7" text-anchor="middle">100</text>
<text x="59.4" y="10.8" font-size="6.5" text-anchor="middle" font-weight="bold">F10</text>
<text transform="matrix(0.85 0 0 1 22.4 22.0)" font-size="7.7">x 10<tspan dy="-3.6" font-size="4.2">5</tspan></text>
<line x1="132.00" y1="121.30" x2="132.00" y2="120.20" stroke="#3c3c3c" stroke-width="0.5"/>
<line x1="132.00" y1="15.60" x2="132.00" y2="16.70" stroke="#3c3c3c" stroke-width="0.5"/>
<text transform="matrix(0.85 0 0 1 132.0 131.0)" font-size="7.7" text-anchor="middle">&#8722;100</text>
<line x1="150.85" y1="121.30" x2="150.85" y2="120.20" stroke="#3c3c3c" stroke-width="0.5"/>
<line x1="150.85" y1="15.60" x2="150.85" y2="16.70" stroke="#3c3c3c" stroke-width="0.5"/>
<text transform="matrix(0.85 0 0 1 150.8 131.0)" font-size="7.7" text-anchor="middle">&#8722;50</text>
<line x1="169.70" y1="121.30" x2="169.70" y2="120.20" stroke="#3c3c3c" stroke-width="0.5"/>
<line x1="169.70" y1="15.60" x2="169.70" y2="16.70" stroke="#3c3c3c" stroke-width="0.5"/>
<text transform="matrix(0.85 0 0 1 169.7 131.0)" font-size="7.7" text-anchor="middle">0</text>
<line x1="188.55" y1="121.30" x2="188.55" y2="120.20" stroke="#3c3c3c" stroke-width="0.5"/>
<line x1="188.55" y1="15.60" x2="188.55" y2="16.70" stroke="#3c3c3c" stroke-width="0.5"/>
<text transform="matrix(0.85 0 0 1 188.6 131.0)" font-size="7.7" text-anchor="middle">50</text>
<line x1="132.00" y1="121.30" x2="133.10" y2="121.30" stroke="#3c3c3c" stroke-width="0.5"/>
<line x1="207.40" y1="121.30" x2="206.30" y2="121.30" stroke="#3c3c3c" stroke-width="0.5"/>
<text transform="matrix(0.85 0 0 1 130.1 124.3)" font-size="7.7" text-anchor="end">&#8722;100</text>
<line x1="132.00" y1="94.88" x2="133.10" y2="94.88" stroke="#3c3c3c" stroke-width="0.5"/>
<line x1="207.40" y1="94.88" x2="206.30" y2="94.88" stroke="#3c3c3c" stroke-width="0.5"/>
<text transform="matrix(0.85 0 0 1 130.1 97.9)" font-size="7.7" text-anchor="end">&#8722;50</text>
<line x1="132.00" y1="68.45" x2="133.10" y2="68.45" stroke="#3c3c3c" stroke-width="0.5"/>
<line x1="207.40" y1="68.45" x2="206.30" y2="68.45" stroke="#3c3c3c" stroke-width="0.5"/>
<text transform="matrix(0.85 0 0 1 130.1 71.4)" font-size="7.7" text-anchor="end">0</text>
<line x1="132.00" y1="42.02" x2="133.10" y2="42.02" stroke="#3c3c3c" stroke-width="0.5"/>
<line x1="207.40" y1="42.02" x2="206.30" y2="42.02" stroke="#3c3c3c" stroke-width="0.5"/>
<text transform="matrix(0.85 0 0 1 130.1 45.0)" font-size="7.7" text-anchor="end">50</text>
<rect x="132.00" y="15.60" width="75.40" height="105.70" fill="none" stroke="#3c3c3c" stroke-width="0.8"/>
<text x="169.7" y="10.6" font-size="6.5" text-anchor="middle" font-weight="bold">Search history</text>
<line x1="257.12" y1="121.30" x2="257.12" y2="120.20" stroke="#3c3c3c" stroke-width="0.5"/>
<line x1="257.12" y1="15.60" x2="257.12" y2="16.70" stroke="#3c3c3c" stroke-width="0.5"/>
<text transform="matrix(0.85 0 0 1 257.1 131.0)" font-size="7.7" text-anchor="middle">20</text>
<line x1="272.19" y1="121.30" x2="272.19" y2="120.20" stroke="#3c3c3c" stroke-width="0.5"/>
<line x1="272.19" y1="15.60" x2="272.19" y2="16.70" stroke="#3c3c3c" stroke-width="0.5"/>
<text transform="matrix(0.85 0 0 1 272.2 131.0)" font-size="7.7" text-anchor="middle">40</text>
<line x1="287.26" y1="121.30" x2="287.26" y2="120.20" stroke="#3c3c3c" stroke-width="0.5"/>
<line x1="287.26" y1="15.60" x2="287.26" y2="16.70" stroke="#3c3c3c" stroke-width="0.5"/>
<text transform="matrix(0.85 0 0 1 287.3 131.0)" font-size="7.7" text-anchor="middle">60</text>
<line x1="302.33" y1="121.30" x2="302.33" y2="120.20" stroke="#3c3c3c" stroke-width="0.5"/>
<line x1="302.33" y1="15.60" x2="302.33" y2="16.70" stroke="#3c3c3c" stroke-width="0.5"/>
<text transform="matrix(0.85 0 0 1 302.3 131.0)" font-size="7.7" text-anchor="middle">80</text>
<line x1="317.40" y1="121.30" x2="317.40" y2="120.20" stroke="#3c3c3c" stroke-width="0.5"/>
<line x1="317.40" y1="15.60" x2="317.40" y2="16.70" stroke="#3c3c3c" stroke-width="0.5"/>
<text transform="matrix(0.85 0 0 1 317.4 131.0)" font-size="7.7" text-anchor="middle">100</text>
<line x1="242.80" y1="121.30" x2="243.90" y2="121.30" stroke="#3c3c3c" stroke-width="0.5"/>
<line x1="317.40" y1="121.30" x2="316.30" y2="121.30" stroke="#3c3c3c" stroke-width="0.5"/>
<text transform="matrix(0.85 0 0 1 240.9 124.3)" font-size="7.7" text-anchor="end">2000</text>
<line x1="242.80" y1="103.54" x2="243.90" y2="103.54" stroke="#3c3c3c" stroke-width="0.5"/>
<line x1="317.40" y1="103.54" x2="316.30" y2="103.54" stroke="#3c3c3c" stroke-width="0.5"/>
<text transform="matrix(0.85 0 0 1 240.9 106.5)" font-size="7.7" text-anchor="end">4000</text>
<line x1="242.80" y1="85.77" x2="243.90" y2="85.77" stroke="#3c3c3c" stroke-width="0.5"/>
<line x1="317.40" y1="85.77" x2="316.30" y2="85.77" stroke="#3c3c3c" stroke-width="0.5"/>
<text transform="matrix(0.85 0 0 1 240.9 88.8)" font-size="7.7" text-anchor="end">6000</text>
<line x1="242.80" y1="68.01" x2="243.90" y2="68.01" stroke="#3c3c3c" stroke-width="0.5"/>
<line x1="317.40" y1="68.01" x2="316.30" y2="68.01" stroke="#3c3c3c" stroke-width="0.5"/>
<text transform="matrix(0.85 0 0 1 240.9 71.0)" font-size="7.7" text-anchor="end">8000</text>
<line x1="242.80" y1="50.24" x2="243.90" y2="50.24" stroke="#3c3c3c" stroke-width="0.5"/>
<line x1="317.40" y1="50.24" x2="316.30" y2="50.24" stroke="#3c3c3c" stroke-width="0.5"/>
<text transform="matrix(0.85 0 0 1 240.9 53.2)" font-size="7.7" text-anchor="end">10000</text>
<line x1="242.80" y1="32.48" x2="243.90" y2="32.48" stroke="#3c3c3c" stroke-width="0.5"/>
<line x1="317.40" y1="32.48" x2="316.30" y2="32.48" stroke="#3c3c3c" stroke-width="0.5"/>
<text transform="matrix(0.85 0 0 1 240.9 35.5)" font-size="7.7" text-anchor="end">12000</text>
<rect x="242.80" y="15.60" width="74.60" height="105.70" fill="none" stroke="#3c3c3c" stroke-width="0.8"/>
<text x="280.1" y="10.6" font-size="6.5" text-anchor="middle" font-weight="bold">Average fitness history</text>
<line x1="353.20" y1="121.30" x2="353.20" y2="120.20" stroke="#3c3c3c" stroke-width="0.5"/>
<line x1="353.20" y1="15.60" x2="353.20" y2="16.70" stroke="#3c3c3c" stroke-width="0.5"/>
<text transform="matrix(0.85 0 0 1 353.2 131.0)" font-size="7.7" text-anchor="middle">0</text>
<line x1="390.50" y1="121.30" x2="390.50" y2="120.20" stroke="#3c3c3c" stroke-width="0.5"/>
<line x1="390.50" y1="15.60" x2="390.50" y2="16.70" stroke="#3c3c3c" stroke-width="0.5"/>
<text transform="matrix(0.85 0 0 1 390.5 131.0)" font-size="7.7" text-anchor="middle">50</text>
<line x1="427.80" y1="121.30" x2="427.80" y2="120.20" stroke="#3c3c3c" stroke-width="0.5"/>
<line x1="427.80" y1="15.60" x2="427.80" y2="16.70" stroke="#3c3c3c" stroke-width="0.5"/>
<text transform="matrix(0.85 0 0 1 427.8 131.0)" font-size="7.7" text-anchor="middle">100</text>
<line x1="353.20" y1="106.72" x2="354.30" y2="106.72" stroke="#3c3c3c" stroke-width="0.5"/>
<line x1="427.80" y1="106.72" x2="426.70" y2="106.72" stroke="#3c3c3c" stroke-width="0.5"/>
<text transform="matrix(0.85 0 0 1 352.0 108.8)" font-size="7.7" text-anchor="end">10<tspan dx="0.3" dy="-3.9" font-size="4.9">3.5</tspan></text>
<line x1="353.20" y1="61.16" x2="354.30" y2="61.16" stroke="#3c3c3c" stroke-width="0.5"/>
<line x1="427.80" y1="61.16" x2="426.70" y2="61.16" stroke="#3c3c3c" stroke-width="0.5"/>
<text transform="matrix(0.85 0 0 1 352.0 64.2)" font-size="7.7" text-anchor="end">10<tspan dx="0.3" dy="-3.9" font-size="4.9">3.6</tspan></text>
<line x1="353.20" y1="15.60" x2="354.30" y2="15.60" stroke="#3c3c3c" stroke-width="0.5"/>
<line x1="427.80" y1="15.60" x2="426.70" y2="15.60" stroke="#3c3c3c" stroke-width="0.5"/>
<text transform="matrix(0.85 0 0 1 352.0 19.3)" font-size="7.7" text-anchor="end">10<tspan dx="0.3" dy="-3.9" font-size="4.9">3.7</tspan></text>
<rect x="353.20" y="15.60" width="74.60" height="105.70" fill="none" stroke="#3c3c3c" stroke-width="0.8"/>
<text x="390.5" y="10.6" font-size="6.5" text-anchor="middle" font-weight="bold">Optimization history</text>
<line x1="463.30" y1="121.30" x2="463.30" y2="120.20" stroke="#3c3c3c" stroke-width="0.5"/>
<line x1="463.30" y1="15.60" x2="463.30" y2="16.70" stroke="#3c3c3c" stroke-width="0.5"/>
<text transform="matrix(0.85 0 0 1 463.3 131.0)" font-size="7.7" text-anchor="middle">0</text>
<line x1="500.75" y1="121.30" x2="500.75" y2="120.20" stroke="#3c3c3c" stroke-width="0.5"/>
<line x1="500.75" y1="15.60" x2="500.75" y2="16.70" stroke="#3c3c3c" stroke-width="0.5"/>
<text transform="matrix(0.85 0 0 1 500.8 131.0)" font-size="7.7" text-anchor="middle">50</text>
<line x1="538.20" y1="121.30" x2="538.20" y2="120.20" stroke="#3c3c3c" stroke-width="0.5"/>
<line x1="538.20" y1="15.60" x2="538.20" y2="16.70" stroke="#3c3c3c" stroke-width="0.5"/>
<text transform="matrix(0.85 0 0 1 538.2 131.0)" font-size="7.7" text-anchor="middle">100</text>
<line x1="463.30" y1="121.30" x2="464.40" y2="121.30" stroke="#3c3c3c" stroke-width="0.5"/>
<line x1="538.20" y1="121.30" x2="537.10" y2="121.30" stroke="#3c3c3c" stroke-width="0.5"/>
<text transform="matrix(0.85 0 0 1 461.4 124.3)" font-size="7.7" text-anchor="end">0.03</text>
<line x1="463.30" y1="100.16" x2="464.40" y2="100.16" stroke="#3c3c3c" stroke-width="0.5"/>
<line x1="538.20" y1="100.16" x2="537.10" y2="100.16" stroke="#3c3c3c" stroke-width="0.5"/>
<text transform="matrix(0.85 0 0 1 461.4 103.2)" font-size="7.7" text-anchor="end">0.04</text>
<line x1="463.30" y1="79.02" x2="464.40" y2="79.02" stroke="#3c3c3c" stroke-width="0.5"/>
<line x1="538.20" y1="79.02" x2="537.10" y2="79.02" stroke="#3c3c3c" stroke-width="0.5"/>
<text transform="matrix(0.85 0 0 1 461.4 82.0)" font-size="7.7" text-anchor="end">0.05</text>
<line x1="463.30" y1="57.88" x2="464.40" y2="57.88" stroke="#3c3c3c" stroke-width="0.5"/>
<line x1="538.20" y1="57.88" x2="537.10" y2="57.88" stroke="#3c3c3c" stroke-width="0.5"/>
<text transform="matrix(0.85 0 0 1 461.4 60.9)" font-size="7.7" text-anchor="end">0.06</text>
<line x1="463.30" y1="36.74" x2="464.40" y2="36.74" stroke="#3c3c3c" stroke-width="0.5"/>
<line x1="538.20" y1="36.74" x2="537.10" y2="36.74" stroke="#3c3c3c" stroke-width="0.5"/>
<text transform="matrix(0.85 0 0 1 461.4 39.7)" font-size="7.7" text-anchor="end">0.07</text>
<line x1="463.30" y1="15.60" x2="464.40" y2="15.60" stroke="#3c3c3c" stroke-width="0.5"/>
<line x1="538.20" y1="15.60" x2="537.10" y2="15.60" stroke="#3c3c3c" stroke-width="0.5"/>
<text transform="matrix(0.85 0 0 1 461.4 18.6)" font-size="7.7" text-anchor="end">0.08</text>
<rect x="463.30" y="15.60" width="74.90" height="105.70" fill="none" stroke="#3c3c3c" stroke-width="0.8"/>
<text x="500.8" y="10.6" font-size="6.5" text-anchor="middle" font-weight="bold">Diversity</text>
</g>
</svg>
</body></html>
